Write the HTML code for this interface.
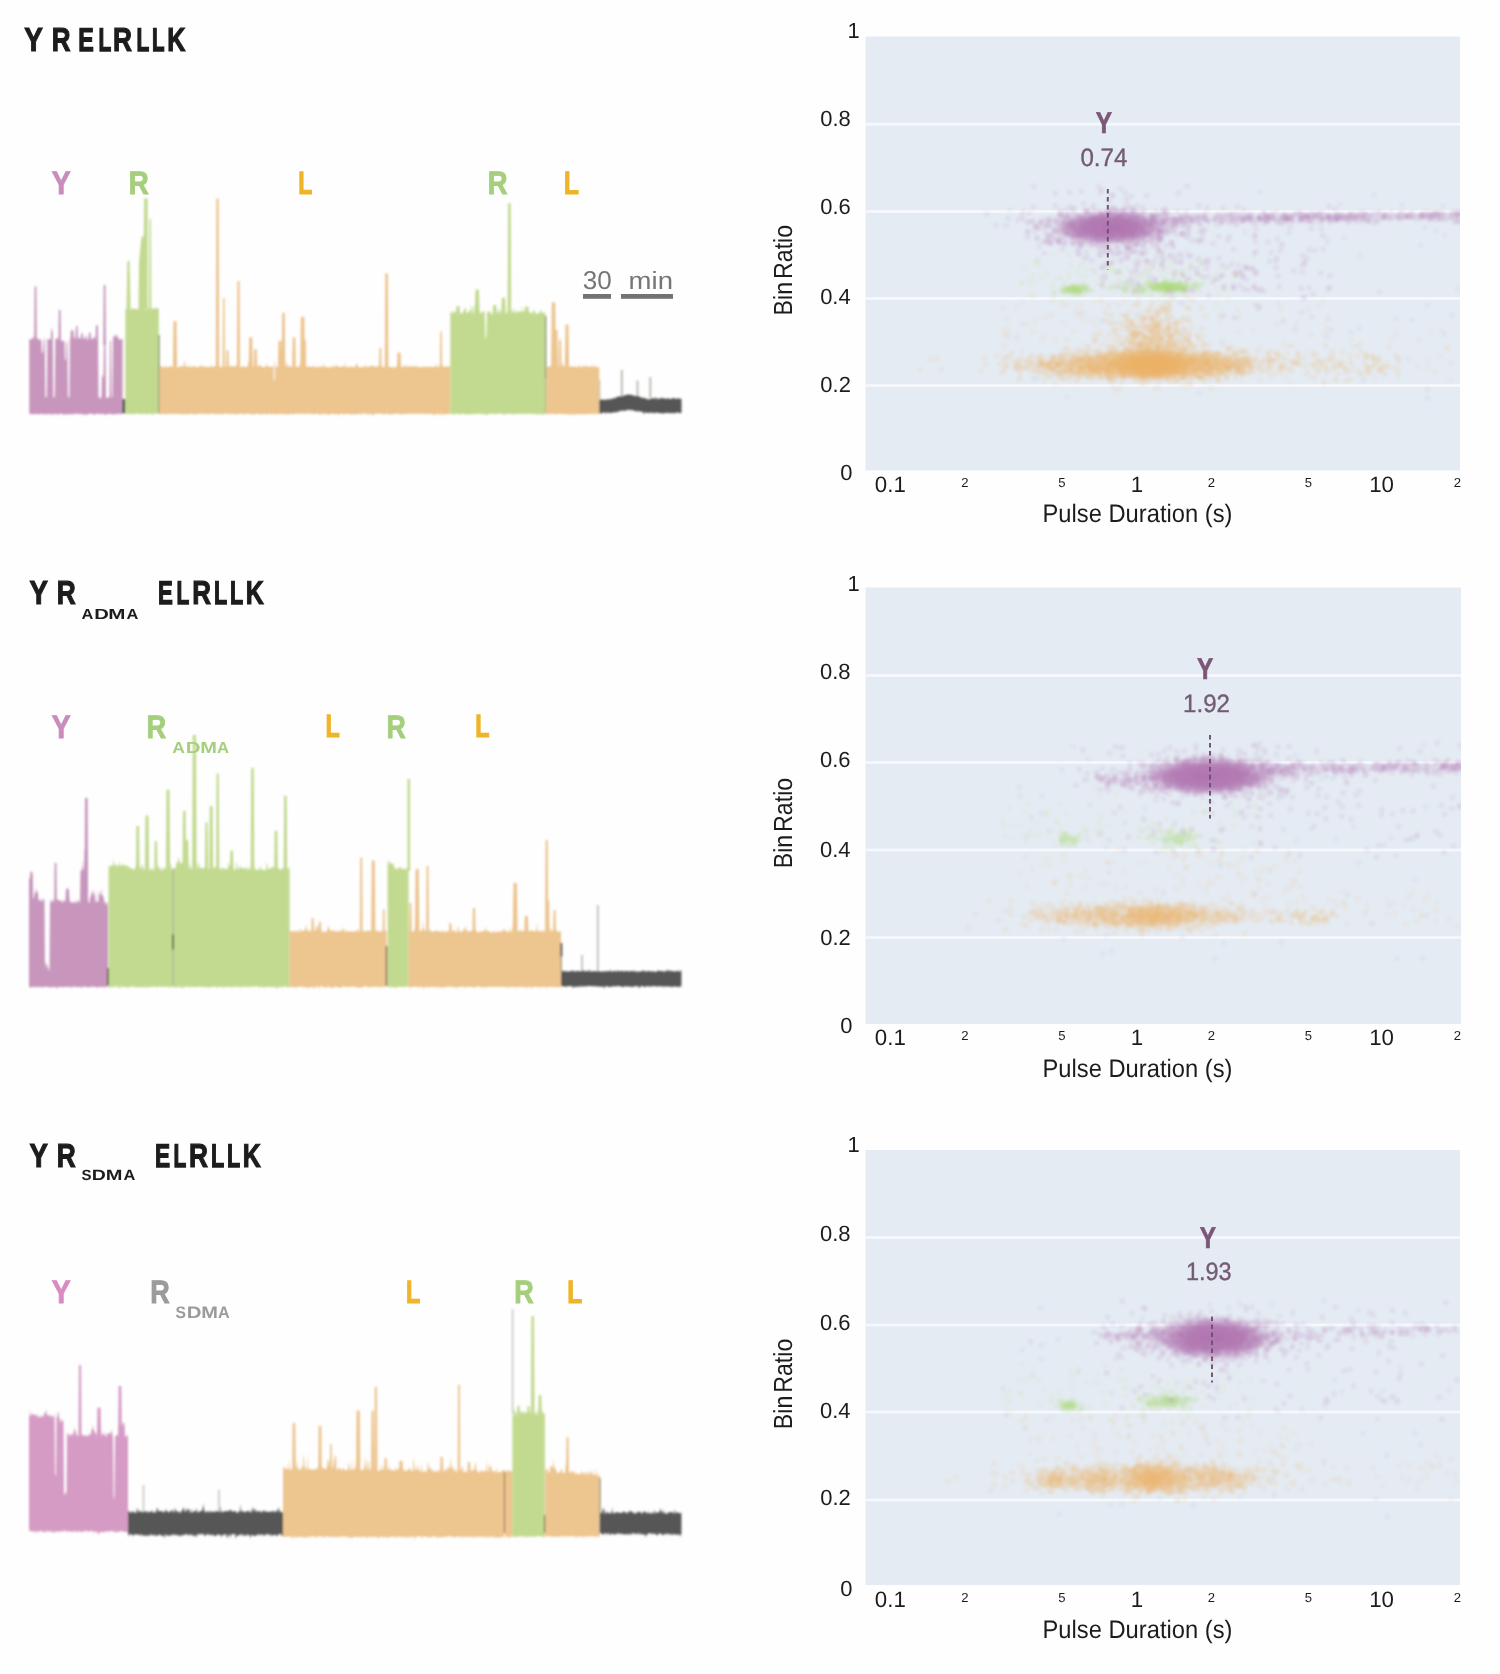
<!DOCTYPE html>
<html lang="en"><head><meta charset="utf-8"><title>Figure</title>
<style>html,body{margin:0;padding:0;background:#fefefe;}body{width:1500px;height:1674px;overflow:hidden;font-family:"Liberation Sans",sans-serif;}svg{display:block}svg text{opacity:.999}</style>
</head><body>
<svg width="1500" height="1674" viewBox="0 0 1500 1674" text-rendering="geometricPrecision" font-family="'Liberation Sans', sans-serif">
<rect width="1500" height="1674" fill="#fefefe"/>
<defs><filter id="blur" x="-2%" y="-2%" width="104%" height="104%"><feGaussianBlur stdDeviation="0.8"/></filter><filter id="soft" filterUnits="userSpaceOnUse" x="0" y="0" width="760" height="1674"><feGaussianBlur stdDeviation="0.8"/></filter></defs>
<g id="titles">
<text transform="matrix(0.2793 0 0 0.3332 24.37 51.46)" font-size="100" fill="#1c1c1c" font-weight="700" stroke="#1c1c1c" stroke-width="3.22" stroke-linejoin="miter">Y</text>
<text transform="matrix(0.2599 0 0 0.3321 51.71 51.43)" font-size="100" fill="#1c1c1c" font-weight="700" stroke="#1c1c1c" stroke-width="3.46" stroke-linejoin="miter">R</text>
<text transform="matrix(0.2335 0 0 0.3303 78.29 51.36)" font-size="100" fill="#1c1c1c" font-weight="700" stroke="#1c1c1c" stroke-width="3.85" stroke-linejoin="miter">E</text>
<text transform="matrix(0.2085 0 0 0.3282 98.46 51.29)" font-size="100" fill="#1c1c1c" font-weight="700" stroke="#1c1c1c" stroke-width="4.32" stroke-linejoin="miter">L</text>
<text transform="matrix(0.2631 0 0 0.3323 113.09 51.43)" font-size="100" fill="#1c1c1c" font-weight="700" stroke="#1c1c1c" stroke-width="3.42" stroke-linejoin="miter">R</text>
<text transform="matrix(0.2085 0 0 0.3282 136.46 51.29)" font-size="100" fill="#1c1c1c" font-weight="700" stroke="#1c1c1c" stroke-width="4.32" stroke-linejoin="miter">L</text>
<text transform="matrix(0.2046 0 0 0.3279 152.08 51.28)" font-size="100" fill="#1c1c1c" font-weight="700" stroke="#1c1c1c" stroke-width="4.40" stroke-linejoin="miter">L</text>
<text transform="matrix(0.2523 0 0 0.3316 167.16 51.41)" font-size="100" fill="#1c1c1c" font-weight="700" stroke="#1c1c1c" stroke-width="3.57" stroke-linejoin="miter">K</text>
<text transform="matrix(0.2761 0 0 0.3331 29.58 604.46)" font-size="100" fill="#1c1c1c" font-weight="700" stroke="#1c1c1c" stroke-width="3.26" stroke-linejoin="miter">Y</text>
<text transform="matrix(0.2631 0 0 0.3323 56.69 604.43)" font-size="100" fill="#1c1c1c" font-weight="700" stroke="#1c1c1c" stroke-width="3.42" stroke-linejoin="miter">R</text>
<text transform="matrix(0.2228 0 0 0.3295 157.96 604.33)" font-size="100" fill="#1c1c1c" font-weight="700" stroke="#1c1c1c" stroke-width="4.04" stroke-linejoin="miter">E</text>
<text transform="matrix(0.2085 0 0 0.3282 176.46 604.29)" font-size="100" fill="#1c1c1c" font-weight="700" stroke="#1c1c1c" stroke-width="4.32" stroke-linejoin="miter">L</text>
<text transform="matrix(0.2599 0 0 0.3321 192.31 604.43)" font-size="100" fill="#1c1c1c" font-weight="700" stroke="#1c1c1c" stroke-width="3.46" stroke-linejoin="miter">R</text>
<text transform="matrix(0.2163 0 0 0.3289 214.00 604.32)" font-size="100" fill="#1c1c1c" font-weight="700" stroke="#1c1c1c" stroke-width="4.16" stroke-linejoin="miter">L</text>
<text transform="matrix(0.2163 0 0 0.3289 230.00 604.32)" font-size="100" fill="#1c1c1c" font-weight="700" stroke="#1c1c1c" stroke-width="4.16" stroke-linejoin="miter">L</text>
<text transform="matrix(0.2492 0 0 0.3314 245.78 604.40)" font-size="100" fill="#1c1c1c" font-weight="700" stroke="#1c1c1c" stroke-width="3.61" stroke-linejoin="miter">K</text>
<text transform="matrix(0.1640 0 0 0.1453 81.59 619.00)" font-size="100" fill="#1c1c1c" font-weight="700">A</text>
<text transform="matrix(0.2022 0 0 0.1453 94.25 619.00)" font-size="100" fill="#1c1c1c" font-weight="700">D</text>
<text transform="matrix(0.2059 0 0 0.1453 108.22 619.00)" font-size="100" fill="#1c1c1c" font-weight="700">M</text>
<text transform="matrix(0.1640 0 0 0.1453 126.59 619.00)" font-size="100" fill="#1c1c1c" font-weight="700">A</text>
<text transform="matrix(0.2761 0 0 0.3331 29.58 1167.46)" font-size="100" fill="#1c1c1c" font-weight="700" stroke="#1c1c1c" stroke-width="3.26" stroke-linejoin="miter">Y</text>
<text transform="matrix(0.2631 0 0 0.3323 56.69 1167.43)" font-size="100" fill="#1c1c1c" font-weight="700" stroke="#1c1c1c" stroke-width="3.42" stroke-linejoin="miter">R</text>
<text transform="matrix(0.2264 0 0 0.3298 154.94 1167.34)" font-size="100" fill="#1c1c1c" font-weight="700" stroke="#1c1c1c" stroke-width="3.98" stroke-linejoin="miter">E</text>
<text transform="matrix(0.2085 0 0 0.3282 173.46 1167.29)" font-size="100" fill="#1c1c1c" font-weight="700" stroke="#1c1c1c" stroke-width="4.32" stroke-linejoin="miter">L</text>
<text transform="matrix(0.2631 0 0 0.3323 189.09 1167.43)" font-size="100" fill="#1c1c1c" font-weight="700" stroke="#1c1c1c" stroke-width="3.42" stroke-linejoin="miter">R</text>
<text transform="matrix(0.2163 0 0 0.3289 211.00 1167.32)" font-size="100" fill="#1c1c1c" font-weight="700" stroke="#1c1c1c" stroke-width="4.16" stroke-linejoin="miter">L</text>
<text transform="matrix(0.2163 0 0 0.3289 227.00 1167.32)" font-size="100" fill="#1c1c1c" font-weight="700" stroke="#1c1c1c" stroke-width="4.16" stroke-linejoin="miter">L</text>
<text transform="matrix(0.2492 0 0 0.3314 242.78 1167.40)" font-size="100" fill="#1c1c1c" font-weight="700" stroke="#1c1c1c" stroke-width="3.61" stroke-linejoin="miter">K</text>
<text transform="matrix(0.1502 0 0 0.1483 81.57 1180.00)" font-size="100" fill="#1c1c1c" font-weight="700">S</text>
<text transform="matrix(0.1957 0 0 0.1483 91.69 1180.00)" font-size="100" fill="#1c1c1c" font-weight="700">D</text>
<text transform="matrix(0.2002 0 0 0.1483 105.66 1180.00)" font-size="100" fill="#1c1c1c" font-weight="700">M</text>
<text transform="matrix(0.1640 0 0 0.1483 123.59 1180.00)" font-size="100" fill="#1c1c1c" font-weight="700">A</text>
</g>
<g id="trace1" filter="url(#soft)">
<path d="M29.2 414.2L29.2 337.9 29.7 339.7 30.2 338.9 30.7 339.3 31.2 339.6 31.7 339.9 32.2 336.7 32.7 338.8 33.2 338.2 33.7 336 34.2 337.6 34.7 340.1 35.2 338.1 35.7 337.6 36.2 338.7 36.7 338.2 37.2 338.1 37.7 338.8 38.2 339.9 38.7 339.3 39.2 340.3 39.7 337.9 40.2 339.5 40.7 340.1 41.3 339.8 41.8 351.9 42.3 353.5 42.8 352.4 43.3 351.1 43.8 339.8 44.3 338 44.8 339.5 45.3 397.1 45.8 397.4 46.3 397.5 46.8 396.4 47.3 337.6 47.8 340.3 48.3 338.6 48.8 338.9 49.3 339.7 49.8 339.9 50.3 339 50.8 339.1 51.3 329.8 51.8 327.3 52.3 331.2 52.8 331.5 53.3 398.3 53.8 397.6 54.3 396.2 54.8 397.6 55.3 338.9 55.8 338.5 56.3 339 56.8 339.2 57.3 337.6 57.8 338 58.3 339.9 58.8 339.8 59.3 338.2 59.8 337.1 60.3 342.5 60.8 342.1 61.3 340.3 61.8 341 62.3 340.5 62.8 340.5 63.3 342 63.8 340.9 64.4 340.1 64.9 360.2 65.4 359.3 65.9 360.4 66.4 341.7 66.9 342.5 67.4 340.4 67.9 396.5 68.4 397.9 68.9 396.6 69.4 398.3 69.9 340.6 70.4 338.6 70.9 329.9 71.4 329.2 71.9 331.7 72.4 329.9 72.9 329.9 73.4 331.1 73.9 338.9 74.4 336.1 74.9 339.8 75.4 339.1 75.9 326.9 76.4 326.5 76.9 325.6 77.4 325.1 77.9 338.7 78.4 337.8 78.9 338.3 79.4 338.4 79.9 336 80.4 338.1 80.9 340.3 81.4 332 81.9 332.9 82.4 333.6 82.9 333.5 83.4 338.9 83.9 338.2 84.4 337.8 84.9 340.1 85.4 336.1 85.9 336.4 86.4 335 86.9 339.9 87.4 340.2 88 337.9 88.5 339.6 89 331.2 89.5 333.2 90 332 90.5 333.2 91 339.1 91.5 337.7 92 340 92.5 340.1 93 338.3 93.5 336.4 94 337.1 94.5 337.8 95 337.6 95.5 340.3 96 324.8 96.5 325.2 97 324.8 97.5 325.6 98 327.1 98.5 396.7 99 396.3 99.5 398.4 100 398.8 100.5 397.7 101 397.2 101.5 398.6 102 373.2 102.5 375.6 103 377.8 103.5 376.9 104 338.2 104.5 338.4 105 337.7 105.5 340.3 106 397.8 106.5 398.7 107 396.9 107.5 396.9 108 398.5 108.5 397 109 397.6 109.5 397.5 110 339 110.5 341.1 111.1 341.2 111.6 396.8 112.1 397.4 112.6 396.5 113.1 333.5 113.6 337.2 114.1 336.7 114.6 336.8 115.1 334.8 115.6 337.1 116.1 337 116.6 333 117.1 335.4 117.6 336.8 118.1 336.9 118.6 339.5 119.1 338.7 119.6 339.5 120.1 338.9 120.6 340.2 121.1 339.1 121.6 339.9 122.1 338.6 122.6 338.9L122.6 414.4 122.1 413.8 121.6 413.6 121.1 413.7 120.6 414.4 120.1 413.5 119.6 414.3 119.1 414.8 118.6 413.4 118.1 413.3 117.6 414.3 117.1 413.5 116.6 414 116.1 414.7 115.6 414 115.1 413.4 114.6 414.5 114.1 414.6 113.6 414.7 113.1 414.4 112.6 414.3 112.1 414.2 111.6 414.5 111.1 413.9 110.5 413.4 110 414.1 109.5 413.8 109 414.6 108.5 413.6 108 414.7 107.5 413.8 107 414.5 106.5 414.3 106 415.1 105.5 413.7 105 414.5 104.5 415.5 104 413.9 103.5 413.8 103 414.2 102.5 413.3 102 413.5 101.5 414.5 101 414.6 100.5 413.8 100 414.5 99.5 413.4 99 414.6 98.5 413.8 98 413.6 97.5 413.9 97 413.6 96.5 413.8 96 413.9 95.5 414.3 95 414.5 94.5 414.2 94 414.4 93.5 415.4 93 414.1 92.5 413.6 92 414 91.5 413.4 91 414.3 90.5 413.6 90 413.8 89.5 413.5 89 414 88.5 414.1 88 414.6 87.4 414.7 86.9 414.2 86.4 414.4 85.9 413.9 85.4 414.2 84.9 416.5 84.4 414.6 83.9 413.8 83.4 414.4 82.9 414.1 82.4 414.2 81.9 414.4 81.4 414.2 80.9 414.3 80.4 413.8 79.9 414.5 79.4 413.7 78.9 413.6 78.4 414.1 77.9 413.9 77.4 414.6 76.9 413.3 76.4 413.8 75.9 414.3 75.4 413.4 74.9 414 74.4 413.5 73.9 414.5 73.4 413.7 72.9 414.1 72.4 414.4 71.9 414.4 71.4 414.2 70.9 413.9 70.4 414.2 69.9 414.3 69.4 414.3 68.9 414.3 68.4 414.5 67.9 413.9 67.4 415.1 66.9 414.2 66.4 413.7 65.9 414.3 65.4 414.5 64.9 414.7 64.4 414.5 63.8 414.1 63.3 414.8 62.8 414.2 62.3 414.3 61.8 413.9 61.3 413.9 60.8 413.3 60.3 413.8 59.8 413.7 59.3 414 58.8 414.7 58.3 414.7 57.8 414.3 57.3 414.4 56.8 413.7 56.3 414.1 55.8 414.5 55.3 414.1 54.8 414.4 54.3 414.3 53.8 414.1 53.3 414.1 52.8 413.6 52.3 414.1 51.8 415.6 51.3 415.4 50.8 413.7 50.3 413.9 49.8 413.5 49.3 414.6 48.8 413.8 48.3 413.9 47.8 413.8 47.3 414.6 46.8 414.3 46.3 414.5 45.8 413.5 45.3 414.6 44.8 414.2 44.3 414.7 43.8 414.3 43.3 414 42.8 414.3 42.3 413.4 41.8 414.1 41.3 413.7 40.7 414.1 40.2 414.6 39.7 414.1 39.2 414.3 38.7 414.5 38.2 413.7 37.7 414.4 37.2 414.5 36.7 413.4 36.2 414.2 35.7 414.6 35.2 414.1 34.7 413.6 34.2 414 33.7 414.3 33.2 413.9 32.7 414 32.2 415.2 31.7 413.9 31.2 414.5 30.7 413.5 30.2 413.8 29.7 414.1 29.2 414.2Z" fill="#c896bd"/>
<path d="M34.2 345L34.6 286.5L36.4 286.5L36.8 345ZM58.4 345L58.8 310L60.6 310L61 345ZM103.3 345L103.7 285L105.5 285L105.9 345Z" fill="#c896bd"/>
<rect x="122.4" y="399" width="3" height="14.3" fill="#4c4a48"/>
<path d="M125.3 413.6L125.3 309.5 125.9 309.3 126.5 309.3 127.1 309 127.7 308.9 128.3 308.9 129 308.6 129.6 309.1 130.2 309.5 130.8 308.7 131.4 309.3 132 308.7 132.6 308.5 133.2 308.8 133.8 308.8 134.4 308.5 135 308.8 135.7 309 136.3 309.4 136.9 309.1 137.5 309.2 138.1 308.5 138.7 309.5 139.3 309.1 139.9 308.7 140.5 308.7 141.1 308.7 141.7 308.5 142.4 309.4 143 308.8 143.6 309.1 144.2 308.3 144.8 309.1 145.4 309.4 146 309.4 146.6 309.5 147.2 308.7 147.8 309 148.4 308.4 149.1 308.8 149.7 307.8 150.3 309.3 150.9 309.4 151.5 307.5 152.1 309 152.7 308.3 153.3 308.1 153.9 309.3 154.5 308.3 155.1 308.6 155.8 308 156.4 308.2 157 308.1 157.6 308 158.2 308 158.8 309.2L158.8 413.9 158.2 413.6 157.6 413.5 157 413.8 156.4 413.5 155.8 413.6 155.1 413.9 154.5 413.4 153.9 414.4 153.3 413.5 152.7 415.5 152.1 413.7 151.5 414.5 150.9 413.8 150.3 413.5 149.7 414 149.1 413.5 148.4 414 147.8 414.3 147.2 414.5 146.6 414.2 146 414 145.4 413.7 144.8 413.6 144.2 413.7 143.6 413.5 143 414.7 142.4 413.9 141.7 414.3 141.1 414.1 140.5 413.7 139.9 413.7 139.3 414.5 138.7 414 138.1 413.5 137.5 413.4 136.9 413.6 136.3 413.4 135.7 414.1 135 414.6 134.4 414 133.8 414.1 133.2 414.4 132.6 413.5 132 414.2 131.4 414 130.8 414.4 130.2 414.5 129.6 414.3 129 413.4 128.3 413.5 127.7 414.1 127.1 413.4 126.5 414.6 125.9 413.9 125.3 413.6Z" fill="#c2da8f"/>
<path d="M126.5 309L127.4 261L129.6 261L130.6 309ZM138.5 309L139 262L141.5 237L143.8 236L144.2 198.5L147.6 198.5L147.8 309ZM149 309L149.4 219L151 219L151.3 309Z" fill="#c2da8f"/>
<rect x="158.3" y="335" width="1.3" height="78.3" fill="#7d8763"/>
<path d="M159.5 414.4L159.5 366.3 160.1 366.5 160.7 365.7 161.3 365.9 161.9 366.3 162.5 367.7 163.1 367.4 163.7 367 164.3 367 164.9 366.8 165.5 365.6 166.1 367.2 166.7 366.6 167.3 367.4 167.9 367.2 168.5 367.2 169.1 366.6 169.7 366.7 170.3 365 170.9 366.1 171.5 367.6 172.1 367 172.7 366.8 173.3 366.5 173.9 366.9 174.5 367.1 175.1 367.4 175.7 367.1 176.3 367.4 176.9 367.5 177.5 367.2 178.1 367.4 178.7 366.7 179.3 367.4 179.9 366 180.5 366.6 181.1 366.4 181.7 365 182.3 365.7 182.9 367.2 183.5 367.5 184.1 360.4 184.7 361.5 185.3 365.8 185.9 366.2 186.5 367 187.1 365.9 187.7 366.4 188.3 367.5 189 363.4 189.6 367 190.2 366.9 190.8 367.6 191.4 366.6 192 366.3 192.6 367.6 193.2 365.9 193.8 366.6 194.4 365.9 195 365.7 195.6 367 196.2 367.1 196.8 367.1 197.4 367.4 198 367.1 198.6 366.3 199.2 366.9 199.8 366.5 200.4 364.5 201 366.4 201.6 365.3 202.2 366.9 202.8 366.4 203.4 367.3 204 366.2 204.6 365.5 205.2 366.4 205.8 367.4 206.4 367.4 207 366.5 207.6 367.5 208.2 366.3 208.8 366.8 209.4 367.3 210 366.2 210.6 367.3 211.2 367.3 211.8 363.5 212.4 367.3 213 366.5 213.6 366.6 214.2 367.5 214.8 365.9 215.4 364.9 216 366.7 216.6 365.4 217.2 367.2 217.8 367.1 218.4 366.4 219 366.9 219.6 366.9 220.2 365.2 220.8 367.5 221.4 367.5 222 367.5 222.6 365.9 223.2 366.2 223.8 367.1 224.4 366.6 225 367 225.6 366.3 226.2 366.7 226.8 366.5 227.4 366.8 228 366.2 228.6 367.5 229.2 365.1 229.8 367 230.4 366 231 366.4 231.6 366.6 232.2 365.3 232.8 366 233.4 367.1 234 367.6 234.6 366 235.2 366.4 235.8 364.5 236.4 366.9 237 363.7 237.6 366.1 238.2 367.2 238.8 366 239.4 366.5 240 367.3 240.6 367.3 241.2 366.6 241.8 366.8 242.4 366.6 243 366.7 243.6 366.8 244.2 366 244.8 366.6 245.4 367.6 246 367.5 246.6 366.3 247.3 366.1 247.9 367.1 248.5 360.5 249.1 361.8 249.7 366.1 250.3 365.9 250.9 365.3 251.5 360.8 252.1 367.5 252.7 365.9 253.3 366.1 253.9 367.1 254.5 364.4 255.1 365.2 255.7 367.3 256.3 365.4 256.9 363.9 257.5 366 258.1 366.9 258.7 366.3 259.3 366.3 259.9 364 260.5 364.4 261.1 366.5 261.7 366 262.3 367.6 262.9 367.2 263.5 367.1 264.1 367.1 264.7 366.7 265.3 367.5 265.9 366 266.5 361.7 267.1 366.7 267.7 366.2 268.3 366.2 268.9 366.4 269.5 367.1 270.1 366.4 270.7 366.6 271.3 366.9 271.9 366.9 272.5 366.7 273.1 366.2 273.7 366.4 274.3 359.2 274.9 366.7 275.5 363.1 276.1 367.3 276.7 366.7 277.3 367.4 277.9 367.2 278.5 366.7 279.1 366.3 279.7 367.1 280.3 367.4 280.9 366.2 281.5 366.2 282.1 367.4 282.7 366.3 283.3 366.4 283.9 365.4 284.5 366 285.1 366.4 285.7 366.9 286.3 361.8 286.9 363.4 287.5 366.2 288.1 367.6 288.7 365.9 289.3 366.4 289.9 366.1 290.5 364.9 291.1 367.6 291.7 367.3 292.3 366.4 292.9 367 293.5 366.3 294.1 367.6 294.7 366 295.3 366.8 295.9 367.2 296.5 366.9 297.1 367 297.7 366.2 298.3 367 298.9 367.5 299.5 364.3 300.1 365.2 300.7 367 301.3 366.4 301.9 366 302.5 367.2 303.1 367.2 303.7 366.3 304.3 365 304.9 366.8 305.6 367.3 306.2 366.5 306.8 366.8 307.4 366.5 308 366.1 308.6 367.2 309.2 367.3 309.8 366.2 310.4 366.6 311 367.3 311.6 366.9 312.2 366.6 312.8 366.8 313.4 366.2 314 365.3 314.6 367.3 315.2 367.6 315.8 366.9 316.4 367 317 367.1 317.6 367.4 318.2 367 318.8 365.9 319.4 367.1 320 366.8 320.6 366.2 321.2 365.9 321.8 367 322.4 366.9 323 367.5 323.6 362.3 324.2 366 324.8 366.8 325.4 366.8 326 366.5 326.6 367.1 327.2 367.4 327.8 367.5 328.4 367.2 329 367.3 329.6 367.4 330.2 367.2 330.8 367.2 331.4 366 332 366.2 332.6 367.1 333.2 366.6 333.8 366.4 334.4 367.2 335 366.2 335.6 364.2 336.2 366.5 336.8 364.9 337.4 365.9 338 367.3 338.6 366.7 339.2 366.2 339.8 366.6 340.4 367.4 341 366.2 341.6 367.3 342.2 366.7 342.8 365.5 343.4 366.6 344 365.9 344.6 366.9 345.2 361.6 345.8 367 346.4 367.2 347 367.2 347.6 367.3 348.2 367.5 348.8 366.3 349.4 367.3 350 366.5 350.6 367.1 351.2 365.8 351.8 367.4 352.4 367 353 366 353.6 367.5 354.2 367.6 354.8 367.3 355.4 364.8 356 366.4 356.6 362.1 357.2 364.3 357.8 366.1 358.4 366.5 359 367.5 359.6 367.2 360.2 367.4 360.8 367.5 361.4 366.6 362 367.3 362.6 366.4 363.3 367.2 363.9 367.1 364.5 366.7 365.1 365.5 365.7 366.7 366.3 365.6 366.9 366.3 367.5 367 368.1 367.4 368.7 367.5 369.3 366.5 369.9 366 370.5 364.8 371.1 365.9 371.7 366 372.3 366.8 372.9 366.1 373.5 365.8 374.1 366.3 374.7 366.3 375.3 366.6 375.9 367 376.5 366.8 377.1 367 377.7 365.1 378.3 365.9 378.9 366.2 379.5 366 380.1 366.3 380.7 367 381.3 367.2 381.9 366.5 382.5 366.2 383.1 367.4 383.7 367.3 384.3 366.8 384.9 365.4 385.5 359.5 386.1 366 386.7 367.2 387.3 367 387.9 366.3 388.5 367.7 389.1 366.3 389.7 366.3 390.3 367.5 390.9 367.4 391.5 367 392.1 366.8 392.7 367.6 393.3 367.6 393.9 367.3 394.5 367.7 395.1 366.4 395.7 367 396.3 367.2 396.9 366.8 397.5 365.9 398.1 366.4 398.7 366.5 399.3 367.2 399.9 366.1 400.5 366.3 401.1 366.1 401.7 367.1 402.3 367.6 402.9 366.5 403.5 366.4 404.1 366.8 404.7 363.5 405.3 366.4 405.9 367.5 406.5 366.4 407.1 365.2 407.7 366.1 408.3 366.8 408.9 366 409.5 367.3 410.1 367.6 410.7 364.7 411.3 367 411.9 366.6 412.5 366 413.1 366 413.7 366.3 414.3 366.6 414.9 365.9 415.5 367 416.1 367.5 416.7 363.4 417.3 367.2 417.9 366.8 418.5 366.9 419.1 367 419.7 367 420.3 367.5 420.9 367.1 421.6 367.3 422.2 366.6 422.8 366.2 423.4 367.1 424 366.9 424.6 366.5 425.2 367.3 425.8 367.6 426.4 366.4 427 366.6 427.6 367.4 428.2 365.7 428.8 366.9 429.4 366.7 430 367.1 430.6 366.1 431.2 366.5 431.8 367.5 432.4 367 433 367.5 433.6 366.6 434.2 366.4 434.8 367.6 435.4 366.4 436 363 436.6 366.3 437.2 366 437.8 366.9 438.4 366.8 439 367.4 439.6 365.2 440.2 366.4 440.8 366 441.4 366.7 442 365.9 442.6 366.3 443.2 366.1 443.8 366.2 444.4 367.1 445 367.1 445.6 367.2 446.2 366.2 446.8 365 447.4 367.6 448 366.4 448.6 366.6 449.2 366.4 449.8 366.1 450.4 366.5L450.4 413.6 449.8 414.1 449.2 414.5 448.6 413.7 448 414 447.4 414.1 446.8 413.8 446.2 414.3 445.6 414.4 445 414.2 444.4 414.5 443.8 413.4 443.2 413.9 442.6 416.1 442 414.3 441.4 413.5 440.8 413.3 440.2 415.4 439.6 414.4 439 413.4 438.4 414.6 437.8 414.6 437.2 413.8 436.6 414.4 436 413.4 435.4 414.5 434.8 414.5 434.2 416 433.6 414.5 433 413.4 432.4 414.5 431.8 413.5 431.2 414.2 430.6 413.9 430 414 429.4 413.7 428.8 414.4 428.2 413.7 427.6 413.5 427 413.5 426.4 414.4 425.8 414.2 425.2 414.2 424.6 414.2 424 413.6 423.4 414.2 422.8 414 422.2 413.5 421.6 414 420.9 414.3 420.3 413.6 419.7 414.2 419.1 413.4 418.5 413.5 417.9 414.6 417.3 413.8 416.7 413.3 416.1 413.9 415.5 414 414.9 413.4 414.3 414.2 413.7 414.1 413.1 413.4 412.5 414.6 411.9 413.6 411.3 413.7 410.7 413.6 410.1 413.7 409.5 413.9 408.9 413.6 408.3 414.5 407.7 414.2 407.1 413.9 406.5 413.5 405.9 414.1 405.3 414.2 404.7 413.8 404.1 414 403.5 414.1 402.9 413.6 402.3 414.2 401.7 414.7 401.1 414.6 400.5 414.3 399.9 413.7 399.3 414.1 398.7 414.6 398.1 413.9 397.5 413.3 396.9 414 396.3 413.5 395.7 413.6 395.1 414.5 394.5 413.6 393.9 414.4 393.3 414.3 392.7 414.3 392.1 414.1 391.5 414.7 390.9 413.8 390.3 414.4 389.7 414.2 389.1 414.5 388.5 414.4 387.9 414.2 387.3 413.4 386.7 413.4 386.1 413.8 385.5 413.9 384.9 414.5 384.3 414.5 383.7 414.4 383.1 414.5 382.5 413.7 381.9 413.6 381.3 413.8 380.7 413.7 380.1 413.8 379.5 413.6 378.9 414.1 378.3 413.3 377.7 413.8 377.1 413.6 376.5 414.6 375.9 413.4 375.3 413.9 374.7 413.4 374.1 414.4 373.5 416 372.9 414.6 372.3 414.4 371.7 415.6 371.1 413.9 370.5 413.9 369.9 413.8 369.3 413.8 368.7 414.1 368.1 414.3 367.5 415.6 366.9 414 366.3 413.8 365.7 413.8 365.1 413.6 364.5 413.4 363.9 413.3 363.3 413.6 362.6 414.7 362 414.1 361.4 413.6 360.8 414.2 360.2 414.1 359.6 413.8 359 414 358.4 413.8 357.8 414.2 357.2 414.2 356.6 414.7 356 414.6 355.4 414.3 354.8 413.5 354.2 414.4 353.6 414.3 353 414.7 352.4 414.3 351.8 414.3 351.2 414.5 350.6 414.5 350 414.2 349.4 413.9 348.8 413.3 348.2 414.6 347.6 414 347 413.9 346.4 413.8 345.8 413.8 345.2 414.4 344.6 413.7 344 414.6 343.4 414.4 342.8 414.1 342.2 413.4 341.6 413.7 341 414.2 340.4 413.9 339.8 413.8 339.2 413.9 338.6 416.1 338 414.5 337.4 413.8 336.8 414.7 336.2 413.8 335.6 414.5 335 413.9 334.4 414.4 333.8 413.4 333.2 413.6 332.6 414.4 332 414.3 331.4 413.9 330.8 413.3 330.2 413.8 329.6 414.2 329 414.7 328.4 415.4 327.8 414.9 327.2 414.6 326.6 413.5 326 414 325.4 413.7 324.8 415 324.2 413.8 323.6 414.3 323 414 322.4 413.6 321.8 413.7 321.2 413.8 320.6 415.4 320 414.3 319.4 415.5 318.8 413.4 318.2 414.4 317.6 413.6 317 413.7 316.4 413.5 315.8 414.3 315.2 414.4 314.6 414.3 314 413.9 313.4 413.8 312.8 413.9 312.2 414.5 311.6 413.9 311 413.7 310.4 414.4 309.8 413.6 309.2 413.8 308.6 413.8 308 414.1 307.4 413.5 306.8 414.4 306.2 413.3 305.6 413.6 304.9 414.4 304.3 413.4 303.7 413.8 303.1 414.5 302.5 413.6 301.9 413.5 301.3 414.1 300.7 414.1 300.1 413.3 299.5 414.2 298.9 414.2 298.3 413.5 297.7 413.9 297.1 414.1 296.5 413.6 295.9 413.5 295.3 413.9 294.7 413.4 294.1 414.3 293.5 415.1 292.9 413.4 292.3 414.2 291.7 414 291.1 413.9 290.5 414.5 289.9 413.3 289.3 414.5 288.7 414 288.1 414.6 287.5 414.4 286.9 414.4 286.3 414.1 285.7 413.9 285.1 414.6 284.5 413.7 283.9 413.9 283.3 414.7 282.7 414.1 282.1 414.4 281.5 414 280.9 413.4 280.3 414.3 279.7 414.2 279.1 413.8 278.5 413.8 277.9 414.4 277.3 414.2 276.7 414 276.1 414 275.5 414.5 274.9 414.6 274.3 413.5 273.7 414.3 273.1 413.5 272.5 414.3 271.9 414.2 271.3 414.1 270.7 414.4 270.1 414 269.5 413.7 268.9 413.3 268.3 414 267.7 414.2 267.1 415.2 266.5 414.4 265.9 413.4 265.3 414 264.7 414 264.1 414 263.5 414.6 262.9 413.7 262.3 413.9 261.7 414.4 261.1 414.1 260.5 414.6 259.9 414.7 259.3 414 258.7 413.6 258.1 413.9 257.5 413.6 256.9 413.5 256.3 413.9 255.7 413.5 255.1 414.7 254.5 414.2 253.9 414.6 253.3 415.1 252.7 413.8 252.1 414.3 251.5 415.2 250.9 413.4 250.3 413.5 249.7 414.2 249.1 414.3 248.5 414.2 247.9 413.4 247.3 413.4 246.6 413.7 246 414.4 245.4 413.5 244.8 413.9 244.2 414.6 243.6 413.5 243 414.7 242.4 414.2 241.8 414.2 241.2 413.6 240.6 413.5 240 413.3 239.4 414.9 238.8 413.7 238.2 413.9 237.6 414.1 237 413.9 236.4 414.6 235.8 414.7 235.2 413.4 234.6 414.5 234 413.8 233.4 413.4 232.8 414.5 232.2 413.8 231.6 413.7 231 414.2 230.4 414.4 229.8 414.3 229.2 413.5 228.6 413.5 228 413.7 227.4 414.3 226.8 413.7 226.2 414.1 225.6 413.5 225 413.5 224.4 413.5 223.8 414.1 223.2 413.8 222.6 414.6 222 414.1 221.4 414.6 220.8 413.8 220.2 414.5 219.6 413.7 219 413.8 218.4 414.4 217.8 413.9 217.2 414.2 216.6 413.9 216 413.7 215.4 414.1 214.8 414.7 214.2 414.2 213.6 413.8 213 413.8 212.4 413.5 211.8 413.7 211.2 413.8 210.6 413.5 210 413.9 209.4 414.4 208.8 413.9 208.2 414 207.6 414 207 414 206.4 415 205.8 413.4 205.2 413.7 204.6 413.9 204 414 203.4 413.6 202.8 414.4 202.2 414 201.6 413.5 201 413.6 200.4 414.7 199.8 413.8 199.2 413.6 198.6 413.6 198 414.3 197.4 413.6 196.8 414.4 196.2 414.5 195.6 414.6 195 413.4 194.4 414.5 193.8 414.2 193.2 414.3 192.6 414 192 414.1 191.4 413.7 190.8 413.8 190.2 414.1 189.6 414.1 189 414.6 188.3 413.8 187.7 414.6 187.1 414.4 186.5 414.5 185.9 414 185.3 414 184.7 414.6 184.1 413.8 183.5 414.5 182.9 414.2 182.3 414.2 181.7 413.8 181.1 413.7 180.5 414.5 179.9 414.5 179.3 414.2 178.7 413.7 178.1 414.1 177.5 413.6 176.9 414 176.3 414 175.7 414.4 175.1 414.5 174.5 413.5 173.9 413.7 173.3 413.6 172.7 414 172.1 413.8 171.5 414.4 170.9 413.8 170.3 413.7 169.7 415.4 169.1 413.6 168.5 413.3 167.9 414.6 167.3 413.4 166.7 414.6 166.1 413.8 165.5 415.4 164.9 414.3 164.3 414 163.7 414 163.1 413.6 162.5 413.6 161.9 414.2 161.3 413.9 160.7 414.7 160.1 414.2 159.5 414.4Z" fill="#edc58f"/>
<rect x="273.6" y="364" width="1.4" height="16.5" fill="#fbf3e6"/>
<path d="M172.9 368L173.5 321L176.5 321L177.1 368ZM215.8 368L216.3 198.5L218.7 198.5L219.2 368ZM222.6 368L223 298L224.6 298L225 368ZM226.1 368L226.5 350L228.5 350L228.9 368ZM236.9 368L237.4 281L239.6 281L240.1 368ZM248.7 368L249.3 337.3L252.3 337.3L252.9 368ZM253.8 368L254.3 349L256.7 349L257.2 368ZM277.9 368L278.5 340.8L281.5 340.8L282.1 368ZM281.7 368L282.2 312.8L284.8 312.8L285.3 368ZM292.2 368L292.7 337.3L295.3 337.3L295.8 368ZM300.2 368L300.9 316.8L304.3 316.8L305 368ZM303.4 368L303.8 339.7L305.8 339.7L306.2 368ZM379 368L379.4 347.8L381.2 347.8L381.6 368ZM384.8 368L385.3 273.2L387.9 273.2L388.4 368ZM396.9 368L397.5 352.5L400.5 352.5L401.1 368ZM439.8 368L440.2 331.5L441.8 331.5L442.2 368Z" fill="#edc58f"/>
<path d="M450.3 413.6L450.3 312.5 450.9 312 451.5 310.7 452.1 314.1 452.7 313.5 453.3 310.1 453.9 312.9 454.5 311.3 455.1 313.7 455.7 311.4 456.3 309.9 456.9 313.3 457.5 308.4 458.1 312.8 458.7 312.4 459.3 311 459.9 314.1 460.5 312.6 461.1 314 461.7 313.9 462.3 312.4 462.9 312.8 463.5 311 464.1 308.8 464.7 310.6 465.3 306.5 465.9 308.3 466.6 314.4 467.2 312.1 467.8 312.9 468.4 311.8 469 311.7 469.6 308.3 470.2 310.6 470.8 313.5 471.4 304.8 472 305.9 472.6 310.6 473.2 314 473.8 313.3 474.4 304.1 475 309.2 475.6 312 476.2 312.9 476.8 311.6 477.4 312.2 478 311.9 478.6 311.9 479.2 310.6 479.8 313.5 480.4 312.2 481 314.3 481.6 312.7 482.2 310.6 482.8 313.1 483.4 310.6 484 311.4 484.6 310.9 485.2 337.7 485.8 338.6 486.4 335.6 487 310.5 487.6 311.4 488.2 313.7 488.8 310.5 489.4 311.4 490 311.3 490.6 313.1 491.2 314.1 491.8 314.4 492.4 314 493 313.6 493.6 310.9 494.2 311.2 494.8 314 495.4 311.7 496 313.6 496.6 313.7 497.2 313 497.9 311.5 498.5 307.9 499.1 314.3 499.7 307.2 500.3 312 500.9 314.3 501.5 310.6 502.1 312.9 502.7 313.4 503.3 312.6 503.9 308.1 504.5 304.4 505.1 310.4 505.7 313.9 506.3 313.9 506.9 313.1 507.5 311 508.1 309.9 508.7 313.9 509.3 312.8 509.9 313.9 510.5 311 511.1 313.5 511.7 310.4 512.3 308.7 512.9 312.6 513.5 313.5 514.1 311.3 514.7 307.9 515.3 310.9 515.9 313.9 516.5 312.1 517.1 309.1 517.7 313.9 518.3 311.6 518.9 312.1 519.5 311.1 520.1 311.1 520.7 312.4 521.3 312.6 521.9 304.9 522.5 311.6 523.1 312.3 523.7 310.9 524.3 311.4 524.9 305.8 525.5 314.3 526.1 313.1 526.7 311.7 527.3 312.3 527.9 311.6 528.5 313.5 529.1 312.2 529.8 313.5 530.4 313 531 310.7 531.6 313.6 532.2 314 532.8 312.7 533.4 310.1 534 309.6 534.6 311.1 535.2 311.7 535.8 313.9 536.4 314.2 537 313.6 537.6 314.2 538.2 312.7 538.8 312.7 539.4 313.4 540 310.9 540.6 308.6 541.2 312.9 541.8 311.6 542.4 312 543 314 543.6 311.6 544.2 311.7 544.8 314.4 545.4 312L545.4 414.2 544.8 414.2 544.2 413.9 543.6 413.7 543 415.4 542.4 414.5 541.8 414.4 541.2 414.4 540.6 414.5 540 413.5 539.4 413.5 538.8 414.4 538.2 415.3 537.6 414.5 537 414.2 536.4 414 535.8 414.4 535.2 413.5 534.6 414.1 534 414.3 533.4 413.5 532.8 414.4 532.2 414.1 531.6 413.6 531 414.1 530.4 413.5 529.8 413.6 529.1 413.8 528.5 414 527.9 413.7 527.3 414.6 526.7 414.2 526.1 413.6 525.5 413.8 524.9 413.7 524.3 413.5 523.7 414.4 523.1 413.4 522.5 414.1 521.9 414.1 521.3 414 520.7 414 520.1 414.1 519.5 413.5 518.9 414.3 518.3 413.4 517.7 413.9 517.1 414 516.5 413.6 515.9 414.3 515.3 413.4 514.7 414.5 514.1 414.4 513.5 414.7 512.9 413.8 512.3 414.5 511.7 413.8 511.1 414.1 510.5 414.1 509.9 413.7 509.3 413.4 508.7 414.4 508.1 413.8 507.5 414.1 506.9 413.6 506.3 413.5 505.7 414.2 505.1 414.5 504.5 414.6 503.9 414.5 503.3 413.7 502.7 414.6 502.1 414.1 501.5 413.8 500.9 413.4 500.3 413.6 499.7 413.4 499.1 413.6 498.5 413.5 497.9 414.2 497.2 413.8 496.6 413.5 496 413.7 495.4 414.6 494.8 413.8 494.2 414 493.6 414.2 493 413.7 492.4 413.6 491.8 413.5 491.2 413.6 490.6 413.7 490 413.4 489.4 413.7 488.8 413.8 488.2 414.2 487.6 414.3 487 414.5 486.4 415.5 485.8 414.2 485.2 414.2 484.6 414.4 484 414.6 483.4 413.4 482.8 413.9 482.2 414.4 481.6 414.5 481 413.6 480.4 413.4 479.8 413.4 479.2 414.1 478.6 413.4 478 414.4 477.4 413.5 476.8 414.5 476.2 413.5 475.6 413.7 475 414.1 474.4 414.3 473.8 413.8 473.2 414 472.6 414.2 472 414.5 471.4 414.5 470.8 413.8 470.2 414.5 469.6 414.2 469 413.7 468.4 415.7 467.8 414.2 467.2 414.5 466.6 413.5 465.9 414.4 465.3 413.9 464.7 414.5 464.1 414.6 463.5 413.6 462.9 414 462.3 413.7 461.7 414.4 461.1 413.6 460.5 413.4 459.9 415.8 459.3 413.8 458.7 414.2 458.1 413.7 457.5 413.6 456.9 414 456.3 413.6 455.7 414.1 455.1 414.2 454.5 414.3 453.9 414.5 453.3 414.3 452.7 414.5 452.1 414.6 451.5 413.5 450.9 413.4 450.3 413.6Z" fill="#c2da8f"/>
<path d="M507.6 314L508.1 203.2L510.7 203.2L511.2 314ZM474.7 314L475.5 289.5L478.9 289.5L479.7 314ZM501.3 314L501.9 297.7L505.1 297.7L505.7 314ZM492.6 314L493.2 305L496.2 305L496.8 314ZM455.9 314L456.5 306L459.5 306L460.1 314ZM524.9 314L525.5 306.5L528.5 306.5L529.1 314Z" fill="#c2da8f"/>
<rect x="545" y="316" width="1.3" height="62" fill="#7f8a6c"/>
<rect x="545" y="378" width="1.2" height="35.3" fill="#a3b57c"/>
<path d="M546.3 413.7L546.3 367 546.9 367.3 547.5 367.2 548.1 365.9 548.7 367.6 549.3 364.9 549.9 366.7 550.5 366.8 551.1 365.9 551.7 366.4 552.3 367.2 552.9 367.3 553.5 367 554.1 365.9 554.7 366.2 555.3 367.6 555.9 366.4 556.5 366.8 557.1 366.2 557.7 367.1 558.3 367.5 558.9 366.5 559.5 367.1 560.2 366.4 560.8 365.9 561.4 366.5 562 367.3 562.6 361.5 563.2 365.5 563.8 364.7 564.4 367.2 565 365.9 565.6 366.5 566.2 367.5 566.8 366.2 567.4 366.2 568 367.5 568.6 366.5 569.2 366.8 569.8 366.1 570.4 367.3 571 365.9 571.6 366 572.2 367 572.8 366.5 573.4 366.9 574 366.4 574.6 366 575.2 367.1 575.8 367 576.4 367.6 577 366.6 577.6 366.9 578.2 366.7 578.8 366 579.4 363.8 580 367.4 580.6 367.2 581.2 367 581.8 366.1 582.4 366.1 583 366.4 583.6 367.7 584.2 365.2 584.8 364.8 585.4 366.7 586 366.6 586.7 366.5 587.3 365.5 587.9 366.8 588.5 366 589.1 367.3 589.7 366.5 590.3 367.3 590.9 367.1 591.5 366.5 592.1 363.2 592.7 367.3 593.3 366.4 593.9 367 594.5 365.9 595.1 366.3 595.7 366.7 596.3 367 596.9 366.5 597.5 367.2 598.1 366.5 598.7 367.4 599.3 367.6L599.3 413.8 598.7 414.3 598.1 413.3 597.5 413.9 596.9 414.1 596.3 414.3 595.7 414.1 595.1 413.4 594.5 413.6 593.9 413.9 593.3 414.7 592.7 413.5 592.1 414.2 591.5 413.5 590.9 413.9 590.3 413.9 589.7 414.6 589.1 413.4 588.5 414.3 587.9 414.1 587.3 414.1 586.7 414.5 586 413.5 585.4 414 584.8 414.1 584.2 415.6 583.6 414 583 414.3 582.4 414 581.8 414.5 581.2 414.6 580.6 414.1 580 413.9 579.4 414.3 578.8 414.3 578.2 415.1 577.6 414.3 577 413.3 576.4 414.2 575.8 413.7 575.2 415.5 574.6 414.5 574 414.7 573.4 413.7 572.8 414.5 572.2 415.5 571.6 414.1 571 413.8 570.4 413.4 569.8 414.6 569.2 415.2 568.6 413.7 568 415.8 567.4 414.3 566.8 413.5 566.2 413.8 565.6 414 565 414.7 564.4 414.1 563.8 413.8 563.2 414.6 562.6 413.8 562 414.4 561.4 413.5 560.8 414 560.2 413.5 559.5 414.1 558.9 413.9 558.3 413.8 557.7 414.6 557.1 413.7 556.5 414.1 555.9 414.1 555.3 414.5 554.7 414.6 554.1 413.8 553.5 413.6 552.9 414.2 552.3 413.9 551.7 414 551.1 413.5 550.5 413.5 549.9 414.7 549.3 413.6 548.7 413.6 548.1 414.1 547.5 414.7 546.9 414.5 546.3 413.7Z" fill="#edc58f"/>
<path d="M551 368L551.8 302.3L555.2 302.3L556 368ZM558.5 368L559 339.7L561 339.7L561.5 368ZM564.9 368L565.5 324.5L568.5 324.5L569.1 368ZM555 368L555.5 330L557.5 330L558 368Z" fill="#edc58f"/>
<path d="M620.9 398L620.9 370L622.7 370L622.7 398ZM636.6 398L636.6 380.5L638.4 380.5L638.4 398ZM649.4 398L649.4 377L651.2 377L651.2 398Z" fill="#b9b5ad"/>
<path d="M599.2 413.5L599.2 400.1 599.8 399.7 600.4 399 601 399.6 601.6 399.5 602.2 399.3 602.8 399.9 603.4 399.7 604 399.2 604.6 400 605.2 400 605.8 400 606.4 398.9 607 399.9 607.6 398.8 608.2 399.5 608.8 399.9 609.4 398.8 610 398.9 610.6 399.6 611.2 399.1 611.8 399.3 612.4 398.1 613 398.7 613.6 397.7 614.2 398.9 614.8 397.7 615.4 397.8 616 397.8 616.6 397.3 617.2 396.5 617.8 396.2 618.4 396.9 619 397.1 619.6 396.6 620.2 396 620.8 395.7 621.4 396.5 622 396.6 622.6 396.4 623.2 395.8 623.8 395.4 624.4 395.7 625 395.1 625.6 394.7 626.2 395.3 626.8 394.8 627.4 395 628 394.2 628.6 394.5 629.2 394.6 629.8 394.4 630.4 395.3 631 394.5 631.6 394.9 632.2 394.8 632.8 395.6 633.4 395.5 634 396 634.6 395.7 635.2 395.6 635.8 396.3 636.4 396 637 395.9 637.6 395.8 638.2 396.2 638.8 396.7 639.4 395.8 640 396.9 640.7 397.6 641.3 398 641.9 397.8 642.5 397.4 643.1 397.7 643.7 398.5 644.3 397.6 644.9 398 645.5 398.7 646.1 399 646.7 398.4 647.3 398.4 647.9 399.7 648.5 399.7 649.1 399.5 649.7 398.8 650.3 398.9 650.9 398.8 651.5 398.1 652.1 397.9 652.7 399.2 653.3 397 653.9 399.1 654.5 399.3 655.1 397.1 655.7 398.1 656.3 398.8 656.9 398 657.5 398.4 658.1 399.4 658.7 399.3 659.3 398.5 659.9 397.6 660.5 398.8 661.1 398.2 661.7 398.1 662.3 398 662.9 398.2 663.5 398.2 664.1 398.6 664.7 398.3 665.3 399.3 665.9 398.2 666.5 398.3 667.1 399.1 667.7 398.3 668.3 398.5 668.9 398.6 669.5 398.8 670.1 399 670.7 399.1 671.3 398.9 671.9 398.2 672.5 398.4 673.1 398.1 673.7 398.2 674.3 398.2 674.9 398.1 675.5 399.1 676.1 398.8 676.7 398.4 677.3 399 677.9 398.2 678.5 399 679.1 397.1 679.7 399.3 680.3 399 680.9 398.9 681.5 398.6L681.5 413.2 680.9 412.5 680.3 413.2 679.7 413 679.1 413.3 678.5 412.8 677.9 412.3 677.3 412.5 676.7 412.7 676.1 413 675.5 412.5 674.9 413.4 674.3 413.6 673.7 413.2 673.1 412.5 672.5 413 671.9 413.5 671.3 413.3 670.7 412.7 670.1 413.3 669.5 413.1 668.9 412.7 668.3 413.8 667.7 413 667.1 412.5 666.5 413 665.9 412.7 665.3 412.7 664.7 413.6 664.1 413.7 663.5 412.9 662.9 413.7 662.3 412.7 661.7 413.2 661.1 413.7 660.5 412.7 659.9 413.2 659.3 412.9 658.7 413.2 658.1 413.1 657.5 412.6 656.9 412.5 656.3 412.8 655.7 412.4 655.1 413.3 654.5 413.5 653.9 413.3 653.3 412.5 652.7 412.5 652.1 413.3 651.5 412.9 650.9 412.2 650.3 413.1 649.7 412.2 649.1 413.5 648.5 413.3 647.9 412.5 647.3 412.4 646.7 413.2 646.1 413 645.5 412 644.9 412.4 644.3 413.1 643.7 414.4 643.1 412.7 642.5 411.5 641.9 412 641.3 411.4 640.7 411.7 640 411.2 639.4 411.4 638.8 411.2 638.2 411.3 637.6 410.6 637 412.8 636.4 411.1 635.8 411.2 635.2 411.1 634.6 410.8 634 410.4 633.4 410.9 632.8 409.8 632.2 410.8 631.6 409.7 631 409.6 630.4 410.7 629.8 410.4 629.2 409.5 628.6 409.5 628 410.2 627.4 409.5 626.8 410.5 626.2 410.7 625.6 410.7 625 410.1 624.4 410.8 623.8 411.1 623.2 411.1 622.6 410.2 622 410.3 621.4 411.4 620.8 410.5 620.2 410.5 619.6 411.9 619 411 618.4 411.4 617.8 412.3 617.2 411.4 616.6 412.4 616 412.5 615.4 412.2 614.8 412.2 614.2 411.8 613.6 412.9 613 412.6 612.4 412.5 611.8 413.2 611.2 412.3 610.6 412.9 610 412.9 609.4 413.5 608.8 412.7 608.2 412.5 607.6 412.3 607 412.2 606.4 413.3 605.8 413.4 605.2 413.6 604.6 412.3 604 412.4 603.4 412.3 602.8 412.4 602.2 413.2 601.6 413.7 601 413.4 600.4 413.1 599.8 413.4 599.2 413.5Z" fill="#575757"/>
<rect x="599.2" y="380" width="1.2" height="20" fill="#cdc2ae"/>
</g>
<g id="labels1">
<text transform="matrix(0.2824 0 0 0.3239 51.72 194.04)" font-size="100" fill="#c98cbc" font-weight="700" stroke="#c98cbc" stroke-width="2.83" stroke-linejoin="miter">Y</text>
<text transform="matrix(0.2773 0 0 0.3236 128.75 194.03)" font-size="100" fill="#a5cf7c" font-weight="700" stroke="#a5cf7c" stroke-width="2.89" stroke-linejoin="miter">R</text>
<text transform="matrix(0.2299 0 0 0.3210 298.26 193.94)" font-size="100" fill="#f0b428" font-weight="700" stroke="#f0b428" stroke-width="3.48" stroke-linejoin="miter">L</text>
<text transform="matrix(0.2741 0 0 0.3235 487.87 194.03)" font-size="100" fill="#a5cf7c" font-weight="700" stroke="#a5cf7c" stroke-width="2.92" stroke-linejoin="miter">R</text>
<text transform="matrix(0.2494 0 0 0.3222 563.83 193.98)" font-size="100" fill="#f0b428" font-weight="700" stroke="#f0b428" stroke-width="3.21" stroke-linejoin="miter">L</text>
<text transform="matrix(0.2608 0 0 0.2579 582.81 289.20)" font-size="100" fill="#767676">30</text>
<text transform="matrix(0.2757 0 0 0.2484 628.57 289.00)" font-size="100" fill="#767676">min</text>
<rect x="583" y="294" width="28" height="4.8" fill="#737373"/>
<rect x="621" y="294" width="52" height="4.8" fill="#737373"/>
</g>
<g id="trace2" filter="url(#soft)">
<path d="M29 987L29 877.5 29.5 879.5 30 877.7 30.5 869.8 31 873.1 31.5 875.9 32 875.9 32.5 870.7 33 897.7 33.5 899.3 34 896.9 34.5 892.2 35 895.2 35.5 891.2 36 887.1 36.5 891.7 37 891.7 37.5 891.5 38 893.8 38.5 901.2 39 898.8 39.5 899.4 40 900.8 40.5 901.2 41 901.7 41.5 897.5 42 901.5 42.5 901.8 43 897.8 43.5 900.9 44 897.8 44.5 901.7 45 968 45.5 960.5 46 967.4 46.5 962.1 47 968.3 47.5 963.2 48 968 48.5 968.4 49 971.7 49.5 968.8 50 900.4 50.5 903.2 51 897.8 51.5 900.4 52 902.9 52.5 901.4 53 899.9 53.5 900.5 54 901.1 54.5 903.7 55 894.2 55.5 896 56 900.1 56.5 897.3 57 900.1 57.5 900.3 58 898.8 58.5 900.5 59 899.6 59.5 900.5 60 900.6 60.5 902.1 61 900.2 61.5 899.8 62 901.9 62.5 902.2 63 903.5 63.5 899.5 64 900.3 64.5 900.2 65 902 65.5 901.1 66 888.3 66.5 887.8 67 890.5 67.5 887.5 68 890.5 68.5 887.6 69 889.6 69.5 900.9 70 899.8 70.5 902.7 71 902.7 71.5 903 72 901 72.5 903.4 73 901.3 73.5 903.3 74 902.2 74.5 902 75 899.8 75.5 903.8 76 902.7 76.5 902.7 77 901.4 77.5 899.8 78 899.6 78.5 901.6 79 902.5 79.5 902.2 80 901.7 80.5 870.8 81 870.4 81.5 870.4 82 869 82.5 859.4 83 870.3 83.5 866.4 84 873.3 84.5 851 85 849.1 85.5 852.1 86 851.6 86.5 849.7 87 850.4 87.5 849.4 88 902.2 88.5 900.8 89 903.8 89.5 902.9 90 897.3 90.5 897.1 91 896.5 91.5 891.5 92 892.3 92.5 895.1 93 888.4 93.5 892 94 894.2 94.5 895 95 902.5 95.5 901.6 96 889.5 96.5 902.6 97 900.7 97.5 902.5 98 902.2 98.5 901.2 99 891.1 99.5 892.1 100 894 100.5 896.2 101 895.1 101.5 887.5 102 895.4 102.5 894.5 103 896.6 103.5 896.3 104 900.4 104.5 903.8 105 901.8 105.5 900.9 106 906.2 106.5 902.8 107 904.9 107.5 903 108 900.8L108 987.2 107.5 986.4 107 986.3 106.5 987.4 106 986.3 105.5 987.1 105 987.5 104.5 987.7 104 987.1 103.5 986.2 103 987.6 102.5 986.5 102 987.5 101.5 987.5 101 986.5 100.5 986.8 100 986.8 99.5 986.6 99 987.7 98.5 986.7 98 987.5 97.5 987.7 97 987.7 96.5 987.3 96 986.8 95.5 986.8 95 986.7 94.5 987.4 94 986.3 93.5 986.5 93 987.4 92.5 987.3 92 987.1 91.5 986.3 91 986.4 90.5 986.9 90 987.4 89.5 986.7 89 987.2 88.5 987.5 88 986.9 87.5 987.4 87 987.5 86.5 986.3 86 987.4 85.5 986.5 85 986.8 84.5 987.1 84 986.3 83.5 987.1 83 987.2 82.5 986.6 82 988.5 81.5 987.8 81 986.5 80.5 987.2 80 987.1 79.5 986.6 79 987.2 78.5 987.6 78 986.6 77.5 987.7 77 987 76.5 986.9 76 986.6 75.5 987.3 75 986.4 74.5 986.3 74 986.9 73.5 986.4 73 987.5 72.5 986.9 72 987.7 71.5 986.6 71 987 70.5 987.6 70 987.7 69.5 986.3 69 987.6 68.5 987.4 68 986.3 67.5 986.2 67 987.3 66.5 987.1 66 986.7 65.5 987.2 65 986.9 64.5 986.3 64 987 63.5 987 63 987.7 62.5 987.4 62 986.3 61.5 987.2 61 987.1 60.5 987 60 987.6 59.5 986.4 59 986.5 58.5 986.8 58 987.4 57.5 989.6 57 987.3 56.5 987.8 56 987.1 55.5 987.3 55 987.3 54.5 986.6 54 987.2 53.5 988.3 53 986.3 52.5 986.8 52 987.4 51.5 987.6 51 986.8 50.5 987.4 50 987.7 49.5 987.5 49 987 48.5 986.8 48 987.6 47.5 987.5 47 986.2 46.5 986.5 46 986.8 45.5 986.9 45 987.6 44.5 986.2 44 986.9 43.5 986.9 43 987.4 42.5 987.7 42 986.4 41.5 987.8 41 986.5 40.5 986.4 40 987 39.5 988.1 39 986.5 38.5 987 38 987 37.5 987.7 37 987.3 36.5 986.2 36 986.8 35.5 987.5 35 987.5 34.5 986.6 34 986.6 33.5 987.6 33 986.5 32.5 986.7 32 987.6 31.5 987.4 31 987.6 30.5 987.6 30 987.2 29.5 986.5 29 987Z" fill="#c896bd"/>
<path d="M54.2 905L54.6 863L56.4 863L56.8 905ZM84.5 905L85 798L87.6 798L88.1 905ZM30.3 905L30.7 872L32.3 872L32.7 905Z" fill="#c896bd"/>
<rect x="107" y="968" width="2.2" height="17.5" fill="#55504c"/>
<path d="M108.6 987.4L108.6 866.1 109.2 866.7 109.8 864.6 110.4 865.5 111 866.8 111.6 866.4 112.2 865 112.8 865.1 113.4 858.1 114 864.8 114.6 865.7 115.2 863.2 115.8 864.8 116.4 864.9 117 867.7 117.6 864.9 118.2 865 118.8 866.6 119.4 861.4 120 863.1 120.6 865.9 121.2 866.5 121.8 865.5 122.4 864.7 123 866 123.6 863.5 124.2 865 124.8 864.9 125.4 865.7 126 867.2 126.6 864.7 127.2 866 127.8 865.3 128.4 869.1 129 866.1 129.6 866.8 130.2 868 130.8 869 131.4 868 132 868.5 132.6 869.4 133.2 869.4 133.8 868.4 134.4 869 135 870.3 135.6 864.7 136.2 867.8 136.8 869.6 137.4 868 138 871 138.6 868.2 139.2 861.5 139.8 870.5 140.4 868.6 141 866.1 141.6 868.7 142.2 864.7 142.8 864 143.4 868.8 144 869.5 144.6 870.1 145.2 868.8 145.8 870.1 146.4 868.3 147 869.2 147.6 862.4 148.2 869.7 148.8 870.8 149.4 870.3 150 869.8 150.6 870.4 151.2 866.8 151.8 868.5 152.4 867.9 153 870.8 153.6 870.8 154.2 869.6 154.8 868.8 155.4 869 156 870.9 156.6 869.6 157.2 868.3 157.8 865.7 158.4 865.2 159 868.9 159.6 870.1 160.2 864.4 160.8 870.3 161.4 870.9 162 868 162.6 869.3 163.2 870 163.8 868.6 164.4 866 165 869 165.6 868.5 166.2 868.6 166.8 869.5 167.4 868.4 168 869.8 168.6 868.7 169.2 870.6 169.8 868.6 170.4 863.4 171 864.5 171.6 871 172.2 870.1 172.8 870.2L172.8 987.6 172.2 987.9 171.6 986.2 171 987.1 170.4 987 169.8 986.9 169.2 988.3 168.6 987.6 168 986.3 167.4 987.6 166.8 986.6 166.2 986.8 165.6 986.4 165 986.7 164.4 987.1 163.8 986.5 163.2 987.1 162.6 986.4 162 986.9 161.4 987.1 160.8 987.3 160.2 986.6 159.6 986.6 159 986.2 158.4 986.8 157.8 987.6 157.2 987.3 156.6 987.5 156 986.5 155.4 986.6 154.8 986.9 154.2 986.3 153.6 987.4 153 986.5 152.4 986.6 151.8 987.3 151.2 986.5 150.6 986.7 150 987 149.4 987.7 148.8 987.6 148.2 986.7 147.6 987.3 147 986.7 146.4 987.6 145.8 987.2 145.2 987.7 144.6 986.2 144 987.8 143.4 987.7 142.8 986.7 142.2 987.2 141.6 986.8 141 987.2 140.4 987.9 139.8 986.6 139.2 987.3 138.6 987.1 138 986.7 137.4 987.2 136.8 987.7 136.2 987.6 135.6 987.5 135 986.7 134.4 986.7 133.8 986.3 133.2 986.6 132.6 987 132 986.4 131.4 987.3 130.8 986.2 130.2 987.3 129.6 987.5 129 987.3 128.4 986.9 127.8 987.5 127.2 987.2 126.6 987.6 126 987.4 125.4 987.1 124.8 986.2 124.2 987.6 123.6 986.9 123 986.7 122.4 986.2 121.8 987.8 121.2 987.5 120.6 986.3 120 987.5 119.4 986.1 118.8 990 118.2 987.6 117.6 986.6 117 986.8 116.4 986.1 115.8 986.5 115.2 986.8 114.6 986.1 114 987.5 113.4 987.8 112.8 986.5 112.2 987.6 111.6 987.1 111 987.4 110.4 986.7 109.8 987.5 109.2 987.9 108.6 987.4Z" fill="#c2da8f"/>
<rect x="172.6" y="868" width="1.1" height="118" fill="#8b966f"/>
<rect x="172.1" y="934.5" width="2.8" height="15.1" fill="#555555" rx="1"/>
<path d="M173.9 988.9L173.9 868.2 174.5 869.6 175.1 868 175.7 867.9 176.3 863.2 176.9 862.6 177.5 861.8 178.1 860.4 178.7 855.9 179.3 859.4 179.9 863.5 180.5 863.5 181.1 863.9 181.7 861.7 182.3 862.4 182.9 862.7 183.5 852.9 184.1 859.7 184.7 863.5 185.3 864 186 862.7 186.6 861.3 187.2 862.3 187.8 861.5 188.4 868.2 189 869.3 189.6 867.8 190.2 862.4 190.8 868 191.4 867.6 192 870.4 192.6 869.7 193.2 867.5 193.8 866.3 194.4 869.4 195 868.7 195.6 870.2 196.2 860.3 196.8 866.6 197.4 867.8 198 869.3 198.6 863.5 199.2 861.5 199.8 868.5 200.4 868.5 201 867.9 201.6 867.7 202.2 867.6 202.8 869.2 203.4 867.5 204 868.5 204.6 867.4 205.2 867.8 205.8 868.2 206.4 864.3 207 868.6 207.6 867.4 208.2 869 208.9 869 209.5 869.5 210.1 867.5 210.7 870.3 211.3 868.2 211.9 870.1 212.5 866.1 213.1 868.2 213.7 868 214.3 867.5 214.9 867.7 215.5 867.2 216.1 866.4 216.7 866.2 217.3 868.4 217.9 868.8 218.5 865.9 219.1 870 219.7 868.4 220.3 867.5 220.9 868.5 221.5 870.2 222.1 867.5 222.7 867.8 223.3 868.4 223.9 869.1 224.5 867.4 225.1 870.2 225.7 868.9 226.3 868.5 226.9 868.1 227.5 869.5 228.1 869 228.7 860.9 229.3 864.9 229.9 865.7 230.5 867.8 231.1 870 231.8 868.3 232.4 868.8 233 870 233.6 866.6 234.2 869.7 234.8 870.6 235.4 868.7 236 870 236.6 861.8 237.2 862.6 237.8 870.6 238.4 868.2 239 868 239.6 867.5 240.2 868.4 240.8 865 241.4 867.6 242 868.6 242.6 867.3 243.2 868.9 243.8 869.1 244.4 868.6 245 868 245.6 867.5 246.2 866 246.8 869.3 247.4 870.2 248 869 248.6 868.1 249.2 869.5 249.8 865.4 250.4 870.1 251 870.1 251.6 865 252.2 868.3 252.8 868.9 253.4 868.2 254 862.1 254.6 869.8 255.3 869.2 255.9 869.6 256.5 870.3 257.1 867.7 257.7 870.4 258.3 870 258.9 869.7 259.5 869.3 260.1 867.8 260.7 865.2 261.3 869.4 261.9 869 262.5 870.2 263.1 870 263.7 869.2 264.3 870.4 264.9 870.4 265.5 869.5 266.1 869.6 266.7 862 267.3 864.2 267.9 869.9 268.5 868.8 269.1 869.2 269.7 867.6 270.3 867.8 270.9 868.3 271.5 868 272.1 868.3 272.7 865.3 273.3 867.7 273.9 867.6 274.5 868.1 275.1 867.4 275.7 867.5 276.3 869.2 276.9 864 277.5 869.6 278.2 870.1 278.8 867.6 279.4 869 280 869.9 280.6 869.6 281.2 868.7 281.8 868.3 282.4 869.2 283 868.3 283.6 867.7 284.2 867.9 284.8 870.5 285.4 870 286 868.7 286.6 868 287.2 869.6 287.8 868.7 288.4 868.1 289 868.4 289.6 865.8L289.6 986.9 289 987.2 288.4 986.5 287.8 988.8 287.2 986.7 286.6 986.5 286 987.2 285.4 986.6 284.8 986.2 284.2 986.7 283.6 986.3 283 987 282.4 987.5 281.8 987.7 281.2 986.8 280.6 987.3 280 987.1 279.4 986.6 278.8 987 278.2 987.7 277.5 988.8 276.9 988.7 276.3 987.5 275.7 986.6 275.1 986.9 274.5 987.7 273.9 986.7 273.3 987.8 272.7 987 272.1 986.2 271.5 986.8 270.9 986.9 270.3 987.5 269.7 987.6 269.1 986.5 268.5 987.1 267.9 986.4 267.3 986.7 266.7 987 266.1 987.2 265.5 987.5 264.9 986.9 264.3 987.6 263.7 987.2 263.1 987.7 262.5 987.1 261.9 986.6 261.3 987.5 260.7 987.2 260.1 986.2 259.5 987.1 258.9 987.8 258.3 987.5 257.7 986.4 257.1 986.1 256.5 986.2 255.9 986.4 255.3 986.1 254.6 986.7 254 987.1 253.4 986.2 252.8 986.6 252.2 987.8 251.6 986.5 251 986.3 250.4 986.4 249.8 987.7 249.2 986.6 248.6 987.8 248 986.6 247.4 986.8 246.8 986.9 246.2 987.1 245.6 987 245 986.8 244.4 986.3 243.8 986.3 243.2 987.6 242.6 987.7 242 986.3 241.4 987 240.8 987.1 240.2 987.2 239.6 987.6 239 987.6 238.4 986.2 237.8 987.3 237.2 986.4 236.6 986.8 236 986.9 235.4 987.8 234.8 986.3 234.2 986.4 233.6 987.3 233 986.4 232.4 986.5 231.8 987.7 231.1 987.7 230.5 986.9 229.9 987.1 229.3 986.9 228.7 986.3 228.1 987.4 227.5 987.8 226.9 986.4 226.3 986.1 225.7 987.6 225.1 987.7 224.5 986.5 223.9 987.9 223.3 986.5 222.7 987.7 222.1 987.3 221.5 987.5 220.9 986.2 220.3 986.3 219.7 986.9 219.1 987.4 218.5 986.7 217.9 986.1 217.3 989.8 216.7 986.3 216.1 987.2 215.5 986.9 214.9 987 214.3 986.7 213.7 986.8 213.1 986.4 212.5 986.9 211.9 986.6 211.3 987.1 210.7 987.1 210.1 987.8 209.5 987.7 208.9 987.5 208.2 986.7 207.6 986.7 207 987.4 206.4 987.4 205.8 987.7 205.2 986.4 204.6 987.3 204 986.8 203.4 987.7 202.8 986.9 202.2 986.3 201.6 987.3 201 986.5 200.4 987.1 199.8 986.1 199.2 987.6 198.6 986.6 198 986.9 197.4 986.6 196.8 987.3 196.2 986.9 195.6 987.5 195 986.7 194.4 987.2 193.8 987 193.2 986.2 192.6 987.4 192 987 191.4 986.4 190.8 987.2 190.2 986.4 189.6 987.3 189 987.4 188.4 988.1 187.8 986.4 187.2 986.2 186.6 986.3 186 986.5 185.3 987 184.7 987.8 184.1 986.6 183.5 989.2 182.9 986.4 182.3 987 181.7 986.5 181.1 989.2 180.5 987.8 179.9 986.3 179.3 987.3 178.7 986.2 178.1 987 177.5 986.9 176.9 987.8 176.3 987.8 175.7 987.7 175.1 987.2 174.5 986.9 173.9 988.9Z" fill="#c2da8f"/>
<path d="M135.9 871L136.4 826L139 826L139.5 871ZM144.9 871L145.5 815.5L148.5 815.5L149.1 871ZM154.3 871L154.8 841L157 841L157.5 871ZM165.9 871L166.5 789.8L169.5 789.8L170.1 871ZM182.5 871L183 810.8L185.6 810.8L186.1 871ZM184.1 871L184.8 840L188.2 840L188.9 871ZM192.2 871L192.8 735L196 735L196.6 871ZM204.9 871L205.4 822.5L207.6 822.5L208.1 871ZM209.2 871L209.8 806L212.6 806L213.2 871ZM216.1 871L216.6 773.5L218.8 773.5L219.3 871ZM229.9 871L230.4 850.5L233 850.5L233.5 871ZM250.7 871L251.2 767.7L253.8 767.7L254.3 871ZM274.2 871L274.7 830.7L277.3 830.7L277.8 871ZM283.6 871L284.1 795.7L286.7 795.7L287.2 871Z" fill="#c2da8f"/>
<path d="M289.5 986.7L289.5 930.4 290.1 931.7 290.7 930.8 291.3 931.9 291.9 930.9 292.5 931.1 293.1 930.4 293.7 932.3 294.3 930.8 294.9 931.7 295.5 931.5 296.1 930.6 296.7 930.5 297.3 930.4 297.9 932.5 298.5 932.5 299.1 931.6 299.8 927.4 300.4 929.7 301 931.6 301.6 932.3 302.2 930.6 302.8 930.7 303.4 930.4 304 929.2 304.6 931.3 305.2 929.5 305.8 925.7 306.4 924.7 307 931.4 307.6 931.3 308.2 930.1 308.8 928.8 309.4 932.2 310 930.3 310.6 931.8 311.2 930.2 311.8 932.4 312.4 931 313 932.4 313.6 930.9 314.2 931.7 314.8 930.8 315.4 930.2 316 925.4 316.6 925.1 317.2 931 317.8 924.6 318.4 926.2 319.1 932.3 319.7 930.8 320.3 932.4 320.9 926.5 321.5 931.5 322.1 932.4 322.7 931.4 323.3 931 323.9 932.5 324.5 932 325.1 932.4 325.7 930.8 326.3 931.3 326.9 931.3 327.5 930.6 328.1 924.4 328.7 926.4 329.3 929 329.9 929.1 330.5 931.2 331.1 930.7 331.7 931.9 332.3 929.5 332.9 929.9 333.5 931 334.1 931.7 334.7 930.3 335.3 930.8 335.9 932.4 336.5 930.3 337.1 932.4 337.7 930.4 338.4 931.2 339 932.3 339.6 928.8 340.2 932.1 340.8 930.5 341.4 930.1 342 931.2 342.6 931.3 343.2 927.3 343.8 927.9 344.4 929.9 345 932.6 345.6 932.5 346.2 930.2 346.8 931.1 347.4 931 348 930.2 348.6 932.5 349.2 931.9 349.8 931.4 350.4 931.2 351 930.3 351.6 931.5 352.2 931.2 352.8 932.5 353.4 931.6 354 932.2 354.6 931.1 355.2 930.4 355.8 930.7 356.4 932.2 357 930.4 357.7 928 358.3 931.8 358.9 931.7 359.5 931.2 360.1 929.2 360.7 931.8 361.3 931.1 361.9 931.1 362.5 931.3 363.1 931 363.7 932.1 364.3 930.6 364.9 930.5 365.5 930.8 366.1 931.4 366.7 931.4 367.3 931.3 367.9 931 368.5 930.6 369.1 930.2 369.7 930.3 370.3 931.6 370.9 930.9 371.5 931.3 372.1 931 372.7 929.2 373.3 928.6 373.9 926.9 374.5 925.7 375.1 932.3 375.7 930.6 376.3 930.4 377 930.7 377.6 930.1 378.2 932 378.8 932 379.4 930.3 380 932.1 380.6 931.6 381.2 931.5 381.8 931.1 382.4 930.5 383 931.7 383.6 930.4 384.2 930.4 384.8 930.7 385.4 930.4 386 931.3 386.6 930.3L386.6 986.3 386 986.3 385.4 986.3 384.8 987.5 384.2 986.7 383.6 986.4 383 987 382.4 986.3 381.8 987.7 381.2 987.8 380.6 987.3 380 986.2 379.4 988 378.8 986.8 378.2 986.3 377.6 987 377 986.6 376.3 986.9 375.7 987.7 375.1 986.8 374.5 986.7 373.9 986.5 373.3 986.6 372.7 986.4 372.1 987.3 371.5 987.7 370.9 987 370.3 987.3 369.7 987.3 369.1 986.4 368.5 987.7 367.9 987.6 367.3 987.1 366.7 986.2 366.1 986.6 365.5 986.4 364.9 986.3 364.3 986.6 363.7 987.3 363.1 986.9 362.5 987.4 361.9 987.5 361.3 987.7 360.7 987.4 360.1 987.3 359.5 987.5 358.9 987.7 358.3 987.5 357.7 988.6 357 986.9 356.4 987 355.8 986.4 355.2 986.9 354.6 987.1 354 986.5 353.4 987 352.8 986.5 352.2 987.2 351.6 986.4 351 986.7 350.4 987.7 349.8 986.2 349.2 987 348.6 987 348 987.3 347.4 987.1 346.8 987.1 346.2 986.7 345.6 987.4 345 987 344.4 986.5 343.8 986.6 343.2 986.3 342.6 986.7 342 987.6 341.4 987.2 340.8 987.7 340.2 987.7 339.6 987.8 339 987.2 338.4 987.2 337.7 987.6 337.1 987.6 336.5 987.1 335.9 986.4 335.3 986.4 334.7 986.8 334.1 987.4 333.5 987.4 332.9 986.3 332.3 988.6 331.7 987.8 331.1 988.4 330.5 987.7 329.9 986.7 329.3 987.5 328.7 986.7 328.1 986.3 327.5 986.6 326.9 987.5 326.3 987.5 325.7 987.6 325.1 987.7 324.5 987.7 323.9 986.7 323.3 987.5 322.7 986.3 322.1 986.4 321.5 986.2 320.9 986.9 320.3 986.2 319.7 986.2 319.1 989.2 318.4 987.5 317.8 986.7 317.2 986.9 316.6 986.2 316 986.3 315.4 987.6 314.8 987 314.2 989 313.6 987.8 313 987.2 312.4 987.7 311.8 986.3 311.2 986.6 310.6 987.7 310 987.4 309.4 986.7 308.8 988.8 308.2 987.4 307.6 987.6 307 986.9 306.4 987.7 305.8 987.7 305.2 987.4 304.6 987.1 304 986.7 303.4 986.6 302.8 986.8 302.2 987.7 301.6 986.9 301 986.6 300.4 986.2 299.8 987.1 299.1 986.7 298.5 986.7 297.9 986.2 297.3 986.4 296.7 987.7 296.1 987.7 295.5 987.8 294.9 987.3 294.3 987.6 293.7 986.6 293.1 987.7 292.5 986.9 291.9 986.2 291.3 987.5 290.7 987.7 290.1 987.1 289.5 986.7Z" fill="#edc58f"/>
<path d="M311.2 933L311.6 918L313.6 918L314.1 933ZM318.6 933L319 921.7L321 921.7L321.4 933ZM359.8 933L360.2 857.5L362.2 857.5L362.6 933ZM371.2 933L371.8 860.5L374.8 860.5L375.4 933ZM382.6 933L383 909L384.6 909L385 933Z" fill="#edc58f"/>
<rect x="385.8" y="946" width="1.6" height="40" fill="#6e5c46"/>
<path d="M387.6 987.4L387.6 859.3 388.2 863.7 388.8 859.2 389.4 864.2 390 864.1 390.6 862.1 391.2 863.6 391.8 862.2 392.4 864.1 393 863.9 393.6 864.3 394.2 867.6 394.8 867.6 395.4 868.7 396 868.7 396.6 868.9 397.2 869.6 397.8 868.4 398.4 866.9 399 867.4 399.6 869.1 400.2 867.8 400.8 865.3 401.4 869.2 402 868.4 402.6 868.7 403.2 868.5 403.8 869.9 404.4 867.6 405 869.5 405.6 869.8 406.2 867.5 406.8 869.8 407.4 867.4 408 868.5 408.6 869.6L408.6 987.1 408 987.6 407.4 986.4 406.8 986.1 406.2 986.8 405.6 987 405 987.4 404.4 986.3 403.8 987.7 403.2 987.1 402.6 986.3 402 987.6 401.4 986.2 400.8 987.4 400.2 986.7 399.6 987.3 399 986.7 398.4 986.5 397.8 987 397.2 986.7 396.6 989.7 396 987.5 395.4 986.7 394.8 987.4 394.2 986.7 393.6 987.3 393 987.7 392.4 987.3 391.8 987.5 391.2 987.1 390.6 986.2 390 987.9 389.4 987 388.8 987.8 388.2 986.2 387.6 987.4Z" fill="#c2da8f"/>
<path d="M407.5 871L407.5 779L410.1 779L410.1 871Z" fill="#c2da8f"/>
<path d="M408.5 986.5L408.5 931 409.1 931.2 409.7 928.6 410.3 930.8 410.9 930.2 411.5 931 412.1 931.9 412.7 932.1 413.3 930.8 413.9 932.1 414.5 930.2 415.1 925.7 415.7 925.9 416.3 930.8 416.9 931 417.5 931.7 418.1 931.2 418.7 932.5 419.3 932.1 419.9 930.7 420.5 930.9 421.1 930.3 421.7 929.5 422.3 932.2 422.9 919.2 423.5 927.5 424.1 928.6 424.7 930.2 425.3 930.7 425.9 931 426.5 931.7 427.1 930.9 427.7 932.4 428.3 931.7 428.9 931.5 429.5 930.4 430.1 930.2 430.7 928.8 431.3 931.8 431.9 932 432.5 931.7 433.1 931.7 433.7 931.4 434.3 930.4 434.9 930.9 435.5 931.3 436.1 930.6 436.7 930.2 437.3 931.8 437.9 930.4 438.5 930.7 439.1 931.9 439.7 931.2 440.3 930.7 440.9 932.3 441.5 930.7 442.1 931.8 442.7 932.2 443.3 930.7 443.9 930.9 444.5 931.9 445.1 932.5 445.7 931.4 446.3 931.3 446.9 931.4 447.5 930.4 448.1 931.8 448.7 930.9 449.3 932.1 449.9 930.3 450.5 930.6 451.1 931.1 451.7 930.7 452.3 931.9 452.9 930.7 453.5 930 454.1 928.9 454.7 931.7 455.3 932.5 455.9 930.7 456.5 932.2 457.1 931.8 457.7 925.8 458.3 926.5 458.9 932.1 459.5 930.7 460.1 931 460.7 932 461.3 931.9 461.9 932.4 462.5 928.4 463.1 932.4 463.7 928.4 464.3 929.4 464.9 928.6 465.5 927.6 466.1 925.9 466.7 932 467.3 930.5 467.9 932 468.5 931.2 469.1 930.4 469.7 931.1 470.3 931.1 470.9 931.9 471.5 930.2 472.1 930.4 472.7 931.1 473.3 931.6 473.9 931.9 474.5 930.3 475.1 927.7 475.7 931.2 476.3 931.7 476.9 930.3 477.5 932.2 478.1 932.4 478.7 932.5 479.3 932.3 479.9 931.6 480.5 932.5 481.1 929.1 481.7 932.3 482.3 931.4 482.9 930.9 483.5 931.6 484.1 930.5 484.8 930.8 485.4 926.8 486 928.7 486.6 931.6 487.2 930.9 487.8 931.2 488.4 930.3 489 932.3 489.6 930.9 490.2 932.4 490.8 932.3 491.4 932.3 492 932.4 492.6 932.2 493.2 932.5 493.8 930.2 494.4 930.4 495 932.5 495.6 932.4 496.2 932 496.8 932.2 497.4 932.2 498 930.9 498.6 931.2 499.2 932 499.8 930.6 500.4 932.2 501 932.3 501.6 930.4 502.2 931.3 502.8 931.4 503.4 928.7 504 927.8 504.6 930.4 505.2 931.3 505.8 931.6 506.4 930.7 507 931.1 507.6 932.5 508.2 931.7 508.8 932.4 509.4 927.2 510 930.8 510.6 932.3 511.2 931 511.8 932.1 512.4 926.5 513 926.9 513.6 930.2 514.2 931.1 514.8 931.6 515.4 931.8 516 932.3 516.6 930.8 517.2 932.5 517.8 930.5 518.4 930.9 519 931.7 519.6 930.7 520.2 928.2 520.8 930.7 521.4 930.7 522 931.2 522.6 930.7 523.2 931.6 523.8 930.5 524.4 932.3 525 930.7 525.6 930.8 526.2 932.4 526.8 923.1 527.4 925.2 528 931.4 528.6 930.8 529.2 931.9 529.8 930.3 530.4 930.7 531 931.4 531.6 928.6 532.2 931 532.8 931 533.4 931 534 930.9 534.6 932.1 535.2 931.6 535.8 929.9 536.4 930.5 537 921.8 537.6 931.5 538.2 930.6 538.8 930.7 539.4 931.6 540 930.6 540.6 931.2 541.2 932.5 541.8 929.4 542.4 932.2 543 930.7 543.6 929.2 544.2 931.9 544.8 931.8 545.4 931.8 546 931.2 546.6 931.5 547.2 931.8 547.8 925.1 548.4 926.8 549 930.7 549.6 931.9 550.2 926.6 550.8 931.3 551.4 930.7 552 929.4 552.6 932 553.2 930.6 553.8 930.3 554.4 930.3 555 931.4 555.6 931.7 556.2 929.2 556.8 931.6 557.4 932.4 558 930.4 558.6 931 559.2 932.3 559.8 932 560.4 930.8 561 931.8L561 987.2 560.4 987.4 559.8 986.9 559.2 987.3 558.6 986.4 558 987.4 557.4 987.6 556.8 987.6 556.2 987.2 555.6 986.4 555 987.8 554.4 986.6 553.8 987.5 553.2 987.1 552.6 987.2 552 986.6 551.4 987.2 550.8 986.7 550.2 987.3 549.6 986.5 549 986.6 548.4 986.7 547.8 987.8 547.2 986.7 546.6 988.7 546 987 545.4 987 544.8 986.9 544.2 987 543.6 986.5 543 987.6 542.4 987.2 541.8 987 541.2 986.4 540.6 987.3 540 987.5 539.4 987.5 538.8 986.9 538.2 986.6 537.6 987.7 537 987.1 536.4 986.6 535.8 986.8 535.2 987 534.6 987.1 534 986.8 533.4 987.7 532.8 986.3 532.2 987 531.6 988.5 531 987.8 530.4 987.5 529.8 986.4 529.2 986.8 528.6 986.7 528 987.5 527.4 987.4 526.8 987.2 526.2 987.5 525.6 988.5 525 987.2 524.4 986.3 523.8 987.6 523.2 987 522.6 987.1 522 987 521.4 986.8 520.8 986.9 520.2 986.6 519.6 987.1 519 987.5 518.4 987.2 517.8 987.3 517.2 986.8 516.6 987.6 516 987 515.4 986.4 514.8 987.8 514.2 987.5 513.6 986.8 513 986.6 512.4 987 511.8 986.3 511.2 988.1 510.6 987.2 510 987 509.4 987.2 508.8 986.2 508.2 987.4 507.6 987.7 507 986.6 506.4 988.4 505.8 986.9 505.2 986.4 504.6 986.5 504 986.8 503.4 986.3 502.8 986.6 502.2 987.8 501.6 986.5 501 987.7 500.4 986.3 499.8 986.9 499.2 986.5 498.6 986.4 498 987 497.4 987.1 496.8 986.7 496.2 987 495.6 986.6 495 987 494.4 987.3 493.8 986.7 493.2 986.3 492.6 987 492 986.8 491.4 986.7 490.8 987.2 490.2 987.3 489.6 986.5 489 986.7 488.4 986.8 487.8 986.9 487.2 987.5 486.6 986.3 486 987.6 485.4 987.5 484.8 987.5 484.1 987.5 483.5 987.6 482.9 986.2 482.3 986.8 481.7 987.2 481.1 988.9 480.5 986.7 479.9 987.4 479.3 986.3 478.7 986.5 478.1 986.4 477.5 986.5 476.9 986.3 476.3 986.9 475.7 987.8 475.1 987.6 474.5 987.2 473.9 986.9 473.3 987.6 472.7 987.5 472.1 987.3 471.5 987.1 470.9 986.5 470.3 986.5 469.7 987.4 469.1 986.7 468.5 986.5 467.9 987.6 467.3 986.4 466.7 986.7 466.1 987.2 465.5 987.2 464.9 986.9 464.3 988.8 463.7 986.6 463.1 986.7 462.5 986.7 461.9 986.7 461.3 987.3 460.7 986.3 460.1 986.2 459.5 987.8 458.9 987 458.3 987.2 457.7 987.4 457.1 987.6 456.5 986.4 455.9 989.1 455.3 987.3 454.7 987.5 454.1 986.6 453.5 987.3 452.9 986.2 452.3 987.3 451.7 987.4 451.1 986.8 450.5 986.5 449.9 986.7 449.3 986.3 448.7 987.4 448.1 987.4 447.5 986.8 446.9 986.5 446.3 987 445.7 986.8 445.1 987.2 444.5 986.6 443.9 987.5 443.3 988.9 442.7 986.9 442.1 986.9 441.5 987.7 440.9 986.9 440.3 987.2 439.7 987.5 439.1 987.7 438.5 987.6 437.9 987.6 437.3 986.3 436.7 987.2 436.1 987.1 435.5 986.6 434.9 989.1 434.3 986.4 433.7 986.9 433.1 986.9 432.5 986.8 431.9 986.3 431.3 987.8 430.7 986.3 430.1 987.6 429.5 986.8 428.9 987.1 428.3 988 427.7 986.3 427.1 987.7 426.5 986.6 425.9 987 425.3 987.6 424.7 987.2 424.1 987.5 423.5 989 422.9 986.9 422.3 987.4 421.7 986.3 421.1 987.1 420.5 986.8 419.9 986.9 419.3 987.7 418.7 986.9 418.1 987 417.5 986.7 416.9 986.9 416.3 986.8 415.7 987.4 415.1 986.2 414.5 986.5 413.9 986.5 413.3 986.6 412.7 987.7 412.1 986.8 411.5 987.6 410.9 986.8 410.3 987.6 409.7 987.3 409.1 987 408.5 986.5Z" fill="#edc58f"/>
<path d="M408.9 933L409.4 903L411.4 903L411.8 933ZM415 933L415.6 869L418.8 869L419.4 933ZM426.1 933L426.5 866L428.5 866L428.9 933ZM448.9 933L449.3 923L451.3 923L451.8 933ZM472.4 933L472.9 908L475.1 908L475.6 933ZM512.7 933L513.5 883L516.9 883L517.7 933ZM524.3 933L524.9 916L527.9 916L528.5 933ZM545.1 933L545.6 840L547.8 840L548.3 933ZM546.8 933L547.2 900.6L549.2 900.6L549.7 933ZM553.1 933L553.6 910L555.6 910L556.1 933Z" fill="#edc58f"/>
<path d="M596.9 972L596.9 905L598.7 905L598.7 972ZM581.1 972L581.1 955L582.9 955L582.9 972Z" fill="#c4c0b8"/>
<path d="M561 986.6L561 971.3 561.6 972 562.2 971.7 562.8 970.2 563.4 970.5 564 971.6 564.6 971.2 565.2 971.8 565.8 971.1 566.4 970.5 567 971.8 567.6 971.6 568.2 972 568.8 971.3 569.4 971.5 570 970.6 570.6 971.2 571.2 970.7 571.8 971.7 572.4 970.5 573 970.5 573.6 971 574.2 971 574.8 971.8 575.4 971.3 576 971.3 576.7 970.9 577.3 970.7 577.9 971.3 578.5 970.6 579.1 971.9 579.7 971 580.3 971.4 580.9 970.5 581.5 971 582.1 970.9 582.7 971.6 583.3 970.6 583.9 969.6 584.5 971.3 585.1 971.1 585.7 972 586.3 971.1 586.9 970.8 587.5 970.6 588.1 971.8 588.7 971.7 589.3 969.8 589.9 969.5 590.5 971.7 591.1 971.5 591.7 971.7 592.3 971.5 592.9 971.3 593.5 970.7 594.1 971.6 594.7 971.1 595.3 971.3 595.9 971.2 596.5 971.6 597.1 970.9 597.7 971 598.3 971.6 598.9 971.1 599.5 971 600.1 971.9 600.7 971.4 601.3 972 601.9 970.9 602.5 971.4 603.1 971.3 603.7 971.4 604.3 971.7 604.9 971.2 605.5 971.3 606.1 970.5 606.8 972 607.4 971.2 608 970.8 608.6 971.3 609.2 970.5 609.8 971.9 610.4 969.4 611 971.9 611.6 970.5 612.2 971.7 612.8 971.5 613.4 971.7 614 970.5 614.6 970.7 615.2 970.9 615.8 971.3 616.4 972 617 970.5 617.6 971 618.2 969.8 618.8 971.6 619.4 971 620 971.3 620.6 971.2 621.2 970.6 621.8 971.5 622.4 970.8 623 970.8 623.6 971.7 624.2 970.9 624.8 971.3 625.4 971.3 626 970.7 626.6 970.7 627.2 970.9 627.8 971.8 628.4 971.1 629 970.7 629.6 971.7 630.2 971 630.8 971.6 631.4 970.9 632 970.8 632.6 970.5 633.2 971.2 633.8 971.9 634.4 970.7 635 970.6 635.6 971.7 636.2 972 636.9 970.9 637.5 971.9 638.1 971.5 638.7 971.7 639.3 971.5 639.9 971.7 640.5 970.8 641.1 971.8 641.7 971.2 642.3 971.1 642.9 970.8 643.5 970.5 644.1 970.5 644.7 971.2 645.3 970.9 645.9 971.9 646.5 971.6 647.1 970.8 647.7 971.8 648.3 970.8 648.9 971 649.5 970.8 650.1 971.7 650.7 971.2 651.3 971.5 651.9 971.8 652.5 970.8 653.1 971.2 653.7 971.5 654.3 972 654.9 971.8 655.5 971.2 656.1 972 656.7 972 657.3 970.5 657.9 970.8 658.5 970.5 659.1 970.8 659.7 970.9 660.3 970.9 660.9 971 661.5 971.3 662.1 970.5 662.7 971.3 663.3 971.6 663.9 971.4 664.5 972 665.1 970.6 665.7 971.2 666.4 971.7 667 969.4 667.6 969.8 668.2 971.3 668.8 971.1 669.4 969.4 670 970.9 670.6 971.6 671.2 970.8 671.8 970.5 672.4 970.9 673 971.6 673.6 971.2 674.2 971.5 674.8 971 675.4 971.7 676 971.2 676.6 971.3 677.2 971.2 677.8 969.7 678.4 971.5 679 971.9 679.6 971.4 680.2 969.9 680.8 971.1 681.4 970.7L681.4 986.5 680.8 986.9 680.2 986 679.6 986.5 679 987.5 678.4 986.7 677.8 985.9 677.2 988 676.6 986.2 676 987 675.4 986.9 674.8 985.8 674.2 986.2 673.6 987.2 673 986.5 672.4 987.6 671.8 986.7 671.2 986.8 670.6 986.2 670 987.2 669.4 987 668.8 986.4 668.2 986.2 667.6 986.3 667 986.2 666.4 987.2 665.7 986.6 665.1 986.3 664.5 986.1 663.9 987.2 663.3 987.2 662.7 986.2 662.1 985.9 661.5 986.8 660.9 986.1 660.3 987.2 659.7 986 659.1 986.6 658.5 985.8 657.9 986.7 657.3 986.3 656.7 987.3 656.1 986.3 655.5 986 654.9 986.1 654.3 986.3 653.7 986.2 653.1 986.3 652.5 986.1 651.9 986.5 651.3 986.2 650.7 987.2 650.1 986.2 649.5 985.8 648.9 986.5 648.3 987.2 647.7 985.9 647.1 986 646.5 986.1 645.9 986.9 645.3 986.7 644.7 986.8 644.1 987 643.5 987.1 642.9 986 642.3 985.7 641.7 986.5 641.1 985.9 640.5 986.8 639.9 987.3 639.3 988.8 638.7 986.3 638.1 986 637.5 987.1 636.9 986.7 636.2 986 635.6 985.8 635 986 634.4 986.6 633.8 986.7 633.2 987.2 632.6 987.1 632 986.1 631.4 987.5 630.8 987.2 630.2 986 629.6 986.9 629 986.2 628.4 986.4 627.8 986.6 627.2 986.8 626.6 986.7 626 985.8 625.4 986.6 624.8 986.1 624.2 986.7 623.6 986.9 623 987 622.4 987.2 621.8 987 621.2 986.5 620.6 986.1 620 986.3 619.4 986.3 618.8 986.7 618.2 985.8 617.6 985.7 617 986.4 616.4 985.7 615.8 986.4 615.2 987 614.6 986.1 614 986.2 613.4 986.2 612.8 986.6 612.2 986.6 611.6 986.5 611 987.1 610.4 987 609.8 987 609.2 987.2 608.6 986.4 608 986.2 607.4 986.5 606.8 987 606.1 986 605.5 986.3 604.9 986.2 604.3 989.2 603.7 986.9 603.1 986.8 602.5 986.6 601.9 987.1 601.3 986.6 600.7 986.8 600.1 986.7 599.5 986.4 598.9 986.2 598.3 987.1 597.7 986.9 597.1 986 596.5 985.8 595.9 986.6 595.3 986.7 594.7 985.8 594.1 986.6 593.5 986.2 592.9 986.7 592.3 985.8 591.7 985.7 591.1 986.6 590.5 986 589.9 986.2 589.3 985.8 588.7 985.8 588.1 986.5 587.5 986.1 586.9 985.7 586.3 986.4 585.7 986.9 585.1 986.2 584.5 985.9 583.9 986.4 583.3 986.1 582.7 987.2 582.1 986.2 581.5 986.7 580.9 986 580.3 986.3 579.7 986.3 579.1 988 578.5 986.5 577.9 985.7 577.3 987.2 576.7 987 576 986.8 575.4 987 574.8 986.8 574.2 986.6 573.6 987.3 573 989 572.4 985.8 571.8 987 571.2 986.1 570.6 985.7 570 986 569.4 987 568.8 986 568.2 986 567.6 986 567 986.5 566.4 987 565.8 986.9 565.2 986.3 564.6 986.1 564 986.9 563.4 986.5 562.8 986.3 562.2 985.8 561.6 986.2 561 986.6Z" fill="#575757"/>
<rect x="560.3" y="942.7" width="2" height="14" fill="#555555" rx="1"/>
<rect x="560.6" y="956" width="1.2" height="16" fill="#9a8a70"/>
</g>
<g id="labels2">
<text transform="matrix(0.2824 0 0 0.3239 51.72 737.54)" font-size="100" fill="#c98cbc" font-weight="700" stroke="#c98cbc" stroke-width="2.83" stroke-linejoin="miter">Y</text>
<text transform="matrix(0.2710 0 0 0.3233 146.59 737.52)" font-size="100" fill="#a5cf7c" font-weight="700" stroke="#a5cf7c" stroke-width="2.95" stroke-linejoin="miter">R</text>
<text transform="matrix(0.1744 0 0 0.1599 172.27 752.50)" font-size="100" fill="#a5cf7c" font-weight="700">A</text>
<text transform="matrix(0.2038 0 0 0.1599 185.64 752.50)" font-size="100" fill="#a5cf7c" font-weight="700">D</text>
<text transform="matrix(0.2002 0 0 0.1599 200.16 752.50)" font-size="100" fill="#a5cf7c" font-weight="700">M</text>
<text transform="matrix(0.1669 0 0 0.1599 217.08 752.50)" font-size="100" fill="#a5cf7c" font-weight="700">A</text>
<text transform="matrix(0.2338 0 0 0.3212 325.54 737.45)" font-size="100" fill="#f0b428" font-weight="700" stroke="#f0b428" stroke-width="3.42" stroke-linejoin="miter">L</text>
<text transform="matrix(0.2662 0 0 0.3231 386.42 737.51)" font-size="100" fill="#a5cf7c" font-weight="700" stroke="#a5cf7c" stroke-width="3.00" stroke-linejoin="miter">R</text>
<text transform="matrix(0.2338 0 0 0.3212 475.34 737.45)" font-size="100" fill="#f0b428" font-weight="700" stroke="#f0b428" stroke-width="3.42" stroke-linejoin="miter">L</text>
</g>
<g id="trace3" filter="url(#soft)">
<path d="M29 1530.5L29 1414.8 29.5 1416.5 30 1408.6 30.5 1417.1 31 1416.1 31.5 1414.3 32 1414.1 32.5 1414.1 33 1413.2 33.5 1414.8 34 1414.4 34.5 1414.4 35 1414.7 35.5 1417.7 36 1414.8 36.5 1414.7 37 1413.9 37.5 1415.5 38 1416.4 38.5 1417.4 39 1417 39.5 1417.7 40 1417 40.5 1416.3 41 1414.7 41.5 1417.2 42 1417.6 42.5 1415.7 43 1415.9 43.5 1417.8 44 1413.4 44.5 1412.8 45 1412 45.5 1412.2 46 1415 46.5 1407.3 47 1414.9 47.5 1415.5 48 1415.5 48.5 1415.7 49 1414.5 49.5 1417 50 1413.5 50.5 1414.9 51 1415.7 51.5 1417.7 52 1417.4 52.5 1415.6 53 1417.4 53.5 1414.5 54 1417 54.5 1412.7 55 1471.8 55.5 1476.3 56 1475 56.5 1417.5 57 1416.9 57.5 1415.1 58 1412.2 58.5 1411.2 59 1417.3 59.5 1417.4 60 1421.3 60.5 1422.8 61 1421.7 61.5 1418.6 62 1419.9 62.5 1419.8 63 1422.1 63.5 1421.8 64 1493.2 64.5 1495 65 1494.5 65.5 1491.8 66 1492.2 66.5 1494.1 67 1435.7 67.5 1430.9 68 1434.3 68.5 1435.1 69 1433.8 69.5 1436.3 70 1436.5 70.5 1433.8 71 1434 71.5 1434.4 72 1434.7 72.5 1435.2 73 1430.5 73.5 1437 74 1430.6 74.5 1426.6 75 1430.9 75.5 1431.4 76 1429.9 76.5 1435.6 77 1434 77.5 1437.3 78 1434.9 78.5 1436.4 79 1434 79.5 1436.5 80 1433.4 80.5 1436.1 81 1435.6 81.5 1435.2 82 1433.9 82.5 1434.6 83 1436.7 83.5 1435.4 84 1435.1 84.5 1436 85 1434 85.5 1435.5 86 1436.9 86.5 1436 87 1436.1 87.5 1436.3 88 1434.6 88.5 1435.1 89 1436.7 89.5 1431.3 90 1434.9 90.5 1435.1 91 1433.8 91.5 1428.8 92 1430.4 92.5 1428.1 93 1424.1 93.5 1428.9 94 1430.2 94.5 1431.2 95 1434.7 95.5 1431.5 96 1432.2 96.5 1434.7 97 1437.1 97.5 1435.3 98 1430.6 98.5 1427.8 99 1428.6 99.5 1433.9 100 1437.1 100.5 1427 101 1428.4 101.5 1436.3 102 1433.8 102.5 1434.1 103 1435.4 103.5 1435.1 104 1430.4 104.5 1434 105 1434.4 105.5 1435.7 106 1436.6 106.5 1437.1 107 1433.8 107.5 1431.5 108 1433.9 108.5 1433.4 109 1434.2 109.5 1433.5 110 1434.1 110.5 1432.2 111 1432.3 111.5 1429.4 112 1431.5 112.5 1436.2 113 1435.5 113.5 1496.9 114 1499.2 114.5 1495.6 115 1437.1 115.5 1435.2 116 1436.4 116.5 1434 117 1435.8 117.5 1435 118 1436 118.5 1425.3 119 1423.3 119.5 1425.6 120 1425.2 120.5 1425.5 121 1424.7 121.5 1426.2 122 1426.1 122.5 1421.4 123 1424 123.5 1424.9 124 1422.9 124.5 1421.9 125 1435 125.5 1437.3 126 1436.5 126.5 1436.9 127 1434 127.5 1434.4 128 1436.7L128 1532.8 127.5 1531 127 1532.7 126.5 1531.7 126 1532 125.5 1532.7 125 1531.6 124.5 1531.7 124 1532.6 123.5 1530.5 123 1532.5 122.5 1530.9 122 1531.6 121.5 1530.9 121 1530.8 120.5 1530.9 120 1531.9 119.5 1530.9 119 1532.5 118.5 1532.7 118 1530.7 117.5 1531.8 117 1532.4 116.5 1532 116 1531.9 115.5 1531.5 115 1533.4 114.5 1530.4 114 1532.4 113.5 1532.3 113 1530.4 112.5 1530.9 112 1531.5 111.5 1530.7 111 1530.6 110.5 1531.6 110 1530.7 109.5 1532.5 109 1531.3 108.5 1531.7 108 1531.7 107.5 1530.9 107 1530.8 106.5 1531.4 106 1532.5 105.5 1532.6 105 1531.2 104.5 1531.2 104 1531.7 103.5 1532.6 103 1532.6 102.5 1532.7 102 1531.7 101.5 1531.5 101 1532.4 100.5 1531.3 100 1532.7 99.5 1532.5 99 1535.2 98.5 1532.8 98 1534.6 97.5 1532.3 97 1532.6 96.5 1532.5 96 1531.2 95.5 1531.3 95 1530.7 94.5 1532.1 94 1532.5 93.5 1532.7 93 1532.2 92.5 1530.8 92 1530.3 91.5 1531 91 1531.2 90.5 1531 90 1532.1 89.5 1530.7 89 1532.1 88.5 1530.5 88 1532 87.5 1532 87 1532 86.5 1530.3 86 1530.6 85.5 1530.4 85 1530.7 84.5 1531.9 84 1531.1 83.5 1532.5 83 1531.4 82.5 1532.3 82 1530.2 81.5 1531.6 81 1532.2 80.5 1532.5 80 1531.7 79.5 1531.1 79 1531.4 78.5 1530.6 78 1532.1 77.5 1531.6 77 1532.6 76.5 1532.5 76 1530.8 75.5 1531.9 75 1531.2 74.5 1530.3 74 1530.8 73.5 1532.8 73 1532.6 72.5 1530.3 72 1532.2 71.5 1531.7 71 1532.1 70.5 1530.4 70 1532 69.5 1530.9 69 1532.5 68.5 1530.6 68 1530.7 67.5 1532 67 1532.4 66.5 1530.8 66 1532.4 65.5 1530.2 65 1530.6 64.5 1530.6 64 1530.2 63.5 1531.3 63 1531.8 62.5 1532.1 62 1530.8 61.5 1530.5 61 1532.4 60.5 1530.3 60 1532 59.5 1531.2 59 1532.1 58.5 1532.3 58 1531.7 57.5 1531 57 1530.9 56.5 1531.2 56 1532.3 55.5 1531.4 55 1532.2 54.5 1533.9 54 1531.3 53.5 1531.7 53 1532.5 52.5 1532.3 52 1531.2 51.5 1532 51 1532.3 50.5 1530.8 50 1530.8 49.5 1533.6 49 1530.5 48.5 1531.8 48 1530.6 47.5 1530.6 47 1531.9 46.5 1532.7 46 1532 45.5 1530.2 45 1531.1 44.5 1532.5 44 1532.4 43.5 1532.4 43 1531.3 42.5 1532.1 42 1531.4 41.5 1530.6 41 1530.3 40.5 1531.6 40 1531.5 39.5 1530.8 39 1531.5 38.5 1532.2 38 1532.3 37.5 1530.9 37 1530.2 36.5 1532.6 36 1534.6 35.5 1530.5 35 1531.9 34.5 1530.5 34 1532.2 33.5 1530.8 33 1532.4 32.5 1531.7 32 1530.5 31.5 1532.1 31 1530.5 30.5 1530.4 30 1531.4 29.5 1531.1 29 1530.5Z" fill="#d59bc5"/>
<path d="M78.5 1437L79 1365L81 1365L81.5 1437ZM96.9 1437L97.5 1407.7L100.5 1407.7L101.1 1437ZM118.2 1437L118.7 1386L121.3 1386L121.8 1437Z" fill="#d59bc5"/>
<path d="M142.6 1512L142.6 1485L144.4 1485L144.4 1512ZM218 1512L218 1489.8L219.8 1489.8L219.8 1512Z" fill="#cfcac4"/>
<path d="M128 1533.7L128 1513 128.6 1510.4 129.2 1510.8 129.8 1512.1 130.4 1512.8 131 1513 131.6 1512 132.2 1512.2 132.8 1509.7 133.4 1512.8 134 1511.2 134.6 1512.7 135.2 1512.9 135.8 1513 136.4 1512.3 137 1508.1 137.6 1508.8 138.2 1513 138.8 1510.7 139.4 1512.2 140 1510.5 140.6 1510.4 141.2 1511.7 141.8 1511.5 142.4 1512.9 143 1511.4 143.6 1511.2 144.2 1511.8 144.8 1512.2 145.4 1510.6 146 1511.3 146.6 1511.4 147.2 1513 147.9 1511.1 148.5 1512.8 149.1 1511.9 149.7 1511.2 150.3 1512 150.9 1511.8 151.5 1512.1 152.1 1509.8 152.7 1511.5 153.3 1512.9 153.9 1512.7 154.5 1511.8 155.1 1513.1 155.7 1511.6 156.3 1512.1 156.9 1507.6 157.5 1508.1 158.1 1510.4 158.7 1512.1 159.3 1510.8 159.9 1511.5 160.5 1510.4 161.1 1511.3 161.7 1510.9 162.3 1512.7 162.9 1511.6 163.5 1511.6 164.1 1511.3 164.7 1512.9 165.3 1510.4 165.9 1509.1 166.5 1510.9 167.1 1511.4 167.7 1512.3 168.3 1511 168.9 1511.7 169.5 1512.2 170.1 1512.8 170.7 1510.5 171.3 1510.2 171.9 1510.7 172.5 1509.4 173.1 1512.1 173.7 1512.7 174.3 1511.8 174.9 1507.8 175.5 1509.2 176.1 1511.4 176.7 1510.8 177.3 1512.8 177.9 1511.3 178.5 1511.8 179.1 1511.1 179.7 1512.7 180.3 1512.3 180.9 1513 181.5 1511.5 182.1 1509.7 182.7 1509.9 183.3 1507.4 183.9 1507.6 184.5 1511.8 185.1 1510.7 185.7 1512.7 186.4 1508.9 187 1508.1 187.6 1512.2 188.2 1509.2 188.8 1508.5 189.4 1510.1 190 1512.9 190.6 1512.1 191.2 1508.6 191.8 1513 192.4 1512.8 193 1512.1 193.6 1511.1 194.2 1510.5 194.8 1511.5 195.4 1511.5 196 1511.6 196.6 1507.8 197.2 1511.5 197.8 1512.6 198.4 1511.8 199 1513 199.6 1510.4 200.2 1511.8 200.8 1510.7 201.4 1511.2 202 1510.5 202.6 1509.2 203.2 1503.4 203.8 1507.8 204.4 1511.3 205 1512.9 205.6 1511.6 206.2 1510.5 206.8 1512.6 207.4 1511.3 208 1512.8 208.6 1510.8 209.2 1512.5 209.8 1511.6 210.4 1510 211 1512.9 211.6 1511.2 212.2 1512.2 212.8 1511.3 213.4 1511.9 214 1511.5 214.6 1511.9 215.2 1511.1 215.8 1512.5 216.4 1509.7 217 1511.9 217.6 1511 218.2 1511.3 218.8 1511.4 219.4 1511.9 220 1511.5 220.6 1505.3 221.2 1512 221.8 1512.5 222.4 1512.2 223 1511 223.6 1511.4 224.2 1511.7 224.8 1511.6 225.5 1510.8 226.1 1511.7 226.7 1510.6 227.3 1511.7 227.9 1510.6 228.5 1511 229.1 1511.6 229.7 1509.9 230.3 1509.2 230.9 1510.5 231.5 1510.5 232.1 1511.8 232.7 1512.1 233.3 1511.5 233.9 1511 234.5 1511 235.1 1511.3 235.7 1510.7 236.3 1512.9 236.9 1512.9 237.5 1511.8 238.1 1513 238.7 1511.6 239.3 1510.5 239.9 1512.7 240.5 1503.4 241.1 1512.5 241.7 1511.1 242.3 1510.4 242.9 1511.2 243.5 1511.6 244.1 1512.8 244.7 1511 245.3 1512.5 245.9 1511.2 246.5 1512.4 247.1 1510.5 247.7 1510.9 248.3 1511.1 248.9 1510.7 249.5 1512.8 250.1 1510.4 250.7 1512.6 251.3 1512.8 251.9 1510.4 252.5 1506.7 253.1 1509.2 253.7 1511.3 254.3 1511 254.9 1508.1 255.5 1509.5 256.1 1512.8 256.7 1511.5 257.3 1511.3 257.9 1510.7 258.5 1511 259.1 1511.3 259.7 1511.6 260.3 1511.2 260.9 1512.9 261.5 1510.9 262.1 1511 262.7 1512.9 263.3 1510.5 264 1510.2 264.6 1511.5 265.2 1510.3 265.8 1512.2 266.4 1511.7 267 1511.8 267.6 1511.8 268.2 1511.4 268.8 1512.2 269.4 1511.8 270 1511.9 270.6 1511 271.2 1512 271.8 1512.3 272.4 1510.3 273 1511.2 273.6 1511.2 274.2 1511.5 274.8 1512.4 275.4 1511.7 276 1511.4 276.6 1509.4 277.2 1511.1 277.8 1512.7 278.4 1507.3 279 1508.2 279.6 1511.1 280.2 1513.1 280.8 1510.5 281.4 1513 282 1511.5 282.6 1512.4 283.2 1511.7L283.2 1536.2 282.6 1536.1 282 1535.7 281.4 1535.5 280.8 1533.5 280.2 1533.5 279.6 1533.6 279 1535.4 278.4 1535.1 277.8 1535.7 277.2 1533.9 276.6 1536.2 276 1536.6 275.4 1534.2 274.8 1535.2 274.2 1534.4 273.6 1535.3 273 1534.7 272.4 1535.4 271.8 1536.2 271.2 1536.3 270.6 1534 270 1534.3 269.4 1534.7 268.8 1536.4 268.2 1533.5 267.6 1534.6 267 1533.8 266.4 1533.8 265.8 1536.5 265.2 1533.8 264.6 1535.5 264 1535.1 263.3 1536.3 262.7 1534.5 262.1 1533.9 261.5 1534.2 260.9 1535.8 260.3 1535.3 259.7 1533.4 259.1 1536.3 258.5 1534.6 257.9 1534.3 257.3 1534.5 256.7 1535.5 256.1 1536 255.5 1535.8 254.9 1535.7 254.3 1536 253.7 1535.6 253.1 1534.6 252.5 1536.3 251.9 1536 251.3 1533.9 250.7 1536.2 250.1 1538.8 249.5 1535.1 248.9 1535.3 248.3 1534.4 247.7 1535.5 247.1 1533.4 246.5 1536.4 245.9 1535.5 245.3 1534.6 244.7 1535.9 244.1 1536 243.5 1535.5 242.9 1533.7 242.3 1536 241.7 1533.5 241.1 1536.4 240.5 1533.5 239.9 1534.8 239.3 1535.4 238.7 1534.6 238.1 1535.7 237.5 1536.4 236.9 1535.3 236.3 1536.2 235.7 1539.2 235.1 1533.9 234.5 1533.5 233.9 1534.8 233.3 1534.1 232.7 1534.4 232.1 1533.8 231.5 1534.6 230.9 1535.1 230.3 1538.8 229.7 1533.6 229.1 1536.5 228.5 1534.4 227.9 1535.2 227.3 1538.5 226.7 1537.7 226.1 1534.6 225.5 1533.9 224.8 1534 224.2 1534.9 223.6 1535.8 223 1535 222.4 1534 221.8 1538.2 221.2 1535.1 220.6 1535.2 220 1535.7 219.4 1535.1 218.8 1533.9 218.2 1534.5 217.6 1535.2 217 1533.9 216.4 1535.7 215.8 1536.4 215.2 1535.5 214.6 1535.8 214 1535.9 213.4 1534.8 212.8 1534.8 212.2 1534.2 211.6 1535.6 211 1535.9 210.4 1534 209.8 1535.3 209.2 1534 208.6 1536 208 1533.5 207.4 1534.1 206.8 1534.2 206.2 1535.6 205.6 1534.8 205 1536.1 204.4 1536.3 203.8 1534.4 203.2 1533.8 202.6 1533.6 202 1534.2 201.4 1535 200.8 1534 200.2 1533.5 199.6 1534.9 199 1534.3 198.4 1533.5 197.8 1536.3 197.2 1533.8 196.6 1535 196 1538.1 195.4 1535.8 194.8 1536.4 194.2 1533.9 193.6 1536.3 193 1536.1 192.4 1535.5 191.8 1534.7 191.2 1533.6 190.6 1535.9 190 1533.4 189.4 1535.9 188.8 1533.9 188.2 1535.8 187.6 1534.9 187 1534.2 186.4 1533.8 185.7 1534.6 185.1 1534.2 184.5 1535.2 183.9 1535.8 183.3 1534.1 182.7 1535.1 182.1 1536.3 181.5 1534.3 180.9 1535.7 180.3 1536.6 179.7 1536.3 179.1 1535.5 178.5 1535.1 177.9 1535.8 177.3 1534 176.7 1536.2 176.1 1534.7 175.5 1535.3 174.9 1534.5 174.3 1534.2 173.7 1535.1 173.1 1535.5 172.5 1533.5 171.9 1535.4 171.3 1535.8 170.7 1534.9 170.1 1536.3 169.5 1534.3 168.9 1536.1 168.3 1536.1 167.7 1536.6 167.1 1534.8 166.5 1535.6 165.9 1533.7 165.3 1534.7 164.7 1538.7 164.1 1536.1 163.5 1535.6 162.9 1534.9 162.3 1536.5 161.7 1536 161.1 1535.4 160.5 1534.4 159.9 1535 159.3 1535 158.7 1534.8 158.1 1534.8 157.5 1536.6 156.9 1534.9 156.3 1536.5 155.7 1535.6 155.1 1535.5 154.5 1534 153.9 1536.5 153.3 1534.5 152.7 1535.6 152.1 1535.9 151.5 1533.7 150.9 1534.6 150.3 1536.3 149.7 1534.5 149.1 1535.2 148.5 1535.3 147.9 1536.6 147.2 1536.3 146.6 1535.5 146 1535.2 145.4 1535.1 144.8 1535.8 144.2 1536.5 143.6 1535.9 143 1534.9 142.4 1535.1 141.8 1535.1 141.2 1533.8 140.6 1536.4 140 1535.4 139.4 1534.3 138.8 1534.4 138.2 1534.7 137.6 1534.1 137 1535.2 136.4 1534.8 135.8 1534.3 135.2 1534.1 134.6 1535.1 134 1534 133.4 1536.6 132.8 1535.8 132.2 1534.5 131.6 1534.4 131 1535 130.4 1533.8 129.8 1533.8 129.2 1535.8 128.6 1535.7 128 1533.7Z" fill="#575757"/>
<path d="M283 1536.6L283 1470.3 283.6 1464.5 284.2 1469 284.8 1468.7 285.4 1467.4 286 1467.5 286.6 1470.1 287.2 1469.5 287.8 1468.7 288.4 1468 289 1459 289.6 1469.3 290.2 1470.6 290.8 1469.7 291.4 1469 292 1468.4 292.6 1468.6 293.2 1469.1 293.8 1469.3 294.4 1467.5 295 1470 295.6 1461.7 296.2 1466.9 296.8 1469.1 297.4 1458.8 298 1468 298.6 1469.9 299.2 1468.8 299.8 1470 300.4 1470.2 301 1466.2 301.6 1469.2 302.2 1467.5 302.8 1464.9 303.4 1453.6 304 1458.9 304.6 1470.1 305.2 1465.3 305.8 1467.9 306.4 1470.8 307 1469.3 307.6 1453.4 308.2 1469 308.8 1469.2 309.4 1469.1 310 1469.1 310.6 1468 311.3 1470.6 311.9 1468.4 312.5 1470.3 313.1 1469.8 313.7 1469.8 314.3 1469.6 314.9 1468.2 315.5 1470.1 316.1 1469.3 316.7 1467.5 317.3 1468.4 317.9 1470.4 318.5 1464.6 319.1 1469.3 319.7 1468 320.3 1469 320.9 1460.5 321.5 1468.6 322.1 1467.7 322.7 1468 323.3 1467.8 323.9 1468.1 324.5 1467.7 325.1 1469.9 325.7 1469.4 326.3 1468.4 326.9 1467.5 327.5 1459.6 328.1 1460 328.7 1463.2 329.3 1468.5 329.9 1457.5 330.5 1468.6 331.1 1468.9 331.7 1469.2 332.3 1468.3 332.9 1467.6 333.5 1460 334.1 1461 334.7 1469.2 335.3 1469.6 335.9 1470.8 336.5 1470.7 337.1 1471.3 337.7 1467.5 338.3 1468.5 338.9 1467.9 339.5 1467.7 340.1 1469 340.7 1469.2 341.3 1471.1 341.9 1468.1 342.5 1471.1 343.1 1467.5 343.7 1468 344.3 1469.3 344.9 1469.7 345.5 1470.7 346.1 1469.8 346.7 1470.3 347.3 1470.9 347.9 1469.2 348.5 1461.8 349.1 1464.4 349.7 1469 350.3 1470.5 350.9 1468.8 351.5 1471.5 352.1 1457.6 352.7 1470.6 353.3 1467.7 353.9 1470.5 354.5 1469.7 355.1 1468.6 355.7 1465.4 356.3 1457.9 356.9 1461.1 357.5 1468.9 358.1 1469.4 358.7 1470.9 359.3 1471.5 359.9 1470.1 360.5 1470.1 361.1 1471.6 361.7 1468.6 362.3 1471 362.9 1468.9 363.5 1467.8 364.1 1471.6 364.7 1458.7 365.3 1468.8 365.9 1454.6 366.6 1470.1 367.2 1469.9 367.8 1465.9 368.4 1460.1 369 1462.4 369.6 1470.8 370.2 1469.9 370.8 1469.2 371.4 1468.9 372 1469.8 372.6 1471 373.2 1459.8 373.8 1466.6 374.4 1471.5 375 1470.6 375.6 1467.2 376.2 1466.5 376.8 1464.3 377.4 1471 378 1471.1 378.6 1471.7 379.2 1470 379.8 1470.2 380.4 1470.5 381 1468.7 381.6 1463.6 382.2 1468.6 382.8 1470.2 383.4 1470.6 384 1465.4 384.6 1471.2 385.2 1470.3 385.8 1471.2 386.4 1468.6 387 1469.4 387.6 1470.1 388.2 1469.7 388.8 1468.4 389.4 1464.3 390 1469.6 390.6 1471.3 391.2 1468.6 391.8 1470.4 392.4 1470.5 393 1470.1 393.6 1470.2 394.2 1470.5 394.8 1471.3 395.4 1467 396 1467.4 396.6 1472 397.2 1468.7 397.8 1469.6 398.4 1470.2 399 1466.9 399.6 1469.2 400.2 1466.2 400.8 1464.4 401.4 1467.2 402 1459.8 402.6 1471.3 403.2 1468.8 403.8 1470.8 404.4 1469 405 1472 405.6 1471.2 406.2 1471.4 406.8 1468.7 407.4 1470.2 408 1469.9 408.6 1469.8 409.2 1469 409.8 1465.9 410.4 1471.8 411 1467.6 411.6 1471.3 412.2 1470.9 412.8 1472.2 413.4 1459.1 414 1459.2 414.6 1470.5 415.2 1467.6 415.8 1470.9 416.4 1470 417 1468.5 417.6 1463.5 418.2 1468.5 418.8 1470.2 419.4 1470.4 420 1472.2 420.6 1471.1 421.2 1462.4 421.9 1470.9 422.5 1472.4 423.1 1472.1 423.7 1468.9 424.3 1471.3 424.9 1472.2 425.5 1471.3 426.1 1472.5 426.7 1469.5 427.3 1471.5 427.9 1461.8 428.5 1462.9 429.1 1470.1 429.7 1467.2 430.3 1468.6 430.9 1466.5 431.5 1472.1 432.1 1469 432.7 1470 433.3 1471.6 433.9 1471.6 434.5 1472.1 435.1 1472.3 435.7 1469.8 436.3 1471.8 436.9 1471.6 437.5 1472 438.1 1468.3 438.7 1470.6 439.3 1472.4 439.9 1470.5 440.5 1469.5 441.1 1468.9 441.7 1472.3 442.3 1469.2 442.9 1471.1 443.5 1472 444.1 1470.9 444.7 1471.3 445.3 1467.4 445.9 1469.6 446.5 1468.8 447.1 1472.7 447.7 1466 448.3 1469.8 448.9 1466 449.5 1466.9 450.1 1469.6 450.7 1457 451.3 1463.3 451.9 1467.9 452.5 1470.4 453.1 1464.8 453.7 1470.2 454.3 1468.6 454.9 1472.4 455.5 1472 456.1 1469.3 456.7 1469.3 457.3 1471.7 457.9 1472.4 458.5 1461.2 459.1 1450.5 459.7 1469.2 460.3 1469 460.9 1471.5 461.5 1469 462.1 1466.4 462.7 1466.1 463.3 1472.9 463.9 1471.7 464.5 1472.5 465.1 1469.6 465.7 1472.3 466.3 1471.9 466.9 1473 467.5 1470.4 468.1 1470 468.7 1467 469.3 1472.6 469.9 1471.4 470.5 1472.8 471.1 1469.5 471.7 1470.1 472.3 1472.1 472.9 1469.2 473.5 1470.3 474.1 1469.6 474.7 1467.1 475.3 1463.8 475.9 1461.3 476.5 1472.2 477.2 1470.3 477.8 1470.6 478.4 1472.4 479 1472.9 479.6 1473.1 480.2 1469.9 480.8 1469.4 481.4 1471.5 482 1470.2 482.6 1471.2 483.2 1471.7 483.8 1472.2 484.4 1470.5 485 1471 485.6 1469.5 486.2 1471.2 486.8 1459.3 487.4 1468.4 488 1472.8 488.6 1472.1 489.2 1462.5 489.8 1467.7 490.4 1467 491 1465.5 491.6 1469.6 492.2 1472.6 492.8 1470.4 493.4 1470.3 494 1470.9 494.6 1472.2 495.2 1470.8 495.8 1473.3 496.4 1470.7 497 1466.7 497.6 1472.8 498.2 1472.4 498.8 1471.8 499.4 1472 500 1472 500.6 1472.7 501.2 1471.2 501.8 1472.1 502.4 1470.1 503 1470 503.6 1470 504.2 1469.3L504.2 1535.9 503.6 1538.1 503 1537.3 502.4 1537.7 501.8 1536 501.2 1536.3 500.6 1538.2 500 1536.6 499.4 1537.9 498.8 1537.4 498.2 1537.8 497.6 1537.5 497 1538.1 496.4 1537.1 495.8 1536.9 495.2 1537.2 494.6 1537.5 494 1539.2 493.4 1536.3 492.8 1537 492.2 1536.6 491.6 1536.2 491 1536.2 490.4 1536.8 489.8 1539.4 489.2 1536.8 488.6 1536.6 488 1535.9 487.4 1536.7 486.8 1538 486.2 1537.9 485.6 1536.4 485 1536.4 484.4 1537 483.8 1537.4 483.2 1536.9 482.6 1536.7 482 1535.8 481.4 1537.1 480.8 1537.9 480.2 1536.2 479.6 1536.9 479 1537.9 478.4 1536.1 477.8 1537.2 477.2 1536.1 476.5 1536.4 475.9 1538.2 475.3 1537.8 474.7 1536.4 474.1 1536.9 473.5 1538 472.9 1536.2 472.3 1536.7 471.7 1538.2 471.1 1536.3 470.5 1536.4 469.9 1537.1 469.3 1536.7 468.7 1537.2 468.1 1536.1 467.5 1537.3 466.9 1537.1 466.3 1536.4 465.7 1537.1 465.1 1537.4 464.5 1536.5 463.9 1538.1 463.3 1535.8 462.7 1537 462.1 1536.6 461.5 1538.9 460.9 1536.2 460.3 1536.2 459.7 1537 459.1 1536.1 458.5 1537.8 457.9 1535.9 457.3 1536.2 456.7 1538.1 456.1 1536.2 455.5 1537.4 454.9 1536 454.3 1537.9 453.7 1538.1 453.1 1536.5 452.5 1535.8 451.9 1536.2 451.3 1537.1 450.7 1536 450.1 1536.9 449.5 1536.1 448.9 1536.7 448.3 1536.1 447.7 1536.6 447.1 1536 446.5 1538 445.9 1536.7 445.3 1536.4 444.7 1537.2 444.1 1536.9 443.5 1537.1 442.9 1537.7 442.3 1536.6 441.7 1537.6 441.1 1537.9 440.5 1536.2 439.9 1537.8 439.3 1537.4 438.7 1537.8 438.1 1535.9 437.5 1536.9 436.9 1537.8 436.3 1538.2 435.7 1536.6 435.1 1536 434.5 1536.1 433.9 1536.3 433.3 1536.8 432.7 1537.8 432.1 1536 431.5 1537 430.9 1537.6 430.3 1537.2 429.7 1537.9 429.1 1537.4 428.5 1536.8 427.9 1537 427.3 1537.5 426.7 1536.5 426.1 1536.4 425.5 1536.6 424.9 1537.2 424.3 1536.5 423.7 1536.3 423.1 1536.1 422.5 1538.1 421.9 1538 421.2 1536.4 420.6 1536.2 420 1536.6 419.4 1536.5 418.8 1536.3 418.2 1535.9 417.6 1535.9 417 1537.3 416.4 1537.3 415.8 1537.1 415.2 1536.8 414.6 1537.4 414 1541.3 413.4 1536.5 412.8 1535.8 412.2 1536.6 411.6 1537.6 411 1536.3 410.4 1536.8 409.8 1538 409.2 1537.5 408.6 1535.8 408 1538.1 407.4 1537 406.8 1537.8 406.2 1538.2 405.6 1536.9 405 1535.9 404.4 1536 403.8 1539.1 403.2 1536.3 402.6 1536.9 402 1536.9 401.4 1537.9 400.8 1537.8 400.2 1535.8 399.6 1536 399 1537.2 398.4 1537.1 397.8 1538.1 397.2 1536.6 396.6 1535.8 396 1537.7 395.4 1537.4 394.8 1537.5 394.2 1536.8 393.6 1536.7 393 1536.2 392.4 1536 391.8 1536.7 391.2 1537 390.6 1537.2 390 1537.3 389.4 1536.7 388.8 1537.5 388.2 1537.6 387.6 1538 387 1537.5 386.4 1538.1 385.8 1536.8 385.2 1536.1 384.6 1538.1 384 1536.5 383.4 1537 382.8 1538.1 382.2 1537.4 381.6 1536.9 381 1537 380.4 1536.1 379.8 1536.3 379.2 1538 378.6 1540.1 378 1537.7 377.4 1536.3 376.8 1538 376.2 1537.3 375.6 1537.3 375 1537 374.4 1536.7 373.8 1536.8 373.2 1537 372.6 1538.7 372 1536 371.4 1536.2 370.8 1536.6 370.2 1538.1 369.6 1536.5 369 1538.1 368.4 1536 367.8 1537.1 367.2 1537.1 366.6 1539.6 365.9 1537.1 365.3 1537.9 364.7 1536.9 364.1 1535.8 363.5 1535.9 362.9 1537.4 362.3 1536.4 361.7 1538 361.1 1537.6 360.5 1537.6 359.9 1535.8 359.3 1537 358.7 1536.6 358.1 1537.8 357.5 1537.7 356.9 1536.9 356.3 1537 355.7 1537.2 355.1 1535.9 354.5 1537 353.9 1537.6 353.3 1537.6 352.7 1537.7 352.1 1537.8 351.5 1537.7 350.9 1537.8 350.3 1537.7 349.7 1535.8 349.1 1540.3 348.5 1535.9 347.9 1537.7 347.3 1536.1 346.7 1537.4 346.1 1537.6 345.5 1537.1 344.9 1536.1 344.3 1536 343.7 1537.5 343.1 1536.4 342.5 1536.6 341.9 1536.6 341.3 1536.9 340.7 1536.2 340.1 1536.2 339.5 1537.8 338.9 1537.3 338.3 1536.6 337.7 1537 337.1 1536.9 336.5 1537.3 335.9 1536.9 335.3 1537.3 334.7 1536.2 334.1 1538 333.5 1536.2 332.9 1537.1 332.3 1536.7 331.7 1537.5 331.1 1536.5 330.5 1537.6 329.9 1536 329.3 1537.3 328.7 1537.7 328.1 1536.2 327.5 1535.9 326.9 1536.3 326.3 1537 325.7 1536.4 325.1 1536.6 324.5 1537.3 323.9 1537.7 323.3 1536.6 322.7 1537.7 322.1 1535.8 321.5 1536.1 320.9 1536.2 320.3 1536.5 319.7 1536.6 319.1 1537 318.5 1536.3 317.9 1536.1 317.3 1537.9 316.7 1537.4 316.1 1536.5 315.5 1537.2 314.9 1537.8 314.3 1536.2 313.7 1535.8 313.1 1536.9 312.5 1536.1 311.9 1535.9 311.3 1537.4 310.6 1536.9 310 1536.3 309.4 1536.5 308.8 1537.8 308.2 1537 307.6 1536.7 307 1537.6 306.4 1537.3 305.8 1538 305.2 1538.2 304.6 1536.2 304 1537.7 303.4 1537.6 302.8 1537.1 302.2 1538.1 301.6 1536.5 301 1537 300.4 1536.2 299.8 1538.2 299.2 1536.7 298.6 1535.9 298 1537.1 297.4 1537.9 296.8 1537.2 296.2 1537.3 295.6 1537.9 295 1537.8 294.4 1535.8 293.8 1536.1 293.2 1537.5 292.6 1539.7 292 1537 291.4 1538 290.8 1535.8 290.2 1536.8 289.6 1536.6 289 1537.4 288.4 1536.8 287.8 1536 287.2 1536 286.6 1536.8 286 1537.9 285.4 1536.6 284.8 1536.1 284.2 1536.9 283.6 1536.6 283 1536.6Z" fill="#edc58f"/>
<path d="M292.2 1472L292.7 1423L295.3 1423L295.8 1472ZM318.2 1472L318.7 1425.7L321.3 1425.7L321.8 1472ZM329.7 1472L330.1 1444L331.7 1444L332.1 1472ZM334.1 1472L334.5 1456L336.1 1456L336.5 1472ZM356 1472L356.6 1410.5L359.8 1410.5L360.4 1472ZM371 1472L371.5 1410.5L373.7 1410.5L374.2 1472ZM374.3 1472L374.8 1386.7L377 1386.7L377.5 1472ZM384.1 1472L384.6 1457.9L386.8 1457.9L387.3 1472ZM398.9 1472L399.5 1460.7L402.5 1460.7L403.1 1472ZM440.1 1472L440.6 1456.7L442.8 1456.7L443.3 1472ZM457.7 1472L458.1 1384.8L459.9 1384.8L460.3 1472ZM467.4 1472L467.9 1462L470.1 1462L470.6 1472Z" fill="#edc58f"/>
<rect x="504" y="1472" width="1.3" height="61" fill="#7b6038"/>
<path d="M505.2 1536.7L505.2 1471.9 505.8 1470.6 506.4 1470.6 507 1470.4 507.6 1470.5 508.2 1471.9 508.9 1471.2 509.5 1468.6 510.1 1471.4 510.7 1471.9 511.3 1470.9 511.9 1470.4 512.5 1472.2L512.5 1537.9 511.9 1537 511.3 1536.3 510.7 1536.2 510.1 1537.5 509.5 1537.7 508.9 1537.6 508.2 1537.3 507.6 1536.1 507 1536.6 506.4 1537.8 505.8 1537.1 505.2 1536.7Z" fill="#edc58f"/>
<rect x="512.1" y="1309" width="1.1" height="105" fill="#b5b2b0"/>
<path d="M512.4 1535.7L512.4 1413.2 513 1416 513.6 1416.1 514.2 1408.1 514.8 1410 515.4 1413.4 516 1411.6 516.6 1415.9 517.2 1415.7 517.8 1415.8 518.4 1413.1 519 1411.5 519.6 1408.2 520.2 1414.4 520.8 1412 521.4 1411.9 522 1411.5 522.6 1411.7 523.2 1411.1 523.8 1415.8 524.4 1410.8 525 1411.4 525.6 1413.9 526.2 1411.2 526.8 1413.6 527.4 1413.3 528 1414.7 528.6 1413.8 529.3 1414.6 529.9 1411.3 530.5 1411.5 531.1 1416.2 531.7 1412.2 532.3 1416.6 532.9 1411.9 533.5 1414.6 534.1 1413.6 534.7 1413.9 535.3 1415 535.9 1413 536.5 1408.7 537.1 1413.4 537.7 1415.1 538.3 1414.6 538.9 1411 539.5 1413.9 540.1 1408.7 540.7 1401.2 541.3 1411.9 541.9 1412.5 542.5 1410.5 543.1 1413.4 543.7 1415.1 544.3 1413.1 544.9 1411.5L544.9 1536.3 544.3 1537.2 543.7 1536.8 543.1 1536.2 542.5 1536.9 541.9 1537.1 541.3 1535.8 540.7 1536.2 540.1 1537.3 539.5 1536 538.9 1535.9 538.3 1536.1 537.7 1535.7 537.1 1536.1 536.5 1536.2 535.9 1537.7 535.3 1537 534.7 1536 534.1 1537.6 533.5 1536.2 532.9 1536.9 532.3 1537 531.7 1535.5 531.1 1537.3 530.5 1537 529.9 1535.4 529.3 1537 528.6 1537.1 528 1537.4 527.4 1537.1 526.8 1535.5 526.2 1537.2 525.6 1537.2 525 1537.6 524.4 1535.6 523.8 1536.6 523.2 1537.7 522.6 1535.5 522 1537.4 521.4 1536 520.8 1537.3 520.2 1535.6 519.6 1535.3 519 1537.3 518.4 1536.9 517.8 1536.3 517.2 1537.6 516.6 1536.4 516 1537.3 515.4 1535.9 514.8 1537.7 514.2 1536.7 513.6 1537.5 513 1535.4 512.4 1535.7Z" fill="#c2da8f"/>
<path d="M530.9 1416L531.4 1316L534 1316L534.5 1416ZM538.2 1416L538.7 1395L541.3 1395L541.8 1416ZM516.9 1416L517.4 1405.8L519.6 1405.8L520.1 1416ZM527 1416L527.5 1406L529.5 1406L530 1416Z" fill="#c2da8f"/>
<rect x="544" y="1515" width="1.4" height="18" fill="#5e5a44"/>
<path d="M545.3 1536.5L545.3 1471.6 545.9 1469.5 546.5 1469 547.1 1467.5 547.7 1471.6 548.3 1471.4 548.9 1472.9 549.5 1472.4 550.1 1466.5 550.8 1466.2 551.4 1466.4 552 1467.7 552.6 1463.8 553.2 1469.5 553.8 1457.3 554.4 1467.9 555 1469.5 555.6 1467.6 556.2 1469.7 556.8 1473.1 557.4 1473.3 558 1473.5 558.6 1471.6 559.2 1473.2 559.8 1472.1 560.4 1470.2 561 1471.5 561.6 1467.4 562.3 1470.3 562.9 1473.4 563.5 1473.1 564.1 1473.7 564.7 1472.5 565.3 1471 565.9 1462.5 566.5 1466.1 567.1 1472 567.7 1470.3 568.3 1471.9 568.9 1471 569.5 1472.9 570.1 1473.4 570.7 1472.8 571.3 1469.4 571.9 1471.1 572.5 1472.3 573.2 1471.4 573.8 1471.6 574.4 1474.7 575 1474 575.6 1471.5 576.2 1473.4 576.8 1474.1 577.4 1472.7 578 1475.5 578.6 1472.9 579.2 1474.1 579.8 1473.4 580.4 1474.6 581 1474.5 581.6 1469.6 582.2 1472.6 582.8 1472.3 583.4 1473.8 584.1 1472.6 584.7 1475.9 585.3 1472.7 585.9 1473.2 586.5 1469.6 587.1 1474.9 587.7 1474.6 588.3 1476.3 588.9 1470.3 589.5 1473.1 590.1 1470.3 590.7 1473.4 591.3 1473.9 591.9 1475 592.5 1468.9 593.1 1474 593.7 1474.1 594.3 1477 595 1473.8 595.6 1474.2 596.2 1468.3 596.8 1475.7 597.4 1475.8 598 1474.3 598.6 1476.3 599.2 1473.6 599.8 1476.6L599.8 1536.3 599.2 1536.5 598.6 1537.3 598 1537 597.4 1536.2 596.8 1535.6 596.2 1536.7 595.6 1537.3 595 1535.9 594.3 1536.4 593.7 1536.4 593.1 1537.6 592.5 1535.9 591.9 1535.9 591.3 1535.5 590.7 1537.5 590.1 1535.5 589.5 1536.8 588.9 1535.8 588.3 1537 587.7 1535.4 587.1 1538.2 586.5 1535.7 585.9 1536.5 585.3 1535.9 584.7 1537.6 584.1 1536.5 583.4 1537.5 582.8 1536.8 582.2 1536.9 581.6 1535.9 581 1536.9 580.4 1537.7 579.8 1535.4 579.2 1536 578.6 1536.4 578 1537.5 577.4 1537.3 576.8 1536 576.2 1537.1 575.6 1537.3 575 1536.2 574.4 1537.1 573.8 1536.2 573.2 1536.5 572.5 1535.4 571.9 1535.7 571.3 1536.8 570.7 1536.4 570.1 1536.3 569.5 1536.7 568.9 1535.4 568.3 1537.1 567.7 1536.6 567.1 1535.7 566.5 1537.4 565.9 1535.3 565.3 1537.1 564.7 1536.1 564.1 1537.5 563.5 1536.7 562.9 1536.1 562.3 1536.2 561.6 1535.4 561 1537.1 560.4 1535.3 559.8 1537 559.2 1536.7 558.6 1537.4 558 1537.5 557.4 1536.8 556.8 1535.4 556.2 1537.7 555.6 1536.8 555 1536.6 554.4 1536.8 553.8 1536.9 553.2 1536.5 552.6 1536.4 552 1537.2 551.4 1536.4 550.8 1536.9 550.1 1535.4 549.5 1536.9 548.9 1535.9 548.3 1535.5 547.7 1536.4 547.1 1537 546.5 1536.4 545.9 1537.2 545.3 1536.5Z" fill="#edc58f"/>
<path d="M566 1474L566.5 1437L568.5 1437L569 1474Z" fill="#edc58f"/>
<path d="M599.6 1533.5L599.6 1513.3 600.2 1514.2 600.8 1511.7 601.4 1512.5 602 1513.8 602.6 1509.2 603.2 1507.9 603.8 1509.1 604.4 1513.9 605 1513.6 605.6 1509.6 606.2 1514.2 606.8 1512.2 607.4 1512.5 608 1513.5 608.6 1511.8 609.2 1512.4 609.8 1514.1 610.4 1513 611 1513.5 611.6 1511.5 612.2 1507.5 612.8 1513.7 613.4 1513.1 614 1512.4 614.6 1513.8 615.2 1512.5 615.8 1512 616.4 1513 617 1512 617.6 1511.9 618.2 1512.6 618.8 1512.5 619.4 1512.2 620 1513.5 620.7 1512.8 621.3 1513.2 621.9 1512.1 622.5 1513.1 623.1 1511 623.7 1511.7 624.3 1512.3 624.9 1511.8 625.5 1512.7 626.1 1511.5 626.7 1513.9 627.3 1513.3 627.9 1512.1 628.5 1512.4 629.1 1511.7 629.7 1510.4 630.3 1510.8 630.9 1511.9 631.5 1510.4 632.1 1513.2 632.7 1511.6 633.3 1512.4 633.9 1513.8 634.5 1512.4 635.1 1513.8 635.7 1513.5 636.3 1513.5 636.9 1511.9 637.5 1511.3 638.1 1512.7 638.7 1511.9 639.3 1511.8 639.9 1512 640.5 1510.9 641.1 1514.2 641.7 1513.1 642.3 1513.9 642.9 1512.1 643.5 1512.1 644.1 1510.2 644.7 1512.5 645.3 1512.1 645.9 1512 646.5 1513 647.1 1514.1 647.7 1512 648.3 1513.2 648.9 1510.8 649.5 1513.7 650.1 1513.8 650.7 1513 651.3 1513.4 651.9 1511.3 652.5 1514.1 653.1 1513.5 653.7 1512.6 654.3 1509.6 654.9 1512.5 655.5 1514.2 656.1 1512 656.7 1512.1 657.3 1513.2 657.9 1512.1 658.5 1512.4 659.1 1512 659.7 1512.3 660.3 1507.9 661 1510.1 661.6 1511.7 662.2 1513.7 662.8 1511.8 663.4 1509.4 664 1513.1 664.6 1513.3 665.2 1513 665.8 1513.3 666.4 1514.2 667 1513.7 667.6 1513 668.2 1511.2 668.8 1513.6 669.4 1511.6 670 1512.9 670.6 1512.2 671.2 1511.6 671.8 1511.8 672.4 1513.2 673 1512 673.6 1512.9 674.2 1514.2 674.8 1508.8 675.4 1511.9 676 1514.2 676.6 1512.1 677.2 1512.1 677.8 1512.8 678.4 1512.7 679 1512.6 679.6 1514.3 680.2 1512.5 680.8 1513.4 681.4 1511.9L681.4 1534.2 680.8 1534.2 680.2 1537.3 679.6 1534.8 679 1534.8 678.4 1534.1 677.8 1534.4 677.2 1535.1 676.6 1535.2 676 1534.3 675.4 1534.2 674.8 1535.1 674.2 1532.9 673.6 1535.1 673 1535.3 672.4 1533.7 671.8 1533.5 671.2 1535.9 670.6 1534 670 1535.2 669.4 1533.8 668.8 1533 668.2 1534.9 667.6 1533 667 1535.3 666.4 1534.3 665.8 1533.3 665.2 1533.5 664.6 1535.1 664 1534 663.4 1535.3 662.8 1534.9 662.2 1534.8 661.6 1534.5 661 1532.8 660.3 1534.6 659.7 1534 659.1 1533 658.5 1533.3 657.9 1534.9 657.3 1535.4 656.7 1535.3 656.1 1535.2 655.5 1533.6 654.9 1533.7 654.3 1533.4 653.7 1534.8 653.1 1533.4 652.5 1533.1 651.9 1535.1 651.3 1533.1 650.7 1534.2 650.1 1533.1 649.5 1533.1 648.9 1533.3 648.3 1533.6 647.7 1534.8 647.1 1534.4 646.5 1534.7 645.9 1537.8 645.3 1534.2 644.7 1534.5 644.1 1534.9 643.5 1535.3 642.9 1533.5 642.3 1534.2 641.7 1534.5 641.1 1534.7 640.5 1532.6 639.9 1534.7 639.3 1534.5 638.7 1533.7 638.1 1532.6 637.5 1534.4 636.9 1534 636.3 1533.3 635.7 1533.8 635.1 1535.3 634.5 1532.8 633.9 1534.7 633.3 1532.7 632.7 1533 632.1 1533.2 631.5 1535.1 630.9 1533.3 630.3 1535.2 629.7 1534.8 629.1 1533.3 628.5 1534.6 627.9 1534.6 627.3 1534.3 626.7 1535.3 626.1 1533.3 625.5 1534.5 624.9 1534.3 624.3 1534.8 623.7 1534.5 623.1 1534.1 622.5 1534.1 621.9 1534.3 621.3 1533.3 620.7 1534 620 1534.5 619.4 1534 618.8 1532.7 618.2 1532.7 617.6 1534.5 617 1533.8 616.4 1534.6 615.8 1533 615.2 1535.2 614.6 1533.7 614 1534.9 613.4 1534.5 612.8 1534.1 612.2 1532.9 611.6 1534.4 611 1534 610.4 1534.3 609.8 1535.3 609.2 1534.6 608.6 1533 608 1532.8 607.4 1533.8 606.8 1534.7 606.2 1535.1 605.6 1533 605 1533.1 604.4 1532.7 603.8 1535.3 603.2 1534.6 602.6 1534 602 1533.8 601.4 1534.5 600.8 1532.6 600.2 1533.3 599.6 1533.5Z" fill="#575757"/>
<rect x="599.4" y="1478" width="1.2" height="36" fill="#8a8070"/>
</g>
<g id="labels3">
<text transform="matrix(0.2824 0 0 0.3239 51.72 1302.74)" font-size="100" fill="#d98cc2" font-weight="700" stroke="#d98cc2" stroke-width="2.83" stroke-linejoin="miter">Y</text>
<text transform="matrix(0.2694 0 0 0.3233 150.30 1302.72)" font-size="100" fill="#9b9b9b" font-weight="700" stroke="#9b9b9b" stroke-width="2.97" stroke-linejoin="miter">R</text>
<text transform="matrix(0.1569 0 0 0.1657 175.55 1317.60)" font-size="100" fill="#9b9b9b" font-weight="700">S</text>
<text transform="matrix(0.2038 0 0 0.1657 186.64 1317.60)" font-size="100" fill="#9b9b9b" font-weight="700">D</text>
<text transform="matrix(0.2002 0 0 0.1657 201.16 1317.60)" font-size="100" fill="#9b9b9b" font-weight="700">M</text>
<text transform="matrix(0.1625 0 0 0.1657 218.10 1317.60)" font-size="100" fill="#9b9b9b" font-weight="700">A</text>
<text transform="matrix(0.2338 0 0 0.3212 406.04 1302.65)" font-size="100" fill="#f0b428" font-weight="700" stroke="#f0b428" stroke-width="3.42" stroke-linejoin="miter">L</text>
<text transform="matrix(0.2694 0 0 0.3233 514.30 1302.72)" font-size="100" fill="#a5cf7c" font-weight="700" stroke="#a5cf7c" stroke-width="2.97" stroke-linejoin="miter">R</text>
<text transform="matrix(0.2455 0 0 0.3220 567.36 1302.68)" font-size="100" fill="#f0b428" font-weight="700" stroke="#f0b428" stroke-width="3.26" stroke-linejoin="miter">L</text>
</g>
<g id="plot1">
<rect x="865.5" y="36.5" width="594.5" height="434" fill="#e4ebf3"/>
<clipPath id="cp1"><rect x="865.5" y="36.5" width="594.5" height="434"/></clipPath>
<rect x="865.5" y="122.8" width="594.5" height="2.8" fill="#f5f8fc"/>
<rect x="865.5" y="210.1" width="594.5" height="2.8" fill="#f5f8fc"/>
<rect x="865.5" y="297.1" width="594.5" height="2.8" fill="#f5f8fc"/>
<rect x="865.5" y="384.1" width="594.5" height="2.8" fill="#f5f8fc"/>
<g clip-path="url(#cp1)"><g filter="url(#blur)">
<radialGradient id="rg1"><stop offset="0" stop-color="#eeae64" stop-opacity="0.45"/><stop offset="0.5" stop-color="#eeae64" stop-opacity="0.34"/><stop offset="0.8" stop-color="#eeae64" stop-opacity="0.13"/><stop offset="1" stop-color="#eeae64" stop-opacity="0"/></radialGradient>
<ellipse cx="1142" cy="365" rx="135" ry="16" fill="url(#rg1)"/>
<radialGradient id="rg2"><stop offset="0" stop-color="#eeae64" stop-opacity="0.8"/><stop offset="0.45" stop-color="#eeae64" stop-opacity="0.7"/><stop offset="0.7" stop-color="#eeae64" stop-opacity="0.42"/><stop offset="0.88" stop-color="#eeae64" stop-opacity="0.15"/><stop offset="1" stop-color="#eeae64" stop-opacity="0"/></radialGradient>
<ellipse cx="1152" cy="364" rx="46" ry="16" fill="url(#rg2)"/>
<radialGradient id="rg3"><stop offset="0" stop-color="#eeae64" stop-opacity="0.14"/><stop offset="0.6" stop-color="#eeae64" stop-opacity="0.08"/><stop offset="1" stop-color="#eeae64" stop-opacity="0"/></radialGradient>
<ellipse cx="1152" cy="332" rx="30" ry="28" fill="url(#rg3)"/>
<radialGradient id="rg4"><stop offset="0" stop-color="#a2d56c" stop-opacity="0.7"/><stop offset="0.6" stop-color="#a2d56c" stop-opacity="0.4"/><stop offset="1" stop-color="#a2d56c" stop-opacity="0"/></radialGradient>
<ellipse cx="1168" cy="287" rx="24" ry="5.5" fill="url(#rg4)"/>
<radialGradient id="rg5"><stop offset="0" stop-color="#a2d56c" stop-opacity="0.55"/><stop offset="0.6" stop-color="#a2d56c" stop-opacity="0.3"/><stop offset="1" stop-color="#a2d56c" stop-opacity="0"/></radialGradient>
<ellipse cx="1075" cy="289.5" rx="13" ry="4.5" fill="url(#rg5)"/>
<radialGradient id="rg6"><stop offset="0" stop-color="#b176b0" stop-opacity="0.9"/><stop offset="0.45" stop-color="#b176b0" stop-opacity="0.82"/><stop offset="0.7" stop-color="#b176b0" stop-opacity="0.5"/><stop offset="0.88" stop-color="#b176b0" stop-opacity="0.18"/><stop offset="1" stop-color="#b176b0" stop-opacity="0"/></radialGradient>
<ellipse cx="1110" cy="227.5" rx="53" ry="16.5" fill="url(#rg6)"/>
<g stroke="#b5aec8" stroke-width="6" stroke-linecap="round" fill="none" stroke-opacity="0.1">
<path d="M1163.1 253.8h0M1034 221.3h0M1411.7 319.9h0M1036.5 379.3h0M1162.6 259.5h0M1202.6 240.2h0M1359.1 328h0M1102.5 286.2h0M1280.5 245h0M1183 333.5h0M1221.6 342h0M1064.7 233.8h0M1295.5 328.8h0M1187.2 252.6h0M1132.6 217.7h0M1327.5 242.9h0M1401.9 204.8h0M1142.6 272.7h0M1427.5 398.2h0M1118.7 271.4h0M1159.2 240.6h0M1283 321h0M1198.6 393.1h0M1436.4 230.8h0M1301.6 312.6h0M1038.1 259.7h0M1101.9 320.9h0M1379.5 291.9h0M1066.8 397h0M1022.4 324.3h0M1331 330.2h0M1385.2 373.8h0M1344.5 238h0M1326.8 238.5h0M1443 205.9h0"/>
<path d="M1009.7 210.1h0M1427.1 389.6h0M1444.7 235.4h0M1081.9 312.8h0M1093.3 270.5h0M1033.6 378.6h0M1396.4 318.5h0M1326.5 336.7h0M1424.7 227.6h0M1397.7 358.6h0M1238.4 371.9h0M1229.8 368.2h0M1016 336.7h0M1373.9 194.4h0M1124.6 283.7h0M1451.9 315.3h0M1457.9 289.6h0M1059.8 373h0M1080.7 234h0M1427.3 305.7h0M1312 317.1h0M1351.1 332.4h0M1363.6 380.2h0M1160.4 379.7h0M1258 309.6h0M1359.8 255.5h0M1259.7 191.9h0M1245.2 232.3h0M1444.3 334.3h0M1420.9 245.6h0M1137.7 314.5h0M1184.8 224.9h0M1408.2 358.9h0M1055 373.7h0M1340.2 204.2h0"/>
</g>
<g stroke="#eeae64" stroke-width="6" stroke-linecap="round" fill="none" stroke-opacity="0.08">
<path d="M1044.1 336.1h0M1279.3 304.6h0M1132.7 356.4h0M1328.2 319h0M1223.1 373.5h0M1158.6 381h0M1095.3 318.6h0M1220.4 316.2h0M1246.1 371.7h0M1096.4 326.3h0M1208.3 371.1h0M1158 347.6h0M1306.1 354h0M1088.1 320.3h0M1009.8 355.6h0M1003.6 329.9h0M1169.4 304.3h0M1004.5 368.4h0M1016.1 368h0M1205.7 316h0M1276.7 324.6h0M1219.2 368.2h0M1142.3 321.1h0M1186.5 319.7h0M1143.6 358.1h0M1056.3 339.8h0M1073.8 331.2h0M1094.8 370.5h0M1075.9 314.4h0M1311.4 335.2h0M1181.9 328.9h0M1138.6 305.3h0M1259.2 305.3h0M1019.8 365.5h0M1166.6 313.3h0M1186 306.5h0M1019.3 340.1h0M1191.6 380.3h0M1161.7 306h0M1101.4 332.2h0M1251.1 369.7h0M1008 335.6h0M1217.2 361.8h0M1428.2 367.3h0M1450.5 362.8h0M1440.4 355.7h0M1332.6 357h0M1355.8 369h0M1383.1 373.3h0M1369.9 370.2h0"/>
<path d="M1007.5 330.5h0M1153 374.8h0M1171.1 323.9h0M1323 301.1h0M1252.8 330.5h0M1327.8 318.7h0M1033 332h0M1067.2 304.9h0M1060 302.7h0M1169.8 302.2h0M1124.8 300.9h0M1118.4 304.9h0M1324.6 381.2h0M1251.7 369.1h0M1081.5 319.6h0M1307.6 309.3h0M1179.1 341.4h0M1281 309.3h0M1129.7 365.9h0M1118.5 376h0M1325.2 332.6h0M1287.2 376.3h0M1036.8 367.5h0M1188.7 308.7h0M1198.2 377.1h0M1287 346.4h0M1327 327.2h0M1225.3 377.2h0M1185 345.9h0M1004.3 333.7h0M1318.3 305.7h0M1064.8 305.1h0M1032.1 363.3h0M1239 317h0M1220.2 321.3h0M1035.3 321h0M1289.5 382.3h0M1094.4 340.5h0M1325 344h0M1053 355.9h0M1312.6 355.9h0M1258.8 363.3h0M1073.2 364.5h0M1335.6 379.3h0M1385.8 364.9h0M1418.4 340.1h0M1386 362h0M1442.2 330.8h0M1446.7 349.3h0M1332.7 368.5h0"/>
<path d="M1130.2 341.7h0M1336.4 379.9h0M1242 362.9h0M1062.9 322.2h0M1260.5 380.6h0M1076.6 311.4h0M1151.5 342.5h0M1184 319.6h0M1255 372.8h0M1007.1 319.3h0M1081.2 305.5h0M1108.6 315.2h0M1294.2 331.1h0M1027.1 323.6h0M1166.6 309.6h0M1127.4 330.2h0M1076.5 309.3h0M1121.1 353.9h0M1282.9 343h0M1235.8 373h0M1064 362.6h0M1190.5 322h0M1152.3 302.6h0M1052.2 301.6h0M1168.7 342.6h0M1307.4 370.8h0M1094 341.8h0M1004.5 345.9h0M1019.2 377.4h0M1158.1 363.1h0M1330 354.7h0M1315.4 378.1h0M1156.5 318.6h0M1152.5 318.9h0M1232.6 346.8h0M1327.7 371.6h0M1283.7 321.1h0M1119.8 328.3h0M1116 330.4h0M1045.4 317.7h0M1151.7 374.9h0M1060.6 354.2h0M1427.7 360.9h0M1351.1 339.8h0M1430.8 332.7h0M1398.2 363.5h0M1335.2 359.2h0M1418.1 366.5h0M1385.7 366.2h0M1332.7 356.1h0"/>
<path d="M1067.2 339.7h0M1008.1 356.8h0M1153.3 375.2h0M1287.5 353.8h0M1050.7 314.5h0M1166.1 311.3h0M1108.8 379.5h0M1175.6 369.6h0M1058.5 370h0M1224.6 346.1h0M1241.4 380.3h0M1157.6 377.5h0M1007.6 336.5h0M1017.1 306.6h0M1136.8 369.8h0M1056.3 381.5h0M1284.2 356.4h0M1002.6 307.8h0M1106.4 338.9h0M1146.1 318.7h0M1323.7 383.2h0M1041.6 339.9h0M1121.4 314.4h0M1209.4 344.5h0M1334.6 368h0M1065.7 370.9h0M1242.2 352.8h0M1171.6 380.9h0M1021.6 352.3h0M1260.6 347.1h0M1055.8 383.1h0M1126.5 325.3h0M1279.7 355.3h0M1050.3 376.4h0M1237.7 332.6h0M1081.4 314.3h0M1237.6 310.5h0M1104 319.3h0M1296.5 322.2h0M1089.7 365.9h0M1326.1 347.3h0M1188.2 317.1h0M1450.2 379.8h0M1447.1 346.8h0M1374.9 377h0M1342.4 366.8h0M1434.9 372.1h0M1396.7 333.9h0M1391.3 338.7h0M1337.5 366.4h0"/>
</g>
<g stroke="#eeae64" stroke-width="6" stroke-linecap="round" fill="none" stroke-opacity="0.1">
<path d="M1176.3 374.6h0M1158.2 369.3h0M1141.6 359.1h0M1136.5 363.3h0M1136.2 372.4h0M1121.4 372.3h0M1132.4 366.9h0M1145.9 363.5h0M1197.9 362.3h0M1127.7 350.5h0M1086.6 365h0M1139.4 374.1h0M1187.4 374.1h0M1177.1 361.7h0M1157.9 360.2h0M1146.2 376.7h0M1122.4 365.8h0M1124.9 366.3h0M1171.3 370.8h0M1141 352.7h0M1150.5 361h0M1183.7 370.6h0M1173.9 357.3h0M1085.1 352.2h0M1136.8 367.4h0M1171.4 363.8h0M1189.1 371.9h0M1137 373.4h0M1151.4 350.1h0M1177 357.4h0M1155.6 368.1h0M1115.3 351.3h0M1152.1 364.1h0M1152.9 363.4h0M1117 369h0M1116.5 366.9h0M1169.4 366.2h0M1154.9 362.9h0M1182.4 371.1h0M1153.9 361.9h0M1190.9 376h0M1180.4 375.8h0M1158.1 373.3h0M1132.5 352h0M1128.4 369.9h0M1181.7 349.2h0M1184.5 366.8h0M1171.9 361.8h0M1147 358.5h0M1125.9 366.9h0M1138.8 372.3h0M1156.3 368.7h0M1122.2 357.1h0M1154 364.1h0M1132.4 373.6h0M1107.5 369.9h0M1110.9 354.1h0M1138.7 354.8h0M1068.4 380h0M1122 355.5h0M1089.8 367.5h0M1242.3 351.6h0M1091.8 370.4h0M1142.3 353.2h0M1135.8 368.3h0M1129 356.5h0M1003.9 359.6h0M1109.6 361.3h0M1086.8 363.9h0M1102.4 360.2h0M1196.6 358.4h0M1196 368.8h0M1179.9 357.9h0M1243.3 373.5h0M1098 370.7h0M1175.7 357.7h0M1140.9 356.6h0M1165.1 358.1h0M1159.8 362.3h0M1069 362.6h0M1076.3 360.7h0M1091.6 367.1h0M1179.7 368.6h0M1065.2 370.7h0M1161 363h0M1269.4 361.3h0M1203.3 354h0M1101.1 361.1h0M1184.7 355.5h0M1147.9 357.6h0M1106.6 376h0M1066 366.5h0M1115.4 348.3h0M1081.5 360.5h0M1236.9 362.5h0M1076.7 378.4h0M1260.4 368.8h0M1100.2 358h0M1201.8 366.9h0M1108.5 372.5h0M1139 361.6h0M1211.2 388h0M1073 363.4h0M1096.6 369.9h0M1142.2 374h0M1147.7 365.9h0M1146.2 381h0M1156.2 354.3h0M1018.8 362.5h0M1084.1 375h0M1192.7 364.1h0M1072.4 355.1h0M1099 369.6h0M1152.5 364.4h0M1239.6 360.8h0M1151.6 360.4h0M1150.9 362h0M1151.8 361.5h0M1006.3 361.8h0M1211.9 352.6h0M1039.7 364.4h0M1148.4 373.4h0M1200 377h0M1211.6 355.5h0M1057.3 368.9h0M1249.4 361.4h0M1171.3 367.8h0M1212.7 371h0M1203.8 363h0M1208.2 361.9h0M1179.5 358.5h0M1219.4 362.6h0M1242.7 361.5h0M1235.8 360.2h0M1221.7 364.5h0M1192.3 365.4h0M1193.6 357.4h0M1209.5 355.3h0M1202.3 361.1h0M1227.9 367.9h0M1215.2 360.2h0M1201.6 369.6h0M1153.9 320.4h0M1144.6 336h0M1168.3 329.3h0M1149.7 309.2h0M1143.9 347.4h0M1108.3 345.9h0M1129.5 332h0M1167.6 351.2h0M1130.7 326.9h0M1190 333.3h0M1138.2 299.6h0M1101 300.6h0M1177.8 322.3h0M1180.4 288.2h0M1122.7 344.8h0M1181 342.9h0M1159.5 343.9h0M1146.7 311h0M1157.6 332.8h0M1156.2 333.3h0M1096.4 341.3h0M1134.4 332.5h0M1162.3 340.7h0M1153.3 334.5h0M1111.7 315.8h0M1150.5 331h0M1345.5 368.8h0M1365.1 363.9h0M1337.9 373.8h0M1364 362.8h0M1394.3 368.2h0M1273 360.4h0M1355.3 346.4h0"/>
<path d="M1160.7 367.8h0M1136.8 360.6h0M1163.8 363.6h0M1156.8 362h0M1147.3 356.8h0M1163.8 360.4h0M1128.3 371.4h0M1155.7 359.6h0M1128.7 375.2h0M1123.9 370.2h0M1152.4 366.3h0M1164.5 348.2h0M1128.2 359.5h0M1168.8 373.4h0M1174.4 369.7h0M1147.7 376.3h0M1137.8 354.3h0M1166.6 361.2h0M1154.8 358.1h0M1165.9 376.7h0M1182.5 363.3h0M1063 353h0M1157 369h0M1193.8 367.9h0M1182.9 367.4h0M1127.5 362.6h0M1155.9 367.1h0M1129.5 361.6h0M1147.5 358.5h0M1131.3 373.6h0M1124.3 357.3h0M1178.7 355.7h0M1150.4 359.8h0M1177.4 370.4h0M1157.3 365h0M1174.3 367.6h0M1163.9 355.1h0M1164.5 371.3h0M1154.5 363h0M1129.9 371.1h0M1165 356h0M1126.1 356.3h0M1142.8 360.7h0M1160.5 358.3h0M1137 365.3h0M1116.1 363.5h0M1157.4 366.6h0M1184.6 378.9h0M1197.1 360.3h0M1136.2 368.2h0M1140.6 365.8h0M1125.9 370.3h0M1187.3 366.5h0M1172.9 352h0M1111.9 363.1h0M1130.6 352.4h0M1164.9 364.7h0M1121 372.7h0M1205.7 373.1h0M1049.8 365.6h0M1127.3 354.4h0M1158.7 368.4h0M1098.6 364h0M1142 363h0M1065.4 362.8h0M1116.7 362.6h0M1281 367.6h0M1188.9 356.3h0M1274.5 360.2h0M1142.9 347.8h0M1167 372.9h0M1096.3 366.8h0M1059.7 376.3h0M1122.6 369.5h0M1118.7 361.7h0M1052.9 371h0M1201.7 358.1h0M1170.3 361.6h0M1107.3 375.5h0M1102.9 356.2h0M1132.8 363.8h0M1082.7 369.3h0M1106.4 366.3h0M1074.5 357.9h0M1274.6 373h0M1153.9 378h0M1127 375.9h0M1272.8 365.9h0M1246.6 364.6h0M1061.7 355h0M1242.1 364.5h0M1226.7 363.1h0M1144 363.3h0M1099.1 374.3h0M1000.3 363.5h0M1175.4 360.2h0M1109.3 365.3h0M1156.4 360.9h0M1190.6 365.9h0M1221.3 365.9h0M1169.9 368h0M1153.9 359.1h0M1137.1 361.8h0M1111.2 367.8h0M1073.1 357.5h0M1128.1 368.1h0M1201.6 354.1h0M1142.4 360.3h0M1140.7 370.3h0M1213.6 353.5h0M1106.3 370.4h0M1128.7 361.5h0M1090.2 370.5h0M1167.5 370.4h0M1070.8 368.1h0M1054.6 364.9h0M1069.1 363.6h0M1178.2 380.6h0M1171 368.7h0M1041.5 361.7h0M1065.1 349.2h0M1196.6 359.2h0M1186.8 360h0M1211.7 368.2h0M936.6 358.2h0M1230.7 364.7h0M1220.1 354.5h0M1232.3 368.7h0M1190.6 361.3h0M1223.6 367.7h0M1239.2 367h0M1228.1 365.2h0M1214.9 368h0M1207.5 364.6h0M1204.9 362.3h0M1237.4 351.8h0M1207 355.3h0M1195.8 365.4h0M1181.3 348h0M1236 370.5h0M1242.4 369.4h0M1210.1 357.8h0M1118 348.8h0M1143.8 328.9h0M1130.4 351.2h0M1167.6 328.1h0M1191.8 345.7h0M1147.6 325.4h0M1130.5 342h0M1119 336.1h0M1152 304.9h0M1173.4 298.1h0M1140.1 333.9h0M1169.1 344.1h0M1148.1 352.2h0M1135.1 344.9h0M1150.9 316.6h0M1154.7 284.7h0M1183.9 344.7h0M1156.2 353.4h0M1108.5 306.6h0M1139.4 346.6h0M1177.5 348.2h0M1149.7 330.7h0M1139.2 345.3h0M1155.9 339.4h0M1169.3 335.9h0M1157.8 345.7h0M1283.4 365.7h0M1306.9 374.1h0M1267.8 352.4h0M1269.8 363.3h0M1278.6 362.5h0M1360.3 350.9h0M1316.5 371.7h0"/>
<path d="M1155.3 368.2h0M1135.3 381h0M1153.2 367.5h0M1109.4 376.7h0M1154 373.8h0M1158.9 359h0M1114.2 372.7h0M1115.7 361.6h0M1154.6 363h0M1168.4 369.5h0M1159.9 355.4h0M1175.4 366.9h0M1136.4 363h0M1183.1 385.7h0M1115.2 374.1h0M1163.9 374.3h0M1101.2 377.3h0M1166.3 377.7h0M1107.7 351h0M1150.3 362.1h0M1157.4 362.9h0M1105.7 356.9h0M1157.1 355.4h0M1128.5 368.5h0M1147.7 354.4h0M1141 363.8h0M1106.5 370.5h0M1139.1 373.8h0M1133.1 366.2h0M1196.9 352.5h0M1146.5 364.5h0M1197 373.8h0M1116.4 363.1h0M1126.9 361.8h0M1185.8 370.8h0M1138.5 364.8h0M1118.4 363.3h0M1145.9 365.7h0M1108.9 352.3h0M1137.8 366.8h0M1129.9 360.4h0M1154.8 363.6h0M1199.6 367.4h0M1138.1 356h0M1183.1 366.3h0M1153.3 358.4h0M1176.8 366.3h0M1106 372.6h0M1142.3 366.3h0M1120.6 359.3h0M1125.7 376h0M1160.9 369.1h0M1132.7 358h0M1146.4 371.4h0M1142.7 365.9h0M1159.8 362h0M1148.3 368.2h0M1058 365.3h0M1166.9 360.6h0M1096.7 372.1h0M1115.9 369.6h0M1135.2 366.5h0M1142.5 377.8h0M1118.8 369.9h0M1108.2 361.8h0M1095 372.6h0M1148.7 354.8h0M1209.7 362.4h0M1048.4 364.5h0M1124.8 353.5h0M1055.9 363.1h0M1297.2 363h0M1052.8 360.6h0M1133.4 360.1h0M1145.9 375.2h0M1145.8 374.2h0M1112.8 366.2h0M1174.4 358.5h0M1088.7 376.5h0M1162.3 367.1h0M1144.2 360.9h0M1102.5 367.8h0M1153 365.2h0M1099.3 364.3h0M1061.5 362h0M1049.6 368.9h0M1166.3 373.4h0M1172.8 360.6h0M1078.8 377.4h0M1070.9 365.5h0M1052.5 367.7h0M1215.5 363.1h0M1085 360.5h0M1078.9 367.8h0M1127 374.9h0M1170.5 363.2h0M1167 369h0M1246.1 351.5h0M1056.9 362.9h0M1140.4 371.9h0M1018 360.8h0M1109.7 364.3h0M1078.1 358.8h0M1227.3 378.1h0M1170.4 362.4h0M1071.4 364.3h0M1174.8 357.9h0M1225.6 371.8h0M1236.1 355.5h0M919.9 370.1h0M1089.3 358.6h0M1141.1 371.6h0M1166.9 370.5h0M1168.8 367.2h0M1186.6 367.8h0M1228.1 362.4h0M1077.8 361.1h0M1182.6 365.2h0M1196 370.3h0M1174.7 357.9h0M1146.3 363h0M1154.7 376.6h0M1271.2 360.3h0M1141.9 368.3h0M1155.4 365.6h0M1245.2 359.8h0M1224 368.2h0M1216.6 353.8h0M1208.7 374.5h0M1212.3 358.3h0M1213.9 364.3h0M1211.7 368.1h0M1249.5 356.2h0M1253.3 360.8h0M1209.9 364.6h0M1223.2 367.1h0M1203.1 356.4h0M1229.4 357.2h0M1214.9 376.8h0M1209.8 367.9h0M1219.3 370.7h0M1251.1 367h0M1136.8 327.4h0M1175.7 354h0M1156.2 314.5h0M1168.9 352.5h0M1140.5 344h0M1168 325.4h0M1147.7 349.7h0M1135.6 337.3h0M1156 332.2h0M1158.1 332.5h0M1138.9 351.7h0M1157.2 345.8h0M1178.2 335.8h0M1160.2 339.1h0M1111.4 347.7h0M1111.9 322.5h0M1114.7 351.2h0M1153.1 318.4h0M1105.3 312.8h0M1156.8 331.7h0M1128.1 320.9h0M1159.3 326.4h0M1186.6 297.2h0M1191.2 345.7h0M1180.5 351.8h0M1169.1 329.8h0M1357.2 356.4h0M1359.5 344.7h0M1370.7 366.7h0M1368.8 373.3h0M1366.7 369.9h0M1333.8 365.9h0M1375.9 364.1h0"/>
<path d="M1116.1 356.5h0M1158.1 368.8h0M1176.5 363.6h0M1160.1 362.4h0M1158.5 350.1h0M1143.1 374.5h0M1154.1 368.3h0M1172.9 358.4h0M1131.3 365h0M1129 362.2h0M1125.3 369.2h0M1131.2 375.4h0M1129.9 358.2h0M1128.4 361.8h0M1142.6 365.2h0M1129.2 364.4h0M1196.3 362.5h0M1107.4 360.7h0M1241.1 367.4h0M1126.1 355.9h0M1163.2 352.8h0M1150.4 366h0M1153 359.3h0M1129.6 363.9h0M1159.7 359.3h0M1128 354h0M1184.7 371.6h0M1134.8 365.7h0M1153.7 371.4h0M1125.3 372.2h0M1187.1 365.5h0M1158.5 364.2h0M1154.8 353.5h0M1167.3 363.9h0M1094.2 364.1h0M1160.2 358.5h0M1158.5 361.4h0M1117.6 355.4h0M1144.4 366.7h0M1157.2 365.2h0M1143.8 354.9h0M1155.7 365h0M1095.6 359.3h0M1165.8 371.3h0M1174.1 362.2h0M1191.2 363.2h0M1140.2 365.5h0M1079.6 361.1h0M1200.9 366.5h0M1114.6 360.8h0M1155.6 360.1h0M1181.7 357.3h0M1179.3 348.1h0M1118.6 364.8h0M1182.3 360.7h0M1091.3 358.3h0M1119.1 390.4h0M1044.5 364h0M1019.3 379.7h0M1087 358.3h0M980.9 370.5h0M1229 360.2h0M1208.4 358.6h0M1175.5 359.5h0M1182.9 371.3h0M1163 356.6h0M1167 354.2h0M1028 367.7h0M1155.1 352h0M1105.8 369.6h0M1141.2 371.1h0M1100.4 368.1h0M1210.8 362.5h0M1087.2 370.9h0M1175.6 366.2h0M1132.5 367.7h0M1286.8 360.4h0M1111.4 362.2h0M1135.5 365.8h0M1147.7 373.1h0M1166.9 369.3h0M1239.2 370.7h0M1158.5 363.2h0M1098.4 359.8h0M1074.2 372.6h0M1181.1 365.6h0M1191.3 361.5h0M1122.6 368.8h0M1091.9 374.3h0M1262.9 361.1h0M1067.2 367.2h0M1227.1 368.4h0M1140.4 373.7h0M1053 370.2h0M1174.5 371h0M1151.4 370.2h0M1209.2 363.6h0M1191.4 372.4h0M1030.6 357.2h0M1114.9 371.5h0M1117.8 372h0M1243.9 365.1h0M1087.1 367.5h0M1155 366.1h0M1139.5 373.5h0M1097.1 369.7h0M1140.3 371.3h0M1233.5 363.6h0M1125.9 368.5h0M1248.1 363.8h0M1100.1 372.4h0M1134 364.4h0M1117.7 372.3h0M1160.2 374h0M1160 355.4h0M1093.5 368.4h0M1182.4 377h0M1203.7 364.1h0M1140.4 368.2h0M1082.5 359.4h0M1027.4 364h0M1171.9 351.1h0M1062.8 365.4h0M1111.4 366.6h0M1107.9 364.2h0M1169.5 359.5h0M1210.2 366.1h0M1227.9 348.8h0M1204.6 352.6h0M1244.9 366.3h0M1210.9 379.2h0M1204.3 372h0M1197 367.9h0M1191.8 359.5h0M1205.3 355.9h0M1203.6 359.9h0M1200.6 378.1h0M1183.1 361.1h0M1192.9 356.4h0M1223.1 371h0M1227.5 370.6h0M1218.9 362h0M1133.6 332.6h0M1174.5 326.2h0M1168.3 350.8h0M1148.9 327.1h0M1187.8 340.1h0M1149.4 341.9h0M1165.3 301.7h0M1157.8 340.4h0M1199.7 350.5h0M1196.5 334.3h0M1192.4 300.1h0M1137.4 348.1h0M1089 347.8h0M1155.1 324.4h0M1171.5 345.1h0M1181.4 334.2h0M1131.3 342.8h0M1169.7 347.9h0M1152.9 329.5h0M1184.1 353.5h0M1188 331.9h0M1154.8 351.3h0M1128 327h0M1164.3 353.1h0M1185.2 328.7h0M1126.4 341.6h0M1345.4 369.4h0M1373.2 355.1h0M1329.6 358.7h0M1367.8 366.8h0M1323 361.6h0M1276.8 353.2h0M1381.3 370.5h0"/>
<path d="M1104.5 359.2h0M1112.6 363.6h0M1162.3 361.8h0M1149.2 353.1h0M1161 369.2h0M1129.4 360.8h0M1164.9 362.3h0M1180.1 370.5h0M1163 374.5h0M1090.6 359.3h0M1145.2 360.1h0M1098.2 360.6h0M1123.6 368.4h0M1109 361h0M1129.7 355.9h0M1144.4 380.5h0M1151.8 351.8h0M1161.9 356.6h0M1166.8 362.7h0M1123.4 371.9h0M1184.3 351.2h0M1155.4 364.9h0M1156.4 349.4h0M1173.7 369.7h0M1151.8 362.3h0M1146.4 367.5h0M1157.9 383.6h0M1189.2 362h0M1160.3 370.2h0M1207.8 360.8h0M1163.8 364.6h0M1161.2 358.7h0M1153.8 354.4h0M1113.1 373.9h0M1147.3 352.5h0M1139.6 371.6h0M1124.4 367.9h0M1147.8 348.1h0M1175.1 349.6h0M1133.9 370.7h0M1156.7 365.3h0M1140.6 367.6h0M1135.5 371.8h0M1138.5 368.3h0M1154.1 364.5h0M1140.7 345.4h0M1142.8 359.5h0M1140 377.9h0M1122.3 370.7h0M1149.8 381.6h0M1159.9 351h0M1163.6 365.3h0M1172 364h0M1139.5 363.4h0M1124.3 365.6h0M1115 366h0M1144.7 359h0M1186.3 363.4h0M1140.2 374.5h0M1119 363.5h0M1109.6 367.6h0M1211.8 360.3h0M1015.4 366.8h0M1089.6 361.1h0M1092.1 363.6h0M1112.5 355.2h0M1166.7 366.4h0M1153.6 360.8h0M1120 367.5h0M1059.9 361.1h0M1225.8 354h0M1294.4 363.4h0M1123.3 368.4h0M1165.6 360.3h0M1125.5 362.5h0M1080.5 360.6h0M1079.2 354h0M1057.2 362.6h0M1154.5 354.8h0M1235.4 378h0M1176.9 370.8h0M1192.9 368.2h0M1200.7 368.6h0M1203.6 370.4h0M1191.4 362.1h0M1057.4 372.5h0M1113.3 376.2h0M1237.8 371.9h0M1125.8 366h0M1117.6 378.8h0M1136.9 366.6h0M1109.1 365h0M1095.1 359.2h0M1083 371.5h0M1215.4 367h0M1240 353h0M1162.7 352.3h0M1155.9 349.5h0M1052.3 360.7h0M1165 367.7h0M1123.5 365.2h0M1261.6 372.4h0M1039.5 361.8h0M1123 375.2h0M1112.1 370h0M1052.2 359h0M1076.8 372.8h0M1066.5 374.4h0M1144.5 364.9h0M1123 378.4h0M1171.7 367.4h0M1134.4 362.5h0M1166.5 369.6h0M1113 369.7h0M1040.1 374.6h0M1047.5 368.1h0M1140.3 356.4h0M1181.8 371.2h0M1115.4 379h0M1048.9 366.4h0M1115.1 371.3h0M1077.7 357.9h0M1122.2 358h0M1113.7 358.9h0M1118.8 361.8h0M1223.4 358.1h0M1209.5 358h0M1196.3 358h0M1218.6 352.9h0M1207.2 364.9h0M1235.3 356.1h0M1227.3 363.4h0M1231.6 366.4h0M1231.3 363.3h0M1208.4 367.4h0M1208.5 373.2h0M1198.6 360.9h0M1215.8 359h0M1226.5 364.4h0M1205.1 355.6h0M1219.4 358.2h0M1114.3 339.6h0M1169.7 340.9h0M1148 338.4h0M1175.9 331.1h0M1156 349.3h0M1137.4 304.4h0M1098.3 353.7h0M1143.5 339.1h0M1116.9 341h0M1136.2 335h0M1184.4 349.4h0M1110.1 323.6h0M1151.4 344.4h0M1144.1 342.8h0M1168.1 341.6h0M1095.3 334h0M1140 353.4h0M1170.4 336.8h0M1183.4 342.6h0M1144.2 338.9h0M1164.6 347.6h0M1202.6 345.6h0M1160.8 331.2h0M1159 309.5h0M1135 351.8h0M1149.2 352h0M1176.6 324.4h0M1389.4 347.6h0M1303.4 366.1h0M1396.3 355.4h0M1346.2 372.3h0M1296.9 357.9h0M1375 363.3h0M1351.2 364.5h0"/>
<path d="M1150.1 370.3h0M1132.1 368.4h0M1147.6 364.9h0M1172.1 360.6h0M1114.9 356.8h0M1171 380.5h0M1134.6 359.4h0M1138.8 359.4h0M1115.9 363.1h0M1168.7 355.9h0M1155.7 364.1h0M1097 368.1h0M1124.6 364.2h0M1122 356h0M1144.8 373.3h0M1143.5 375.1h0M1137.2 373.7h0M1087.1 362.1h0M1188.6 360.8h0M1193.2 362h0M1085.6 370.9h0M1176.6 368.2h0M1104.4 354.1h0M1099.2 372.8h0M1131.2 371.3h0M1186.5 366.1h0M1186 356.8h0M1134.8 363.1h0M1175.7 366.3h0M1174.3 365.5h0M1119.6 359.9h0M1091.3 361.6h0M1171.7 361.1h0M1154.1 363.8h0M1169.3 375h0M1143.7 369h0M1163.4 367.6h0M1140.1 373.6h0M1122.6 367.6h0M1142 359.9h0M1132.3 357.1h0M1131.5 359.2h0M1126.4 374.2h0M1175.2 362.2h0M1139.7 363h0M1168 354.8h0M1165.4 354.2h0M1156.9 372h0M1157.8 375.5h0M1199.4 360.4h0M1124.9 365.7h0M1194.9 366.3h0M1131.9 346.1h0M1095.6 360.9h0M1140.5 365.4h0M1175.7 369.9h0M1183.4 374.4h0M1109.2 366.5h0M1216.3 370.2h0M1145.9 355.3h0M1140.3 366.5h0M1128.9 372.5h0M1281 372.8h0M1155.6 362.2h0M1162.3 355.9h0M1173.9 364h0M1122.2 369.8h0M1188.6 365.3h0M1080.5 360h0M1093.7 368.7h0M1045 372.9h0M1176.2 363h0M1071 361.4h0M1182.9 359.2h0M1092.4 375.6h0M1134.9 358h0M1086.4 365.8h0M1042 364.6h0M1142 359.6h0M1167.5 366.7h0M1180.5 371.5h0M930.2 359.6h0M1072 369.1h0M1172.3 359.9h0M1128.7 359h0M1116.2 364.1h0M1227.3 363.9h0M1062 355.2h0M1131.5 371.5h0M1197.2 354.6h0M1209.6 373.1h0M1098.9 349.7h0M1132.1 364h0M1103.2 358h0M1144.1 373h0M1130.3 367h0M1085.6 360.5h0M1126.8 356.8h0M1244.4 371.7h0M1048.2 364.1h0M1197.9 368.3h0M1168.1 361h0M1203.1 375.8h0M1114.5 373.3h0M1174.2 363.1h0M1104.7 363.2h0M1214.9 371.2h0M1215.5 369.3h0M1136.4 367h0M1059.1 365.4h0M1078.4 358.1h0M1160 363.4h0M1096.2 357.3h0M1114.2 361.9h0M1190.5 370h0M1166.3 355.6h0M1122.4 373h0M1078.6 372.6h0M1049.6 368.7h0M1181.9 372.8h0M1091.5 368.9h0M1120.1 368.9h0M1112.6 362.3h0M1089.9 358.4h0M1064.1 356.4h0M1213.7 369.6h0M1236 368.6h0M1191.3 360.5h0M1215.7 366.4h0M1242.6 359.4h0M1192.7 350.6h0M1234.9 352.3h0M1196.2 368h0M1187.2 358.1h0M1212.8 366h0M1192.9 367.4h0M1179.7 355.1h0M1198 375.2h0M1225 365.5h0M1233.1 364.2h0M1211.1 366.9h0M1190.3 348.5h0M1168.3 317.3h0M1167.6 349.9h0M1169.5 311.6h0M1164.6 351.3h0M1160 339.5h0M1156.5 327.5h0M1138.6 331.8h0M1179.4 333.8h0M1145.3 354h0M1151.9 346.8h0M1163.3 306.1h0M1192.1 327.4h0M1167.6 316.1h0M1138.4 349.2h0M1143.5 342.9h0M1140.7 352.1h0M1145.9 328.6h0M1114.6 334.1h0M1176.5 346.1h0M1132.6 339.9h0M1176.7 333.2h0M1158.5 336.9h0M1169.8 341.7h0M1146 336.4h0M1171.4 344.6h0M1169.8 350.9h0M1397.8 374.9h0M1316 355.2h0M1367.9 356.8h0M1279.3 369.6h0M1318 359.7h0M1363.1 375.3h0M1320.2 367.6h0"/>
<path d="M1121.4 372.8h0M1191.6 377.8h0M1124.1 374h0M1124 371.8h0M1150.2 360.2h0M1172 364.3h0M1107.9 358.8h0M1165.3 365.8h0M1167.7 380.2h0M1166.1 359.5h0M1149.6 361.6h0M1132.3 368h0M1151.7 364.8h0M1124.5 350.7h0M1172.8 367.4h0M1135.3 367.1h0M1135.4 359.5h0M1155.8 372.4h0M1174.8 366.8h0M1160.5 362h0M1102.9 359.4h0M1118.1 364h0M1141.3 361.5h0M1167.3 366.6h0M1125.7 360.5h0M1163.3 364.5h0M1137.3 364.6h0M1117.7 359.9h0M1205.2 362.6h0M1187.4 367.4h0M1152.4 356.1h0M1123.4 365.9h0M1142.2 360.9h0M1141.5 352.6h0M1176.1 373h0M1143.4 376.8h0M1159.1 367h0M1174.1 364.3h0M1163.6 365.4h0M1135.8 347.1h0M1152.7 379.6h0M1149.7 361.6h0M1162.2 360.7h0M1138.8 360.8h0M1138.1 365.7h0M1162.1 376.2h0M1152.4 373.1h0M1141 383.9h0M1145.8 364.1h0M1138.7 354.6h0M1155.3 371.9h0M1142.2 373.1h0M1136 344.8h0M1159.6 369.7h0M1149.8 374.5h0M1179.9 364.9h0M1142.8 374.5h0M1216.6 353.9h0M1120.6 360.3h0M1125.6 365.1h0M1185.3 368.4h0M1123.2 363.8h0M1100.3 366.3h0M1042 364.6h0M1124.3 354.3h0M1165.8 352.9h0M1015.8 363.4h0M1187.8 371.9h0M1234 364.4h0M1106.4 367.6h0M1093.9 368.2h0M1187.1 372.9h0M1242.4 370.2h0M1152.4 362h0M1115.6 355.8h0M1115.8 360.6h0M1158.9 361.9h0M1091.2 370.9h0M1043.1 370.6h0M1050.1 376.5h0M1132.5 366.6h0M1067.3 347.4h0M1052.3 368.4h0M1204.1 369h0M1097.7 372h0M1128.2 365.2h0M1093.9 368.6h0M1159.1 354h0M1129.3 366.2h0M1175.7 371.5h0M1151 366.6h0M1111 363.2h0M1174.5 372.5h0M1020.8 359.2h0M1156.9 371.2h0M1112.1 355.4h0M1152.3 367.8h0M1061.2 377h0M1198.6 370.8h0M1083.1 363.5h0M1097.9 369.4h0M1208.6 361.3h0M1152.1 364.2h0M1196.6 363.1h0M1160.8 366.6h0M1166.3 369.1h0M1270.3 376.1h0M1205.7 361.7h0M1151 368.2h0M1093.6 365.3h0M1043.6 380.2h0M1112.9 365.2h0M1164 354.6h0M1180.6 373h0M1082.6 359h0M1098.6 358.9h0M1102.7 344.2h0M1054.2 360.5h0M1135.7 358.3h0M1121.1 370.2h0M1172.1 361.9h0M1200.1 369.9h0M1194.6 373h0M1109.5 363.7h0M1040.8 356.4h0M1203.1 366.8h0M1226.4 367.5h0M1233.9 366.1h0M1182.3 360.9h0M1218.5 377.9h0M1249.8 361.1h0M1172.8 367h0M1180.3 362.5h0M1166.8 362.1h0M1205.3 354.3h0M1176.9 353.9h0M1215.9 357.6h0M1233.3 353.8h0M1208.7 353h0M1238.4 366.9h0M1193.3 361.1h0M1139.5 341.3h0M1135.4 350.5h0M1149.4 348.4h0M1153.9 345.4h0M1150.5 343.1h0M1174.6 342.5h0M1141.7 335.6h0M1139 339.5h0M1137.8 345.5h0M1146.5 347.2h0M1156.5 325.1h0M1145.7 338.5h0M1149.6 350.7h0M1141.8 342.8h0M1202.1 341.5h0M1186 349.2h0M1169.1 309.6h0M1152.1 339.5h0M1142.2 339.7h0M1141.7 316.6h0M1189 308.5h0M1132.1 331.7h0M1175 273.2h0M1143.4 318.3h0M1155.3 343.1h0M1155.2 343.3h0M1137.8 275.5h0M1282.3 358.6h0M1379 357.8h0M1373.4 367h0M1374.3 359.1h0M1314 366.5h0M1374.4 358.9h0"/>
<path d="M1157.7 365.8h0M1102.5 362h0M1136.5 369h0M1142.2 370.7h0M1140.6 376.7h0M1134.3 354.5h0M1159 368.9h0M1125.3 362.7h0M1157.3 377h0M1140.1 358h0M1169.4 353.7h0M1140.2 350.8h0M1156 348.8h0M1173 359.8h0M1175 366.3h0M1120.2 371.8h0M1121.5 366.1h0M1188.1 359h0M1159.2 358.5h0M1165.4 360.7h0M1156.2 367.5h0M1174.4 355.5h0M1181.1 377.8h0M1175.3 365.9h0M1174.9 362.4h0M1156.2 348.2h0M1142.2 366.7h0M1191.9 360.7h0M1174.7 378.9h0M1146.3 356.7h0M1142.2 362h0M1138.1 366.4h0M1171.2 362.2h0M1140.6 371.7h0M1152.6 372.9h0M1190.6 355h0M1132.1 369.7h0M1130.6 357.8h0M1131.4 358.1h0M1173.1 366.6h0M1152.9 364.8h0M1147.7 362.5h0M1201.5 370.4h0M1203.2 378.1h0M1134.8 363.9h0M1127.9 367.7h0M1140.8 360.7h0M1187.9 364.6h0M1193.7 359.7h0M1142.6 356.1h0M1181.8 360.5h0M1171.2 367.6h0M1136.3 379.7h0M1178 357.2h0M1183.7 359h0M1122.9 359.2h0M1113.7 369.4h0M1101.4 368.8h0M1131.6 364.4h0M1088.5 364.5h0M1177 357.4h0M1186.5 371.9h0M1111.3 371.2h0M1130.5 365.4h0M1039.5 360.5h0M1074.6 356h0M1144.8 357.1h0M1127.3 365.7h0M1017.8 370.1h0M1176.1 366.6h0M1185.3 364.3h0M1176.5 363.5h0M1109.8 368.2h0M1213.9 360h0M1191.4 360.7h0M1153.5 355.9h0M1105.6 373.4h0M1062.4 372.9h0M1070.9 371.8h0M1151.1 374.2h0M1177.3 370.5h0M1177.5 371.5h0M1119.7 360.4h0M1162 365.8h0M1185.3 363h0M1079.1 350.5h0M1154.9 361.5h0M1100.4 368.1h0M1150.5 373.2h0M1054.4 363.2h0M1298.5 363.7h0M1138.3 360.4h0M1107.7 372.8h0M1099.3 356.3h0M1073.4 361.3h0M1192.8 370.9h0M1154.8 370.5h0M1228.7 356.9h0M1091.5 368.6h0M1080.9 370.3h0M1181.5 365h0M1184.4 359.2h0M1068.7 363.4h0M1152.4 369.7h0M1202.6 367.9h0M1119 364.9h0M1223.5 362.5h0M1192.3 357h0M1207.4 371.7h0M1163.8 366.2h0M1101.9 377.6h0M1073.5 372.7h0M1109.8 352.8h0M1058.9 358.7h0M1146.4 360.9h0M1081.9 365.9h0M1094.3 361h0M1078.3 372.7h0M1057.9 363.7h0M1124.9 361.2h0M1184.4 372.7h0M1240.4 373.4h0M1145.7 365.2h0M1218.8 354.6h0M1088.2 362.2h0M1244.8 358.6h0M1226.6 359.2h0M1225.5 362h0M1216.6 364h0M1242.1 365.8h0M1195.1 375.8h0M1204.2 357.7h0M1241.1 368.9h0M1181.6 359.2h0M1229.7 369h0M1194.1 365.4h0M1218.4 369.6h0M1201.4 369.7h0M1209.2 364.4h0M1241.8 373.8h0M1207.4 359.5h0M1154.2 350.4h0M1124.7 349h0M1141.3 347.1h0M1136.4 335.7h0M1128.8 346h0M1147.5 345.7h0M1149.9 351.3h0M1146.1 268.1h0M1132.6 334.6h0M1143.3 318.2h0M1193.5 352.8h0M1127.6 338.6h0M1167.9 335.3h0M1177.6 339.9h0M1164.6 333.4h0M1121 322.3h0M1108.6 348.1h0M1167.1 307.6h0M1154.8 352.8h0M1184.9 336.5h0M1146.8 339.1h0M1137.2 343.6h0M1151.3 345.7h0M1152.4 335.8h0M1117 353.2h0M1099.1 335.1h0M1132.5 324.4h0M1373.6 359h0M1297.9 353.3h0M1318.6 360.7h0M1359.3 373.9h0M1379.5 369.5h0M1339.8 364.7h0"/>
<path d="M1159.8 358.8h0M1125.8 365.6h0M1071 370h0M1099.3 353.1h0M1138.7 362.9h0M1119.7 361.4h0M1136.3 343.9h0M1112.3 366.3h0M1154.8 358.3h0M1157.7 350.3h0M1153 363.1h0M1141 370.2h0M1141.5 363.4h0M1135.7 358.4h0M1133.6 365.8h0M1154.3 375h0M1171.2 356.3h0M1182.3 366.8h0M1134.7 363.7h0M1158.1 367.7h0M1188.3 379.8h0M1179.9 355.1h0M1112.1 361h0M1153.6 362h0M1148.5 377.1h0M1165.2 369h0M1160.3 363.8h0M1177.3 362.7h0M1132.9 377.2h0M1143.7 365.7h0M1111.9 376.3h0M1171.6 349.4h0M1152.8 371.4h0M1115.1 360.4h0M1133.6 368.6h0M1155.1 373.4h0M1134.7 374.7h0M1124.7 373h0M1140 365.7h0M1152.3 360.6h0M1143.6 360.4h0M1131.1 360.1h0M1129.4 361.7h0M1144.4 363h0M1169.7 358.2h0M1168 358.5h0M1174.6 365.9h0M1121.3 352h0M1123.8 362.2h0M1188.6 373.5h0M1155.8 360.5h0M1183.5 351h0M1159 351.3h0M1138.1 365.7h0M1111.5 355.3h0M1155.6 367.2h0M1139.1 365.4h0M1173 363.5h0M1152.8 355.6h0M1242.1 350.5h0M1243 360.2h0M1088.6 365.2h0M1063.5 360h0M1032.3 371h0M1207.2 361.8h0M1200.3 357.1h0M1168 367.6h0M1154.2 365.8h0M1157.4 368.3h0M1224.7 369.3h0M1081.7 367.8h0M1156.3 366.1h0M1181.8 362.8h0M1126 357h0M1087.8 377.2h0M1071 368.1h0M1172.7 373.1h0M1130.1 356.9h0M1119.9 367.7h0M1212.7 363.2h0M1181.6 368h0M1150.5 360.6h0M1242.7 363h0M1145.7 360.4h0M1176.2 361.5h0M1107.6 356.5h0M1056.6 366h0M1071.1 366.3h0M1040.3 364.9h0M1123.5 374.2h0M1184.2 374.3h0M1076.8 364.1h0M1078.3 373.4h0M1022.4 366.7h0M1159.5 374.7h0M1156.5 389h0M1208.7 368.9h0M1108.2 368.8h0M1156.2 369h0M1088.1 363.2h0M1140.7 371.7h0M1243.5 366.7h0M1109.2 372.7h0M1098.5 366.6h0M1167 366.5h0M1153.9 371.3h0M1097 352.7h0M1041.6 356.3h0M1162.3 358.8h0M1214.8 366.8h0M1157.7 368.5h0M1218.9 357.9h0M1180.6 375.7h0M1105 367.6h0M1182.4 377.4h0M1113.2 361.1h0M1095.3 367.4h0M1265 358.8h0M997.4 355.4h0M1209.4 375.4h0M1214.1 373.7h0M1077.5 373.8h0M1237.2 368.4h0M1163.5 371.2h0M1104.5 364h0M1198.3 360h0M1257.5 351.3h0M1185.3 364.5h0M1229.1 358.4h0M1209.7 368.9h0M1186.5 358.3h0M1252.8 366.3h0M1219.7 368.6h0M1227.4 366.3h0M1237.7 362.8h0M1252.8 366.6h0M1246.7 362.7h0M1223.1 357.8h0M1225.9 378h0M1213.6 357.4h0M1191.9 359.6h0M1134.7 347.6h0M1184.5 338.8h0M1113.1 328.9h0M1137 335.3h0M1113.1 345.6h0M1124.4 315.7h0M1147.7 337.6h0M1145.9 352.4h0M1161.3 342.5h0M1156.1 350.4h0M1175.5 320.9h0M1175.3 346.2h0M1162.2 338.8h0M1195.4 345.2h0M1151.7 338.9h0M1156.4 343.6h0M1185.2 350.1h0M1153.8 326.6h0M1188.8 343.1h0M1150.6 333h0M1169.5 336.2h0M1160.4 349.4h0M1134 336h0M1112.6 348.4h0M1144.1 325.1h0M1158.2 313.5h0M1269.8 357.1h0M1343.2 363.5h0M1332 361.3h0M1277.3 359.2h0M1366.8 368h0M1277.4 353.3h0M1389.1 366.4h0"/>
<path d="M1170.1 373.3h0M1142.1 358.4h0M1166.4 358.4h0M1116.4 368h0M1166.1 367.9h0M1184.6 370.6h0M1127.5 366.8h0M1197.7 362.4h0M1129.5 349.7h0M1158.5 369h0M1184 374.8h0M1132.1 353.6h0M1136.2 375h0M1129.2 367.2h0M1142.5 372.5h0M1140.4 362.8h0M1173 368.1h0M1145.1 360.1h0M1189.8 352.2h0M1138.1 358.3h0M1153 358.6h0M1147.6 361.6h0M1149.8 365h0M1121.1 365h0M1133.6 361.7h0M1134.2 362.7h0M1111.4 365.4h0M1136.1 361.4h0M1113.5 378.3h0M1146.2 373h0M1160.5 375.1h0M1170 359.1h0M1155.7 357.1h0M1197.3 364.9h0M1163.9 363.4h0M1160.4 367.6h0M1157 375h0M1139.9 371.8h0M1179.5 359.9h0M1138.7 366h0M1130.8 365.9h0M1132.7 368.9h0M1143.2 355.4h0M1117.8 355.9h0M1159.3 363.2h0M1185.3 353h0M1196.2 365.9h0M1128.1 369.9h0M1161.4 346.1h0M1156.6 377.4h0M1162.5 367.9h0M1141.2 357.7h0M1136 366.1h0M1157.7 368.1h0M1155.1 372.1h0M1132.7 354.5h0M1139.1 363.6h0M1137.3 364.5h0M1079.9 349.8h0M1189.8 359.4h0M1001.4 373h0M1136.8 370.8h0M1121.6 384h0M1203.1 371h0M1073.9 351.2h0M1223 359.2h0M1203 367h0M1174.3 364h0M1145.2 368.6h0M1163.2 360.5h0M1113.1 366.5h0M1138.3 361.9h0M1326.5 371.7h0M1107.1 356.2h0M1062.6 371.5h0M1219 370.3h0M1112.8 383.2h0M1142.3 363.3h0M1205.6 363.7h0M1249.2 359.4h0M1107.9 365.5h0M1135.4 368.4h0M1217.5 360.9h0M1148.9 368.3h0M1123 366h0M1131.9 370.8h0M1081.2 373.2h0M1178.2 361.2h0M1162.3 365h0M1130 369.5h0M1129.1 370.9h0M1194.7 370.2h0M1102.2 366.6h0M1204.7 351.8h0M1069.7 377.1h0M1099.7 364h0M1123.9 357h0M1165.7 371h0M1188.7 357.1h0M1195.2 358.7h0M1088.2 365.5h0M1090.1 361.5h0M1166.9 356.1h0M1141.9 363.5h0M1166.4 369.2h0M1081.2 360.7h0M1153.3 366h0M1186.8 367.3h0M1074.2 360.5h0M1081.7 367.2h0M1083.7 355.9h0M1119.3 365.3h0M1141.3 366.6h0M1183.2 375.7h0M1050 362.9h0M1136.3 366.7h0M1012 353.5h0M1281.4 369.3h0M1156.7 361.9h0M1135.7 367.8h0M1103.5 361.2h0M1099 366.6h0M1066.5 354.6h0M1194.2 363.4h0M1151.9 362.9h0M1191.3 374.6h0M1232.1 360.8h0M1205.5 363.3h0M1215.2 367.1h0M1198.8 355.6h0M1211.4 366.3h0M1205.2 361.5h0M1218 360.6h0M1212.1 364.1h0M1208.1 361h0M1185.7 363.3h0M1200.1 369.4h0M1227.5 368.5h0M1201.5 358h0M1202 363.6h0M1228.8 374.2h0M1124.3 353.8h0M1166.7 331h0M1182 339.6h0M1152.5 323.3h0M1148.2 348.3h0M1202.7 336h0M1139.9 344.9h0M1109.5 334h0M1161.1 328.7h0M1144 351.8h0M1198.3 338.1h0M1173 336.7h0M1166 333.4h0M1094.6 350.8h0M1151.1 340.4h0M1187.6 351.6h0M1150.1 317.9h0M1177.5 331.7h0M1158.1 347.2h0M1138.1 333.6h0M1149 310.4h0M1170.3 339h0M1206.6 344.2h0M1143.7 337.1h0M1190.2 342.2h0M1094.2 337.2h0M1325.6 366.8h0M1281.9 367.5h0M1398.2 370.4h0M1298.2 354.2h0M1341.3 362h0M1350.5 355.5h0M1399.4 359.7h0"/>
<path d="M1120.8 354.3h0M1158 354.1h0M1151.6 356.7h0M1160 361.4h0M1144.8 361.3h0M1151.2 360.7h0M1130.8 369.9h0M1189.8 361.4h0M1168.7 349h0M1134.7 366.3h0M1157.4 375.3h0M1126 363.8h0M1148.5 365.1h0M1152.9 367.1h0M1119.2 364h0M1162.5 355h0M1177.9 364.6h0M1122.8 378.2h0M1129.9 364.4h0M1179.2 351h0M1135 366.8h0M1124.2 357.9h0M1134.9 362.4h0M1133.3 357.7h0M1168.8 353h0M1155.8 375.5h0M1166.9 368.8h0M1176.8 367.4h0M1152.4 358h0M1110.6 357.4h0M1159 357.1h0M1130.6 375.7h0M1163.7 358.1h0M1163.8 346.5h0M1136.1 366.8h0M1208.3 358.5h0M1195.1 355.6h0M1178.9 356.9h0M1146.6 366.2h0M1109.9 371.7h0M1126 358.6h0M1208 367.4h0M1110.5 360.5h0M1138.7 365.5h0M1139.8 344h0M1137.3 360.4h0M1158.6 359.4h0M1147.2 368.8h0M1100.2 358.9h0M1178.3 355.3h0M1149.5 359.1h0M1158.2 362.6h0M1161.9 358.6h0M1143.2 366.9h0M1105.9 364.1h0M1146.1 367.3h0M1058.1 356.7h0M1242.1 363.7h0M1103.7 367.1h0M1131.3 352.2h0M1245.2 363.7h0M1208.6 362h0M1107.4 364h0M1206.4 361.5h0M1230.4 365.7h0M1016.5 366.8h0M1082.5 368.5h0M1168.2 371.6h0M1081.2 377.2h0M1051.3 368.9h0M1179.1 353.6h0M1113.8 379.3h0M1172.7 362.3h0M1144.6 375.2h0M1087.3 360.2h0M1225.3 362.4h0M1195.5 369.4h0M1158.3 374h0M1089.2 367h0M1193.6 356.3h0M1003.8 371h0M1150.4 365h0M1130.9 372h0M1060 365.6h0M1268.1 368.5h0M1143 371h0M1031.1 364.9h0M1168.2 372.7h0M1166.9 362.5h0M1107 361.8h0M1176.7 370h0M1267.4 360.4h0M1211.1 369.5h0M1075.6 366.1h0M1099.8 367h0M1013.1 360.9h0M1115.6 363.6h0M1210.1 355.7h0M1158.9 358.8h0M1218.9 379.8h0M1032.2 355.3h0M1033.3 364.6h0M1160.2 372.3h0M1135.3 374.2h0M1127.1 358.7h0M1248.8 373.5h0M1200.3 376.6h0M1113.3 361.5h0M1266.1 370.1h0M1203.4 363.2h0M1269.8 368.8h0M1067.3 370.1h0M1123.6 368.2h0M1080.2 369.9h0M1169.6 348.1h0M1256.5 359.8h0M1166.3 359.6h0M1157.6 375.8h0M1026.5 368.1h0M1104.9 358.3h0M1189 368.5h0M1091.3 364.5h0M1261.6 364.3h0M1175.9 363.9h0M1094.3 378.7h0M1247.2 368.9h0M1221.6 373.1h0M1183.1 362.3h0M1221.1 363.9h0M1191.7 372.2h0M1240.6 366.3h0M1201.6 368.3h0M1221.6 371h0M1220.3 361.6h0M1193.5 356.1h0M1258.3 367h0M1208.8 364.3h0M1204.6 370.6h0M1201.5 361.7h0M1211.1 356.4h0M1192.7 361.9h0M1172.7 334.1h0M1137.4 328.1h0M1149.8 326.5h0M1143.3 348.8h0M1127.8 318.9h0M1170.5 352.5h0M1143.9 318.8h0M1152.4 325.5h0M1120.6 337.4h0M1153.3 342.1h0M1155.4 336.4h0M1158.7 347.8h0M1175.6 329h0M1147.2 349h0M1184 329.1h0M1156.5 311.5h0M1171.7 335.5h0M1158.3 326.7h0M1158.7 321.8h0M1139.8 332.8h0M1173.5 343h0M1125.5 316.3h0M1159.7 325.5h0M1128.1 350.3h0M1130.8 320h0M1176.8 322.4h0M1321.8 363.4h0M1325.8 367.1h0M1272.1 360.7h0M1350.6 371.1h0M1268 354.3h0M1282.7 365.1h0M1318.4 370.9h0"/>
<path d="M1126.1 377.4h0M1143.1 365.9h0M1183.9 353h0M1152.6 364.3h0M1172.7 351.4h0M1174.5 376.2h0M1177.4 355.7h0M1216.8 375.8h0M1098.4 370.5h0M1111.1 374.1h0M1104.9 359.8h0M1215 354.4h0M1169.7 361.3h0M1168.9 365.2h0M1185 364.3h0M1118.9 374.7h0M1166.9 377.9h0M1115.3 355.6h0M1101.6 356.5h0M1161.7 367.3h0M1172.7 366.9h0M1107.5 367.3h0M1151.4 359h0M1169 370.2h0M1088.9 352.2h0M1186.9 353.7h0M1109 380.2h0M1184 362.8h0M1171.9 359.9h0M1108.3 362h0M1141.8 360.9h0M1185 362.6h0M1156.8 366.6h0M1151.6 372.5h0M1150.2 371.6h0M1142.8 378.5h0M1139.8 363.4h0M1210.2 369.4h0M1092.6 363.4h0M1135.2 366.5h0M1184.3 372.3h0M1149.8 364.2h0M1161.1 360.1h0M1119.8 363.2h0M1169 364h0M1181.2 366.5h0M1150.7 367.9h0M1184 363.5h0M1144.3 363h0M1107.2 369.6h0M1164.9 375.7h0M1125.6 370.8h0M1161 344.4h0M1188.1 384.3h0M1176.8 361.3h0M1141.9 357.5h0M1039 371.3h0M1176.1 368.9h0M1110.9 363.4h0M1147.5 366.5h0M1146 364.4h0M1206.1 364.1h0M1156.5 365.5h0M1192.9 372.2h0M1121.3 376.1h0M1147.7 364.3h0M1217.3 379h0M1183.5 371.7h0M1157.4 365.6h0M1085.9 366.1h0M1150.9 359.1h0M1168 368.1h0M1093.4 368.6h0M1106.7 364.3h0M1114.9 388.8h0M1114.8 365.7h0M1190.4 362.9h0M1168.4 372.4h0M1102.9 369.1h0M1188.3 357.1h0M1165.6 374.9h0M1213.6 372.9h0M1098.6 366.9h0M1142 368.7h0M1144.2 374.8h0M1185 375.9h0M1207.6 371.4h0M1153.3 370h0M1005.4 357.8h0M1162.1 366.3h0M1121.5 375.9h0M1155.8 368.7h0M1213.1 371.3h0M1064 377.9h0M1180 358.8h0M1091.2 357.1h0M1061.1 362.8h0M1164.1 358h0M1042.8 364.8h0M1172 352.4h0M1107.5 368.7h0M1021.8 368.9h0M1130.6 367.1h0M1240.4 372.9h0M1076.5 361.5h0M1062.9 372h0M1162 369.4h0M1151.3 372.6h0M1308.3 364.6h0M1198.4 369.9h0M1149.8 366.6h0M1121.4 362.5h0M1134.8 359.5h0M1219.8 366.9h0M1160.1 351.7h0M1155.4 374.1h0M1115.1 370.3h0M1107.1 375.6h0M1211.4 375.5h0M1160.9 358.5h0M1246.4 356.8h0M1168 374.5h0M985.2 364.5h0M1217.7 373h0M1176.1 372h0M1198.5 377.4h0M1220.8 372.2h0M1214.4 370.4h0M1237.5 359.1h0M1228.7 350.1h0M1200.1 370.9h0M1206.6 351.6h0M1202.9 372.5h0M1227.8 368.6h0M1203.5 362.7h0M1223.2 362.5h0M1184.7 369.4h0M1237.4 365.2h0M1219.7 364h0M1192.9 356.7h0M1207.2 362.3h0M1130.4 342.1h0M1166.5 340.3h0M1158 331.5h0M1148 343.7h0M1163.9 308.5h0M1157.3 326.3h0M1171.9 334.5h0M1164.2 295.3h0M1159.1 325.1h0M1168.4 348h0M1122.7 329.1h0M1189 336.4h0M1120.2 343.8h0M1162.9 339.9h0M1173.7 345.7h0M1121.7 343.3h0M1130.1 335.4h0M1135.1 338.1h0M1175.4 342.2h0M1181.5 322.1h0M1128.7 349.1h0M1144.6 351.8h0M1169.3 305.1h0M1160 337h0M1132.4 346.2h0M1133.3 332h0M1337.7 363.4h0M1378.1 358.9h0M1304.1 358.8h0M1338.7 366h0M1345.5 380.8h0M1366.4 354.3h0M1365.4 358.2h0"/>
<path d="M1150.8 374.2h0M1148.1 379.3h0M1126 347.3h0M1182.3 364.3h0M1108.2 373.3h0M1161.5 358.3h0M1129.9 352.4h0M1118 356.3h0M1142.8 375.6h0M1184.9 369.8h0M1147.1 357.6h0M1127.5 366h0M1134.3 367.1h0M1155.5 370.4h0M1155.6 364.4h0M1150.4 362h0M1191.1 361.4h0M1160.9 365.5h0M1131.1 351.6h0M1158.3 364.5h0M1169.8 366.4h0M1119.1 361.4h0M1125.8 353.3h0M1160 376.7h0M1123.5 373.2h0M1164.8 365.1h0M1210.3 361.5h0M1179.5 355.1h0M1152.9 352.4h0M1094.7 372.3h0M1147 350.6h0M1157.5 367h0M1158.2 356.8h0M1177.1 363.9h0M1131 360.9h0M1160.7 364.4h0M1204.8 364.1h0M1123.8 374.5h0M1153 357.6h0M1103.3 362.6h0M1172.3 371.9h0M1109.4 374.3h0M1145.8 355.6h0M1154.3 358.3h0M1170 350.5h0M1160 361.1h0M1179.4 364.4h0M1138.4 377.4h0M1145 366.8h0M1208.9 365.9h0M1173.3 375.2h0M1185.7 368.1h0M1140.7 350.9h0M1141.1 352.9h0M1126.6 365.1h0M1171 369.1h0M1199.4 363.4h0M1143.8 370h0M1132.7 368.5h0M1163.3 367.2h0M1091.9 372.9h0M1112.5 370.9h0M1100 377.8h0M1069 369h0M1141.4 367.2h0M1080.9 364.1h0M1105.8 355.2h0M1200.6 364h0M1058.1 376.5h0M1099.8 365.9h0M1080.8 366.1h0M1080.3 365h0M1037.7 357.8h0M1121.2 368h0M1183.3 369.2h0M1063.1 359.8h0M1172 360h0M1195.5 366.6h0M1292 370.6h0M1099.3 370.4h0M1065.6 367h0M1160.8 364.1h0M1176.2 354.7h0M1134.4 368.8h0M1139.1 369.4h0M1174.4 356.8h0M1057.6 373.6h0M1187.5 364.8h0M1135.7 376.8h0M1152.5 358.6h0M1046.8 375.7h0M1246.4 358.4h0M1226.2 361.3h0M1132.2 370.6h0M1131.2 371.4h0M1090.9 373.5h0M1086 373.5h0M1181.1 372.8h0M1229.4 367.8h0M1137.6 371.8h0M1101.9 363.8h0M1183.7 360.9h0M1090 362h0M1134.3 362.7h0M1220 372.8h0M1066.3 370.1h0M1026.2 360.3h0M1208.2 350.9h0M1209.9 366.2h0M1180 353.8h0M1144.1 383.6h0M1115.5 374.4h0M1161.7 364h0M1063.2 379.4h0M1170.2 365.4h0M1204.6 380.8h0M1102.5 369.5h0M1145.6 375h0M1137 372.9h0M1204.6 363.3h0M1076.7 361.4h0M1137.9 360.1h0M1110.3 364.7h0M1070.6 369.3h0M1133.2 357.8h0M1185.1 362.8h0M1227.4 368.1h0M1207.7 366.7h0M1218.3 362.1h0M1209.4 363.3h0M1215.9 360.5h0M1246.2 351.2h0M1223.4 363.8h0M1202.2 357.3h0M1237.3 361.7h0M1202.6 362.8h0M1205.3 363.8h0M1208.3 359.8h0M1232.4 365.3h0M1255.1 357.1h0M1250.3 365.7h0M1147.9 351.8h0M1198.2 337.8h0M1174 343.8h0M1133.5 341h0M1152.1 319.5h0M1145 345h0M1164.7 330.8h0M1201.5 308.4h0M1153.7 326.2h0M1143 333.8h0M1132.7 335.7h0M1157 314.9h0M1180.4 346.1h0M1188.3 343.1h0M1177.1 328.9h0M1159.2 351.7h0M1171.5 316.7h0M1149.1 343.9h0M1185.5 348.6h0M1141.9 345.8h0M1152.5 330.7h0M1164.4 335.3h0M1127.1 316.4h0M1172.2 340.8h0M1153.7 352.5h0M1183.8 293.3h0M1313.5 365.2h0M1269 364.7h0M1368.2 372.4h0M1381.1 368.9h0M1372.2 357.7h0M1293.3 361.8h0M1271.8 351.6h0"/>
<path d="M1153.7 375.9h0M1139.2 372.5h0M1171.4 371.7h0M1163.4 356.2h0M1155.7 373.8h0M1139.4 356.3h0M1090.4 378.2h0M1149.9 355h0M1154.5 366h0M1162.3 367.4h0M1147.3 362.7h0M1159.8 354.5h0M1111.3 362.1h0M1176.8 359.9h0M1162.8 360.6h0M1121.7 361.3h0M1144.7 367h0M1104.1 370.4h0M1175.6 382.3h0M1189 361.3h0M1184.9 363h0M1136.1 356.9h0M1162.3 357.3h0M1142.4 364.3h0M1151.1 350.4h0M1132.6 371.9h0M1167.7 357.4h0M1140.1 353.9h0M1137.4 367.3h0M1152.5 362.8h0M1141.4 359.9h0M1138.6 357.6h0M1110.1 379.9h0M1106.3 369.7h0M1190.7 367.3h0M1132.4 360.6h0M1162.5 354.1h0M1131.5 372.4h0M1166.6 374h0M1158.5 373.2h0M1151.9 360.7h0M1177.8 351.7h0M1180.5 360.4h0M1175.1 366.1h0M1139.4 369.4h0M1113.5 360.3h0M1167.5 354.7h0M1126.3 362.8h0M1139.6 369.2h0M1138.1 361.4h0M1121.8 356.7h0M1146.4 350.5h0M1139.8 376h0M1167.1 375.3h0M1154.5 359h0M1138.5 363.2h0M1121 374.9h0M1150.6 367.1h0M1007.8 366.2h0M1145.2 362.4h0M1180.6 369.7h0M1241.6 358.3h0M1210.6 370.4h0M1037.2 367.4h0M1127.5 374.2h0M1136.5 351.7h0M1133.6 357.7h0M1048.9 365.5h0M1140.2 357.7h0M1286.5 368.2h0M1088.2 378.1h0M1087.4 368.6h0M1179.6 370.3h0M1109.2 357.1h0M1108.2 368.9h0M1036 371.6h0M1149.7 363.9h0M1080.6 358.6h0M1113.6 364.1h0M1181.3 354.6h0M1122.4 370h0M1092.6 357.8h0M1144 376.1h0M1155.7 367.7h0M1224.2 373.3h0M1086.8 355h0M1137.8 362.1h0M1235.4 368.1h0M1091.7 369h0M1093.6 371.6h0M1097.9 371h0M1154.1 364.6h0M1191.5 356.4h0M1163.9 373.9h0M1187.9 357.6h0M1175.1 366.6h0M1052.6 356.1h0M1161.5 363.8h0M1218.6 374.2h0M1218.2 364.3h0M1197.2 357.6h0M1191.4 358.7h0M1020.1 373.2h0M1158 370.2h0M1097 366.8h0M1098.1 373.1h0M1195.8 375.4h0M1167.7 367.4h0M1292.1 364.5h0M1079.4 369h0M1127.6 362.1h0M1130.1 359.8h0M1199.6 368.3h0M1121.7 354.4h0M1212.7 374.2h0M1234.9 374.8h0M1116.8 365.7h0M1174.5 369.9h0M1229.8 366.5h0M1176.6 372.6h0M1226.3 358.8h0M1224.6 366.4h0M1175.2 370h0M1050.3 362.6h0M1056.3 365.5h0M1216.4 363.4h0M1229.4 364.6h0M1229.4 365.9h0M1222.5 362.1h0M1185.3 372.8h0M1202.5 360.9h0M1232.8 373.3h0M1205.9 373h0M1218.2 381.4h0M1201 363.1h0M1174.3 366h0M1226.3 364.3h0M1194.4 371.7h0M1239.4 359.5h0M1203.7 365.8h0M1227.4 357.4h0M1167.1 320h0M1159.4 336.9h0M1142.5 289.6h0M1169.6 330h0M1129.1 352.3h0M1133.6 290h0M1158.1 322.6h0M1142.6 347.4h0M1137.1 352h0M1171.6 337.6h0M1162 311.3h0M1150 349.6h0M1107.2 321h0M1189.2 320.4h0M1143.8 346.7h0M1131.7 323.3h0M1203.9 345.6h0M1188 339.4h0M1111.2 352.1h0M1130.9 349.9h0M1142.6 342.4h0M1164 348.7h0M1143.2 345.2h0M1166.1 343.9h0M1151.9 330.2h0M1116.3 330h0M1291.5 346.1h0M1297.6 363.6h0M1350.2 360.7h0M1378.4 370.5h0M1280.7 366.7h0M1277 355.5h0M1365.4 355.5h0"/>
<path d="M1155.4 367.1h0M1167.4 359h0M1170.7 374.7h0M1162.9 365.8h0M1113.5 365.1h0M1179.1 359.3h0M1152.8 352.2h0M1112 355.3h0M1161.1 357.8h0M1158.5 361.4h0M1153.1 367.2h0M1149 363.1h0M1096.3 361.4h0M1133 364h0M1164.5 370h0M1211.4 355h0M1148.3 359.8h0M1192.3 361h0M1193.2 368.6h0M1172.6 367.3h0M1087.5 364.2h0M1170.6 355.3h0M1125.7 365.4h0M1150.4 355.9h0M1168.1 356.8h0M1156.3 373.4h0M1107.9 376.5h0M1105.6 369.4h0M1149.6 377.5h0M1154.2 358.4h0M1166.1 358.6h0M1157.1 371.9h0M1163.2 378.5h0M1127.7 369.3h0M1137.4 360.5h0M1130.9 368.9h0M1150.1 373.7h0M1139.7 357.6h0M1167.8 369.8h0M1138.7 367.3h0M1170.1 362.8h0M1113.1 357h0M1153.6 355.1h0M1164.6 359.7h0M1144.8 365.1h0M1120.7 367.6h0M1127.7 362.4h0M1158.9 367.2h0M1119.5 364.8h0M1134.3 357h0M1167.8 362.2h0M1153.4 361.4h0M1131.6 364.1h0M1149 373.7h0M1142.4 361.2h0M1135.2 361.8h0M1150.7 358.5h0M1113.6 365.6h0M1144.2 360.7h0M1192.9 361.4h0M1163 371.9h0M1192 367.2h0M1128.2 371.6h0M1147.6 378h0M1139.4 372.4h0M1173.1 361.2h0M1080.2 367.5h0M984.8 357.4h0M1090 365.9h0M1081.7 371.5h0M1004.7 365.8h0M1073.8 365.3h0M1072 369.8h0M1044.9 367.4h0M1169.3 367.9h0M1078.6 368.7h0M1057.1 364.2h0M1088.7 371.4h0M1179.9 355.9h0M1158.9 363.3h0M1250.6 372.6h0M1198.9 368.4h0M1178.1 380h0M1114.9 353.5h0M1203 357.2h0M1142.7 377.7h0M1076 367.8h0M1184.9 364.3h0M1158.2 371.9h0M1088.1 372.6h0M1126.6 371.4h0M1094.1 372.1h0M1158.1 366.5h0M1136.6 364.7h0M1084.2 372.2h0M1045.1 365h0M1199.6 357.4h0M1068.1 352.6h0M1162.9 369.5h0M1177.7 362.5h0M1134.4 364h0M1167.9 365.8h0M1139.3 371.8h0M1191.1 384.4h0M1131.9 358.9h0M1117.1 357.6h0M1231.2 365.1h0M1177.8 363.6h0M1158.4 363.3h0M1101.9 364.3h0M1299.5 358.6h0M1198 364.3h0M1136.3 357.3h0M1204 352.4h0M1152.5 364.3h0M1086 357.9h0M1174 371.6h0M1269.2 358.4h0M1176.4 368.5h0M1114 366.2h0M1072.9 373.6h0M1110.3 374h0M1236.8 368.3h0M1106.1 371.4h0M1097.1 357.6h0M1208.9 367.3h0M1168.8 359.6h0M1240.2 366.4h0M1234.5 362.9h0M1206.3 361.2h0M1237.1 361.7h0M1212.9 363.8h0M1232.4 360.9h0M1206.9 364h0M1230.4 348.3h0M1217.8 353.7h0M1210.6 365.3h0M1203.5 364.9h0M1223.8 364.8h0M1248.7 364.5h0M1246.5 363.8h0M1085.6 350.7h0M1162.2 309h0M1148.6 351.1h0M1136.5 349.6h0M1142.1 340.3h0M1146.4 344.1h0M1126.3 321.4h0M1123 354h0M1158.2 351.4h0M1143.1 350.9h0M1131.1 353.9h0M1129.2 311.5h0M1158.7 346.6h0M1141.9 324.9h0M1115.6 323.6h0M1113.7 349.4h0M1151.7 337.7h0M1164.7 348.6h0M1155.5 334.6h0M1087 345.7h0M1168 344.7h0M1182.7 349.4h0M1123.3 342.3h0M1133.8 326.3h0M1125.6 349.6h0M1130 322h0M1383.1 367h0M1299.3 358.5h0M1318.9 364.5h0M1350 379.4h0M1332.6 351.5h0M1292.2 361.3h0M1359.9 371.3h0"/>
<path d="M1101.1 370.5h0M1204.9 379.4h0M1141.7 361h0M1184.5 359.7h0M1182.3 361.9h0M1150.3 373.9h0M1163.9 356.4h0M1165 366.6h0M1205.8 371.2h0M1146.1 350.8h0M1166.9 359.6h0M1134.6 373.9h0M1160.7 363.2h0M1202.8 378.8h0M1168.4 354.6h0M1203 360.8h0M1177.5 361.4h0M1182.3 367.5h0M1143.3 364.7h0M1146.4 358.7h0M1139.3 352.1h0M1108.6 352.9h0M1107.2 366.9h0M1177.1 353.2h0M1155.7 370.4h0M1187.4 368.6h0M1109.1 370.6h0M1145.7 368.5h0M1132.5 359.9h0M1146.9 373.2h0M1194.8 348.3h0M1191.2 360.2h0M1156.3 368h0M1187.9 369.2h0M1123.3 361.7h0M1187.4 356h0M1178.4 367.2h0M1133.6 360.8h0M1179.8 363h0M1192.3 354.7h0M1169.4 346.5h0M1146.8 368.9h0M1156.4 349.7h0M1127.2 360.3h0M1104 357.4h0M1154.1 359.4h0M1156.3 350.4h0M1116 358.1h0M1100.6 354h0M1165.7 372.1h0M1139.6 365.7h0M1159.6 364.4h0M1174.6 369.6h0M1160.3 370.8h0M1154.5 371.7h0M1190.9 358.5h0M1206.4 356.4h0M1146 365.7h0M1141.4 371.1h0M1110.5 378.7h0M1098.8 369.8h0M1203.6 366.4h0M1042.9 362.5h0M1177.3 369.9h0M1132.9 375.1h0M1165.3 368.3h0M1158.3 364.5h0M1029.4 361.3h0M1201.7 357.4h0M1091.2 367.5h0M1070.7 376.1h0M1127 369.5h0M1171.6 361.7h0M1218.5 363.2h0M1203.8 360.6h0M1182 361.6h0M1086.4 355h0M1069.9 372.3h0M1289.2 370h0M1048.1 364.5h0M1018.5 367h0M1169 377.8h0M1174.6 373.6h0M1214.5 366.7h0M1186.9 375.6h0M1183.9 377.8h0M1158.7 364.2h0M1106.4 362.9h0M1071.1 358.9h0M1158.3 364.2h0M1197.9 376h0M1120.6 366.7h0M941.5 369.4h0M1076 381.4h0M1106.9 364.3h0M1093.8 366h0M1173.3 377.1h0M1138.7 369h0M1104.5 368.3h0M1218.2 367.7h0M1205.5 361.4h0M1167.9 362.8h0M1164.6 368.8h0M1242.8 374.2h0M1150 356.9h0M1133.8 374.9h0M1168.8 373.3h0M1233.3 353.8h0M1080.6 367h0M1112.6 371.6h0M1129.7 369.6h0M1103.5 372.5h0M1137.7 373.9h0M1140.6 379.6h0M1053.6 357.9h0M1147.2 350.3h0M1059.7 362.9h0M1141.1 365.8h0M1210.4 371.2h0M1121.5 374.6h0M1199.3 366.6h0M1096.5 363.8h0M1197 375.1h0M1094.8 366.8h0M1237.9 369.1h0M1222.7 359.8h0M1204.5 376.9h0M1234.5 359h0M1235.2 363.8h0M1162.4 359.2h0M1223.1 356.7h0M1207.3 363.6h0M1182.5 355.1h0M1197.4 360.6h0M1208.3 355.5h0M1200 362.3h0M1230.2 359.4h0M1219 359h0M1234.7 362.5h0M1213 357.4h0M1237.2 360.5h0M1182.8 317.7h0M1168.6 326.4h0M1154.5 333.5h0M1164.7 352.2h0M1158.3 324.6h0M1189.6 346.9h0M1174.9 346.4h0M1201.2 329.2h0M1169.7 324h0M1156.5 332.2h0M1159.4 337.4h0M1157 343.1h0M1134.5 336.9h0M1187.5 337.9h0M1154.3 340.3h0M1127.9 328.5h0M1170.7 346.4h0M1133.9 305.2h0M1152.4 330.3h0M1122.9 324.6h0M1127.4 337.5h0M1161.8 321.3h0M1132.6 324.1h0M1175.5 349.2h0M1156.7 348.4h0M1134.2 333.6h0M1314.3 363.1h0M1268.1 369.6h0M1313.3 352.8h0M1379.9 362.4h0M1327.3 359.9h0M1342.6 352.4h0M1312.5 377.2h0"/>
</g>
<g stroke="#c4e08c" stroke-width="6" stroke-linecap="round" fill="none" stroke-opacity="0.1">
<path d="M1064.4 281.1h0M1147 262.4h0M1187.8 280h0M1116.9 274.6h0M1035.7 263.5h0M1214.8 274.8h0M1070.8 265.2h0M1069.5 296.2h0M1029.7 284.1h0M1112.4 269.9h0M1056.8 279.1h0M1122 275.6h0M1113.1 289.1h0M1216.2 304.9h0M1073.2 286.2h0M1079.8 275.3h0M1151.3 295.3h0M1221 270.3h0M1189.4 270.7h0M1179.4 272h0M1224.1 271.2h0M1236 275.8h0M1184.3 275.8h0M1116.2 290.2h0M1116.9 289.6h0M1102.6 280.7h0M1129.1 278.1h0M1148.6 271h0M1069.2 273.7h0M1187.2 281.4h0M1200.7 265h0M1108.2 261.4h0M1196.7 290.7h0M1194.3 281.8h0M1153.5 288.8h0M1052.5 285.2h0M1203.6 282.8h0M1068.6 278.1h0M1095.2 272.2h0M1183.1 270h0"/>
<path d="M1239.1 274.4h0M1085.5 275.9h0M1035.7 261.6h0M1149.3 271.5h0M1116.8 286.1h0M1054.5 254.5h0M1086.2 285.8h0M1033.1 296.4h0M1159.3 265.3h0M1032.5 275.1h0M1200.9 257.6h0M1190.8 266h0M1039.1 265.6h0M1046.1 273.6h0M1161.4 275h0M1069.3 255h0M1135.2 287.7h0M1105.1 276.5h0M1199.9 262.1h0M1193.7 285.2h0M1218.2 295.6h0M1053.4 295.4h0M1164.4 273.7h0M1064.9 293.2h0M1032.8 279.5h0M1115.7 270.8h0M1040.8 277.2h0M1021.7 283.5h0M1169.8 269.2h0M1201.5 277.6h0M1029.5 280.5h0M1111.7 266.8h0M1083.4 263.5h0M1217 287.6h0M1060 277.7h0M1158.2 269.4h0M1105.2 268.5h0M1149.5 281.1h0M1200.8 291.5h0M1094.6 300.7h0"/>
<path d="M1159.3 289.1h0M1236.5 277.4h0M1144.5 273.9h0M1120.3 270.1h0M1166.5 260.5h0M1088.3 268.5h0M1141.8 278.2h0M1097.6 254h0M1158 299.1h0M1085.2 270.1h0M1223.8 288.8h0M1115.2 259.6h0M1081.7 290.5h0M1023.9 267.9h0M1175.2 260.3h0M1115.8 286h0M1130.2 285.6h0M1198.5 275.2h0M1021.9 282.6h0M1132.5 273.3h0M1171.9 264.3h0M1170 274h0M1126.5 267.5h0M1194.2 287.6h0M1022.2 302.6h0M1181.3 271.5h0M1080.2 266.3h0M1191.3 263.1h0M1108.5 268.4h0M1114.1 272.8h0M1221.3 277.2h0M1031.9 294.1h0M1066 291.6h0M1145.8 279h0M1098 283.4h0M1063.8 302.3h0M1076.8 271.9h0M1173.8 298.3h0M1228.3 299.6h0M1101.2 284.3h0"/>
</g>
<g stroke="#a2d56c" stroke-width="6" stroke-linecap="round" fill="none" stroke-opacity="0.1">
<path d="M1079.9 291.2h0M1076.6 286.7h0M1072.7 293.6h0M1077.4 290.2h0M1074.9 289.1h0M1066.8 289.3h0M1082.7 292.9h0M1066.8 289.8h0M1074.4 289.6h0M1079.1 291.1h0M1055.5 293.2h0M1085.7 289.4h0M1065.6 291h0M1074 286.5h0M1154.6 289.6h0M1168.2 290.8h0M1159.6 290h0M1180.3 289.1h0M1162.2 293.2h0M1151.2 293.8h0M1179 287.4h0M1185.5 283.1h0M1193.1 284.9h0M1185.6 284.2h0M1159.8 287.5h0M1165.6 285.5h0M1171.3 287.8h0M1158.3 289.3h0M1146.7 286h0M1169.7 288.7h0M1151.5 286.8h0M1162.1 285.4h0M1162.2 288.6h0M1170.3 284.7h0M1165.2 287.5h0M1151.3 284.9h0M1159.5 287.3h0M1164 282.8h0M1146 283.3h0M1167.6 290.3h0M1186.2 291h0M1174.5 285.6h0M1144 288.4h0M1126.9 289.8h0M1139.8 288.1h0M1111.6 288.3h0"/>
<path d="M1078.6 291.7h0M1082 287.3h0M1073.6 288.7h0M1072.2 291.7h0M1082.7 284.6h0M1069.5 288.2h0M1078.5 288.2h0M1063.4 289.6h0M1078.3 289.2h0M1074.7 289.6h0M1080.1 290.7h0M1078.9 287.7h0M1079.5 290.5h0M1077.9 290.1h0M1168.2 283h0M1166.2 282.9h0M1177.1 285.5h0M1178 286.1h0M1168.4 289.3h0M1185.6 289.7h0M1162.5 283.8h0M1167.3 284.1h0M1196.3 284.4h0M1175.7 287.3h0M1155.7 287.4h0M1192.8 287.7h0M1166.3 288.3h0M1140.4 288.3h0M1144.6 290.9h0M1176.1 287.8h0M1183.4 290h0M1138.5 289.6h0M1151.7 284.1h0M1164.6 284.4h0M1158.2 286.9h0M1154.8 282.7h0M1169.4 283.1h0M1173.7 289.3h0M1172.4 284.2h0M1173.3 292.3h0M1159.5 286.4h0M1158.6 285.8h0M1173.3 290.6h0M1146.1 294.5h0M1126.7 287.2h0M1122.6 288.3h0"/>
<path d="M1080.8 288.6h0M1087.3 286.6h0M1086.2 290.1h0M1074.8 288h0M1074 286.7h0M1083.8 293.7h0M1076 289.5h0M1065.6 286.1h0M1071.7 287.9h0M1066.9 287.6h0M1071.6 286.2h0M1076 290.8h0M1086.2 287.4h0M1075.8 289.8h0M1155 286.1h0M1169.7 290.9h0M1174.8 288.5h0M1181.6 292.5h0M1152.5 288.6h0M1175.3 288.2h0M1159.5 288.6h0M1155.2 285.9h0M1170.6 287.4h0M1172.6 287.8h0M1154.7 286.5h0M1184.2 285.6h0M1183 289.3h0M1160.4 290.1h0M1164.5 285h0M1171.8 288.2h0M1166.9 292.5h0M1185.8 285.2h0M1156 289.3h0M1155.4 288.2h0M1137.6 287.8h0M1198.9 284.6h0M1177.7 289h0M1181.3 284h0M1149.8 288.4h0M1164.5 279.1h0M1183 287.1h0M1149.9 288.6h0M1169.3 288.3h0M1138 290.8h0M1129.7 287.2h0M1141.8 289.4h0"/>
<path d="M1079 287.3h0M1077.7 287.9h0M1075.7 284.4h0M1064.4 289.7h0M1076.6 293.5h0M1092.3 290.4h0M1067.1 288.7h0M1069.5 289.4h0M1083.4 289h0M1082.8 288.2h0M1071.6 288.4h0M1078.1 289h0M1071 289.7h0M1070.1 288.9h0M1168.4 283.2h0M1172.4 287.5h0M1180.5 290.4h0M1165.3 287.1h0M1178.2 287.4h0M1179.4 282.4h0M1152.5 286.5h0M1177 284.4h0M1154.6 288.3h0M1177.8 283.7h0M1155.5 284.1h0M1179.3 284.1h0M1185.4 288.4h0M1158.9 285.2h0M1167.5 283h0M1186.5 285.4h0M1172.9 284.7h0M1144.5 284.6h0M1170.5 284.9h0M1143.3 291h0M1167.7 286.1h0M1180 285.8h0M1168.3 287h0M1151.3 283h0M1190.1 287.1h0M1176.1 289.5h0M1164.9 284.4h0M1198.2 286.5h0M1153.9 285.5h0M1123.7 290.6h0M1138.8 284h0M1119.1 281.6h0"/>
<path d="M1078.7 291.9h0M1074.8 288.3h0M1071.4 289.3h0M1067.3 291.2h0M1073 292.8h0M1068.8 289.7h0M1074.6 292.3h0M1063.7 286h0M1076.6 292.8h0M1072.7 292.5h0M1075.2 290.9h0M1082.1 284.4h0M1063.4 289.4h0M1088.3 290.6h0M1161.5 288h0M1176.5 287.1h0M1173.3 280.5h0M1158.7 283.9h0M1171.5 291.2h0M1158.2 284.4h0M1175.3 288.1h0M1162.4 288.5h0M1190.7 285.4h0M1191.5 285.7h0M1179.5 283.5h0M1173 284.8h0M1176.8 287.2h0M1165.1 290.3h0M1171.4 287.7h0M1160.4 288.6h0M1170.9 287.9h0M1177.6 288h0M1160 286.4h0M1173.6 286.1h0M1163.3 285.1h0M1175.4 293.3h0M1179.1 282.6h0M1163.9 285.4h0M1150.3 283.5h0M1167.5 285.8h0M1166.7 290h0M1195.3 285.1h0M1126.9 284.2h0M1126.1 292.3h0M1128.2 281.7h0M1140.6 294.5h0"/>
<path d="M1062.1 291.5h0M1087.7 288.7h0M1077.1 293.8h0M1078.3 294.8h0M1065.7 290.8h0M1077.1 287.7h0M1080 289.2h0M1067.4 289.2h0M1069.5 291.4h0M1078.2 289h0M1072 286.1h0M1089 289.8h0M1079.8 288.7h0M1073.5 288.5h0M1168.2 286.5h0M1172.5 284.4h0M1170.3 289.9h0M1152.7 287h0M1162.6 286.6h0M1178 288.2h0M1184.5 287.1h0M1196.8 288.5h0M1179.1 285.7h0M1166.8 282.9h0M1164.7 291.9h0M1164 285.5h0M1175.7 286.8h0M1152.7 285.6h0M1166.8 288.1h0M1167.1 287h0M1184 289.9h0M1175.5 287.2h0M1154.2 288.1h0M1172 285.3h0M1169.7 289.5h0M1156.7 285.5h0M1165.4 286h0M1152.8 286.3h0M1162.7 287.7h0M1169.8 286.7h0M1182 283.3h0M1174.5 285.5h0M1133.6 293.9h0M1137.7 287.1h0M1112.5 284.7h0"/>
<path d="M1079.4 292.2h0M1053.1 291.5h0M1073.7 290.6h0M1060.6 289.6h0M1072.8 289.4h0M1073.4 288.3h0M1072.8 289h0M1080.2 290.1h0M1064.2 291.7h0M1085.1 288.4h0M1069.7 290.8h0M1083.6 286.8h0M1078.6 290.3h0M1178.3 284h0M1166.9 286.3h0M1135.5 288.3h0M1144.7 287.3h0M1165.3 288h0M1151.3 288.7h0M1161 287.5h0M1164.3 287.8h0M1174 287.4h0M1165.5 290.6h0M1168.3 284.9h0M1176.6 288.3h0M1165.4 281.4h0M1161.4 288.9h0M1165.4 290.4h0M1162.4 285.3h0M1174 289.9h0M1185 288.8h0M1143.5 288.9h0M1161.5 289.3h0M1166.6 285.3h0M1202.3 284.5h0M1160.1 283.7h0M1148.8 281.2h0M1186.6 286.3h0M1157.9 291.4h0M1157.8 290h0M1181.7 287.5h0M1133.3 292.6h0M1133.9 286.7h0M1134.6 288.5h0M1125.7 289.1h0"/>
<path d="M1077.4 291.5h0M1070.3 289.6h0M1075.8 288.5h0M1068.2 287.8h0M1070.4 289h0M1081.1 287.1h0M1074.7 292.8h0M1075.9 291.1h0M1069.8 289.2h0M1074.6 288.1h0M1074.4 288.2h0M1073.1 288.1h0M1085.6 286.4h0M1166.3 283.8h0M1175 287.8h0M1179.4 281.9h0M1164.2 283.5h0M1179.1 285.3h0M1170.4 288.1h0M1182.8 287.8h0M1160.6 288h0M1168.4 285.2h0M1159.2 285.5h0M1182.4 285.8h0M1168.2 286.6h0M1166.2 290.5h0M1178.2 283.2h0M1169.7 288h0M1166.3 285.7h0M1164.9 290.4h0M1142.7 291.2h0M1171.5 280.6h0M1162.4 286h0M1148 283.5h0M1181.3 289.4h0M1180.4 286.3h0M1157.7 284.7h0M1164.6 282.4h0M1169.2 288.1h0M1185.3 289.4h0M1175.3 286.6h0M1183.8 285h0M1108.4 287.8h0M1123 283.4h0M1123.4 288.7h0"/>
</g>
<g stroke="#b176b0" stroke-width="6" stroke-linecap="round" fill="none" stroke-opacity="0.1">
<path d="M1096.2 225.3h0M1080.5 233.2h0M1116.4 224.6h0M1138.8 233.1h0M1094.2 220.2h0M1144.1 231.4h0M1063.2 218.8h0M1130 228.7h0M1097.8 221.9h0M1103.5 222.2h0M1128.4 227.9h0M1120.7 224.9h0M1089.4 215h0M1114.4 241.4h0M1102.4 232.6h0M1097.3 233.6h0M1135.4 243.6h0M1130.7 232.1h0M1116.6 229.3h0M1116.4 223.4h0M1132.5 224.3h0M1145.8 241.2h0M1119.4 219.2h0M1086.1 227h0M1073.5 228.9h0M1062.5 217.4h0M1102.3 224.1h0M1127.3 236.8h0M1117.5 232.1h0M1085.4 217h0M1112.8 233.4h0M1112.9 241.3h0M1068.2 227.6h0M1118.6 225.9h0M1158.5 225.9h0M1107 238.6h0M1128.5 226.8h0M1100.8 240.5h0M1147.3 225.6h0M1130.8 231.5h0M1122.5 234.5h0M1171.9 223.8h0M1113.6 235.7h0M1122.8 226.4h0M1141.2 234.6h0M1121.1 225.9h0M1125.5 221.8h0M1107.8 224.8h0M1120.6 225.7h0M1094.4 238.1h0M1160 215.2h0M1149.3 220.8h0M1071.2 235.5h0M1062.8 220.5h0M1128.1 229.2h0M1112.1 237.9h0M1129.6 238.5h0M1107.9 236.8h0M1093.7 233.7h0M1123.7 222.6h0M1150 236.3h0M1124.4 230.9h0M1132.3 213.6h0M1127.8 222.2h0M1083.3 221h0M1090.8 240.4h0M1139.5 234.8h0M1131.1 222.1h0M1093.1 229.1h0M1158.7 225.9h0M1090.9 220.9h0M1138.8 222.6h0M1141.2 214.4h0M1082.6 231.8h0M1147.2 222.7h0M1117.3 229.8h0M1070.6 226.6h0M1136.7 230.2h0M1109.1 227.7h0M1134.3 217.8h0M1119.9 234.6h0M1145.4 229.1h0M1103.6 221.4h0M1107.6 238.8h0M1146.3 234.2h0M1115.2 239.3h0M1105.3 230.7h0M1117.4 217.7h0M1079.3 234.7h0M1163.8 210.4h0M1046.9 235.5h0M1029.5 221.8h0M1027.4 237.7h0M1091.9 226.5h0M1069.1 207.1h0M1130.7 239.9h0M1170.8 226.3h0M1079.3 254.1h0M1094.8 217.6h0M1162.4 234.3h0M1105.7 222.5h0M1187.9 228.1h0M1122.8 223.9h0M1131.2 217.6h0M1127.1 223.8h0M1060 241.8h0M1131.1 233.3h0M1119.4 232.6h0M1125.7 229.1h0M1128.3 245.9h0M1089.8 237.2h0M1082.4 232.3h0M1160.1 236.5h0M1085.8 243.8h0M1153.7 217.1h0M1050.9 244.3h0M1135 225.7h0M1131.3 237.4h0M1398.5 217.8h0M1452.5 212.2h0M1411.5 217.3h0M1458.3 214.2h0M1246.4 216.6h0M1205.9 219.8h0M1180.4 221.2h0M1243.8 220.1h0M1168.5 220.2h0M1371.3 216.1h0M1250.2 217.6h0M1179.3 217.2h0M1200.3 224.4h0M1435.4 212.9h0M1162.5 221.1h0M1167.2 220.1h0M1429.7 215.1h0M1445.1 218.2h0M1357.8 218.1h0M1235.3 213.6h0M1196.6 221.8h0M1206 218.2h0M1154.4 220.4h0M1429.2 220.2h0M1349.8 217h0M1291.2 216.9h0M1338.8 220h0M1430.8 217.9h0M1307.9 216h0M1282.1 217.4h0M1330.2 218.3h0M1289.9 226.8h0M1269.6 260.9h0M1314.6 250.6h0M1192.5 240.7h0M1267.8 241.9h0M1116.9 219.2h0M1152.3 245.9h0M1101.7 284.8h0M1138.9 260.8h0M1137.6 259.9h0M1246.1 267.4h0M1131.2 251.1h0M1156.2 257.8h0M1206.5 268.3h0M1146.6 195.4h0M1165.4 208.8h0"/>
<path d="M1163.2 224.2h0M1136.8 227.8h0M1098.6 216.2h0M1112.9 226.8h0M1131 233.6h0M1106.6 237.1h0M1082.4 241.1h0M1131.6 222.9h0M1114.4 225.9h0M1086.4 220.8h0M1103.8 219.3h0M1100.1 212.8h0M1112.6 226.8h0M1099.2 233.9h0M1073.9 222.7h0M1093.4 225.1h0M1109.1 225.2h0M1144.8 223.7h0M1155.5 214.9h0M1113.1 223.3h0M1105.6 222.5h0M1105 236.3h0M1152.7 221.6h0M1098 234.9h0M1133.1 220.6h0M1094.6 226.6h0M1125.7 232.2h0M1108.6 221.1h0M1134.6 217.7h0M1055.2 230.3h0M1136.2 220.1h0M1132.2 216.3h0M1072.2 225.4h0M1108.5 230.8h0M1108.6 229.9h0M1105.1 224.7h0M1124.1 237.5h0M1065.1 231.5h0M1107.9 231.7h0M1125.3 236.9h0M1130 235h0M1138.6 219.5h0M1144.1 226h0M1119 220.6h0M1097.7 221h0M1118.6 227.6h0M1136.9 206.1h0M1113 222h0M1129.7 223h0M1108.5 215.6h0M1128.5 212.7h0M1093.7 224h0M1116.9 220.9h0M1089.7 228.4h0M1093.3 226.6h0M1120.6 225.6h0M1137 232.5h0M1091.9 242.2h0M1118.1 216.6h0M1138.1 226.9h0M1119.2 225.5h0M1129.2 228.4h0M1110.2 230.5h0M1107.8 222.6h0M1085.9 225.1h0M1105 218.3h0M1124 223.8h0M1101.4 222.9h0M1117.3 216.8h0M1143.7 219.5h0M1082.3 222.6h0M1118.7 219h0M1071.1 228.8h0M1142.1 227.9h0M1131.3 233.5h0M1100.1 222.3h0M1079.4 230.8h0M1040 229.2h0M1105.7 220.8h0M1091.3 222.1h0M1114.1 230.4h0M1074.7 232.5h0M1115.2 226.4h0M1118.5 226.2h0M1124.9 233.7h0M1129.2 234.5h0M1066.9 231.3h0M1113.8 233.4h0M1073.7 218.4h0M1021.7 215.6h0M1120.9 232.7h0M1086.7 240.8h0M1057.4 222.9h0M1113.2 232.8h0M1175.3 224.2h0M1124.2 235.3h0M1074.7 224.6h0M1143.7 213h0M1157.8 228.9h0M1182.8 224h0M1138 231.5h0M1143.6 225.6h0M1096.8 228.2h0M1099.2 235.7h0M1151.7 233.8h0M1187.2 231.4h0M1188.7 228.5h0M1135.2 233.6h0M1084.3 258.2h0M1124.8 224.5h0M1109.1 200.4h0M1079.1 237.5h0M1124.2 226.7h0M1171.8 241.9h0M1119.5 219.7h0M1126.9 203.4h0M1046.2 242.8h0M1097.4 213.9h0M1263.7 218.2h0M1310.8 220.4h0M1178.6 225.7h0M1252.5 222.9h0M1173.9 218.3h0M1192.1 218.1h0M1198.6 215.7h0M1184.5 215.9h0M1281 217.3h0M1150.6 218.7h0M1287.9 218h0M1300.6 214.4h0M1240.6 219.4h0M1347.6 216.7h0M1348.8 215.8h0M1301.1 219h0M1282.1 216h0M1431.6 217.9h0M1437.1 215.5h0M1328.2 216.8h0M1397.3 215.4h0M1207.1 220.4h0M1187.6 217h0M1181.9 219.7h0M1364 220.2h0M1288.1 218h0M1347.3 221.3h0M1438.7 215.7h0M1311.3 219h0M1265.6 216.4h0M1335.3 220.2h0M1105.2 264h0M1176.9 262.3h0M1276.6 257.8h0M1319.6 212.9h0M1229.2 236.6h0M1301.7 265.4h0M1264 291.5h0M1208.2 276.6h0M1134.6 251.7h0M1135.4 268.1h0M1207.5 263.2h0M1127.4 248.4h0M1180.4 262.4h0M1248.6 290.1h0M1124.2 208.3h0M1142.4 207.3h0"/>
<path d="M1075.3 229.6h0M1088.4 226.1h0M1125.5 216.3h0M1078.3 217.6h0M1095 236.8h0M1086.2 210.1h0M1135.9 222.4h0M1114.2 231.2h0M1116.8 226.8h0M1147.7 239.8h0M1091.7 225.4h0M1111.2 241h0M1115.7 230.7h0M1075.4 231.5h0M1085.3 231.6h0M1070.5 224.1h0M1124.3 228.3h0M1160.2 232.7h0M1103 218.3h0M1079.7 228.6h0M1123.4 225.6h0M1084.1 232.3h0M1086.2 225.3h0M1110.7 218.1h0M1125.6 228.8h0M1142 230.6h0M1131.5 229.3h0M1141.9 229.9h0M1105.3 227.4h0M1059.1 232.1h0M1027.8 232.7h0M1097.3 237.7h0M1071.4 226.2h0M1100.8 228h0M1111.2 235.9h0M1171 231.6h0M1146.2 234.3h0M1079.1 234.6h0M1091.2 230.4h0M1111.9 234.2h0M1095.2 228.9h0M1083.7 231h0M1092.7 226.5h0M1136 236.6h0M1144.2 238.6h0M1053.2 221.6h0M1093.1 221.2h0M1130.4 234.6h0M1122.3 232.5h0M1112.2 226h0M1093.8 238.6h0M1109.2 223.8h0M1062 223h0M1084.4 228h0M1134.6 211.4h0M1104.3 228.3h0M1069.3 235.4h0M1109.5 225.9h0M1161.3 221.4h0M1104.4 233.4h0M1099.5 235.4h0M1094 226.4h0M1097.5 230h0M1151.1 229.1h0M1128.5 223.4h0M1113.4 228.2h0M1085.5 223.7h0M1099.7 224.4h0M1115.6 229.9h0M1126.6 222.8h0M1128.5 230.4h0M1085.6 235.1h0M1094.9 229.1h0M1118.8 227.6h0M1132.6 228.6h0M1095.4 230.8h0M1109.4 218.4h0M1089.6 220.5h0M1129.6 214.4h0M1116.1 226.3h0M1159.6 234.9h0M1118.7 217.7h0M1089.8 227.1h0M1097.8 217.5h0M1110.9 226.1h0M1089.9 225.1h0M1141.4 215.2h0M1130.8 226h0M1076.9 234.3h0M1079.3 248.6h0M1096.8 231.2h0M1124.7 221.5h0M1092.7 219.9h0M1144.7 211.5h0M1092.7 231.6h0M1136.4 217.3h0M1071.2 220h0M1112.4 232.3h0M1078.1 242.9h0M1094.8 230.8h0M1103.1 216.9h0M1137.8 230.6h0M1133.4 234.4h0M1040.6 222.2h0M1112.2 195.5h0M1110.9 230.5h0M1049.1 240.2h0M1072.4 235.4h0M1083.5 229.6h0M1036.1 225.9h0M1155.3 217h0M1160.6 216.7h0M1090.7 227.3h0M1175.3 220.6h0M1079.8 220.8h0M1109 234.1h0M1106.8 219.7h0M1114.4 214.8h0M1158.5 217.6h0M1364.6 214.1h0M1236.5 219h0M1152.7 216.7h0M1276.1 212.8h0M1226.5 219h0M1215 220.6h0M1440.7 217.7h0M1192.3 221.6h0M1439.5 213.6h0M1231.2 215.5h0M1450.7 215.3h0M1303.3 219.8h0M1336.4 218h0M1345.1 219.3h0M1412.5 212.8h0M1422.3 215.7h0M1167.5 218h0M1294.1 215.4h0M1171.4 221.2h0M1286.7 217.7h0M1249.1 219.2h0M1153.5 224.8h0M1194.4 215.8h0M1270.2 217.1h0M1291.7 221.3h0M1340.5 216.3h0M1434.8 213.8h0M1318.2 215.2h0M1267.6 216.6h0M1328.6 216.5h0M1223.6 208h0M1218 279.4h0M1329 206.3h0M1217.3 224.6h0M1255.6 228.6h0M1301.4 288.2h0M1105.3 275.2h0M1259.4 307.1h0M1240.3 271.6h0M1132.9 283.3h0M1126.8 258.2h0M1222.3 265.1h0M1246.8 269.1h0M1182 256.5h0M1102.1 213.1h0M1111.9 218.5h0"/>
<path d="M1113.8 232.2h0M1147.1 229h0M1119.6 230.8h0M1079.9 229.8h0M1108.3 222.5h0M1116.5 221.6h0M1097.5 227.9h0M1123.2 233.8h0M1111.6 227.7h0M1110.6 231.2h0M1065 221.8h0M1092.3 238.1h0M1089.8 223.6h0M1143.2 229.8h0M1113.4 222.7h0M1124.3 229.5h0M1089.9 218.2h0M1104.8 218.4h0M1072.3 235.7h0M1098.7 226.6h0M1129.4 227.8h0M1134.3 221.1h0M1115 208.8h0M1107.5 220.6h0M1100.9 225.3h0M1106.9 227.8h0M1102 230.2h0M1128.8 231.6h0M1102.1 216.3h0M1079.1 234.1h0M1145.3 223.8h0M1130.2 214.2h0M1098.3 231.7h0M1088.8 220.4h0M1096 233.7h0M1105.7 221h0M1108.7 225.6h0M1136.5 225.3h0M1116.1 239.5h0M1130.6 228h0M1107.4 236.5h0M1150.7 239.6h0M1085 239.4h0M1149.1 233.6h0M1111 231h0M1140 225.5h0M1096.2 219.9h0M1079.1 225.2h0M1110.8 240.9h0M1089.1 231.5h0M1105.4 228h0M1133.2 236h0M1103.2 225.9h0M1064.5 219h0M1087.4 231.7h0M1119.2 227h0M1091.3 215.2h0M1080.9 222.6h0M1121.9 223.9h0M1076.4 231.6h0M1097.8 224h0M1085.8 231.5h0M1155.6 236.4h0M1095.4 220.6h0M1063.7 232.6h0M1088.8 227.8h0M1123.1 242.6h0M1159.9 232.4h0M1116.6 223.8h0M1098 241.3h0M1096.7 220.8h0M1128.8 220.8h0M1104.2 224.1h0M1100.8 224.6h0M1101.8 225.8h0M1105.8 226.8h0M1128.5 232.2h0M1119.5 231.6h0M1117.2 229.5h0M1121.1 223.9h0M1070.7 232h0M1110 230.1h0M1093.8 223.4h0M1074.3 236.7h0M1106.5 224h0M1108.1 210.9h0M1115.4 239.4h0M1089.7 232.4h0M1078.3 254.1h0M1156.2 218.2h0M1079 216.4h0M1100.8 248.7h0M1142.5 231.3h0M1127.2 249.2h0M1150.9 223.8h0M1126.8 221.9h0M1098.1 227.8h0M1086 213.6h0M1018 220.3h0M1051.1 242.9h0M1074.2 230.4h0M1108 229.3h0M1120.8 226.1h0M1086.2 227h0M1115.7 224.3h0M1145.5 222.1h0M1144.6 226.3h0M1065.1 216.4h0M1041.8 223.6h0M1197.2 240.5h0M1117.8 230.7h0M1161.2 238.2h0M1085 226.2h0M1076 226.1h0M1162.6 219.7h0M1088.6 237.5h0M1154.1 229h0M1058.1 218.4h0M1215.2 218.5h0M1406.6 216.1h0M1243.2 217.8h0M1291.8 217.7h0M1335.7 218.7h0M1353.8 216.7h0M1385.7 215.8h0M1301.7 217.3h0M1151.6 219.3h0M1312.8 213.8h0M1177.8 218.5h0M1165.4 213.5h0M1177.5 218.5h0M1267.3 222.5h0M1451 217.6h0M1190.4 217.1h0M1223 215.2h0M1368.1 221.6h0M1329.1 215h0M1376.9 222.2h0M1184 219.4h0M1355.5 217.1h0M1150.1 223.2h0M1335.1 208.9h0M1273.6 217.4h0M1290.2 219.1h0M1351.2 214.1h0M1430.7 214.6h0M1313.5 216.5h0M1267 217.7h0M1329 220.7h0M1170.4 254.7h0M1169.9 295.5h0M1276.1 260.9h0M1088.8 242.4h0M1102.8 267.6h0M1136.7 271.2h0M1322.7 235.5h0M1106.1 245.4h0M1182.6 274.8h0M1113.2 254.4h0M1134.1 246.7h0M1208.6 295.6h0M1212.6 282.1h0M1157.6 251.6h0M1187.1 186.3h0"/>
<path d="M1101.2 237.6h0M1140.9 228h0M1120.4 216.8h0M1115.9 222.8h0M1085.7 230.5h0M1108.3 223.7h0M1115.3 228.8h0M1154.5 221.2h0M1159.5 241.6h0M1101.8 228.4h0M1140.2 226.4h0M1090.5 224.4h0M1139.3 223.1h0M1067 228.4h0M1115.3 227.5h0M1137.6 228.5h0M1155.2 221.6h0M1130.7 227.7h0M1108.3 229.7h0M1091.2 228.9h0M1094.8 220.2h0M1077.9 241.6h0M1099.9 235.2h0M1120.7 226h0M1144.7 242.8h0M1081 236.5h0M1131.2 235.1h0M1125.3 216.1h0M1071.4 212.8h0M1101.3 236.7h0M1127.4 232.1h0M1108 225.1h0M1122 216h0M1101.4 215h0M1057.3 226h0M1095.8 228.3h0M1114 222.9h0M1130.6 240.3h0M1100.6 235.3h0M1116.7 224.7h0M1081.7 244.3h0M1114.2 229.9h0M1132.9 226.7h0M1113.1 232.9h0M1108.6 222.6h0M1116.9 230.3h0M1091.7 233.6h0M1116.8 240.6h0M1126.6 227.8h0M1049.5 234.9h0M1098.9 226.3h0M1105.6 239.2h0M1156 230h0M1124.7 221.6h0M1143.6 225.7h0M1129 218.8h0M1116.6 220.8h0M1102.4 220.4h0M1107.1 225.1h0M1132.5 226.7h0M1109.2 227.9h0M1104.9 226.5h0M1119.7 225.6h0M1131.3 224.7h0M1127.1 229.5h0M1096.4 239.2h0M1143.7 221.8h0M1125.4 221.4h0M1104.6 238.7h0M1121 233h0M1119.5 230.8h0M1100 238.1h0M1123.2 237.2h0M1095.9 224.1h0M1081.6 226.8h0M1074.9 230.1h0M1111.1 222.2h0M1119.8 222.6h0M1075.6 234.7h0M1106.1 221.2h0M1068 232.4h0M1082.1 226.8h0M1096.8 224.3h0M1079.5 236.6h0M1103.7 230.9h0M1101.3 220.3h0M1102.3 235.5h0M1079.1 234.5h0M1113.9 236.6h0M1127.4 236.8h0M1164.5 229.1h0M1121.9 229.8h0M1137.4 233h0M1131.5 240.2h0M1114.8 208.1h0M1092.5 232.3h0M1189.1 233h0M1152.7 242.4h0M1045.4 226.2h0M1070.7 217.3h0M1163.8 220.5h0M1130.4 229.5h0M1097 230.7h0M1165.4 212.3h0M1083.5 229.7h0M1113.8 222.7h0M1103.9 239.6h0M1176.8 235.1h0M1212.9 243.6h0M1130.2 240.9h0M1057.6 240.1h0M1084.5 232.6h0M1159.8 237.5h0M1106.6 234.7h0M1183.2 227.3h0M1126.8 228.2h0M1164.8 226.5h0M1199.2 241.5h0M1150.9 216h0M1292.1 218.4h0M1318 214.1h0M1457.1 215.7h0M1364.1 213.2h0M1152.5 223.3h0M1361.1 211.4h0M1323.3 213.9h0M1426.4 216.3h0M1406.3 216.3h0M1421.3 215h0M1203.6 217.1h0M1455.8 222.3h0M1448.6 217.2h0M1301.7 220h0M1324.6 214.9h0M1321.9 217.2h0M1164.6 219.2h0M1376.6 213.8h0M1246.6 215.7h0M1256.3 223h0M1272.6 213.7h0M1341 217.1h0M1360.2 214.9h0M1259.1 217.1h0M1287.1 217.6h0M1354.6 218.2h0M1449.3 215.8h0M1307.3 216.4h0M1283.7 214.8h0M1323.1 249.4h0M1302.4 255.7h0M1118.2 272.1h0M1114.4 214.4h0M1161.4 255.8h0M1114.7 219h0M1305 263.8h0M1320.6 273.3h0M1169.7 256.5h0M1101.3 267.3h0M1226.9 267.2h0M1191.1 267.4h0M1100.2 240.4h0M1149.2 262.1h0M1162.6 264.2h0M1100.5 192.6h0"/>
<path d="M1125 245.1h0M1113.6 229h0M1130.4 222.9h0M1104.9 237.4h0M1108 229.4h0M1104.4 220.6h0M1081 220.6h0M1112 216.1h0M1137.3 214.5h0M1142.7 234.3h0M1108.8 224.6h0M1137.9 220.6h0M1082.5 220.7h0M1089.2 234.1h0M1079.1 236.7h0M1132.4 232.8h0M1114.5 231.8h0M1096.2 234.3h0M1112.8 225.2h0M1105.8 234.5h0M1122.8 217.8h0M1137.3 242.9h0M1115.3 228.9h0M1119.7 228.8h0M1038.1 227.3h0M1094.8 223.1h0M1123.1 224.5h0M1114.9 224.6h0M1080.4 218.2h0M1110 225.1h0M1085.9 232.9h0M1128.5 229.3h0M1119.3 217.6h0M1116.2 228.3h0M1095.1 233h0M1095 244.3h0M1143.2 233.8h0M1133.8 225.9h0M1087.8 234.8h0M1070.6 227.1h0M1133.4 226.1h0M1102 225.2h0M1087.1 219.2h0M1119.5 228.1h0M1159.9 224.9h0M1139.9 219.3h0M1121.4 223.2h0M1106.9 226.2h0M1093.7 226.3h0M1067.4 219.5h0M1138.1 220h0M1108 221.7h0M1102.5 220.1h0M1105.9 230h0M1093 222.1h0M1118.5 234.4h0M1097.1 225.4h0M1126.6 222.2h0M1113 234h0M1110.1 233.5h0M1106.4 222.3h0M1114 237.8h0M1102.1 236.2h0M1070.3 223.5h0M1098.6 224.6h0M1094.7 218.2h0M1083.1 240.3h0M1072.8 244.2h0M1081.9 228.8h0M1124.5 231.7h0M1067.6 225.3h0M1085.4 217.6h0M1100.8 233.1h0M1122.8 225.6h0M1118.8 224.4h0M1120.1 230.2h0M1095.2 223.8h0M1155.5 226.2h0M1106.3 212.6h0M1086.3 231h0M1090.6 230h0M1149 222.5h0M1089.3 224.3h0M1112.3 227h0M1105.8 227.5h0M1108.9 212.4h0M1099.1 231.6h0M1090.4 234.3h0M1102.3 221.5h0M1120.4 232.1h0M1125.2 238.3h0M1133.3 215.5h0M1107.5 220.7h0M1097.6 240h0M1088 213.2h0M1042.4 241.7h0M1205.9 213.3h0M1087.6 232.8h0M1101.5 242.4h0M1057.2 219.8h0M1084 239.5h0M1086 220.6h0M1111.9 232.6h0M1045.4 232h0M1065.5 243.8h0M1158.3 239.5h0M1113.7 230.4h0M1147.6 222.5h0M1155.9 232.5h0M1121.7 242h0M1071 225.6h0M1072.8 227h0M1107.6 225h0M1048.9 236.6h0M1067 234.6h0M1072.1 224.2h0M1154.3 217.3h0M1039.1 246.1h0M1337.5 219.2h0M1249.6 215.3h0M1457.7 211.2h0M1315.7 216.2h0M1154.7 220.1h0M1251.9 220.5h0M1459.1 219.7h0M1254 218.7h0M1233.4 219.7h0M1258.6 219h0M1190 218.3h0M1166.4 218.9h0M1383.4 217.5h0M1460.2 213.7h0M1184.6 217.1h0M1269.8 215.8h0M1442.8 216.2h0M1405.9 216h0M1299.5 213.8h0M1163.9 215.3h0M1186.9 221.9h0M1197.8 217h0M1390.1 217.5h0M1358.7 214.5h0M1251.2 217.6h0M1300.7 215.2h0M1337 216.1h0M1439.2 215.4h0M1308.7 217.7h0M1266.8 220.5h0M1280.2 250.7h0M1207 208.2h0M1234.5 288.3h0M1321.6 228.7h0M1266.4 217.4h0M1118.7 286.8h0M1293.8 270.7h0M1140.2 212.4h0M1220.2 275.7h0M1153.9 262.7h0M1256 290h0M1231.6 264.3h0M1150.3 276.5h0M1190 290.7h0M1240.8 272.7h0M1112.4 195.3h0"/>
<path d="M1124.2 229.4h0M1113.7 229.8h0M1120.1 225.1h0M1081.9 224.8h0M1181.8 234.1h0M1108.3 232.5h0M1142.6 227.1h0M1125.1 238.5h0M1124.3 237.1h0M1134.5 232.4h0M1129.5 234.2h0M1096.8 235.5h0M1124.2 241.4h0M1118.1 227h0M1112 233.6h0M1125.5 234.5h0M1130.5 230.9h0M1134.3 234.2h0M1102.6 217.9h0M1096 229.9h0M1120.9 211.5h0M1101.7 223h0M1131.6 230h0M1088.9 228.2h0M1131.9 217.4h0M1175.8 222.7h0M1105.7 220.6h0M1109.3 225.8h0M1110.3 233.1h0M1111.5 224.7h0M1102.2 234.8h0M1116.5 221.6h0M1118.5 218.9h0M1082.6 230.3h0M1096.8 235.3h0M1157.1 236.3h0M1130.7 224.8h0M1167 212.6h0M1120.1 233.3h0M1142.3 224.1h0M1103.5 222.7h0M1109.3 221.7h0M1107.1 222h0M1137.9 218.3h0M1071.9 231.8h0M1068.1 215.6h0M1161.5 236.5h0M1128 226.8h0M1116.8 225.2h0M1089.4 231.5h0M1062.8 225.6h0M1127.1 227h0M1086 224.3h0M1149.3 233.3h0M1093.5 222.2h0M1115 220.4h0M1093.1 226.5h0M1107 228.5h0M1110.4 226.3h0M1117.3 223.5h0M1094.8 238.5h0M1092.6 219.6h0M1104.1 235.7h0M1070.3 222.5h0M1152.6 222.4h0M1074.8 235.4h0M1108.3 234.4h0M1101.4 231h0M1112.6 233.5h0M1118.4 227.2h0M1120.8 221.2h0M1125.9 230.7h0M1079.6 227h0M1135.7 227.1h0M1093 239.9h0M1141.8 228.5h0M1117.2 217h0M1091.9 233.4h0M1138 238.7h0M1109.5 228.8h0M1050.8 241.7h0M1123.5 231.2h0M1097.2 234.1h0M1084.3 224.7h0M1122.1 228h0M1144.1 228.7h0M1089.4 235.5h0M1123.2 235.5h0M1068.1 232.7h0M1080.8 244.8h0M1110.2 220.7h0M1099.7 227h0M1110.2 230h0M1087.3 221.7h0M1071.4 241.2h0M1155 236.1h0M1047.7 219.5h0M1036.2 227.5h0M1107.6 230.9h0M1174.4 231.5h0M1140 223.6h0M1173.4 247h0M1131.9 226.5h0M1061.9 226.2h0M1127.7 221h0M1052.2 235.1h0M1136.3 235h0M1127.7 227.9h0M1180.5 253.8h0M986.8 214h0M1070 229.6h0M1136.8 243.7h0M1127 227.3h0M1042.3 220h0M1081.4 232.3h0M1109.8 206.7h0M1166.1 245.5h0M1080.7 221h0M1426.4 211.5h0M1395.8 217h0M1369 216.2h0M1319.8 216.5h0M1221.1 219.9h0M1300 217.9h0M1456.7 218.4h0M1429.2 217.1h0M1151.2 217h0M1379.1 220h0M1284.1 222.5h0M1346.7 216.9h0M1423.7 214.3h0M1416.9 219.6h0M1453.9 221.1h0M1440.2 219.3h0M1155.3 221.9h0M1282.5 222.9h0M1374.2 222.5h0M1176.7 223.4h0M1415.1 217.5h0M1419.8 216.7h0M1425 215.4h0M1356.3 216.9h0M1267.9 217.6h0M1285.9 220h0M1340.6 218.8h0M1444.5 213.6h0M1316.6 216.3h0M1342.3 219.3h0M1174.5 275.9h0M1099.9 254.9h0M1165.4 232.3h0M1254.7 253.7h0M1218.6 258.3h0M1302.8 298h0M1313.2 294.2h0M1279.4 286.4h0M1135.6 263.6h0M1254.6 287h0M1198 259h0M1141.7 253.3h0M1245.1 266.7h0M1102.5 253.4h0M1223.1 315.4h0M1178.4 192.9h0"/>
<path d="M1144.9 233.7h0M1131.3 235.9h0M1158.1 223.7h0M1081.5 241.3h0M1108.4 220.2h0M1118.9 239.4h0M1134.4 227.2h0M1114.8 235.7h0M1120.8 217h0M1129.8 222.6h0M1115.6 224.5h0M1104.6 232.9h0M1138.7 217.8h0M1117.1 220.1h0M1141 243.7h0M1102 238.6h0M1089.2 230.6h0M1083.8 221.2h0M1129.8 232.2h0M1088.1 213h0M1120.4 228.8h0M1157.9 226.3h0M1074.6 218.4h0M1110.9 228.3h0M1094.7 229.9h0M1127 228.3h0M1165.6 228.6h0M1149.4 226.3h0M1199.3 224.3h0M1113.3 223.8h0M1118.8 225.3h0M1135.7 229.8h0M1091 218.6h0M1104.8 221.5h0M1125.7 234.4h0M1113.7 221h0M1103 235.3h0M1159.4 224.6h0M1105 236.4h0M1148.6 230.8h0M1129.4 238h0M1107.8 218.9h0M1111.9 234h0M1067.6 231.8h0M1130 236h0M1072.7 224.3h0M1117.5 231.4h0M1140.7 232.6h0M1141.4 222.8h0M1102.7 237h0M1127 225h0M1075.5 231.5h0M1143.5 231.3h0M1074.1 229.1h0M1110.8 224.2h0M1151.9 230h0M1108.1 224.1h0M1138.4 228.1h0M1128.7 240h0M1102.7 228.4h0M1101.5 229.5h0M1116.6 231.2h0M1104.5 225.1h0M1087.8 236.7h0M1099 217.2h0M1097.2 238.9h0M1105.4 224.4h0M1093.8 227.9h0M1078.4 216.6h0M1094.4 217.7h0M1124.6 221.4h0M1122.5 232.9h0M1101.2 234.3h0M1104.7 213.4h0M1088.1 240.6h0M1111.1 223.3h0M1083.3 227.2h0M1084.3 224.3h0M1106.7 221.8h0M1126.1 236.9h0M1115 227.3h0M1102.3 239.8h0M1127.1 229.9h0M1095 224.2h0M1079.5 233.6h0M1161.8 220.7h0M1108.3 225.7h0M1083.4 228.7h0M1131.2 232.2h0M1122.4 211.4h0M1159.5 238.9h0M1064.2 218.6h0M1141.4 239.3h0M1112.8 234.7h0M1143.8 220.5h0M1111.6 237.6h0M1163 210.6h0M1087.5 256.9h0M1047.1 219.3h0M1160.9 231.2h0M1147.9 224.1h0M1106.5 233.9h0M1034.5 231.2h0M1034.6 225.4h0M1027.5 231h0M1218.9 236.4h0M1099 229.1h0M1127.5 231.3h0M1105.1 217.5h0M1121 233.8h0M1117.4 211.1h0M1098 235.1h0M1121.3 227.2h0M1142.7 228.6h0M1065.4 229.8h0M1183 233.9h0M1086 236.3h0M1081.5 235.1h0M1416.9 216.7h0M1217.4 214.6h0M1453.7 217.6h0M1403.3 217h0M1231.6 216.7h0M1173.3 220.5h0M1196.9 218.1h0M1263 218.8h0M1428.5 214.4h0M1321.5 218.6h0M1333.2 216.8h0M1367.7 219.4h0M1263.5 213.3h0M1445.5 220h0M1329.9 221.9h0M1305.6 216.5h0M1331.6 220.5h0M1191.8 220.7h0M1335.6 220.4h0M1226.9 214.8h0M1278.7 221.4h0M1349.2 218.2h0M1215.1 219.8h0M1365.7 218.2h0M1260.5 216.5h0M1298.8 221.1h0M1330.1 217.2h0M1429.7 216.7h0M1319.4 215.8h0M1321.6 214.6h0M1135.1 224.7h0M1251.4 214.6h0M1108.7 214h0M1309.2 249.8h0M1132.6 237.5h0M1111.9 209.2h0M1254.5 235.8h0M1245.5 218.7h0M1186.8 279.9h0M1253.9 286.3h0M1163.5 259.7h0M1255.8 305.2h0M1259.7 290.8h0M1255.4 273.8h0M1234.4 274.1h0M1034 186.4h0"/>
<path d="M1091.9 233.2h0M1106.9 221.1h0M1105.3 229.7h0M1101.4 237.5h0M1100.5 222.8h0M1124.4 230.3h0M1115.6 229.3h0M1159.6 230.5h0M1102.1 245.4h0M1127.8 215.7h0M1127 233.9h0M1170.5 220.5h0M1113 223.4h0M1104.1 232.7h0M1117 225.5h0M1134.3 211.7h0M1124.3 219h0M1079.4 227.8h0M1103.9 239.7h0M1124.3 226.1h0M1106.9 231h0M1066.4 226.8h0M1110 210h0M1111.9 225.2h0M1125.5 229.5h0M1093.1 223.5h0M1131.1 232.5h0M1116.8 214.2h0M1136.2 233.4h0M1111.3 233.4h0M1135.2 231.9h0M1123 233.5h0M1104.6 228.6h0M1137.3 224.3h0M1067.1 226.2h0M1111.7 219h0M1123.8 209.7h0M1089.5 229.2h0M1067.1 221.5h0M1137.5 217h0M1126.4 225.5h0M1129.2 233.6h0M1093 228h0M1105.3 234.6h0M1103 231.4h0M1109.7 227.6h0M1094.3 244.6h0M1099.4 225.8h0M1128 221.4h0M1125.9 217.7h0M1073.4 222.1h0M1135.9 229.5h0M1126.3 229.2h0M1140.9 226.7h0M1136.8 222.2h0M1102.7 229.5h0M1149.7 234.7h0M1086 222.2h0M1146 230.1h0M1096.5 218.3h0M1125.8 232.5h0M1125.8 230.8h0M1131 228.9h0M1066.6 230.9h0M1101 226.3h0M1156.6 241.9h0M1121.3 216.6h0M1108.7 237.7h0M1138.8 218.8h0M1104.1 218.4h0M1076.7 236.1h0M1096.6 235.3h0M1101.1 225h0M1133 236.7h0M1069.5 225.4h0M1144.5 232.5h0M1129.8 228.2h0M1045.3 226.5h0M1108.6 225.2h0M1093.2 233.5h0M1116.4 220.6h0M1128.8 232.7h0M1112.6 213.6h0M1120.7 224.1h0M1108.1 224h0M1110.1 238h0M1138.4 232h0M1099.6 218.6h0M1144.2 247.8h0M1144.5 240.7h0M1118.5 230h0M1129.6 235.6h0M1065.3 233.6h0M1095.1 244.5h0M1029.2 213.1h0M1129.3 216.3h0M1144.1 219.4h0M1151.2 225.5h0M1109.7 226.7h0M1187.6 223.8h0M1098.3 244.4h0M1096.9 236.1h0M1087 222.8h0M1099.5 239.8h0M1078.3 239.5h0M1092.8 244.5h0M1149.7 234.9h0M1122.7 220.3h0M1108.5 238.2h0M1094.9 227.6h0M1130.9 229.5h0M1084.8 226.8h0M1086.8 232.1h0M1103.3 226.9h0M1055.5 239.6h0M1094.8 228.1h0M1138.3 243.9h0M1252.4 218.9h0M1236.7 215.3h0M1277.2 218.5h0M1244.9 218h0M1151.3 215.7h0M1323.8 219.2h0M1354 219.5h0M1243 219.3h0M1151 215.6h0M1379.4 211.9h0M1372.8 212.5h0M1248.1 216.3h0M1420.5 216.1h0M1383.6 215.3h0M1302.7 214.8h0M1181.1 220.9h0M1173.1 224.6h0M1189.8 225.3h0M1339.2 214.4h0M1318.8 221.6h0M1238.5 218.1h0M1320.3 219h0M1361 221h0M1153 221.4h0M1363.5 219.3h0M1259.2 217.5h0M1286.3 217.1h0M1344.7 217.1h0M1436.3 218.8h0M1279.9 218.1h0M1337.2 218.8h0M1242.7 221.2h0M1286.3 215.9h0M1205.2 229.3h0M1329.9 275.5h0M1242.5 277.1h0M1271.4 252.4h0M1086.1 252h0M1137.9 251.8h0M1127.5 246.8h0M1146.4 251.4h0M1141.3 253.8h0M1181.3 302.8h0M1174.6 271.7h0M1244.2 289.3h0M1188.8 256.5h0M1131.3 207.5h0"/>
<path d="M1094.3 236.1h0M1094.3 221.2h0M1075 224.4h0M1129.1 223.3h0M1095.5 211.3h0M1115 231.2h0M1103 235.6h0M1132.2 234.1h0M1105 217.3h0M1114.9 229.8h0M1105.5 231h0M1139.3 240.2h0M1131.6 229.6h0M1119.4 240.3h0M1096.6 226.6h0M1061 230.8h0M1125.9 214.7h0M1144.1 235.8h0M1113.6 221.5h0M1112.8 234.4h0M1073.7 224h0M1126 230.5h0M1108.5 240.8h0M1067.7 214.5h0M1077.1 227.7h0M1120.1 239.4h0M1129.5 228.1h0M1127.4 217.1h0M1097.1 218.9h0M1107.4 236.8h0M1132.7 228.2h0M1102.4 219.8h0M1143.6 217.1h0M1074 228.2h0M1058.5 222.9h0M1089.8 220.7h0M1099.8 221.5h0M1111.9 232.7h0M1108.9 227h0M1119.3 217h0M1098.4 236.5h0M1109.2 227.1h0M1162.5 230.8h0M1091.6 231.2h0M1099.4 211.8h0M1131.9 223.2h0M1067.7 223.2h0M1115.3 234h0M1151.6 231.6h0M1131.6 228.2h0M1126.4 228.9h0M1061.3 221.9h0M1085.7 228.6h0M1126.4 221.6h0M1136.5 224.8h0M1139.8 228.2h0M1107.5 230.3h0M1118.4 225.4h0M1137.7 239.3h0M1105.9 223.6h0M1081.2 233.2h0M1117.3 227.1h0M1116.8 226.3h0M1094 227h0M1097.3 222h0M1097.8 239.2h0M1064 220h0M1109.3 223.9h0M1139.8 228.2h0M1116.4 225.6h0M1089.4 229h0M1137 236.1h0M1122.8 242.6h0M1127.9 236h0M1111.1 232.7h0M1070.1 226.2h0M1114.5 213.7h0M1110.1 218.5h0M1120.7 220.8h0M1081.3 233.4h0M1126.6 235.1h0M1135.9 214.1h0M1104.9 221.6h0M1082.7 226.8h0M1134.2 226h0M1125 231h0M1129.9 240.8h0M1172.2 244.9h0M1061.2 230.8h0M1072.6 208.1h0M1124.2 220.1h0M1168.2 233.6h0M1175.1 229.3h0M1149 226.1h0M1099.5 244.4h0M1137 218.6h0M1108.4 240.4h0M1160.4 222h0M1096 234.6h0M1059.9 213.7h0M1058.3 241h0M1079.5 214.8h0M1243.8 209.9h0M1128.8 248.1h0M1093.3 226.6h0M1106 232.8h0M1104 240.5h0M1130.5 226.5h0M1119.1 217.5h0M1118.3 247.4h0M1099.4 233h0M1048 222.2h0M1144.9 233.7h0M1142.8 246.2h0M1083.8 203.9h0M1125.7 219.1h0M1199.8 219.1h0M1248.4 218.7h0M1312.1 222.2h0M1186.3 216.7h0M1178.2 220h0M1382.2 216.3h0M1305.9 215.9h0M1203.4 215.7h0M1439.3 219.1h0M1151.2 220.1h0M1346.4 218.6h0M1153 216.6h0M1204.2 219.5h0M1152.3 215.7h0M1198.3 220.2h0M1179.3 219.5h0M1247.6 220.8h0M1391.2 212.9h0M1333.5 215.9h0M1267.7 221h0M1457.6 220.7h0M1332.5 219.4h0M1181.5 219.9h0M1440.4 216.9h0M1355.4 217.2h0M1372.7 217.1h0M1266.1 218h0M1286.2 220.7h0M1341.6 218.3h0M1433.5 214.6h0M1266.7 216.9h0M1322 222.2h0M1236 274.4h0M1196.6 268.5h0M1276 267.8h0M1328.2 288.7h0M1104.2 279.6h0M1305.1 297.1h0M1101.6 277.5h0M1304.8 261.5h0M1240.2 285.5h0M1238.2 265.4h0M1161.1 264h0M1104.1 244.7h0M1132.4 278.6h0M1121.1 252.5h0M1198.5 273.5h0M1055.4 193.6h0"/>
<path d="M1096.5 230.1h0M1061 227.6h0M1105.1 229.4h0M1126 229.1h0M1113.9 220h0M1106 218.5h0M1130.1 227h0M1091.9 219.2h0M1104.8 234.2h0M1120.3 214.2h0M1123.7 233.5h0M1109.2 226.5h0M1106.7 223h0M1128 244.1h0M1126.9 228h0M1124 222.8h0M1112.8 219.4h0M1141.7 217.7h0M1122.5 232.6h0M1079.4 221.6h0M1121.7 234.7h0M1052.9 229.7h0M1100 233.5h0M1109.6 236.6h0M1125.6 233.6h0M1132.9 223h0M1095.8 232.8h0M1118 226.4h0M1092.9 231.6h0M1084 237.8h0M1110.3 239.2h0M1082.2 225.4h0M1098.5 234h0M1143.3 221.6h0M1095.9 234.1h0M1058.9 235.5h0M1062.7 230.3h0M1107.8 231.5h0M1110.1 214.4h0M1110.4 220.2h0M1119.5 231.3h0M1125.6 232.4h0M1092.8 233.7h0M1082.6 226.6h0M1069.6 224.1h0M1150.9 231.7h0M1100.9 215.3h0M1119.3 224.2h0M1086.7 233.3h0M1129.6 227.7h0M1135.7 225.7h0M1123.3 225.2h0M1081 218.2h0M1121 238.3h0M1112.6 220.8h0M1094.2 223.9h0M1144.8 232.5h0M1092.7 232h0M1069.1 223.8h0M1097.4 229.6h0M1105.6 227.9h0M1105.4 238.4h0M1149.2 222.5h0M1145.4 215.9h0M1107.5 231.9h0M1127 225.4h0M1123.2 223.1h0M1079.5 234h0M1161.6 225.7h0M1091.4 223.3h0M1122.1 232.6h0M1159.6 231.4h0M1080.7 226.1h0M1124.3 220.6h0M1122.4 230.8h0M1090.8 231.7h0M1140.6 238.4h0M1183.3 233.5h0M1112 227.6h0M1104 224.8h0M1059.8 230.7h0M1173.2 227.2h0M1132.1 224.3h0M1093.7 229.4h0M1134.1 214.5h0M1107.3 223.7h0M1080.1 218.1h0M1127 247h0M1036.8 238.2h0M1133.2 230.1h0M1078.8 225.6h0M1151.6 227.2h0M1137.5 225.2h0M1093.6 229.5h0M1176.1 224.1h0M1185.5 236.1h0M1130.2 247.8h0M1116.6 212.3h0M1033.7 207.1h0M1171.2 242.4h0M1158.9 251h0M1119.1 232h0M1131.8 219.5h0M1132.3 233.5h0M1132.6 242.7h0M1111.8 235.4h0M1074.3 208.7h0M1046.8 241.5h0M1138.3 216.6h0M1055.3 205.8h0M1145.5 217.2h0M1103.1 228.8h0M1074.9 227.6h0M1133.6 209h0M1051.4 226.9h0M1105.9 232h0M1023.3 211.1h0M1350.4 215.2h0M1166 222.6h0M1224.6 220.5h0M1386 215.4h0M1220.4 219.5h0M1191.1 220.6h0M1456.5 213.6h0M1208.7 222.1h0M1241.4 215.7h0M1421.8 218.4h0M1311.8 213.5h0M1306 214.5h0M1290 217.3h0M1157.1 216.8h0M1242.6 218.9h0M1364.5 216.3h0M1155.5 216.6h0M1184.4 222.7h0M1284.7 216.7h0M1214.9 217.2h0M1337.5 216.7h0M1285.8 217.8h0M1222.3 220.7h0M1442.3 213.6h0M1367.2 215.1h0M1258.1 218.6h0M1296.4 214h0M1343.6 217.9h0M1309.6 221.3h0M1277.5 222.5h0M1329.6 218.9h0M1289.3 232.4h0M1138 291.8h0M1277.5 238.9h0M1255.4 241.8h0M1245.9 279.4h0M1329.5 288h0M1139.8 285.2h0M1224.1 286h0M1110.6 263.1h0M1254.3 270.8h0M1111.8 251.7h0M1143.4 253.5h0M1145.4 259.9h0M1111.3 249.9h0M1120.5 188.7h0M1081.3 191.5h0"/>
<path d="M1091.5 230h0M1091.8 240.2h0M1102 240h0M1122.4 229.1h0M1163.9 225.9h0M1083.7 214.9h0M1113.6 238.4h0M1100.5 221.6h0M1111.4 219.3h0M1132.9 218.9h0M1113.9 223.5h0M1130 232.1h0M1142.2 217.7h0M1090.4 226.9h0M1101.4 219.5h0M1170 225.4h0M1085 232.1h0M1111.9 222.5h0M1079.6 230.9h0M1086.3 223.3h0M1110.1 228.8h0M1059.1 243h0M1032.2 221.3h0M1129.2 222.6h0M1076.6 237.8h0M1140.6 225.5h0M1047.8 225.1h0M1142.9 232.6h0M1121.6 225.7h0M1079.7 235.6h0M1121.7 235.1h0M1163.6 223.9h0M1152.6 237.7h0M1121.8 224.8h0M1108.9 227.9h0M1112.3 220.6h0M1107.2 234.1h0M1130.9 227.5h0M1125.4 225.3h0M1125.7 229.2h0M1084.3 227.9h0M1089.4 223.7h0M1095.7 243.4h0M1102 216.2h0M1093.3 231.8h0M1123.1 231.4h0M1121.1 227.8h0M1111.2 228.8h0M1109.9 223.9h0M1114.4 232.1h0M1135.8 223.8h0M1110.9 233.6h0M1082.6 230.2h0M1097.5 229.5h0M1124.1 226.8h0M1120.9 218h0M1131.9 225h0M1133.8 222h0M1123.5 235.6h0M1143.6 224.6h0M1084.7 237h0M1097.7 230.9h0M1108.1 227.2h0M1104 222.6h0M1100.2 239.5h0M1092.8 220.6h0M1098.3 233.3h0M1120.6 226.3h0M1111.8 233h0M1099.2 231.9h0M1087 231.7h0M1079.3 220.6h0M1150.8 227.5h0M1095.2 229.9h0M1070.7 224.5h0M1130 242.9h0M1144.8 224.6h0M1083.7 212h0M1108.5 213.9h0M1081.4 235.6h0M1085.9 230.5h0M1094.3 229.4h0M1130.8 225.6h0M1118.4 229.1h0M1111.3 219.5h0M1125 232.1h0M1123.4 229h0M1117.9 219.2h0M1055.5 221.6h0M1073.3 223.3h0M1112.5 236.2h0M1115.4 238.9h0M1157.9 232.5h0M1105.9 249.6h0M1124.4 221.3h0M1061.2 214.3h0M1064.5 225.6h0M1166.8 231.1h0M1104.3 229.2h0M1083.9 225.9h0M1118.9 241.1h0M1127 226.1h0M1075.6 221.2h0M1051.7 218.3h0M1113.6 210.5h0M1112.1 226.7h0M1131 244h0M1099.2 224.6h0M1169.2 224.6h0M1178 220.6h0M1117.2 248.5h0M1068.2 218.1h0M1083.9 232.7h0M1158.2 247.4h0M1046.4 239.8h0M1164.9 232.9h0M1100.3 230.4h0M1150.8 220.7h0M1205.3 217.5h0M1157.9 221.9h0M1400.5 218.2h0M1244.5 219.5h0M1229.3 215.2h0M1458.4 214.7h0M1191.2 221.4h0M1150.5 222.3h0M1421.2 216.4h0M1200.7 219.1h0M1307.1 221.6h0M1230.3 221.6h0M1305.4 216.6h0M1220.6 216.7h0M1188.8 220.5h0M1302.8 219.4h0M1431.2 217.7h0M1281.1 218.4h0M1393.9 216.9h0M1438.1 212.4h0M1399.2 218.2h0M1208.9 219.6h0M1422 215.3h0M1362.2 216.8h0M1259.9 219h0M1286.7 216.2h0M1351.4 218.5h0M1314.6 216.5h0M1271.9 219h0M1329.4 217h0M1309.4 287.8h0M1291.3 215.1h0M1302.6 271.9h0M1172.1 291.8h0M1118.1 253h0M1261.2 288.7h0M1128.1 257.7h0M1125.3 253.8h0M1107.8 263.5h0M1192.7 291h0M1214.7 279.1h0M1132.6 251.9h0M1108.5 249.1h0M1256.8 272.4h0M1069.6 192.5h0M1132.3 210h0"/>
<path d="M1144.3 235.6h0M1096.8 217.9h0M1157.6 236.1h0M1126 231.8h0M1133.1 230h0M1103.7 228.1h0M1086.6 233.1h0M1124.9 212h0M1056.3 228.7h0M1049.7 226.4h0M1113.3 225h0M1147.1 218.5h0M1100.9 220.1h0M1116.5 218.7h0M1102.6 236.2h0M1132 237h0M1075.4 230h0M1107.9 229.6h0M1130 225.6h0M1171.2 227.4h0M1108.2 232.8h0M1076.5 222.3h0M1101.9 228h0M1115.6 226.6h0M1096.3 239.9h0M1090.2 221.6h0M1090.1 222.7h0M1141.9 235.8h0M1143.7 233.5h0M1098.1 235.2h0M1134.5 220h0M1098 227.3h0M1132.6 230.9h0M1114.1 228.4h0M1103.9 217.1h0M1091.1 226.2h0M1135.6 245.6h0M1139.9 235.1h0M1096.8 225.3h0M1082.1 229h0M1106.2 235.3h0M1080.7 233.2h0M1083.3 216.3h0M1092 232.6h0M1100.5 217.7h0M1126.3 218.3h0M1084.5 218.4h0M1104.2 229.7h0M1111.6 233.4h0M1120 231h0M1153.8 219.1h0M1110.9 229.9h0M1077.2 222.9h0M1137.2 214.6h0M1107.3 243.8h0M1094.1 223.3h0M1091.5 213.7h0M1140.5 233.1h0M1127.5 224.7h0M1136.4 214.9h0M1128.7 221.2h0M1113.8 234h0M1097.3 231.4h0M1108.4 230.4h0M1140.7 228.3h0M1097.6 238.5h0M1124.9 221.8h0M1120.8 225.6h0M1122.8 238.1h0M1065.7 215.4h0M1095.8 236.2h0M1116.9 229.6h0M1137.4 236.7h0M1088.8 218.7h0M1061.1 237.7h0M1138.7 229.3h0M1161.5 225.6h0M1120.1 216.4h0M1094.9 232.5h0M1095.5 231.5h0M1133.2 218.8h0M1117 225.5h0M1091.5 208.4h0M1067.6 226.8h0M1078.4 231.6h0M1116.8 230.4h0M1159.4 229.3h0M1063.5 244.4h0M1168.4 229.7h0M1186.6 211.7h0M1113.2 227.7h0M1064.4 241.3h0M1135.5 241.3h0M1101.7 236.7h0M996.3 225.5h0M1044.3 253.2h0M1076.7 250.1h0M1078.6 236.8h0M1105.8 252.2h0M1135.2 226.7h0M1059.3 210.3h0M1168.8 228h0M1062.1 249.2h0M1078.7 225.3h0M1072.4 236.2h0M1062.5 229.8h0M1133.3 229.3h0M1181.5 233.7h0M1159.5 218.8h0M1200.2 232.1h0M1157.7 221.6h0M1090.8 245.9h0M1083.7 231.8h0M1103.3 237.1h0M1121.4 216.2h0M1088.3 211.9h0M1037 237.9h0M1409.6 214.4h0M1399.9 214.7h0M1288.4 220.1h0M1322.3 218.5h0M1384.2 218.1h0M1285.5 217.9h0M1299.8 218.5h0M1273.8 218.2h0M1412.5 217h0M1231.2 219.3h0M1166.9 217.3h0M1337 214.7h0M1435.8 215.5h0M1180.3 217h0M1240.2 215.4h0M1353.3 214.6h0M1307.4 217.4h0M1422.1 214.4h0M1195.3 219.7h0M1344.6 215.3h0M1358.3 216h0M1455.3 215.1h0M1249.3 218.8h0M1301.8 219.1h0M1359.8 216.8h0M1267.8 219.1h0M1295.8 214.5h0M1433.4 215.7h0M1311.4 217.7h0M1266.6 220.3h0M1339.2 216.7h0M1299.2 212.2h0M1255.9 251.4h0M1120.1 261.7h0M1173.5 259.7h0M1135.1 223.4h0M1282.4 245h0M1201.2 239.3h0M1223.9 288.6h0M1202.9 262.9h0M1180.9 262h0M1105.6 247.2h0M1196.3 273.3h0M1250.8 268.3h0M1184.4 289.7h0M1106.5 213.3h0M1099 186.8h0"/>
<path d="M1094.9 218.4h0M1120.1 227.6h0M1110 232.1h0M1092.1 232.9h0M1091.7 229.1h0M1120.8 235.1h0M1137.3 238.3h0M1060.3 214.8h0M1068.3 233.9h0M1107.4 216h0M1109.8 237.6h0M1109.9 234.9h0M1135.6 237.5h0M1120 225h0M1129.1 230.6h0M1097.3 218.8h0M1131.6 219.3h0M1120.5 214.4h0M1130.1 235.1h0M1116.1 222.6h0M1085.9 210.9h0M1112.5 223.9h0M1089.3 234.1h0M1072.6 222.3h0M1075.3 214.9h0M1124.7 213.5h0M1123.2 221h0M1075.4 233.3h0M1133.6 228.1h0M1091 224.2h0M1097.9 230.3h0M1105.6 223.9h0M1157.1 229.7h0M1078.7 221.1h0M1117.6 227h0M1123.2 231.5h0M1114.3 222.6h0M1052.9 238.3h0M1082.5 219.7h0M1132.9 227.3h0M1105.6 234.3h0M1111 233.2h0M1114.8 239h0M1097.1 226.1h0M1126.5 227.8h0M1154.4 222.2h0M1114.5 220.9h0M1084.6 229.5h0M1134.4 239.3h0M1117.4 226.7h0M1101.5 214.8h0M1081 220.8h0M1113 233.6h0M1114.6 238h0M1118.1 230.5h0M1155.6 223.1h0M1134.1 233.1h0M1111.9 230.8h0M1110 213.2h0M1153.4 228.9h0M1114.9 225.9h0M1116.1 217.9h0M1099.8 229.4h0M1086.9 225.3h0M1103.4 234.6h0M1057.9 232.3h0M1108.4 225h0M1109.1 221.3h0M1127.5 232.2h0M1118.8 219.7h0M1071.5 237.6h0M1105 226.7h0M1084.7 234.9h0M1089.4 238.3h0M1127.3 232.7h0M1125.5 227.6h0M1107.3 235h0M1108.4 223.1h0M1086 226.3h0M1116.5 228.6h0M1114.8 230.4h0M1093.1 221.8h0M1121.5 222.5h0M1147.3 233.8h0M1120 238.4h0M1106.5 226.6h0M1134 227h0M1101.7 220.6h0M1120.6 232h0M1128.3 254h0M1101.8 225.1h0M1088.3 236.6h0M1023.5 219.2h0M1105.8 236.8h0M1094.8 223.4h0M1188.1 237.8h0M1090.7 236h0M1092.7 218.2h0M1103 225.4h0M1106 241.2h0M1149.4 226.4h0M1142.5 232.5h0M1153.4 237.8h0M1099.2 230.7h0M1221.4 223.2h0M1005.9 225.6h0M1098.8 249.1h0M1067.7 237.3h0M1150.7 215h0M1124.7 232.6h0M1093.7 205.5h0M1007.9 218.2h0M1146.8 231.3h0M1080.8 244.2h0M1123.8 226.8h0M1133.8 224.6h0M1092.4 216.9h0M1285.2 220.7h0M1400.6 214.2h0M1233.3 220.4h0M1368.1 220.1h0M1263.4 223.1h0M1281.3 223h0M1338.2 215.6h0M1375.8 219.3h0M1310 215h0M1389.8 219.1h0M1313.3 215.1h0M1350.4 217.7h0M1453.5 212.8h0M1408.3 216.2h0M1203.2 217.6h0M1236.5 224.8h0M1170 214.6h0M1165.2 220.8h0M1173.4 218.4h0M1341.4 215.2h0M1335.1 215.4h0M1325.2 217.2h0M1168.2 216.6h0M1410.9 214.9h0M1366.4 214.9h0M1259.8 218.8h0M1292.4 221h0M1432.5 213.8h0M1306.8 219.7h0M1270.8 218.2h0M1334.1 217.8h0M1233.5 249.5h0M1237.6 206.3h0M1091.8 260.8h0M1134.1 290.8h0M1138.3 236.4h0M1306.8 257.9h0M1190.7 256.1h0M1117.7 254h0M1189.3 278h0M1222.8 275.4h0M1103.7 240.8h0M1146.7 261.6h0M1112.5 262.4h0M1122.5 259.3h0M1125.3 192.5h0M1131.3 196.2h0"/>
<path d="M1127.8 222.9h0M1131.7 228.8h0M1161.5 239.9h0M1091.7 218.7h0M1100.1 225h0M1098.4 212.6h0M1145.2 222h0M1114.8 225.6h0M1138.2 229.9h0M1116.8 226.3h0M1131.1 227.8h0M1124.7 225.4h0M1123.1 234.5h0M1108 226h0M1146.5 234.8h0M1105.3 222.2h0M1109.2 236.3h0M1140 223.9h0M1074.8 232.5h0M1110.7 225.7h0M1135.4 230.7h0M1138.1 223h0M1104.4 223.9h0M1064.9 228h0M1106.5 232.8h0M1082.7 227.4h0M1101.9 220.5h0M1133.9 232.8h0M1076.4 223.8h0M1117.6 218.2h0M1148.7 223.6h0M1120.7 227.7h0M1096.6 216.5h0M1121.1 236.2h0M1136.1 218.4h0M1120.6 223.6h0M1119.9 211.3h0M1102.8 222.8h0M1129.3 221.3h0M1072.8 232.1h0M1116.7 218.6h0M1055.1 230.6h0M1093.3 229.4h0M1116.4 228.3h0M1097.6 220.3h0M1097.1 233h0M1072.9 238h0M1114.5 233.8h0M1097.5 222.6h0M1121.7 215h0M1130.2 221.1h0M1161.6 231.2h0M1123.3 222.3h0M1106 220.8h0M1126.2 215h0M1090.5 227.5h0M1144.1 219.2h0M1128 226.9h0M1151.1 240.9h0M1107.6 229.5h0M1118 237.7h0M1149.9 222.1h0M1095.5 223.1h0M1138.3 230h0M1074.9 213.6h0M1102.7 218.5h0M1109.2 227.4h0M1062 227.5h0M1085.7 234.2h0M1094.7 229.1h0M1098.1 214.8h0M1109.3 236.4h0M1102.9 228.4h0M1124 220.4h0M1085.4 235.5h0M1126.9 220.8h0M1143.7 221.9h0M1072.8 224.3h0M1104.8 224.7h0M1109 227.1h0M1109.5 229.9h0M1121.4 211.3h0M1113.5 234.1h0M1085.3 219.6h0M1127 217.7h0M1119.9 224.4h0M1162.7 213.9h0M1094.9 212.2h0M1087.5 224h0M1074.1 234.3h0M1080.5 246.6h0M1127.6 216h0M1139 223.7h0M1120.9 226.8h0M1173 219.1h0M1098.5 213.5h0M1203.1 233.9h0M1063.3 223.4h0M1127.8 234.3h0M1063.6 238.6h0M1109.1 245.1h0M1100 254.6h0M1060.1 215.2h0M1100.4 216.9h0M1105.3 230.6h0M1027.5 222.8h0M1135.7 225.3h0M1155.8 211.1h0M1092.8 223.9h0M1101.3 222.9h0M1050 221.9h0M1125.6 239.3h0M1120.1 232h0M1074.8 242.7h0M1067.8 224.8h0M1073.3 224.1h0M1176.2 223.1h0M1284.7 214.7h0M1183.1 221.4h0M1402 211.7h0M1240.6 221.2h0M1388.6 216.8h0M1236.1 222.8h0M1427.2 217.3h0M1230.9 214.1h0M1406 216.7h0M1236.1 218.7h0M1261 219.3h0M1378.6 215.4h0M1178.9 221.3h0M1283.7 218.5h0M1261.4 218.6h0M1424.8 216.7h0M1176.3 224.6h0M1271.8 215.8h0M1273.9 219.2h0M1400.8 219h0M1384.2 217.9h0M1426.3 215.4h0M1163.7 221.9h0M1410.3 216.6h0M1362.6 214.8h0M1251.1 217.2h0M1336.2 217.4h0M1433.7 218.8h0M1309.7 217.4h0M1275.1 219.8h0M1329.6 217.4h0M1233.7 285.3h0M1315.4 218.8h0M1203.2 277.1h0M1255 235.4h0M1265.4 215h0M1137.2 282.7h0M1108.9 213.4h0M1155.6 279.8h0M1208.5 260.3h0M1243 275.7h0M1161.8 251.4h0M1131.3 272.2h0M1163.4 268.5h0M1235.4 272.1h0M1131.2 212.7h0M1064.9 210.2h0"/>
<path d="M1091.7 232.4h0M1156.2 222.9h0M1127.1 224h0M1101.2 221.5h0M1109.1 214.1h0M1092.8 227.2h0M1129.8 225.1h0M1105 224.9h0M1109.2 226.5h0M1108.2 218.5h0M1119.8 231.6h0M1129.7 231.8h0M1111.8 217.9h0M1120.1 233.9h0M1081.8 234.7h0M1129.4 218.1h0M1098.2 228.5h0M1124.1 215h0M1094.2 220.2h0M1145.3 224.1h0M1077.1 229.6h0M1119.9 230.2h0M1106.9 231.5h0M1155.5 226h0M1091.4 227.9h0M1122.4 214.9h0M1109.8 224.5h0M1102.2 216.6h0M1108.5 237.2h0M1076.7 224.1h0M1103.1 222.7h0M1066 232.5h0M1077.6 222.7h0M1118.3 236.3h0M1120.7 225.2h0M1109.2 229.4h0M1102.8 233.2h0M1097.9 219h0M1091.5 225.3h0M1104 233.9h0M1085.4 230.3h0M1102.3 229h0M1103.2 225h0M1111.1 223.5h0M1124 232.5h0M1133.5 237.7h0M1114.3 221.4h0M1074.6 224.1h0M1108.5 216h0M1113.8 223.9h0M1092.9 238h0M1085.9 219.7h0M1063.8 224.7h0M1064.9 234.8h0M1104.8 222.6h0M1115.5 217.2h0M1111.7 234.5h0M1142.8 236.7h0M1098.6 224.4h0M1106.7 211.5h0M1114.2 222.5h0M1111.6 227.1h0M1105 233.7h0M1098.4 236.2h0M1094.1 227.2h0M1084.3 221.3h0M1095 237.8h0M1112.7 228.4h0M1040.5 222.6h0M1107.1 233.2h0M1086.8 226.4h0M1118.6 227.1h0M1153.9 225.3h0M1098.9 221.3h0M1067.4 233h0M1134.9 231.9h0M1127.5 226.3h0M1137.9 233h0M1127.7 218.5h0M1101.5 222.2h0M1101.8 224.8h0M1093 231.5h0M1123.2 231.6h0M1138.5 236.3h0M1078.4 232.1h0M1097.4 225h0M1069.7 231.5h0M1110.5 223.7h0M1181.4 216.5h0M1082.8 232.5h0M1074.9 241.5h0M1177.4 211.6h0M1076.8 219.9h0M1156.8 245.9h0M1069 219.4h0M1072.9 226.3h0M1099.9 228.7h0M1097.8 237.4h0M1100.5 221.3h0M1102.1 221.4h0M1067.6 224h0M1228 240.2h0M1115.5 244.4h0M1144.6 223h0M1113.2 233.5h0M1127.9 207.7h0M1157.5 233.9h0M1093.2 227.2h0M1058.9 241.5h0M1199.1 206.1h0M1146.4 221.4h0M1073.3 243.3h0M1095.4 234.5h0M1073.9 222.9h0M1202.1 230.2h0M1112.3 220.1h0M1053.6 233.3h0M1224.7 216.8h0M1459.1 212.7h0M1154.4 219.4h0M1349.3 214.9h0M1266.7 219.5h0M1186.8 217.2h0M1219 216h0M1221.5 221.8h0M1301.8 216.5h0M1369.8 221.2h0M1356.7 221.7h0M1229.5 222.8h0M1424.5 216.1h0M1174.7 219.6h0M1288.6 217.8h0M1384.3 214.5h0M1157.5 214.4h0M1174 223.4h0M1354.3 215.2h0M1460.2 222.4h0M1349.9 214.2h0M1166.1 222.7h0M1263.9 213.4h0M1408.4 216.9h0M1362 218.5h0M1266.9 217.9h0M1349.3 222.3h0M1436.3 214.8h0M1321.7 219.4h0M1265 220.5h0M1327.1 216.9h0M1168.1 290.4h0M1278.2 276.2h0M1138.8 265h0M1128.6 281.1h0M1232.3 287.8h0M1182.7 275.2h0M1311.5 228.6h0M1109.7 250.8h0M1234.4 317.9h0M1176 255.8h0M1206.1 260.5h0M1252.3 267.9h0M1152.4 266.9h0M1154.7 279.5h0M1126.4 198.4h0M1102 190.3h0"/>
</g>
</g></g>
<text transform="matrix(0.2195 0 0 0.2195 847.40 37.75)" font-size="100" fill="#1c1c1c">1</text>
<text transform="matrix(0.2195 0 0 0.2195 820.29 125.55)" font-size="100" fill="#1c1c1c">0.8</text>
<text transform="matrix(0.2195 0 0 0.2195 820.30 213.55)" font-size="100" fill="#1c1c1c">0.6</text>
<text transform="matrix(0.2195 0 0 0.2195 820.14 304.15)" font-size="100" fill="#1c1c1c">0.4</text>
<text transform="matrix(0.2195 0 0 0.2195 820.37 392.15)" font-size="100" fill="#1c1c1c">0.2</text>
<text transform="matrix(0.2195 0 0 0.2195 840.30 480.15)" font-size="100" fill="#1c1c1c">0</text>
<text transform="matrix(0.2224 0 0 0.2224 874.85 491.85)" font-size="100" fill="#1c1c1c">0.1</text>
<text transform="matrix(0.2224 0 0 0.2224 1130.81 491.85)" font-size="100" fill="#1c1c1c">1</text>
<text transform="matrix(0.2224 0 0 0.2224 1369.22 491.85)" font-size="100" fill="#1c1c1c">10</text>
<text transform="matrix(0.1308 0 0 0.1308 961.36 486.90)" font-size="100" fill="#1c1c1c">2</text>
<text transform="matrix(0.1308 0 0 0.1308 1058.18 486.90)" font-size="100" fill="#1c1c1c">5</text>
<text transform="matrix(0.1308 0 0 0.1308 1207.76 486.90)" font-size="100" fill="#1c1c1c">2</text>
<text transform="matrix(0.1308 0 0 0.1308 1304.68 486.90)" font-size="100" fill="#1c1c1c">5</text>
<text transform="matrix(0.1308 0 0 0.1308 1453.86 486.90)" font-size="100" fill="#1c1c1c">2</text>
<text transform="matrix(0.2374 0 0 0.2529 1042.45 522.00)" font-size="100" fill="#1c1c1c">Pulse Duration (s)</text>
<g transform="translate(791.9 313.5) rotate(-90)">
<text transform="matrix(0.2326 0 0 0.2616 -1.91 0.00)" font-size="100" fill="#1c1c1c">Bin</text>
<text transform="matrix(0.2321 0 0 0.2616 34.50 0.00)" font-size="100" fill="#1c1c1c">Ratio</text>
</g>
<text transform="matrix(0.2446 0 0 0.3021 1095.73 133.29)" font-size="100" fill="#7d5578" font-weight="700" stroke="#7d5578" stroke-width="2.04" stroke-linejoin="miter">Y</text>
<text transform="matrix(0.2410 0 0 0.2512 1080.43 165.72)" font-size="100" fill="#735b73" stroke="#735b73" stroke-width="1.45" stroke-linejoin="miter">0.74</text>
<line x1="1107.8" y1="189" x2="1107.8" y2="269.5" stroke="#6f4f6f" stroke-width="1.9" stroke-dasharray="4.6 3.4"/>
</g>
<g id="plot2">
<rect x="865.5" y="587.5" width="595.5" height="436.5" fill="#e4ebf3"/>
<clipPath id="cp2"><rect x="865.5" y="587.5" width="595.5" height="436.5"/></clipPath>
<rect x="865.5" y="674.1" width="595.5" height="2.8" fill="#f5f8fc"/>
<rect x="865.5" y="761.1" width="595.5" height="2.8" fill="#f5f8fc"/>
<rect x="865.5" y="848.6" width="595.5" height="2.8" fill="#f5f8fc"/>
<rect x="865.5" y="936.1" width="595.5" height="2.8" fill="#f5f8fc"/>
<g clip-path="url(#cp2)"><g filter="url(#blur)">
<radialGradient id="rg7"><stop offset="0" stop-color="#eeae64" stop-opacity="0.26"/><stop offset="0.6" stop-color="#eeae64" stop-opacity="0.2"/><stop offset="0.85" stop-color="#eeae64" stop-opacity="0.08"/><stop offset="1" stop-color="#eeae64" stop-opacity="0"/></radialGradient>
<ellipse cx="1143" cy="916" rx="130" ry="13" fill="url(#rg7)"/>
<radialGradient id="rg8"><stop offset="0" stop-color="#eeae64" stop-opacity="0.32"/><stop offset="0.6" stop-color="#eeae64" stop-opacity="0.18"/><stop offset="1" stop-color="#eeae64" stop-opacity="0"/></radialGradient>
<ellipse cx="1155" cy="916" rx="30" ry="11" fill="url(#rg8)"/>
<radialGradient id="rg9"><stop offset="0" stop-color="#a2d56c" stop-opacity="0.22"/><stop offset="1" stop-color="#a2d56c" stop-opacity="0"/></radialGradient>
<ellipse cx="1175" cy="838" rx="22" ry="7" fill="url(#rg9)"/>
<radialGradient id="rg10"><stop offset="0" stop-color="#a2d56c" stop-opacity="0.2"/><stop offset="1" stop-color="#a2d56c" stop-opacity="0"/></radialGradient>
<ellipse cx="1067" cy="839" rx="12" ry="6" fill="url(#rg10)"/>
<radialGradient id="rg11"><stop offset="0" stop-color="#b176b0" stop-opacity="0.9"/><stop offset="0.45" stop-color="#b176b0" stop-opacity="0.82"/><stop offset="0.7" stop-color="#b176b0" stop-opacity="0.5"/><stop offset="0.88" stop-color="#b176b0" stop-opacity="0.18"/><stop offset="1" stop-color="#b176b0" stop-opacity="0"/></radialGradient>
<ellipse cx="1208" cy="776" rx="66" ry="19.5" fill="url(#rg11)"/>
<g stroke="#b5aec8" stroke-width="6" stroke-linecap="round" fill="none" stroke-opacity="0.1">
<path d="M1420.5 769.2h0M1296.8 840.8h0M1019.1 795.4h0M1230.2 802h0M1391.1 837.7h0M1106.3 935.2h0M1041.3 813.3h0M1095.9 772h0M1422.9 958.6h0M1061.8 770.1h0M1106 847.5h0M1395.5 856.1h0M1119.9 748.4h0M1100 908.1h0M1424.2 745.1h0M1205.4 811.9h0M1405.9 840.1h0M1031.8 818.8h0M1281.8 942.6h0M1372.5 923.5h0M1283.6 829.4h0M1163.7 907.1h0M1419.8 771.7h0M1019.1 787.4h0M1132.9 916.1h0M1397.1 958.4h0M1087.8 840.2h0M1336.2 839.1h0M1088.4 758.8h0M1220.8 865.7h0M1425.7 806.8h0M1223.9 943.3h0M1103.1 953.7h0M1063.7 938.2h0M1073.4 746.6h0"/>
<path d="M1224.5 793h0M1255.2 893.5h0M1388.7 905.5h0M1144.8 808.5h0M1295.4 755.2h0M1089.8 804.8h0M1426.6 915.4h0M1321.6 778.8h0M1182.1 937h0M1114.6 812.7h0M1109.7 840.4h0M1025.9 838.8h0M1111.3 951.2h0M1414.7 880.1h0M1041.8 796.2h0M1087.2 780.3h0M1251.6 826.2h0M1310.9 783.7h0M1167.2 786.1h0M1332.4 779.3h0M1124.7 822.6h0M1108.8 872.3h0M1163.4 893.3h0M1384.1 845.3h0M1283.7 788.6h0M1287.4 914.5h0M1287.9 854h0M1353.8 826.4h0M1347.7 895h0M1082.3 931h0M1311.5 829.8h0M1358.5 862.8h0M1360.5 760.8h0M1164.5 842.4h0M1214.8 959.1h0"/>
</g>
<g stroke="#eeae64" stroke-width="6" stroke-linecap="round" fill="none" stroke-opacity="0.08">
<path d="M1299.8 886.5h0M1242.3 914.3h0M1149.4 913.7h0M1077.4 922.2h0M1153.6 913h0M1289.6 853.6h0M1274.1 866.2h0M1216.7 905h0M1158.2 903.6h0M1218.9 863.2h0M1287.9 888.4h0M1262 899.8h0M1234.3 922.4h0M1206.4 891.4h0M1107.8 863.3h0M1243.6 912.9h0M1244.3 907.8h0M1252.5 894.2h0M1212.7 882.8h0M1070.9 924.9h0M1182.9 859.5h0M1049.7 866.4h0M1270.8 869.1h0M1296.3 902h0M1098.4 907.8h0M1090.3 917.5h0M1032.2 868.6h0M1271.5 913h0M1217.7 877.1h0M1066.9 915.2h0M1177.1 874.8h0M1037.8 916.4h0M1186.9 866.9h0M1207.7 885.7h0M1145.8 861.2h0M1220.2 861.3h0M1064.4 901.1h0M1200.9 855.4h0M1386.4 914.1h0M1344.1 903.9h0M1336.5 906h0M1367.3 905.2h0M1405.8 923.8h0M1343.3 891.8h0M1334.4 901.1h0M1386.9 899.5h0M1403.1 906.2h0M1421.8 917.2h0"/>
<path d="M1150.6 923.4h0M1166 923.5h0M1267.5 883.6h0M1279.4 919.8h0M1125.7 887.2h0M1240.1 874.7h0M1188.7 905.3h0M1044.4 903.6h0M1118.4 850.2h0M1158.7 901.3h0M1223.8 919.7h0M1223.2 899.6h0M1156.3 890h0M1154.6 921h0M1210.7 862.9h0M1176.5 855.2h0M1020.7 873.8h0M1200.4 885.3h0M1230.4 865.7h0M1054.1 882.7h0M1293 883.6h0M1024.8 856.7h0M1049 859.7h0M1063.7 862.7h0M1219 859.5h0M1228.4 913.8h0M1111.8 914.5h0M1299.2 871.9h0M1034.9 912.7h0M1257.9 878.7h0M1291.8 887.3h0M1183.3 879.2h0M1134.4 900.7h0M1070.2 884.1h0M1291.6 880.3h0M1226.9 900.4h0M1172.3 857.4h0M1070.5 877.4h0M1366.8 910.9h0M1421.4 914h0M1457.3 926.2h0M1344 902.9h0M1357.5 899h0M1408.5 896.8h0M1425 899.6h0M1393.4 903.3h0M1370.7 924.2h0M1305.2 899.9h0"/>
<path d="M1258 850.8h0M1182.3 884.5h0M1208.6 881.5h0M1079.7 915.7h0M1040.9 865.1h0M1109.4 911.2h0M1258.6 888.1h0M1185.5 867.4h0M1259.9 872h0M1268 898.2h0M1259.2 920.6h0M1121.1 908.7h0M1254.1 895.1h0M1221 854.7h0M1060.7 902.4h0M1055.9 880.9h0M1185 856.8h0M1200.7 907.4h0M1228.2 895.1h0M1148 899.7h0M1227.7 864.3h0M1222.3 851h0M1241.6 880.8h0M1295.7 880.4h0M1101.2 884h0M1269.4 871.5h0M1112 862.4h0M1088.3 877.9h0M1176.4 855.8h0M1103.3 912.2h0M1244.2 878.9h0M1256.4 871.4h0M1169.7 867.3h0M1102.2 915h0M1238 873h0M1225.1 916.9h0M1294.7 860.8h0M1416.7 921.2h0M1436.1 910.1h0M1347 924.5h0M1412 892.1h0M1346 908.3h0M1301.3 924.5h0M1318.5 913.1h0M1328.9 899.7h0M1435.3 921.2h0M1312.3 907.1h0"/>
<path d="M1063.8 854.3h0M1262.8 918.8h0M1106.8 884h0M1241.7 858.5h0M1054.5 883.3h0M1080.8 875.9h0M1196.9 855.6h0M1176.5 887.8h0M1069.5 875.6h0M1081.9 912.8h0M1158.5 907.8h0M1130.5 922.2h0M1123.8 872.3h0M1289 903.9h0M1170.5 912.6h0M1265.2 906h0M1139.1 892.9h0M1256.3 851.3h0M1242.2 904.8h0M1264.8 867.7h0M1286.3 858.7h0M1284 890.8h0M1263.2 911.3h0M1085.5 870.4h0M1274.8 911.1h0M1118.7 903.9h0M1127 923.1h0M1026.6 886.3h0M1115.4 887.9h0M1259 880.7h0M1085.3 887.6h0M1215.2 908.9h0M1236.9 865.1h0M1180.2 916.4h0M1066.7 893.4h0M1242.7 904.2h0M1107.2 861.4h0M1413.8 910.1h0M1332.3 913.8h0M1412.8 909.3h0M1302.3 896.8h0M1428.2 895h0M1394.5 914.1h0M1436.8 902.6h0M1364.1 912.8h0M1323.7 910.6h0M1448.8 919.7h0"/>
</g>
<g stroke="#eeae64" stroke-width="6" stroke-linecap="round" fill="none" stroke-opacity="0.1">
<path d="M1177.7 909.8h0M1182.8 910.9h0M1155.3 915.7h0M1148.3 914.7h0M1141.5 929.9h0M1140.5 913.4h0M1131.6 915.1h0M1155.8 913.9h0M1176.5 910.3h0M1162.2 907.2h0M1144.2 914.9h0M1178.2 923.3h0M1146.1 916.9h0M1165.4 919.9h0M1152.2 923.9h0M1142.1 920.8h0M1126.9 915.2h0M1110.7 921.1h0M1176.1 914.5h0M1217.1 914h0M1170.3 925.1h0M1156.6 908.7h0M1176.6 916.5h0M1201.9 912.2h0M1165.9 917.4h0M1110.6 915.2h0M1114 921.1h0M1059.2 919.7h0M1066.2 916h0M1235 920.4h0M1056.7 929.3h0M1149 925.8h0M1163.5 911.9h0M1048.7 928.2h0M1110.6 921.6h0M1224 908.3h0M1186.3 904.9h0M1115 923.6h0M1098.4 908.8h0M1187.2 912.5h0M1219.7 914h0M1088.3 906.1h0M1203.8 909.1h0M1131.5 910.2h0M1140.4 905.8h0M1084.9 911.7h0M1175.6 909.9h0M1242.3 917.3h0M1107.2 917.7h0M1123.5 914.2h0M1200.6 929.9h0M1065.3 920.1h0M1151.3 924.6h0M1157.3 914.7h0M1044 916.5h0M1112.3 917.7h0M1005.5 910.9h0M1051.3 915.3h0M1197.2 913.5h0M1186.9 920.4h0M1137.9 922.1h0M1089.6 918.1h0M1235.6 914.5h0M1035 911.4h0M1076.7 916.6h0M1088.1 912.4h0M1099.2 912.6h0M1151.3 912.3h0M1095.7 924.3h0M1325.8 917.8h0M1325.2 922.5h0M1325.9 917.3h0M1303.1 914.9h0M1280.8 914.4h0"/>
<path d="M1158.4 919.4h0M1138.9 922.4h0M1158.8 910.8h0M1145.8 917.2h0M1116.5 907.1h0M1175.5 909.1h0M1153 917.3h0M1149.7 928.4h0M1130.4 916.4h0M1147 916.8h0M1104.8 910.3h0M1160.3 912.4h0M1168.1 904.2h0M1138.9 913.6h0M1169.5 911.1h0M1181.2 903h0M1128 915.6h0M1131.6 920.9h0M1184.4 917.4h0M1193.8 910.4h0M1151.4 910.3h0M1121.1 917.3h0M1193.7 918.9h0M1140.3 914.1h0M1127.8 921.6h0M1186.9 909.5h0M1221.2 918.2h0M1203.5 911.5h0M1129.4 912.9h0M1271.7 910.6h0M1171 910.3h0M1234.2 917h0M1088.2 916.2h0M1097.1 909.1h0M1077.4 909.8h0M1180.7 917.9h0M1271.5 921.7h0M1255.7 921.4h0M1116.9 923.4h0M1175.5 909.9h0M1183.6 913.7h0M1154 909.7h0M1177 921.1h0M1098.7 914h0M1155.9 919.2h0M1188.7 908.9h0M1140.1 914.5h0M1085.3 921.3h0M1191.8 914.8h0M1087.2 905.3h0M1142.7 919.9h0M1206.5 926.7h0M1129 909.9h0M1211.4 919.3h0M1154 908.4h0M1185.8 905h0M1144.6 903.6h0M1167.9 919.7h0M1178.7 910.1h0M1172.3 913.6h0M1076.1 931.7h0M1123.1 917.9h0M1195.6 917.2h0M1114.4 915.5h0M1258.7 915.4h0M1251.4 910h0M1099.6 913.1h0M1101.4 909.5h0M1170.1 910.9h0M1276.8 920.2h0M1300.5 916.2h0M1280.1 912.9h0M1332 912.1h0M1270.5 911.8h0"/>
<path d="M1125.1 903.4h0M1135.8 918.6h0M1160.3 914.8h0M1194.6 906.7h0M1162.9 919.3h0M1156.2 918.1h0M1179.8 914.3h0M1171.1 910.4h0M1147.8 910.5h0M1167.5 924.9h0M1164.8 915.7h0M1131 912.4h0M1133.2 917.2h0M1152.5 902.2h0M1117.4 913.1h0M1159.2 920.2h0M1138.5 909.8h0M1172.7 907.9h0M1145.7 915.8h0M1155.8 920.4h0M1165.8 914.3h0M1186.9 928h0M1116.5 912.6h0M1151.8 917.1h0M1140.5 913h0M1206.3 921h0M1229.4 920.3h0M1151 920.7h0M1082.9 912.1h0M1230.5 916.4h0M1113.2 922.7h0M1186.4 912h0M1211.3 927.2h0M1176.5 909.4h0M1060.1 920.7h0M1140 912.9h0M1049.8 904.8h0M1074 916h0M1329 917.4h0M1113.7 911.3h0M1094.7 923.9h0M1190.3 912.7h0M1193.4 915.6h0M1155.8 920.5h0M1113.4 909h0M1053.3 910.9h0M1120.8 922.9h0M1211.7 924h0M1170.9 919.6h0M1030.2 912h0M1201.8 905.1h0M1151.5 923.3h0M1064.8 921.2h0M1267 912.3h0M1139.3 917.5h0M1163.3 912.3h0M1065.7 915.7h0M1216 934h0M1201.5 923.1h0M1227.6 915.7h0M1200.8 923.7h0M1213.2 915.4h0M1157.9 921h0M1100.2 915.2h0M998 920.5h0M1075.6 909.3h0M1005.6 929.8h0M1104.3 908.8h0M1137.7 912.4h0M1301.2 919.6h0M1319.7 920.2h0M1296.4 912.3h0M1322.1 913.2h0M1325.8 917.2h0"/>
<path d="M1151.5 906.9h0M1159 924.5h0M1130.9 909h0M1214.3 921.3h0M1170 918.3h0M1148.6 915.2h0M1144.5 919.6h0M1154.1 921.9h0M1158 913.9h0M1147.8 910.8h0M1142.4 922.3h0M1129.7 924.9h0M1140.9 911.1h0M1147.7 914.8h0M1121.2 919.8h0M1129.9 908h0M1141.3 915h0M1172.9 914.1h0M1193.2 917.9h0M1196.8 914.1h0M1149.8 903.3h0M1156.1 914.8h0M1147.6 912.5h0M1146.1 924.2h0M1151.2 918.3h0M1101.9 917.7h0M1113 916.8h0M1179 915.6h0M1152.7 919.8h0M1100.7 916.7h0M1190.8 928.6h0M1011.2 914.2h0M1115.9 915.7h0M1117.7 927.5h0M1132.6 903.6h0M1087.1 927.3h0M1104.2 914.7h0M1150.3 916.6h0M1165.7 906.3h0M1190.5 913.8h0M1159.4 927.8h0M1026.9 925.5h0M1063.9 913.5h0M1096.5 911.8h0M1132.6 921.2h0M1170.9 914.4h0M1101.7 916.4h0M1046.2 921.5h0M1139.2 926.3h0M1115.6 920.5h0M1130 916.7h0M1118.4 924.6h0M1219.8 912.4h0M1067.2 910.1h0M1115.6 919.5h0M1145.3 921.3h0M1151 909.2h0M1179.3 919.8h0M1122.7 903.9h0M1076.7 911.8h0M1188.1 915.4h0M1191.1 920h0M1071.5 903.7h0M1090.4 911.4h0M1087.1 922h0M1103.1 909.8h0M1163.1 915.7h0M1291.5 923.3h0M1079.2 903.4h0M1304.5 916.3h0M1293.6 915.5h0M1305.5 921.6h0M1303 915.7h0M1271 920.7h0"/>
<path d="M1133.4 910.1h0M1143.4 926.5h0M1163.9 917.1h0M1142.5 912.6h0M1165.3 920.2h0M1169.5 922.5h0M1150.6 919.8h0M1159.5 906.8h0M1153.4 915h0M1184.2 910h0M1129.4 916.3h0M1124.4 908.1h0M1134.2 912.5h0M1117.5 911.7h0M1183.8 904.4h0M1162.6 927h0M1154.4 921.5h0M1166.4 918.1h0M1177.3 916.5h0M1188.7 919.4h0M1156.5 920.5h0M1138 908.6h0M1144.2 928.2h0M1179.5 904.2h0M1163.5 920.8h0M1103.3 915.4h0M1216.4 920.9h0M1160 909.1h0M1105.5 916h0M1080.3 926h0M1112.4 920.6h0M1130.7 910.4h0M1060.6 912.9h0M1251 916.9h0M1137.6 922.4h0M1053.1 906.6h0M1139.8 914.2h0M1146.1 924.1h0M1194.1 905.6h0M1188.9 912.5h0M1118.9 904.8h0M1111.2 913.3h0M1186.7 921.3h0M1127.9 914.9h0M1180.1 918.8h0M1147.7 931.6h0M1202.1 918.6h0M1170.1 921.5h0M1056.8 914.3h0M1200.8 915.3h0M1169.8 914h0M1160.7 920.4h0M1230.8 903.6h0M1175.1 920.5h0M1121.9 918h0M1167.7 905.7h0M1106.2 906.4h0M1105.7 910.4h0M1129.5 927.9h0M1202.6 917.4h0M1157.2 913.7h0M1046 907.2h0M1099.7 912.5h0M1131.1 927.4h0M1188.7 930.3h0M1107.9 908h0M1081.5 920.9h0M1150.4 906h0M1293.6 913.4h0M1307 923.7h0M1305.7 912.1h0M1301.2 919.1h0M1300.2 918.6h0"/>
<path d="M1126.6 918h0M1144.8 917.8h0M1156.7 919.1h0M1161.1 910.5h0M1082.9 916.4h0M1141.5 909.1h0M1184 919.3h0M1141.7 916.1h0M1164.6 915.5h0M1138.3 915.8h0M1155.8 909.9h0M1110.3 909.2h0M1143.9 923.6h0M1166.6 920.6h0M1130.5 907.6h0M1156.1 917.8h0M1157.8 906.1h0M1131.1 917h0M1176.7 922.4h0M1177.6 915.3h0M1159 912.6h0M1168 906.7h0M1135.1 908h0M1177.1 917.1h0M1104.9 920.9h0M1204.9 918.9h0M1089.5 918.2h0M1169.3 916.6h0M1142.4 928.4h0M1136.6 902.8h0M1194.7 915.2h0M1156.6 913.7h0M1131.4 923.2h0M1153 919.2h0M1134.3 918.3h0M1057.1 910.9h0M1180.7 922.1h0M1094 926.1h0M1149.5 921.5h0M1100.4 906.1h0M1131.3 910.7h0M1214.9 924.3h0M1128.4 908h0M1080.5 906.5h0M1112.2 912.9h0M1142.7 908.5h0M1169.3 920.2h0M1137 914.3h0M1152.8 906.3h0M1171.1 917.7h0M1061.5 907.5h0M1147 915h0M1130.2 916.3h0M1218.4 924h0M1075 915.1h0M1041.8 928.7h0M1062.5 912.3h0M1162.1 909h0M1141.5 934.4h0M1103.7 913.4h0M1220.1 919.4h0M1140 919.8h0M1153.7 909h0M1184.2 907.6h0M1079.1 913.9h0M1218.6 917.6h0M1184.2 914.2h0M1194.7 927.1h0M1336.6 916.5h0M1315.1 918.4h0M1317.2 919.4h0M1318.5 915.3h0M1298 910.3h0"/>
<path d="M1174.5 911.5h0M1110.4 913.2h0M1139.5 914.7h0M1136.8 927.1h0M1175.4 911.2h0M1153.7 912.6h0M1160.7 920.3h0M1157.1 913.6h0M1142.2 909h0M1126.4 926.8h0M1176.9 913.9h0M1155.4 907.6h0M1153.4 920.6h0M1144 925.8h0M1207.8 915.6h0M1160.8 921.7h0M1178.9 918.6h0M1148.1 909.6h0M1129.1 914h0M1129.1 925h0M1180 906.2h0M1152.8 916.2h0M1174.6 920.9h0M1143.1 929.5h0M1128.7 924.4h0M1119.1 907.5h0M1238.7 906.7h0M1132.1 923.6h0M1111.7 911h0M1190.6 914.8h0M1140.9 924.1h0M1237.2 918.1h0M1163.7 904.3h0M1065.1 923.2h0M1146.9 908h0M1129.1 915.9h0M1254 913.3h0M1085.6 912.8h0M1108.4 913.2h0M1031.6 912.4h0M1186.1 918.8h0M1188.1 913.1h0M1038.1 917.4h0M1185.6 922.6h0M1155.3 924.2h0M1229.2 916.4h0M989.3 900.7h0M1106.8 908.3h0M1111.7 923.3h0M1136.6 920.2h0M1089.4 911.8h0M1177.3 910.1h0M1097.1 915.6h0M1181.5 906.1h0M1124.5 899.5h0M1112.1 917.5h0M1195.8 916.8h0M1115.2 923.9h0M1146.4 909.6h0M1243.8 910.7h0M1131.9 914.6h0M1166.4 920.4h0M1167.7 908.6h0M1039.5 910.3h0M1175.5 924.7h0M1103.1 918.9h0M1168.8 915.9h0M1164.3 921.3h0M1311.7 918h0M1298.2 914.8h0M1279.5 918.1h0M1316.7 917.4h0M1327.2 921.5h0"/>
<path d="M1170.6 919.2h0M1151.9 922.1h0M1150.9 908.8h0M1126.3 916.8h0M1169.4 912.2h0M1138.2 909.3h0M1156.5 918.6h0M1140.2 915.1h0M1204.1 916.9h0M1122.9 919.5h0M1136.2 924.3h0M1153.6 917.7h0M1162.9 916.3h0M1153.2 922.7h0M1203.9 908.1h0M1173.8 916.5h0M1155.9 926.7h0M1149.7 907.6h0M1141.5 922.9h0M1157.9 907.5h0M1154.6 927.4h0M1179.8 909.2h0M1169.9 923.5h0M1150.7 916.9h0M1153.4 918.5h0M1124 919.8h0M1200.9 915.2h0M1195.4 915.3h0M1098.8 924.5h0M1155.3 909.9h0M1115.3 915.9h0M1068.7 917.1h0M1093.1 913.7h0M1131.9 917.6h0M1125.6 919.7h0M1168.3 930h0M1095.4 908.6h0M1048.4 921.3h0M1232.6 903.8h0M1096.2 919.8h0M1140.6 918.2h0M1145.6 922.2h0M1192.5 907.2h0M1157.5 913.8h0M1100 910.6h0M1128.3 919.7h0M1135.8 919.1h0M1151.2 924.8h0M1150.6 910.2h0M1105.3 919.9h0M1200.4 919.8h0M1171.9 913.8h0M1180.8 905.7h0M1088.2 918.9h0M1093.9 923.2h0M1058.7 913.6h0M1073.7 906.5h0M1173.6 923.7h0M1121.6 922.6h0M1058.2 921.9h0M1108.2 922.3h0M1069.1 918.3h0M1143.2 916.7h0M1141.7 912h0M1130.1 923.9h0M1114.9 903.9h0M1202.3 911.4h0M1180.9 917.8h0M1274.6 913.2h0M1324 918.7h0M1312.3 923h0M1280.4 920.6h0M1315.7 924.4h0"/>
<path d="M1153.2 914.8h0M1145.9 911.8h0M1150.7 912.6h0M1138.4 917.5h0M1167.1 909.3h0M1149.6 923.2h0M1172.4 919.9h0M1162.9 916.1h0M1160.6 924h0M1161.6 912.9h0M1173.3 921h0M1145.1 917.1h0M1210.8 919.1h0M1175.2 909.6h0M1159.2 929.6h0M1138.1 930.4h0M1134.4 914.9h0M1139.5 917h0M1134.9 915.9h0M1141.1 920.1h0M1147.6 909.5h0M1125.7 920.1h0M1175.1 903.7h0M1158.6 906.1h0M1159.2 920.3h0M1163.5 922.2h0M1066.8 909.2h0M1173.8 925.2h0M1150.8 903h0M1151.2 925.3h0M1181.1 913.8h0M1157.6 930.8h0M1114.5 909h0M1115.8 926.1h0M1238.4 909h0M1216.9 915.5h0M1178.4 921.9h0M1240.7 920.5h0M1094.6 913.3h0M1164.5 914.5h0M1183 916.9h0M1115.5 912.1h0M1208.5 912.9h0M1117.1 903.3h0M1147.4 920h0M1135.7 908.6h0M1160 927.5h0M1202.8 917.7h0M1102.4 917.4h0M1112.8 918.3h0M1130 909.4h0M1133.3 920.9h0M1091.7 913.8h0M1186.9 918.8h0M1191.4 913.1h0M1035.6 915.2h0M1183.4 909.2h0M1116 921.7h0M1116.6 921.7h0M1191.2 930.8h0M1078.9 908.2h0M1171 910.9h0M1093.7 916.6h0M1169.5 927.3h0M1140.6 908.6h0M1148.2 912.6h0M1087.3 923.4h0M1075.1 914.9h0M1316.8 919.4h0M1324.8 918.9h0M1314.2 919.6h0M1314.3 909.7h0M1277.1 917.9h0"/>
<path d="M1189.1 914.2h0M1183.7 918.9h0M1204.1 911.6h0M1127 924.7h0M1185.9 915.6h0M1134 912.9h0M1151.4 919.5h0M1105.9 926.8h0M1142.4 932.9h0M1187.5 921.4h0M1124.7 918.3h0M1138.8 919.3h0M1148 911h0M1173.2 928.5h0M1226.7 910.9h0M1134.3 908.2h0M1189.5 907.1h0M1133.1 908.2h0M1162.2 919.6h0M1176.2 915h0M1138.5 920.7h0M1123.7 907.5h0M1161.3 917.5h0M1182.7 929h0M1164.1 910.1h0M1178.5 924.5h0M1096.2 928.8h0M1197.7 915.1h0M1180 918.9h0M1157.7 913.7h0M1199.2 912.1h0M1157.7 911.9h0M1241.2 910.1h0M1040.6 914.9h0M1235 917.4h0M1105.6 904.3h0M1106.7 919h0M1112.2 902.1h0M1134.8 906.6h0M1148 913.9h0M1073.1 922.1h0M1059.1 918.1h0M1076.5 918.3h0M1107.2 919.7h0M1151.7 920.5h0M1115.6 913.6h0M1189.8 921.1h0M1194.7 913.6h0M1244.9 933.8h0M1033.1 903.5h0M1157.2 914.1h0M1142.5 913h0M1167.2 916.5h0M1123.7 919h0M1207.8 906.2h0M1066.4 906.7h0M1137 921.3h0M1067.2 912.9h0M1024.3 917.3h0M1145.1 906.4h0M1157.9 909.9h0M1190.2 910.1h0M1143.5 900.3h0M1142.2 917.2h0M1231.8 913.9h0M1129.5 914.8h0M1112.3 922.6h0M1171.7 914.3h0M1295.6 916.6h0M1312.8 917.7h0M1313.5 916.9h0M1304.4 912.7h0M1292.3 914.5h0"/>
<path d="M1117.3 921.5h0M1136.6 919.6h0M1163.2 921.6h0M1180.1 913.7h0M1167.7 915h0M1143.9 921.2h0M1124.8 907.9h0M1172.9 914.5h0M1132.5 909.6h0M1154.5 926.3h0M1135.3 915.4h0M1173.9 907.9h0M1137.5 918.9h0M1151.2 920.7h0M1146.8 912.1h0M1134.5 911.5h0M1181 912.6h0M1192.7 902.5h0M1158.6 906.8h0M1168.5 929.2h0M1157.5 915.7h0M1169 906.5h0M1140.5 910.6h0M1177.3 917.3h0M1124.2 906.7h0M1081.2 917.2h0M1212.6 903.5h0M1041.5 911.6h0M1187.4 916h0M1105.1 919.1h0M1180.8 905.6h0M1130.3 914.5h0M1069.8 916.2h0M1073.9 917.4h0M1084.2 909.9h0M1197 926.8h0M1035 907.8h0M1120.9 915.8h0M1132.9 925.1h0M1085.6 913.4h0M1123 921.3h0M1131.9 915.3h0M1095 902.8h0M1169.5 907.1h0M1108.5 920.3h0M1201.8 923h0M1140.7 918.4h0M1099.9 917.1h0M1225.5 918.7h0M1096.8 917.8h0M967.9 927.6h0M1216.8 912.3h0M1117.7 915.5h0M1141 909.4h0M1088.7 918.8h0M1154.2 919.8h0M1155.4 915.5h0M1044 916.7h0M1157.5 918.4h0M1101.9 914.7h0M1061.3 921.1h0M1079.7 904.6h0M1060.5 918.8h0M1177.4 927.4h0M1109.6 927.9h0M1145 921.6h0M1287 909.9h0M1177.9 905.4h0M1300.5 922h0M1313.1 917.2h0M1310.4 923.2h0M1314.3 917.4h0M1298.5 916.7h0"/>
<path d="M1193.3 911.2h0M1129.3 923.1h0M1174.6 911.4h0M1159.1 910.7h0M1108.1 915.7h0M1127.5 919.4h0M1175.7 911.7h0M1138.1 914.5h0M1143.3 916.2h0M1170.5 914.7h0M1164.7 916.1h0M1156.4 917.1h0M1165.5 915.5h0M1130.6 899.7h0M1193.4 917.1h0M1158.1 915.2h0M1170.3 918.5h0M1135.3 917h0M1154.2 919.1h0M1160.6 918.3h0M1176 914.8h0M1148.4 917h0M1179.2 915.8h0M1168.5 922.8h0M1141.3 917.3h0M1134.2 913.6h0M1128 921.1h0M1224.5 912.8h0M1180.4 917.9h0M1144.8 910.4h0M1104.1 922.8h0M1125.4 930.8h0M1165.9 917.3h0M1141.7 916.6h0M1103.6 911.4h0M975.5 914.4h0M1090.8 914.4h0M1095.6 923.6h0M1193.4 913h0M1224.7 920.8h0M1108.3 903.7h0M1114.5 932.5h0M1179 909.6h0M1333.2 914.1h0M1030.2 920.3h0M1022.5 924.7h0M1010.4 908.4h0M1054.7 919.3h0M1236 920.7h0M1011.1 901.2h0M1134.3 915.3h0M1148.7 915h0M1063.8 922.5h0M1159.5 915.3h0M1058.5 918.6h0M1220.6 918.7h0M1039.3 907.1h0M1155.7 917.2h0M1189.4 915h0M1203.9 914.2h0M1151.5 916.7h0M1105.9 921.1h0M1074.7 913.5h0M1097.7 908.6h0M1103.4 922.1h0M1193 921.1h0M1046 917.1h0M1218.6 915.1h0M1284.4 920.6h0M1321.5 911h0M1290.8 919.3h0M1331.4 913.4h0M1320.7 921.5h0"/>
</g>
<g stroke="#c4e08c" stroke-width="6" stroke-linecap="round" fill="none" stroke-opacity="0.09">
<path d="M1022 834.4h0M1012.7 838.2h0M1204.2 811.8h0M1027.7 835.1h0M1243.2 849.1h0M1144.1 830.7h0M1138.1 827.1h0M1152.6 834.9h0M1194.4 845.8h0M1253.4 842.7h0M1166.1 819.2h0M1259.9 824.5h0M1258.7 808.7h0M1029.5 835.9h0M1139.2 863.2h0M1176.1 835.2h0M1209.1 800.4h0M1013.8 826.6h0M1025.3 811.8h0M1174.5 802.8h0M1047.8 832.2h0M1108.2 825.5h0M1043.9 857.7h0M1180.5 842h0M1031.5 829.3h0M1169.9 781.6h0M1068.6 837.1h0M1005.6 835.8h0M1033 835.8h0M1151.6 823.4h0"/>
<path d="M1167.8 832.4h0M1020.7 825.4h0M1021.5 797.3h0M1045.4 815.5h0M1097.9 831.1h0M1040.2 834.2h0M1002.4 820.7h0M1030.8 816.2h0M1143.1 817.5h0M1113.3 813.7h0M1117 793h0M1221.4 827.8h0M1056.9 821.9h0M1234.3 811.2h0M1197.7 851.8h0M1049.4 809.6h0M1098.7 796h0M1028.3 834.2h0M1167.2 850.5h0M1220.2 822.8h0M1203.4 849.7h0M1156.5 824.2h0M1081.9 825.8h0M1046.5 812.5h0M1255 804.7h0M1249.1 815h0M1084.9 829.9h0M1193.2 837.1h0M1191.9 830.9h0M1222.3 853.1h0"/>
<path d="M1098 834h0M1123.9 812.6h0M1060 803.7h0M1256.3 815.1h0M1107.6 839.7h0M1254.7 806.3h0M1128 834.1h0M1036.8 822.6h0M1098.5 822.3h0M1101.8 828.9h0M1234.5 816.2h0M1057.2 821.2h0M1145.8 837.6h0M1061.8 826.9h0M1066.3 813.6h0M1045.5 814.1h0M1027.9 803.2h0M1055.8 844h0M1258.6 829.9h0M1008.9 808h0M1095.8 787.5h0M1233.7 825.8h0M1004.7 825.5h0M1151.8 793.3h0M1220.6 841.6h0M1192.7 812.4h0M1201.5 812.8h0M1194.3 831.7h0M1100.6 816.5h0M1184.8 852.5h0"/>
</g>
<g stroke="#a2d56c" stroke-width="6" stroke-linecap="round" fill="none" stroke-opacity="0.1">
<path d="M1071.7 836.7h0M1075.4 839.1h0M1060.4 833.3h0M1061 838.4h0M1076.8 839.9h0M1079.8 834.4h0M1066.6 839h0M1159.9 830.8h0M1196 845.9h0M1170.8 833.4h0M1185.2 835.7h0M1161.7 851h0M1183.1 829.4h0M1189.1 846.5h0M1181.7 840.9h0M1189.5 835.3h0M1178.8 836.7h0M1186.9 839.9h0M1181.5 843.4h0"/>
<path d="M1073.1 844.6h0M1064.1 842.1h0M1066.1 835.8h0M1073.2 841h0M1062.7 842.8h0M1061.6 839.4h0M1067.4 837h0M1181.5 839.3h0M1189.9 833.7h0M1180.6 834.1h0M1188.5 836.4h0M1201 835.4h0M1179.7 836.8h0M1166.1 839.3h0M1175 842.6h0M1182.2 834.1h0M1149.5 836.1h0M1168.8 843.2h0M1181.7 843.9h0"/>
<path d="M1065.8 832.9h0M1078 836h0M1069.2 844.3h0M1062.1 839.1h0M1074.6 844.7h0M1080.3 839.8h0M1086.5 835.1h0M1158.8 829.9h0M1189.7 838.9h0M1147.7 827.9h0M1153.6 837.1h0M1175.2 839.1h0M1162.7 831.8h0M1186.2 831h0M1166.2 841.1h0M1148.8 838.1h0M1169.8 838.8h0M1195.7 836.7h0"/>
<path d="M1062.9 840.5h0M1066 841.8h0M1068.5 844.8h0M1062 843.7h0M1066.1 840.8h0M1073.8 841.3h0M1062.3 833.7h0M1180.9 838.9h0M1175.6 840.7h0M1164.2 846.9h0M1177.9 836.9h0M1138.3 837.2h0M1168.3 846.7h0M1180.2 832.8h0M1197.2 835.9h0M1173.1 838.8h0M1173.2 828h0M1211 840.6h0"/>
<path d="M1063 844.2h0M1063.2 840.3h0M1061.9 840.9h0M1064.6 835h0M1085.9 830.2h0M1073.4 839.2h0M1169.4 831.5h0M1184.4 840.3h0M1172.4 838.2h0M1179.2 841.7h0M1174.2 843.6h0M1141 831.1h0M1178.4 842.7h0M1186.9 840h0M1181.7 839.6h0M1217.5 841.8h0M1189 835.8h0M1176.4 835.6h0"/>
<path d="M1049.8 830.8h0M1065.4 833.9h0M1070.9 838.8h0M1071.8 840.1h0M1075.6 842.7h0M1076 839h0M1190 830.6h0M1184 834h0M1193.1 840.6h0M1167.3 831.8h0M1158.6 838.7h0M1153.3 841.9h0M1171.6 830.6h0M1172.6 848.4h0M1177.5 842.4h0M1162.4 838.5h0M1166.2 838.2h0M1181.5 843.7h0"/>
</g>
<g stroke="#b176b0" stroke-width="6" stroke-linecap="round" fill="none" stroke-opacity="0.1">
<path d="M1211.5 765.7h0M1206.8 780.5h0M1147.8 788.8h0M1187.2 764.4h0M1221.9 785.1h0M1214.4 780.5h0M1170.7 781.9h0M1193.4 758.6h0M1217.7 771.9h0M1209.8 772.2h0M1209.3 781.3h0M1250.9 771.8h0M1205.3 772.5h0M1227.5 769h0M1214.9 780.5h0M1164.5 775h0M1219 776.6h0M1240 773.7h0M1186.1 777h0M1201.3 780.7h0M1215 779.6h0M1222.3 786.7h0M1220.6 768.5h0M1241.6 772.9h0M1237.6 776.2h0M1190.9 789.7h0M1247.1 772.8h0M1171.1 776.2h0M1261 766.8h0M1184.4 783h0M1251.4 783.2h0M1205.7 787.7h0M1220.4 783.7h0M1214.4 778.6h0M1210.6 756.8h0M1240.5 763.9h0M1235.8 772.1h0M1169.7 780.6h0M1187.7 779.5h0M1211.5 781.1h0M1197.7 779h0M1202.3 782.5h0M1243.7 780.8h0M1191.6 778.1h0M1254.8 773.3h0M1222.4 779.5h0M1244.6 768h0M1193.3 780.3h0M1190.4 766.3h0M1271.1 782.5h0M1267.2 794h0M1193.3 774.6h0M1213.5 774.1h0M1226.6 782.5h0M1206.6 781.3h0M1184.3 774.5h0M1250.9 780.9h0M1130.2 769.8h0M1183.9 771h0M1199 770.8h0M1189.8 776.6h0M1178.3 781h0M1216.3 770.5h0M1212.6 774.9h0M1189.3 766.8h0M1185.6 771.8h0M1182 783.7h0M1237.4 774.1h0M1183.6 776.2h0M1211.2 775h0M1170.2 777.7h0M1184.7 781.2h0M1219.8 772.4h0M1206.4 778.8h0M1227.5 773.3h0M1184.6 769.5h0M1235.8 780.1h0M1207.1 766.1h0M1209 765.7h0M1284.4 777.7h0M1236.1 778.2h0M1235.2 778.6h0M1190.6 770.3h0M1197.2 779.9h0M1169.4 772.1h0M1220.6 763.2h0M1224 770.9h0M1214.2 775.4h0M1219.4 778.5h0M1200.2 769.1h0M1214.2 778.4h0M1198.8 771.8h0M1192.1 780.4h0M1213.2 770.1h0M1230.7 771.8h0M1254.5 767.4h0M1202.4 781.7h0M1153 768.1h0M1261.7 767.8h0M1157.4 774.9h0M1213.8 755.5h0M1212 813.4h0M1123.1 756.1h0M1178.7 778.4h0M1143.5 783.8h0M1129.6 772.8h0M1236.6 795.9h0M1145.8 790.7h0M1230.4 776.8h0M1217 781.6h0M1179.4 777.8h0M1247.9 781.4h0M1174.4 781.6h0M1273.7 769.6h0M1157.4 795.1h0M1144.1 785.5h0M1250.1 769.4h0M1265.7 786.8h0M1218.9 765.5h0M1157.3 791.4h0M1133 789.2h0M1264.4 779h0M1453.4 766.4h0M1311 766.6h0M1359.6 766.3h0M1383.2 769.3h0M1334.6 775.2h0M1453.3 769.1h0M1263.4 772.8h0M1328.8 768.6h0M1379.3 769.9h0M1327.4 764h0M1360 764.8h0M1338.1 768.6h0M1336 767.4h0M1446 766.6h0M1330.8 768.6h0M1336.5 765.3h0M1355.5 767.3h0M1276.9 771.8h0M1428.1 767.6h0M1379.9 764.7h0M1294.7 764.6h0M1114.3 776.7h0M1122.2 782.5h0M1128.3 775.1h0M1099.3 778.3h0M1154.2 833.7h0M1173.5 851.2h0M1258.7 748.5h0M1264.1 749.4h0M1419.6 751.3h0M1406.8 770h0M1143.9 819.4h0"/>
<path d="M1192.3 778.6h0M1220.4 774.1h0M1257.6 785.9h0M1216.6 783.8h0M1161 773.1h0M1228.7 791.2h0M1172.1 789.3h0M1217.7 771.6h0M1182.3 768h0M1242.7 767.7h0M1210.2 772h0M1209.4 773.7h0M1196.7 774.7h0M1197.6 769.4h0M1161.2 789.7h0M1242.7 773.9h0M1189.6 767.3h0M1211 769h0M1196 771.4h0M1147.5 765.5h0M1182.9 786.8h0M1187.4 778.3h0M1171.6 783.7h0M1255.5 781.9h0M1258.8 762.9h0M1177.5 772.7h0M1196.1 777.9h0M1205.5 783.7h0M1196.4 780.8h0M1193.5 777.3h0M1233 774.2h0M1250.9 779.2h0M1184.1 783.8h0M1205 774.7h0M1195.4 773.2h0M1224.2 775.4h0M1227.4 789.5h0M1238.1 788.5h0M1261.5 769.5h0M1252.3 778.2h0M1236.6 788.7h0M1185.7 759.9h0M1211.5 782h0M1242.9 774.3h0M1179.2 777.6h0M1260.5 771.5h0M1220.9 769.5h0M1139.8 783.4h0M1246.5 782h0M1201.9 776.7h0M1205.7 769.6h0M1179.1 781.8h0M1248 772.7h0M1186.1 791.7h0M1243.8 792.5h0M1215.6 788.5h0M1200.9 788.5h0M1154.2 779.9h0M1169.5 783.3h0M1197 778.5h0M1225.8 785.4h0M1187.3 769.8h0M1218.7 773h0M1209.8 788.3h0M1185.5 765.1h0M1207.2 771.8h0M1178.9 778.5h0M1206.6 776.3h0M1197.3 784.5h0M1249.1 782.1h0M1200.9 772.2h0M1229.4 767.6h0M1239.4 771h0M1205.1 767.8h0M1203.2 779h0M1214.9 762h0M1202.2 770.2h0M1213.6 771.6h0M1154.3 770.4h0M1209.5 770.9h0M1222.9 778h0M1226.8 779.7h0M1183.2 779.1h0M1148.2 780.1h0M1166.4 772.5h0M1231.2 778.7h0M1234.1 776.9h0M1227.7 764.2h0M1257.4 767h0M1185.8 772.1h0M1164.1 776h0M1223.3 776h0M1239.8 779.2h0M1189 771.8h0M1191.3 778.3h0M1219.9 762.8h0M1199.8 766.5h0M1259.1 773.1h0M1196.2 783.2h0M1269.8 781.6h0M1202.2 784.5h0M1120.2 807.6h0M1161.6 789.1h0M1198.9 777.5h0M1255.1 777.7h0M1297.1 777.5h0M1203.4 772.2h0M1238.4 777.8h0M1240.9 786h0M1205.1 773.8h0M1185.1 781.7h0M1204.6 788.1h0M1272.7 774.7h0M1156.9 776.1h0M1338.7 772.8h0M1142.9 785.8h0M1178.9 786.3h0M1233.6 779.9h0M1237.9 778.9h0M1176.5 782.7h0M1186.2 771.2h0M1254.4 764.4h0M1270.3 772.2h0M1273 771.2h0M1456.1 770.3h0M1406.8 768.3h0M1446.9 764.7h0M1283 768.3h0M1335.3 768h0M1304.7 769h0M1395 767.3h0M1276.3 769.5h0M1444.8 765.5h0M1381.4 769.8h0M1319.4 773.7h0M1303 763.1h0M1268.7 770h0M1347.5 765.5h0M1447.3 764.7h0M1280.7 770.3h0M1412 770h0M1415.6 764.8h0M1351.3 766.8h0M1107.5 775.9h0M1131.7 779.7h0M1145.1 778.2h0M1102 777.3h0M1288.9 746.6h0M1444.6 814.3h0M1261.3 844h0M1220.5 830.5h0M1438.1 761.2h0M1440.2 834.5h0M1342.1 816.6h0"/>
<path d="M1175.2 759h0M1221.8 779.7h0M1235.3 788.6h0M1242 778h0M1181.8 778.2h0M1167.2 779.9h0M1206.8 770.1h0M1245.3 771.4h0M1224 776.4h0M1218.7 762h0M1179.3 775.5h0M1205 774.4h0M1190.8 773.2h0M1188.4 791.8h0M1172.3 781h0M1186.9 779h0M1189.3 772.9h0M1220.6 780.4h0M1195.5 776.6h0M1173.4 774.6h0M1201 779h0M1236.1 774.7h0M1241.2 761.4h0M1211.5 764.2h0M1187.6 777.2h0M1222.9 780.7h0M1235.9 776.7h0M1175.2 783.1h0M1254.2 777.6h0M1239.3 772.4h0M1211.7 766.5h0M1196.6 779.6h0M1252.2 786.3h0M1201.6 775.7h0M1212.2 774.3h0M1198.6 784.2h0M1207.1 779.8h0M1211.3 782.8h0M1202.9 783.2h0M1211.5 778.5h0M1185.1 788.8h0M1244.8 770.8h0M1188.3 773.2h0M1190.1 763.1h0M1224 782.8h0M1241.7 781.4h0M1188.8 778.4h0M1199.7 774.7h0M1284.4 774.3h0M1185.1 775.3h0M1231.8 779h0M1194.2 782.9h0M1178.3 781h0M1221 770.2h0M1180.3 784h0M1205.5 769.1h0M1153.7 766.4h0M1252.1 777h0M1209.5 787.4h0M1210 781.1h0M1201.6 772h0M1207.9 789.8h0M1171.6 768.9h0M1205.6 781.3h0M1200.4 766.8h0M1242.6 771.3h0M1200.6 770.7h0M1234.4 770h0M1203.6 754.1h0M1198.6 772.3h0M1193.9 779.1h0M1236.3 786.3h0M1230.4 779.1h0M1210.7 772.3h0M1210.6 768.1h0M1222.1 781.7h0M1178.8 778.3h0M1246.9 781.7h0M1193.7 774.5h0M1260.6 776.4h0M1193.6 769h0M1203.9 771.1h0M1208.6 765.9h0M1167.5 774.2h0M1233.2 782.9h0M1227.2 776h0M1217.2 775.1h0M1159.8 767.2h0M1183.8 766.9h0M1200.3 765.3h0M1205.4 778.6h0M1209.6 774.4h0M1206.5 768.5h0M1205.9 774.9h0M1141.8 773.6h0M1219 778.4h0M1222.1 782.6h0M1255.1 779.2h0M1152.6 769.4h0M1150.2 778.4h0M1265.8 762.5h0M1278 788.4h0M1213.4 785.7h0M1187 777.9h0M1193.6 756.2h0M1249.7 781.5h0M1193.2 780h0M1209.1 762.7h0M1143.8 765.1h0M1196.5 781h0M1210 757.1h0M1241.1 780.5h0M1196 792.7h0M1082.7 749.7h0M1203.7 782.5h0M1256.1 776.9h0M1208.4 761.9h0M1129.8 762.6h0M1157.9 776.5h0M1203.1 788.6h0M1277.6 786.2h0M1164.8 750.7h0M1294.9 769.3h0M1383.1 766.3h0M1309.4 773h0M1351.3 770.9h0M1395.8 766.3h0M1342.3 771.1h0M1356.8 766.6h0M1267.6 770.8h0M1275.2 767.4h0M1273.3 767.7h0M1430 772.2h0M1291.7 766.2h0M1292.9 764.5h0M1396.4 768.3h0M1276 765.8h0M1388.8 767h0M1407.9 771.1h0M1324.4 768.2h0M1341.3 767.2h0M1391.3 768.6h0M1376.4 767.2h0M1109.5 781.4h0M1147.9 785.3h0M1114.8 782.6h0M1096.6 777.7h0M1292.9 773.8h0M1444.1 852.2h0M1356.3 794.9h0M1124.3 850.3h0M1163.3 798.9h0M1434.8 773.8h0M1416.9 834.5h0"/>
<path d="M1158.9 782.2h0M1212.7 771.4h0M1176.9 759.7h0M1209.3 767.5h0M1188 774.1h0M1189.7 763.7h0M1231.2 767.8h0M1211.8 777.9h0M1236.6 782.7h0M1219.3 776.8h0M1220.2 781.6h0M1186.4 771.5h0M1258.8 781.1h0M1172.3 782.8h0M1224.5 775.8h0M1259.1 781.7h0M1221.4 786.7h0M1176 773.1h0M1151.1 766.5h0M1248.4 779.4h0M1213.5 775.5h0M1163.9 776.4h0M1219.4 773.6h0M1186.8 774h0M1220.5 788.4h0M1219.5 773h0M1188.7 778.9h0M1239.2 788.6h0M1202.2 775.6h0M1264.4 776.2h0M1209.9 783.5h0M1170.9 778.6h0M1222.8 779.5h0M1195.5 784.3h0M1127.4 778.6h0M1211.1 776.2h0M1202.7 756.9h0M1189.5 771.3h0M1184.7 773.1h0M1205.1 787.8h0M1233.2 775.4h0M1248.1 784.2h0M1281.1 774h0M1194.1 768.5h0M1205.3 764.3h0M1271.6 771.9h0M1203.5 791.3h0M1199.5 788.6h0M1198.4 781.5h0M1208.9 762.3h0M1165.6 785.6h0M1184.3 785.1h0M1184 782.9h0M1197.8 773.9h0M1225.9 766h0M1240.3 767.5h0M1199.2 770.4h0M1183.7 764.4h0M1229.5 767h0M1216.2 771.4h0M1209.7 778.8h0M1220.9 755.2h0M1157.1 774.5h0M1202.1 780.2h0M1223.5 770.3h0M1175.1 782.4h0M1183.7 785h0M1164.1 779.7h0M1166.9 770.8h0M1207.4 764.3h0M1227.9 770.8h0M1212.7 769h0M1197.7 768.4h0M1205.9 780.9h0M1231.3 777.9h0M1251.2 777.6h0M1220.6 771.5h0M1231.7 786.8h0M1220.7 769.4h0M1192.7 785.2h0M1213.3 780h0M1253.1 774.1h0M1228.5 762.9h0M1175.6 781.3h0M1183.1 774.4h0M1195 777.8h0M1204.5 782.2h0M1189.1 766.1h0M1173.6 784.8h0M1221.5 758.5h0M1209.6 773.6h0M1190.4 777.1h0M1240.8 774.6h0M1191.2 782.9h0M1155.2 782.7h0M1249.3 775.6h0M1189.7 772.3h0M1195.6 760.4h0M1151.5 754.6h0M1183.6 788.2h0M1185.5 791.1h0M1217.7 784.3h0M1211 776.7h0M1186.6 782.7h0M1207.7 759.3h0M1253.2 771.9h0M1239.5 785.5h0M1247.9 779.7h0M1292.2 765.1h0M1228.8 780.6h0M1233.6 776.1h0M1252.3 768.3h0M1217.2 765.9h0M1249 806.3h0M1305.8 776.6h0M1270.9 793.6h0M1154.8 777.7h0M1234 771.6h0M1192.7 782.2h0M1157.4 775.2h0M1231.6 774.4h0M1188.4 787.8h0M1457 768.5h0M1334.3 765.5h0M1351 770.4h0M1296 768h0M1443.1 767.8h0M1444.8 763.2h0M1290.7 773.5h0M1344.8 771.2h0M1341.1 770h0M1444 766.6h0M1457.1 765.3h0M1300.8 766.9h0M1373.7 765.7h0M1338.7 767.7h0M1350.7 768h0M1332.4 762.2h0M1283.8 769.8h0M1366.8 775.1h0M1288.2 766.8h0M1350.5 768.8h0M1382.5 767.4h0M1130 779.5h0M1098.7 776.9h0M1102.8 777.7h0M1110 780.4h0M1227.9 772.6h0M1223 829.6h0M1196 745.6h0M1318.7 789.1h0M1213.5 840.4h0M1235.2 780h0M1276.4 754.6h0"/>
<path d="M1241.4 778h0M1231.9 775.4h0M1194.8 785.9h0M1212.5 770.9h0M1246.6 773.6h0M1203.5 780.7h0M1236.9 767.5h0M1208.5 785.5h0M1244.5 764.4h0M1199 777.3h0M1219.9 766.3h0M1227.2 782.5h0M1208.6 765.6h0M1220.5 776.2h0M1154.6 786.8h0M1243.2 775.8h0M1208.5 783.7h0M1238.6 779.1h0M1217.4 769.8h0M1222.3 779.1h0M1194.8 794.3h0M1234.1 783.5h0M1173.6 776.5h0M1219.7 782.2h0M1191.7 778h0M1189.1 773.1h0M1172.3 785.1h0M1179.4 790.6h0M1224.8 778.4h0M1210.1 780.8h0M1206.1 775.7h0M1145 777.9h0M1184.1 769.8h0M1174.2 773.4h0M1198.1 768.6h0M1226.1 773.1h0M1217.8 778.7h0M1190.6 770.8h0M1187.1 767.1h0M1195.9 776.7h0M1197.9 778.6h0M1195.9 782.9h0M1217.7 774.9h0M1231.6 764.8h0M1195.1 787.7h0M1196 771.2h0M1210.8 770.6h0M1224.1 774.1h0M1210.4 781h0M1185.1 773h0M1194.6 770.7h0M1200.1 779.4h0M1202.3 760.2h0M1217.2 777h0M1170.7 777.6h0M1220.2 785.1h0M1200 767.7h0M1204.5 770.2h0M1190.9 783.3h0M1167 780.2h0M1207.9 776.1h0M1237.9 780h0M1211.7 767h0M1217.8 783.1h0M1226.2 774.9h0M1197.1 769.1h0M1203.7 776.4h0M1194.7 785.8h0M1222.1 777.5h0M1240.6 776.8h0M1156.1 762.8h0M1225.4 769.6h0M1242 778.5h0M1194.3 765.5h0M1231.8 770.1h0M1215.8 776.5h0M1188.1 785.5h0M1215.2 783.7h0M1231.3 763.1h0M1232.5 777.3h0M1234 768.2h0M1240.2 777.3h0M1203 782.1h0M1224 776.8h0M1231.7 784.8h0M1217.5 779.3h0M1235.4 790h0M1207.9 787.5h0M1164.2 779.4h0M1162.4 770.5h0M1222 764.9h0M1226.1 777.7h0M1150.6 777.7h0M1261 773.3h0M1242 762.8h0M1344.8 777.1h0M1208.1 781.1h0M1215.6 768.4h0M1162 790.6h0M1206.9 782.7h0M1175.5 787.4h0M1283.2 765.7h0M1188.1 794.5h0M1207.7 788.8h0M1260.1 781.4h0M1232.8 770.5h0M1138.4 772.2h0M1223.6 794.6h0M1219.7 767.2h0M1242.5 811.4h0M1171.8 773.2h0M1187.3 778.8h0M1204.1 763.9h0M1193.5 767.9h0M1199.5 783.4h0M1215.6 779.8h0M1186.9 779.3h0M1178.1 767.6h0M1100.5 790h0M1160.4 765.7h0M1256.9 775.8h0M1197.7 776.1h0M1414.7 764.3h0M1286.9 770.4h0M1324.6 770.2h0M1328.8 763h0M1334.9 771.3h0M1270.7 772.2h0M1303.9 768.1h0M1353.7 770.8h0M1311.8 770.4h0M1339.8 767.5h0M1396.6 767.1h0M1264.7 768.4h0M1343.9 770.9h0M1331.2 763.8h0M1422.5 766h0M1427.5 773.9h0M1315.9 772.5h0M1451.5 769.1h0M1344.2 762.6h0M1349.4 771.5h0M1424.3 763.3h0M1122.9 779.7h0M1124.2 784.7h0M1131.1 780.9h0M1259.2 743.4h0M1351.5 775.4h0M1439.4 775.1h0M1223.1 768.9h0M1402.9 810.6h0M1238.4 749.9h0M1324.9 807.7h0M1375.2 780.2h0"/>
<path d="M1217.8 784h0M1197.3 772.2h0M1221.7 774.6h0M1192.1 769h0M1197.8 784h0M1223 775.1h0M1238.1 771.4h0M1205.4 776.1h0M1226.6 768.3h0M1222.8 773.6h0M1208.1 785.6h0M1196.3 783.6h0M1191.6 782h0M1229.6 767.3h0M1176.5 785.4h0M1226.4 761.3h0M1206.7 772.7h0M1204.1 777.2h0M1240.4 765.3h0M1183.2 769.4h0M1189.6 778.2h0M1233.1 777h0M1202.1 770.2h0M1206.2 783.1h0M1185.8 777.1h0M1214.2 784.6h0M1179.1 782h0M1193.5 785.6h0M1181.7 763.1h0M1199.2 777.8h0M1214.6 782.2h0M1190.3 769.3h0M1213.3 781.3h0M1197.7 755.9h0M1194.2 781.2h0M1276.6 776.8h0M1184.2 768.4h0M1214.6 775.5h0M1248.9 783.3h0M1210.3 774.4h0M1190.2 774.9h0M1192.1 775h0M1210.7 782.4h0M1210.4 770.7h0M1245.7 766.7h0M1224.7 779.8h0M1230.8 780.6h0M1195.1 776.5h0M1170.8 778.8h0M1178.4 777.8h0M1224.5 773.2h0M1225.6 782.5h0M1199.2 769h0M1203.3 771.1h0M1196.2 771.3h0M1204.5 784.8h0M1222.9 771.9h0M1219.9 787.1h0M1244.7 767.4h0M1207.1 763.1h0M1241.5 785.2h0M1253.8 773.4h0M1152.6 773h0M1258.7 771.9h0M1183 768.4h0M1227.3 776.8h0M1182.6 773.2h0M1183.3 775h0M1166.9 779.9h0M1232.6 779.4h0M1180.4 785.8h0M1184.9 771.9h0M1191.3 780.9h0M1241.9 778.5h0M1193.3 774.7h0M1177.7 787h0M1227.4 782.9h0M1202.8 763.5h0M1245.3 771.6h0M1239.3 759.4h0M1211 778.5h0M1220.5 774.3h0M1219.9 777.6h0M1168.6 785.1h0M1217.4 786h0M1164.7 779h0M1211.4 783.1h0M1176.8 762h0M1219.9 786.4h0M1289.2 772.7h0M1245.7 775.8h0M1197 779.6h0M1233.6 777.5h0M1191.3 783.5h0M1198 785.5h0M1217.7 773.4h0M1220.5 762.2h0M1260 765.6h0M1211.8 787.1h0M1187.5 762.4h0M1232.6 776.5h0M1144.2 773.2h0M1177 776.8h0M1196.4 794.3h0M1258.8 786.2h0M1213.2 784.8h0M1193.1 775.9h0M1220.1 787.3h0M1239 780.6h0M1243 775h0M1228.4 772.4h0M1210.3 753.9h0M1232.3 783.6h0M1128.1 773.8h0M1246.4 793.2h0M1165.3 775.2h0M1206.4 766.4h0M1200.4 793.3h0M1102.1 768.6h0M1206.7 770.7h0M1201.8 761.5h0M1219.5 790.2h0M1294 775.9h0M1263.5 764.2h0M1291.8 773.4h0M1272.3 776.2h0M1392.3 766.1h0M1265.8 768.8h0M1381.6 768.9h0M1340.9 769.4h0M1289 769h0M1355.3 770h0M1312.4 769.8h0M1267.3 771.6h0M1385.1 768h0M1414 763.7h0M1439.5 768.8h0M1334 769.8h0M1403.8 767.6h0M1392.5 773.1h0M1444.9 766.4h0M1425.8 769.4h0M1385.3 769.1h0M1097.2 772.9h0M1113.8 779h0M1144 776.4h0M1182.6 830.4h0M1279.9 778.7h0M1459.8 745.8h0M1257.4 781.4h0M1153.1 829.7h0M1196.1 776.3h0M1115.5 746.4h0M1223.2 749.7h0"/>
<path d="M1165.8 766.9h0M1193.4 789.9h0M1222.2 784.4h0M1199.3 774.3h0M1245.1 761.1h0M1236.1 776h0M1182.5 785.7h0M1217.8 775.2h0M1177.8 768.8h0M1213 787.5h0M1224.4 775.9h0M1197.7 773.6h0M1189.8 773.9h0M1206.9 766.2h0M1221.7 756.3h0M1234 778.1h0M1211 770.9h0M1233.1 778.2h0M1152.6 781h0M1221.3 780h0M1197.5 769.9h0M1183.3 779.7h0M1226.6 782.8h0M1221 786.7h0M1268.6 766.9h0M1185 778.2h0M1208.1 771.5h0M1215.2 781.4h0M1237.8 769.7h0M1236.6 771h0M1243.8 769.4h0M1206.4 773.9h0M1244.4 781.2h0M1201.7 770.3h0M1227.2 775.5h0M1233 765.8h0M1208.9 775h0M1220.7 772.7h0M1236.8 767.2h0M1242.7 779.7h0M1212.1 773.8h0M1213.6 782.7h0M1198.9 772.4h0M1175.8 765.2h0M1227.3 771.8h0M1181.9 790.8h0M1221 768.4h0M1244.1 777.5h0M1206.1 770.6h0M1193.3 783.3h0M1203.8 770.8h0M1210.4 776.3h0M1205.4 780.1h0M1173.6 773.4h0M1171.8 772.2h0M1274.4 786.2h0M1241.2 769.1h0M1212.1 783.2h0M1222.1 780h0M1179.5 775.5h0M1213.7 776.7h0M1194.9 758.9h0M1201.2 781.1h0M1197.5 788.1h0M1197.6 779.2h0M1237.8 786h0M1212.2 771.4h0M1192.4 786.4h0M1179.4 774.8h0M1223.4 772.8h0M1192.1 773.3h0M1205.4 774.2h0M1163.9 779.9h0M1229.3 777.3h0M1192.9 782.7h0M1178.3 779.7h0M1193.8 770.4h0M1207.5 778.3h0M1176.5 777.1h0M1209.2 777.4h0M1240.6 783h0M1212.4 778.9h0M1200 769h0M1247.1 770.4h0M1220 771.9h0M1190.1 787.8h0M1228.9 765.3h0M1189.9 782.5h0M1213.2 760.9h0M1198.9 786.8h0M1226.3 778.1h0M1172.5 766.1h0M1203.7 782.4h0M1220.6 785.5h0M1190.7 771.7h0M1152.4 790.5h0M1215 779h0M1292.5 769.5h0M1309.7 767h0M1208.9 793.6h0M1215.5 763.9h0M1182.3 763.6h0M1359.6 791h0M1231.7 795.2h0M1224.6 797.6h0M1176.6 774.9h0M1278.3 797.9h0M1205.5 785.9h0M1218 771.6h0M1159.2 770.4h0M1234.2 795h0M1163.5 775.9h0M1249.2 782.1h0M1265.7 778.5h0M1217 783.5h0M1220.3 788.9h0M1251.3 766.3h0M1232.2 784h0M1235.9 777.1h0M1167.4 761.8h0M1272.7 771.3h0M1246.1 773.2h0M1356.7 771.4h0M1393.2 767.9h0M1398.6 762.5h0M1458.3 762.2h0M1386.9 765.2h0M1300.3 764.3h0M1432.4 767.5h0M1263 771.1h0M1389.9 764.6h0M1454.1 765.9h0M1406.9 760.8h0M1296.5 773.2h0M1269.4 766.9h0M1426.1 765.7h0M1364.4 766.1h0M1307.7 766.9h0M1287.7 768.2h0M1277 766.4h0M1282.8 771.2h0M1389.1 766.8h0M1275.9 769.4h0M1125.2 786h0M1128.1 780.5h0M1144.2 780.8h0M1159.8 824.1h0M1109.5 753.2h0M1351 819.4h0M1413.1 811.1h0M1308.3 813.2h0M1379.1 845.5h0M1318 795.6h0M1459.9 805.4h0"/>
<path d="M1152.1 773.9h0M1228.9 775.9h0M1214.3 777.8h0M1170.7 778.9h0M1190.2 762h0M1231.5 776.8h0M1238.6 772.1h0M1225.3 768.8h0M1198.3 783.9h0M1251.2 785h0M1206 772.2h0M1179.2 777.5h0M1202.6 772.9h0M1225.9 783h0M1229.6 779.9h0M1170.5 773.5h0M1237.7 765.9h0M1254.2 775.1h0M1218.2 778.6h0M1263.8 783.9h0M1189.9 772.3h0M1260.3 783.1h0M1260 760.9h0M1229.8 768.5h0M1248.2 773.7h0M1191.8 771h0M1232.7 782.4h0M1297.9 761.3h0M1171.4 771.9h0M1247.3 777.7h0M1199.2 774.5h0M1246.5 766.8h0M1169.4 773.9h0M1190.8 774.4h0M1230.6 791h0M1208 767.8h0M1166.1 771.8h0M1261 792.8h0M1229.5 779.4h0M1212 763.2h0M1195.1 771.9h0M1228.5 773.8h0M1236.5 775.4h0M1249.1 775.9h0M1244.9 775h0M1232.6 762.3h0M1210.4 775.5h0M1222.9 766.6h0M1215.2 786.7h0M1260.3 779.5h0M1226.8 785.9h0M1168.3 765.2h0M1261.3 766h0M1231.8 775h0M1254.9 778h0M1208.9 768.4h0M1181.1 773.1h0M1209.3 778.9h0M1213.7 769.4h0M1178.3 771.3h0M1240 769.2h0M1238.1 776.8h0M1204.8 777.3h0M1184.1 778.5h0M1223.5 767.7h0M1232.6 776.7h0M1218.7 779.6h0M1181.2 780.9h0M1160.1 787.1h0M1181.1 785.5h0M1231 778.4h0M1253.2 782.7h0M1221.8 772.4h0M1215.6 774.6h0M1274.1 770.1h0M1180.3 787h0M1230.1 783h0M1198.9 774.2h0M1252.7 772.7h0M1212.6 793.5h0M1170.2 776.4h0M1218 774.9h0M1210.2 782.4h0M1163.7 769.4h0M1215.7 776.8h0M1204.7 784.2h0M1194.9 775.2h0M1204 777.6h0M1194.2 778.6h0M1217.3 780.3h0M1204.6 776.1h0M1226.7 766.4h0M1242.9 783.9h0M1250.9 774h0M1177.3 780.4h0M1143.7 763.2h0M1122 782.9h0M1225.5 773.5h0M1200.2 770.8h0M1228.2 764.5h0M1221.2 757.5h0M1241 763.2h0M1220.9 774.8h0M1219.8 773.2h0M1129.6 767.6h0M1321 762.3h0M1212.1 760.1h0M1211.9 781.9h0M1180.2 768.7h0M1240.3 779h0M1278 746.7h0M1156.7 785h0M1219.9 789.1h0M1254.6 773.4h0M1346.4 781.5h0M1084.2 779.5h0M1231.6 769.7h0M1279.5 793.3h0M1253.6 777.6h0M1202.5 781.9h0M1126.2 779.6h0M1260.5 764.6h0M1331.8 768.1h0M1453.8 763.9h0M1292.1 767.5h0M1456.7 765h0M1312.6 774h0M1450.1 766h0M1280.4 769.6h0M1299.1 766.9h0M1460.1 765.9h0M1401.8 772.2h0M1270.1 770.4h0M1396.6 763.4h0M1314.3 769.9h0M1434.1 759.9h0M1271.2 769.7h0M1405.9 766.8h0M1456.9 768.4h0M1435.7 762.4h0M1461.4 767.5h0M1343.4 768.2h0M1405.8 766.2h0M1136.5 782h0M1124.7 782.4h0M1124.5 775.2h0M1152.1 777.9h0M1459.2 806.9h0M1358.5 805.4h0M1312 783h0M1447.9 759.9h0M1128.7 837.4h0M1172.4 802.4h0M1326.8 796.9h0"/>
<path d="M1201.2 779.3h0M1202.4 778h0M1233.7 776.6h0M1211.5 785.1h0M1217.3 769.5h0M1210.9 768.7h0M1199.9 766.4h0M1223.5 763.5h0M1224.6 780.8h0M1187.3 783.2h0M1207.2 779.7h0M1264 767h0M1220.6 781.2h0M1171.8 775.1h0M1226 771.5h0M1225.1 782.6h0M1200.9 759.9h0M1194.3 785.2h0M1223.5 771h0M1237.9 774.9h0M1178.8 785.1h0M1228.3 785.7h0M1205.5 774.6h0M1201.2 776.1h0M1204 770h0M1230.2 777.7h0M1243.1 779.2h0M1198.6 775.7h0M1239.4 776.6h0M1223 773.5h0M1194.4 782h0M1199.3 770.1h0M1189.7 778.1h0M1241.9 777h0M1182.1 788.3h0M1181.2 775.6h0M1206.8 767.2h0M1213.1 786.4h0M1231.6 763.6h0M1231 766.7h0M1230.8 774.1h0M1218.3 770.5h0M1216.2 784.1h0M1232.4 762.6h0M1226.3 784.3h0M1225 768.9h0M1214.7 766.5h0M1202.2 775h0M1224.8 774h0M1198.9 772.6h0M1190.6 786.9h0M1230.7 774.5h0M1177.1 771.9h0M1225.3 759.6h0M1208 776.3h0M1204.6 770.4h0M1212 773.5h0M1225.3 778.2h0M1174.1 773.9h0M1189.1 759.4h0M1210.8 768.6h0M1256.4 779.9h0M1261.4 767.5h0M1186.2 779.6h0M1170.2 777.5h0M1200.5 769.5h0M1190 769h0M1187.1 787.7h0M1185 766.2h0M1252.6 781.8h0M1171.6 779.5h0M1224.6 767.9h0M1220.9 763.2h0M1246.5 777h0M1179.9 766.4h0M1167.3 779.7h0M1229.9 768h0M1190.2 771.2h0M1234.9 765.9h0M1209.6 789.9h0M1194.3 784.3h0M1269.6 803.5h0M1213.2 778.6h0M1176.2 778.4h0M1221.2 772.4h0M1203.9 787.2h0M1152.9 776.1h0M1166.8 785.2h0M1111.3 770.7h0M1233.4 788.5h0M1178.6 776h0M1185.6 775.4h0M1205.1 786.1h0M1236.8 767.1h0M1256.5 759.2h0M1113.6 768.9h0M1137.4 783.5h0M1202.7 786.9h0M1256.3 781.1h0M1177.8 765.6h0M1176.1 777.2h0M1233 778.3h0M1231.4 776.5h0M1173.1 774.5h0M1174.6 773.4h0M1211 783.8h0M1190.2 781.3h0M1213 777.4h0M1166 776.5h0M1184.9 764.6h0M1314.9 766.3h0M1142.8 791h0M1244.6 759.8h0M1190.6 773.8h0M1245.1 754.3h0M1204.3 787.3h0M1237.7 784.9h0M1287.1 791.7h0M1184.1 763.1h0M1197.6 781.6h0M1232.6 771.2h0M1216.3 775h0M1426.7 771.5h0M1264.5 768.6h0M1322.2 766.5h0M1273.6 768.6h0M1399.5 762.3h0M1341.1 766.8h0M1326.6 776.5h0M1269 772.6h0M1442.2 764.4h0M1272.8 764.6h0M1263.4 775h0M1282.5 772.2h0M1459 763.7h0M1434 770.9h0M1288.2 770.3h0M1318.9 767.9h0M1381.3 772h0M1363.1 769.7h0M1375.6 769.5h0M1411.6 775.1h0M1144.7 775.6h0M1142.6 777.9h0M1146.1 782.2h0M1107.9 782.7h0M1338.3 801.9h0M1274.9 847.4h0M1392.2 813.9h0M1316.5 751.3h0M1290.5 809h0M1417.1 836.8h0M1398.9 826.4h0M1313.7 826.2h0"/>
<path d="M1164.7 778.5h0M1217.4 782.7h0M1189.6 769.5h0M1236.9 776.9h0M1180.8 780h0M1215.2 778.2h0M1198.7 780.2h0M1198.9 769.4h0M1161.3 789.5h0M1213.6 773.6h0M1172.2 770.9h0M1204.4 782.8h0M1170.4 775.6h0M1238.3 775.2h0M1226.6 787.5h0M1202.8 778h0M1257 772h0M1239.3 774h0M1227.5 786.5h0M1201.1 759.6h0M1201.7 765.9h0M1252.2 783h0M1195.3 769h0M1225.4 776.1h0M1196.8 771.2h0M1230.4 774h0M1168.7 776.7h0M1216.6 765.9h0M1204.7 786.4h0M1205 778.7h0M1179.7 778.8h0M1183.1 785.4h0M1214.7 787.8h0M1226 762.6h0M1205.8 780.7h0M1177.7 777.2h0M1210.6 774.9h0M1222.2 759.8h0M1231.9 788.6h0M1186.4 783.2h0M1183.8 776.7h0M1226.6 778.8h0M1240.7 768.2h0M1193.3 774.1h0M1225.5 767.3h0M1253.3 773.8h0M1190.3 776.9h0M1241.3 776.1h0M1248.9 773.8h0M1185.8 761.5h0M1240.3 778.6h0M1198.8 790.2h0M1173.6 770.3h0M1191.7 781.9h0M1235 773.3h0M1251.3 776h0M1179.2 770.8h0M1198.8 771.9h0M1231.3 779.5h0M1218.3 784.2h0M1220.4 791.9h0M1244.8 772.6h0M1196.2 774.6h0M1184.9 777.6h0M1247.6 767.7h0M1197.6 771.1h0M1253.3 764.6h0M1207.7 782h0M1231.1 783.3h0M1182.9 783.9h0M1225 777.8h0M1255 782.6h0M1165.1 781.8h0M1215.9 770.5h0M1228.3 784.5h0M1203.2 762.3h0M1215.7 768.3h0M1204.4 770h0M1255.5 775.4h0M1206.8 776.4h0M1194.9 777.5h0M1249.2 774.3h0M1245.6 765.9h0M1207.6 789.2h0M1151.9 791.3h0M1254.3 768.3h0M1230.4 767.1h0M1191.9 777.3h0M1229.6 774.1h0M1186.2 765.9h0M1251.7 774.6h0M1205.5 776.4h0M1261.7 777.6h0M1250.3 774.7h0M1219 769.9h0M1221.2 786.2h0M1140.4 793.9h0M1179.7 771.2h0M1160.2 774.6h0M1185.1 762.1h0M1154.9 788h0M1186.4 779.3h0M1237.8 769h0M1209.8 780.5h0M1191.7 778.1h0M1205 764.6h0M1186.1 781h0M1272.1 779.9h0M1244.1 781.8h0M1194.2 766.7h0M1264.4 780.7h0M1177 781.2h0M1213.2 783h0M1293.5 780.9h0M1151.1 790.3h0M1248 798.9h0M1230.3 783.6h0M1240.1 813.3h0M1233.2 767.3h0M1244.2 780.9h0M1297.7 770.3h0M1168.1 774h0M1354.8 766h0M1376.6 764.4h0M1281.5 770.6h0M1404.4 769.3h0M1279.3 767.7h0M1306.1 766.7h0M1408.2 764.5h0M1387.5 764.1h0M1350.7 766.3h0M1436.8 770.6h0M1415.9 770.6h0M1305.9 768.4h0M1358.1 769.2h0M1285.6 773.6h0M1267 774.5h0M1274.6 773.2h0M1334.9 771.6h0M1456.8 767.3h0M1366.1 772.1h0M1303.2 767.9h0M1136.3 776.9h0M1100.3 780.6h0M1122.4 772.6h0M1127.6 781.7h0M1243.9 770.7h0M1212.5 849.4h0M1122.5 747.5h0M1399.5 748.4h0M1441.5 805.4h0M1254.5 745.7h0M1453.5 845.9h0M1265.1 752.7h0"/>
<path d="M1206 774.1h0M1171.8 774.8h0M1202.9 775h0M1245.7 772.2h0M1243.5 779.1h0M1242.7 778.9h0M1195.9 773h0M1189.2 775.4h0M1216.2 784.1h0M1207.2 783h0M1199.1 766.6h0M1184.3 777.7h0M1198.9 766.9h0M1195.7 766h0M1219.2 786.2h0M1201.5 763.8h0M1228.6 788.1h0M1256.7 780.5h0M1201.8 779.2h0M1212.7 775.5h0M1202.7 770h0M1192.2 772h0M1230.6 761h0M1237 764h0M1234.9 786.7h0M1186.4 782.5h0M1196.8 776h0M1215.8 777.6h0M1213.6 758.8h0M1208.9 773.3h0M1196.4 767.7h0M1209.6 784h0M1210.5 777h0M1197.8 775.2h0M1222.8 765.9h0M1228.2 775.8h0M1195.6 778.4h0M1202.4 780.5h0M1217.8 776h0M1206.5 772.8h0M1198.2 769.2h0M1187.7 782.8h0M1198.4 770.1h0M1252.7 784.7h0M1212.5 780.5h0M1247.7 761.8h0M1226.1 785.5h0M1243.8 781.2h0M1194.7 761.4h0M1219.8 766.2h0M1179.1 775.8h0M1238.1 777.1h0M1209.1 779.7h0M1235.6 778.5h0M1232.6 770.5h0M1169.9 747.8h0M1239.1 768.5h0M1228.7 779.4h0M1214.3 773.8h0M1216.3 766.8h0M1264.3 788h0M1205.3 781h0M1238.1 782.7h0M1196.3 790.3h0M1184.1 761.7h0M1232.5 767.3h0M1186.9 788.9h0M1224.4 768.7h0M1206.1 758.4h0M1204.5 768.8h0M1185.1 766.7h0M1225.2 771.2h0M1220.4 781.2h0M1172.1 783.2h0M1189.4 769.6h0M1252 765.6h0M1159.5 778.3h0M1197.7 774h0M1198.7 785.4h0M1164.4 761.6h0M1201.5 772.4h0M1189.8 776.8h0M1175.1 771.9h0M1188.7 785.8h0M1236 769.2h0M1179.4 777.9h0M1209.6 775.8h0M1190.5 782.3h0M1202.3 772.5h0M1225.7 765.8h0M1222.6 786.2h0M1178.5 782.1h0M1186 779h0M1257.4 778.3h0M1224.4 797.3h0M1287.5 789.7h0M1140.2 790.4h0M1243.4 796.3h0M1157.3 768.7h0M1210.9 783.2h0M1169.8 774.1h0M1153.5 764.5h0M1156 771.8h0M1292.4 797.2h0M1184.2 772.7h0M1250.8 768h0M1167 787.7h0M1131.4 787.4h0M1200.5 781.7h0M1180.6 783.5h0M1155.8 786.4h0M1121.8 785.8h0M1264 786.6h0M1227.2 786h0M1259 797.2h0M1155.4 800.1h0M1246.5 777h0M1207 766.5h0M1172.8 773.7h0M1155.3 777.8h0M1262.9 787.3h0M1228.9 771.7h0M1460.5 769.8h0M1280 773h0M1420 769.5h0M1394.1 766.8h0M1364.3 775.4h0M1389.5 762.3h0M1446.4 769.8h0M1287 768.1h0M1453.5 770.2h0M1268.3 771.7h0M1351.5 772.5h0M1349.7 769.9h0M1395.7 764.2h0M1441 768.2h0M1279.4 765.1h0M1403.8 765.3h0M1382 765.3h0M1272.2 770.1h0M1304.8 771.9h0M1285 768.8h0M1102.6 780.6h0M1115.8 778.5h0M1097.1 775.9h0M1106.9 783.5h0M1367 849.8h0M1260.3 829h0M1183.9 834h0M1381.6 809.8h0M1288.7 758.6h0M1251.1 857.4h0M1166.9 758.1h0M1270.7 815.4h0"/>
<path d="M1208.2 781.5h0M1198.4 779.4h0M1237.1 781.5h0M1151.4 775.4h0M1161.4 771.9h0M1179.8 784.1h0M1162.3 780.1h0M1207.5 777.5h0M1217.3 776.9h0M1201.9 770.2h0M1193.4 773.2h0M1260.5 771.2h0M1157 782.2h0M1267.2 787.3h0M1224.6 764.4h0M1247.9 772.9h0M1221.9 779.1h0M1187 763.6h0M1194.1 781.4h0M1226.8 787.3h0M1209.6 779.5h0M1176.4 780h0M1157.2 773.3h0M1162 782.5h0M1187.9 781.9h0M1155.4 775.4h0M1170.8 774.6h0M1209.9 775.4h0M1181 777.8h0M1184.6 781.7h0M1190.3 768.3h0M1178.7 774.9h0M1245.6 781.8h0M1218.8 771.1h0M1201 792.8h0M1205.4 769.3h0M1233 769.7h0M1199.5 781h0M1196.7 781.6h0M1226.9 766.5h0M1189.8 772.5h0M1171.8 771h0M1199.9 767.1h0M1241 765.2h0M1151 765.2h0M1142.4 767.2h0M1177.2 773.8h0M1201.4 774.3h0M1222.8 774.5h0M1206.3 768h0M1222 768.1h0M1145.6 787.1h0M1186.9 779.2h0M1222.9 762.2h0M1188.1 778.7h0M1194.9 779.1h0M1241 775.3h0M1181.9 767.3h0M1199.3 777.9h0M1218.4 783.8h0M1204 780.8h0M1262.2 768.4h0M1213.4 786.2h0M1249.2 769h0M1233.9 772.3h0M1188.2 759.2h0M1219.9 780.2h0M1203.8 758.5h0M1242.1 772.7h0M1243.3 779.1h0M1238.3 780.6h0M1211.8 775.1h0M1234.3 767.6h0M1128.3 784.5h0M1196.8 765.8h0M1217.6 787.9h0M1195.6 781.7h0M1254.3 760.5h0M1239.6 778.3h0M1193.5 788.4h0M1181.5 771h0M1223.6 784.8h0M1201.8 776.4h0M1159 780.8h0M1222.3 783.4h0M1206.3 782.9h0M1203.8 768.4h0M1152 776.3h0M1233.9 783.3h0M1225.4 775.1h0M1242 782.7h0M1184.5 774.9h0M1221.9 783.4h0M1220.1 770.3h0M1235.8 771.9h0M1205.8 768.7h0M1225.3 785.8h0M1199.3 779h0M1268.9 777.5h0M1200.8 771.1h0M1246.6 780.5h0M1202.5 796.9h0M1196.4 785.9h0M1179.2 776.2h0M1251.4 765.7h0M1087.3 773.6h0M1135.8 773h0M1174 777.3h0M1239.6 790.3h0M1188.1 788.9h0M1297.6 776.5h0M1266 773.8h0M1221.1 768h0M1219.6 756.2h0M1214.7 777.9h0M1266.2 784.6h0M1137 778.6h0M1278.9 766.4h0M1139.8 781.2h0M1201.8 771.7h0M1249.2 777.8h0M1217.6 781.6h0M1266.8 770.5h0M1403.2 768.3h0M1298.9 762.5h0M1385.7 767.8h0M1286.4 766.7h0M1371.1 768.9h0M1348.6 770.6h0M1454.9 767.9h0M1444.8 765.7h0M1262.8 764h0M1287.5 768h0M1331.5 767.4h0M1403.8 769.4h0M1351.6 768.8h0M1291.9 765.6h0M1462 768.4h0M1416.7 770.4h0M1299 773.8h0M1289.3 769.4h0M1389.4 769.2h0M1128 787.3h0M1106.2 787h0M1110.9 779.6h0M1143.1 777h0M1317.3 813.6h0M1376.5 857.2h0M1244 817.3h0M1300.2 855.3h0M1412.4 838.5h0M1381.3 815.1h0M1163.6 786.7h0M1195.9 749.4h0"/>
<path d="M1153.2 778.5h0M1183.6 773.7h0M1210.5 777h0M1196.4 767.9h0M1166.8 792.7h0M1224.1 780.2h0M1186.1 781.2h0M1168.1 787.6h0M1170.8 775h0M1191.2 778.3h0M1206.6 779.8h0M1231.1 788.2h0M1176.2 774.5h0M1146.8 785.3h0M1202.8 770.2h0M1220.6 765.9h0M1223.6 770.2h0M1239.1 759.2h0M1195.4 773.5h0M1221.3 770.9h0M1196.3 784.8h0M1239.1 776.3h0M1238.4 755h0M1227.7 757.9h0M1203.9 783h0M1187 777.4h0M1220.4 781.3h0M1191.3 779.5h0M1249 768.8h0M1170 774.8h0M1200.1 775.4h0M1213.7 768.2h0M1196.6 782.3h0M1182.9 773.3h0M1243.2 773.5h0M1204.3 782.7h0M1188.3 773.9h0M1178.8 786.3h0M1236.3 781.2h0M1167.2 789.3h0M1222.4 786h0M1180.6 772.6h0M1258.2 786.2h0M1215.5 769.7h0M1231 788.6h0M1221.5 787.8h0M1267.1 764h0M1205.3 758.7h0M1252 768.7h0M1227.9 772.7h0M1210.9 774.3h0M1217.2 769.1h0M1166.5 776.2h0M1209 775.5h0M1196.2 786.2h0M1201.5 775.3h0M1233.3 780h0M1148.9 773h0M1195.7 768.4h0M1234.9 772.9h0M1182.3 777.3h0M1195.3 782.2h0M1228.4 781.5h0M1192.7 779.9h0M1211.2 782.6h0M1214.9 788.9h0M1225.9 778.6h0M1192.5 775.5h0M1189 792h0M1216.8 776.7h0M1234 770.7h0M1197.8 779.9h0M1176.5 769.6h0M1253.1 778h0M1223.7 775.7h0M1192.8 767.6h0M1208 773h0M1163.3 764.3h0M1222.1 767.1h0M1227.2 772.4h0M1237.3 767.3h0M1191 779.5h0M1225.1 769.2h0M1214.1 782h0M1224.9 761.6h0M1262.5 766.5h0M1196.5 764h0M1154.1 786h0M1174.6 769.3h0M1238.4 781.5h0M1216 766.6h0M1235.5 773.7h0M1192.7 777.7h0M1139.2 762.3h0M1230.1 776.8h0M1177.4 788.8h0M1079.5 769.8h0M1183.7 763.8h0M1249.6 799.1h0M1167.2 764.1h0M1200.9 771.3h0M1313.9 765.7h0M1250.2 760.4h0M1241.5 752.7h0M1214 770.2h0M1166.5 763.9h0M1188.8 779.9h0M1261.1 777.7h0M1182.7 782.6h0M1148.8 788.3h0M1230.9 772.3h0M1268.8 767.9h0M1308.9 774.9h0M1267.6 764.3h0M1263.3 780.8h0M1169.6 793.7h0M1283.5 774.5h0M1215.8 781.9h0M1168 766.1h0M1250 785.2h0M1175.2 770.3h0M1164.6 779.4h0M1294.8 767.1h0M1451.3 767.2h0M1442.9 766.4h0M1292.7 773.6h0M1413.2 769.5h0M1428.4 764.8h0M1445.6 766.2h0M1412 764.9h0M1461.6 765.8h0M1452 765.2h0M1446.8 762.1h0M1325.7 767.8h0M1402 771h0M1377.3 763.3h0M1282.3 771.6h0M1458.5 766.5h0M1298.1 764.7h0M1390.6 767.2h0M1411.7 761.1h0M1277.7 765.6h0M1114.6 775.4h0M1103.6 779.5h0M1135.5 779.4h0M1116 782h0M1221.1 778.2h0M1263.3 797.8h0M1436.1 831.6h0M1306.1 780.7h0M1347 783.5h0M1433.4 786.2h0M1231.5 769.9h0"/>
<path d="M1206.9 778.2h0M1165.6 792h0M1245.7 779.9h0M1167.7 786.3h0M1205.4 766.6h0M1184.5 773.9h0M1244.5 773.9h0M1206.1 773.5h0M1125.5 772.7h0M1183.3 772h0M1220.3 775.7h0M1237.8 763.8h0M1217.2 787.6h0M1224.5 771.6h0M1174.5 771.5h0M1213.2 782.2h0M1211.4 770.9h0M1211 770.7h0M1242.3 772.9h0M1231 778.4h0M1214.2 777.6h0M1212.4 782.6h0M1233.9 774.5h0M1189.1 762.3h0M1228.5 785.1h0M1221.3 771.1h0M1230.3 785.9h0M1212.5 777.5h0M1177.6 762h0M1175.4 781.2h0M1275.3 772.9h0M1249.4 786.4h0M1228.1 782.1h0M1246.7 774.2h0M1208.4 778.8h0M1184.7 779.5h0M1257.5 775.7h0M1174.3 781.9h0M1174.7 772.8h0M1243.6 765.8h0M1267.8 770.4h0M1176.8 780.8h0M1196.5 783.9h0M1228.5 767.2h0M1182.5 776.5h0M1170 768.9h0M1180.4 770.9h0M1178.5 777.9h0M1194.9 777.9h0M1236.1 764.8h0M1216.2 783.6h0M1157 779.4h0M1183.9 782.9h0M1186.3 780.2h0M1265.3 776h0M1241.4 776.9h0M1215.4 775.2h0M1190.7 783.2h0M1176.5 769.5h0M1180.4 775.3h0M1229.7 785.1h0M1176.8 782.9h0M1227 763.1h0M1215 771.8h0M1197.4 782.4h0M1179.9 778.1h0M1202.3 778.1h0M1187.5 775h0M1176 767.3h0M1230.7 786.7h0M1203 781.9h0M1195.1 765.6h0M1182.9 771.9h0M1195.7 771.1h0M1220.9 783.6h0M1149.7 777.7h0M1220.1 779.6h0M1201.6 785.6h0M1178.8 778.3h0M1161.8 774.7h0M1179.1 763.6h0M1206.2 769.9h0M1176.8 759.3h0M1210.9 775.9h0M1201.9 779.4h0M1207.4 777.2h0M1240.1 789.2h0M1198.4 775h0M1260.6 757.6h0M1258.4 778.8h0M1210.8 774.9h0M1203.8 789.3h0M1225.6 774.9h0M1226.5 771.3h0M1170.2 764.5h0M1226.2 767.9h0M1286 792.7h0M1187.4 763.9h0M1233.4 775.1h0M1253.9 777.3h0M1221.6 780.3h0M1236.5 774.4h0M1259.6 787.4h0M1181.8 777h0M1270.7 791.3h0M1240.8 774h0M1183.6 789h0M1241 783.4h0M1230.7 794.3h0M1221.7 772.6h0M1249.3 790h0M1239 769h0M1265.8 772.2h0M1171 782.9h0M1268.1 761.3h0M1197 772.5h0M1197.9 766.7h0M1192 785.6h0M1199.6 774h0M1267.5 777h0M1208.2 758.1h0M1272.5 780.4h0M1390.6 764.3h0M1359.8 764.3h0M1362.6 768.5h0M1285.7 767.6h0M1323.1 765.3h0M1443.3 772h0M1262.9 767.7h0M1351 772.3h0M1383.6 767.7h0M1448.2 770.6h0M1384.4 767h0M1440.3 770.7h0M1435.8 765h0M1319 770.7h0M1320 768.6h0M1451.9 767.6h0M1278.4 773.5h0M1271.6 772.3h0M1369.7 768h0M1417.5 765.6h0M1137 776.9h0M1123.2 782.8h0M1118.2 772.9h0M1142.7 778h0M1227.4 805.8h0M1251.8 793.2h0M1198.7 850.5h0M1258.1 817.1h0M1214.9 849.1h0M1100.4 834h0M1178.7 802.6h0"/>
<path d="M1253.3 767.3h0M1203.8 775.3h0M1239.8 773.9h0M1178.2 772.7h0M1217.2 792.6h0M1200.5 770.7h0M1190.2 774.8h0M1191.5 782.4h0M1169.2 777.5h0M1206.2 775.4h0M1224 770.2h0M1203.7 776.6h0M1256 780.1h0M1174.8 769.9h0M1200.9 788.3h0M1219.8 784.1h0M1214.4 777.5h0M1228 777h0M1203.2 783.8h0M1149.8 771h0M1187.8 780.8h0M1217 775.1h0M1170.1 787.3h0M1199.1 778.5h0M1208.8 777.9h0M1207.8 778h0M1164.8 784.4h0M1238.5 773.4h0M1217 770.9h0M1240.4 782.6h0M1190.8 783.7h0M1221.7 769h0M1197.4 767.5h0M1161.4 771.7h0M1204.3 757.9h0M1208.3 782.5h0M1215.1 789.7h0M1175 772.9h0M1202.8 768.6h0M1193.6 766.1h0M1194.8 774.6h0M1211.3 783.4h0M1210.8 762.4h0M1184.9 771.4h0M1199.4 779.4h0M1269.4 776.2h0M1231 791.9h0M1196.4 789.3h0M1239.8 774.1h0M1156.9 786.5h0M1224.5 778h0M1221.7 789.7h0M1191.9 765.6h0M1254.3 776.6h0M1263 771.5h0M1229.1 787h0M1246.4 770.9h0M1226.7 765h0M1210.2 782.1h0M1212.5 768.2h0M1189.8 782.1h0M1172.6 772.9h0M1211.3 802.2h0M1158.7 763.4h0M1225 778.2h0M1224.9 781.9h0M1171.3 781.5h0M1194.7 794h0M1199.2 776h0M1140.4 765.6h0M1190.5 781.9h0M1222.3 767.8h0M1238 764.1h0M1205.4 777h0M1232.5 770.3h0M1238.7 774.3h0M1206 775.2h0M1219.5 792.2h0M1223.6 777.5h0M1198.2 777.9h0M1182.6 795.7h0M1171 780.7h0M1158.2 777.8h0M1239 778.4h0M1222 784.1h0M1226.6 780.4h0M1200.7 775.6h0M1226.4 772h0M1221.3 759.1h0M1189.7 771.7h0M1238.6 777.8h0M1236 783.2h0M1241.3 774.9h0M1273 767h0M1202 763.5h0M1183.9 751.2h0M1191.4 774.9h0M1245 784.5h0M1076.1 785.2h0M1212.5 778.4h0M1262.3 764h0M1244.3 771.9h0M1209.9 767.9h0M1125.1 777.8h0M1205 791.1h0M1176.8 751.2h0M1233.3 769.5h0M1281.5 789.4h0M1201 791.6h0M1260.8 808.7h0M1207.5 789.1h0M1130.7 785.4h0M1196.7 781.9h0M1166.7 781.1h0M1220 777.1h0M1114.1 780.3h0M1158 765.9h0M1195.1 758.2h0M1220.3 772.4h0M1306.8 787.6h0M1241.2 788.7h0M1387.2 771.6h0M1363.8 770.9h0M1456.3 773.5h0M1377.1 769.9h0M1309.6 768.1h0M1305.1 768.7h0M1458.9 764.5h0M1287.4 773.6h0M1353.5 767.2h0M1446.2 765.3h0M1414.1 763.3h0M1384.2 768.5h0M1458 766.1h0M1275 765.4h0M1402.3 764.6h0M1418.2 765.8h0M1450.9 766.4h0M1398.8 766.8h0M1267 763.5h0M1442.5 766h0M1328.3 769.2h0M1135.7 777.1h0M1108.2 783h0M1134.3 783.8h0M1125.8 779.2h0M1437.4 742.8h0M1118.2 779.3h0M1108.8 783.6h0M1452.5 797.6h0M1342.1 806.7h0M1326 819.1h0M1192.1 829h0"/>
<path d="M1209 774h0M1279.4 770.9h0M1226.4 776.2h0M1196.9 779h0M1191.9 766.7h0M1208.2 765.4h0M1207.8 769.1h0M1174.9 774.8h0M1218.4 773.3h0M1145.2 769.8h0M1226.7 770h0M1202.1 771.7h0M1158.4 754.1h0M1202.6 770.5h0M1258.5 765.9h0M1219.8 767.3h0M1249.9 766.4h0M1187.5 778.6h0M1214.5 774.9h0M1231.8 777.7h0M1167.7 782.7h0M1200.2 778.6h0M1231.1 773.8h0M1220.4 775.2h0M1184.8 780h0M1196.7 776.8h0M1219.1 782.1h0M1256.7 775.1h0M1165.5 774.6h0M1235 772.7h0M1205.4 772.2h0M1224.5 783.1h0M1198.8 789.6h0M1216.2 773.3h0M1215.4 774.3h0M1184.4 775h0M1167.9 772.7h0M1236.1 764.3h0M1208.7 761.3h0M1215 760.6h0M1164.9 763.7h0M1237.1 772.9h0M1182.4 776.8h0M1225.7 796.4h0M1217.5 781.4h0M1186 779.7h0M1166.7 773.6h0M1191.9 773.7h0M1205.9 778.7h0M1194.4 777.3h0M1179.8 763.7h0M1200.9 779.3h0M1229.9 770.6h0M1226.1 772.3h0M1215 784.6h0M1182.7 782.4h0M1177.4 804.6h0M1175.8 773h0M1184.7 777.4h0M1189.8 772.3h0M1244.4 766.7h0M1204.1 775.3h0M1246.2 774.9h0M1228 778.4h0M1207.5 770.7h0M1249.7 777.8h0M1190 785.3h0M1232.2 782.2h0M1233.2 771h0M1188.6 785.5h0M1178 756.3h0M1194.7 777.1h0M1230.6 775.7h0M1221.6 768.6h0M1208.1 772.1h0M1196.2 775.1h0M1232.6 774.3h0M1175.8 772.5h0M1183.3 773.2h0M1194.3 772.7h0M1200.9 777.5h0M1233.1 787.4h0M1201.3 775.9h0M1178.6 759.8h0M1238.8 762.5h0M1209.4 774h0M1227.5 773.7h0M1187.7 770.1h0M1240.2 782.2h0M1272.8 772.9h0M1217.7 776.4h0M1218.1 771.9h0M1287.1 775.3h0M1241.5 774.8h0M1256.5 753.5h0M1234.6 777.3h0M1108.1 790.4h0M1229.9 769.2h0M1179.1 767h0M1282.8 796.5h0M1209.1 769h0M1146.7 770.4h0M1205.5 784.4h0M1170.4 776h0M1254.1 745.6h0M1231.3 788h0M1222.4 768.4h0M1202.1 767.7h0M1251.5 780.4h0M1199.5 781.3h0M1251.8 792.6h0M1196.3 775.2h0M1186.3 766.4h0M1203.3 789.5h0M1257.8 767.2h0M1182.9 785.7h0M1290.8 776.4h0M1214.7 766.2h0M1244.4 764.5h0M1281.4 790.6h0M1177.6 786h0M1441.3 763.8h0M1412.4 770.4h0M1458 763.2h0M1335.3 771.6h0M1425.2 769.7h0M1291.6 772.5h0M1442.1 767.7h0M1342.5 759.9h0M1333.4 764.8h0M1409.3 766.7h0M1270.3 764.5h0M1292.5 767.6h0M1270 770h0M1408.4 767.8h0M1461.9 767.8h0M1449.8 771.7h0M1263.1 764.6h0M1325.9 770.3h0M1375.7 766.5h0M1374.5 764.1h0M1374 768.6h0M1129.9 779.4h0M1143.3 779.4h0M1109.6 786.4h0M1106.9 776.3h0M1451.9 808.5h0M1408.7 839.5h0M1174.7 823.5h0M1343.2 792.8h0M1156.1 852h0M1159 758.9h0M1260 842.9h0"/>
</g>
</g></g>
<text transform="matrix(0.2195 0 0 0.2195 847.40 591.05)" font-size="100" fill="#1c1c1c">1</text>
<text transform="matrix(0.2195 0 0 0.2195 819.99 678.55)" font-size="100" fill="#1c1c1c">0.8</text>
<text transform="matrix(0.2195 0 0 0.2195 820.00 766.55)" font-size="100" fill="#1c1c1c">0.6</text>
<text transform="matrix(0.2195 0 0 0.2195 820.04 856.55)" font-size="100" fill="#1c1c1c">0.4</text>
<text transform="matrix(0.2195 0 0 0.2195 820.27 945.05)" font-size="100" fill="#1c1c1c">0.2</text>
<text transform="matrix(0.2195 0 0 0.2195 840.30 1032.95)" font-size="100" fill="#1c1c1c">0</text>
<text transform="matrix(0.2224 0 0 0.2224 874.85 1045.25)" font-size="100" fill="#1c1c1c">0.1</text>
<text transform="matrix(0.2224 0 0 0.2224 1130.81 1045.25)" font-size="100" fill="#1c1c1c">1</text>
<text transform="matrix(0.2224 0 0 0.2224 1369.22 1045.25)" font-size="100" fill="#1c1c1c">10</text>
<text transform="matrix(0.1308 0 0 0.1308 961.36 1040.30)" font-size="100" fill="#1c1c1c">2</text>
<text transform="matrix(0.1308 0 0 0.1308 1058.18 1040.30)" font-size="100" fill="#1c1c1c">5</text>
<text transform="matrix(0.1308 0 0 0.1308 1207.76 1040.30)" font-size="100" fill="#1c1c1c">2</text>
<text transform="matrix(0.1308 0 0 0.1308 1304.68 1040.30)" font-size="100" fill="#1c1c1c">5</text>
<text transform="matrix(0.1308 0 0 0.1308 1453.86 1040.30)" font-size="100" fill="#1c1c1c">2</text>
<text transform="matrix(0.2374 0 0 0.2529 1042.45 1076.80)" font-size="100" fill="#1c1c1c">Pulse Duration (s)</text>
<g transform="translate(791.9 866.4) rotate(-90)">
<text transform="matrix(0.2326 0 0 0.2616 -1.91 0.00)" font-size="100" fill="#1c1c1c">Bin</text>
<text transform="matrix(0.2321 0 0 0.2616 34.50 0.00)" font-size="100" fill="#1c1c1c">Ratio</text>
</g>
<text transform="matrix(0.2446 0 0 0.3021 1196.88 678.59)" font-size="100" fill="#7d5578" font-weight="700" stroke="#7d5578" stroke-width="2.04" stroke-linejoin="miter">Y</text>
<text transform="matrix(0.2410 0 0 0.2512 1183.04 711.52)" font-size="100" fill="#735b73" stroke="#735b73" stroke-width="1.45" stroke-linejoin="miter">1.92</text>
<line x1="1210" y1="735" x2="1210" y2="818.5" stroke="#6f4f6f" stroke-width="1.9" stroke-dasharray="4.6 3.4"/>
</g>
<g id="plot3">
<rect x="865.5" y="1150" width="594.5" height="435" fill="#e4ebf3"/>
<clipPath id="cp3"><rect x="865.5" y="1150" width="594.5" height="435"/></clipPath>
<rect x="865.5" y="1236.1" width="594.5" height="2.8" fill="#f5f8fc"/>
<rect x="865.5" y="1323.6" width="594.5" height="2.8" fill="#f5f8fc"/>
<rect x="865.5" y="1410.6" width="594.5" height="2.8" fill="#f5f8fc"/>
<rect x="865.5" y="1498.6" width="594.5" height="2.8" fill="#f5f8fc"/>
<g clip-path="url(#cp3)"><g filter="url(#blur)">
<radialGradient id="rg12"><stop offset="0" stop-color="#eeae64" stop-opacity="0.22"/><stop offset="0.6" stop-color="#eeae64" stop-opacity="0.17"/><stop offset="0.85" stop-color="#eeae64" stop-opacity="0.07"/><stop offset="1" stop-color="#eeae64" stop-opacity="0"/></radialGradient>
<ellipse cx="1148" cy="1479" rx="135" ry="16" fill="url(#rg12)"/>
<radialGradient id="rg13"><stop offset="0" stop-color="#eeae64" stop-opacity="0.5"/><stop offset="0.6" stop-color="#eeae64" stop-opacity="0.28"/><stop offset="1" stop-color="#eeae64" stop-opacity="0"/></radialGradient>
<ellipse cx="1153" cy="1478" rx="24" ry="14" fill="url(#rg13)"/>
<radialGradient id="rg14"><stop offset="0" stop-color="#a2d56c" stop-opacity="0.4"/><stop offset="0.6" stop-color="#a2d56c" stop-opacity="0.2"/><stop offset="1" stop-color="#a2d56c" stop-opacity="0"/></radialGradient>
<ellipse cx="1167" cy="1401.5" rx="24" ry="7" fill="url(#rg14)"/>
<radialGradient id="rg15"><stop offset="0" stop-color="#a2d56c" stop-opacity="0.5"/><stop offset="0.6" stop-color="#a2d56c" stop-opacity="0.25"/><stop offset="1" stop-color="#a2d56c" stop-opacity="0"/></radialGradient>
<ellipse cx="1069" cy="1405.5" rx="11" ry="5" fill="url(#rg15)"/>
<radialGradient id="rg16"><stop offset="0" stop-color="#b176b0" stop-opacity="0.9"/><stop offset="0.45" stop-color="#b176b0" stop-opacity="0.82"/><stop offset="0.7" stop-color="#b176b0" stop-opacity="0.5"/><stop offset="0.88" stop-color="#b176b0" stop-opacity="0.18"/><stop offset="1" stop-color="#b176b0" stop-opacity="0"/></radialGradient>
<ellipse cx="1214" cy="1338" rx="58" ry="21.5" fill="url(#rg16)"/>
<g stroke="#b5aec8" stroke-width="6" stroke-linecap="round" fill="none" stroke-opacity="0.1">
<path d="M1208.2 1443.9h0M1239.7 1305.1h0M1110.4 1504.7h0M1194.8 1338.7h0M1324.2 1463.1h0M1219.2 1472.8h0M1032.9 1375.1h0M1241 1496h0M1334.7 1380.3h0M1142.2 1318h0M1177 1381.7h0M1351.6 1323.9h0M1375.7 1498.7h0M1059.4 1514.2h0M1022.3 1349.9h0M1183.8 1329.7h0M1239 1303.2h0M1129 1435.4h0M1058.2 1339.4h0M1396.1 1402.1h0M1263.6 1381.1h0M1215.7 1485.9h0M1439.6 1465.5h0M1193.4 1505.3h0M1216.4 1390.1h0M1103.7 1479.1h0M1111.4 1392.8h0M1215.7 1379.1h0M1159.8 1498.2h0M1046.4 1420.2h0M1449.2 1390.5h0M1228.5 1378.3h0M1420.6 1445.3h0M1184.9 1470.8h0M1201.8 1429.1h0"/>
<path d="M1003.1 1388.4h0M1271.3 1304.3h0M1211.7 1384.4h0M1228.7 1307.8h0M1273.7 1477.1h0M1269.2 1361.4h0M1122.3 1504.2h0M1279.6 1316.1h0M1078.5 1371.2h0M1324.3 1300.8h0M1415 1432.9h0M1006.4 1414.7h0M1387.3 1516.7h0M1302 1409.6h0M1184.4 1350.2h0M1393.9 1395.7h0M1041.3 1359h0M1386.9 1455.4h0M1358.3 1309.9h0M1191 1471h0M1363 1433.4h0M1040.6 1308.4h0M1175.1 1323.5h0M1400.9 1367.4h0M1337.5 1478.7h0M1377.5 1419.2h0M1274 1494.4h0M1383.3 1391.6h0M1209.7 1305.1h0M1184.9 1399.3h0M1180.2 1486.4h0M1024.4 1428.5h0M1341.9 1391.7h0M1042.9 1344.8h0M1040.8 1345.6h0"/>
</g>
<g stroke="#eeae64" stroke-width="6" stroke-linecap="round" fill="none" stroke-opacity="0.08">
<path d="M1037.5 1478.3h0M1258.4 1469.8h0M1024 1469.2h0M1116.4 1434.1h0M1073.1 1483h0M1030.5 1485.2h0M1278.9 1436.5h0M1151.9 1480h0M1129.9 1482.8h0M1298.3 1467.2h0M1248.1 1416.1h0M1210.9 1459.9h0M1177.2 1465.4h0M1111.6 1489.3h0M1269.7 1462.8h0M1206.7 1439h0M1109.1 1474.3h0M1143.6 1421.8h0M1255.7 1451.3h0M1119.8 1437.5h0M1194.8 1489.2h0M1239.8 1454.9h0M1274.3 1452.4h0M1259.5 1461.5h0M1089.5 1474.4h0M1264.1 1449.9h0M1205.5 1433.4h0M1115.5 1415.7h0M1171.4 1470h0M1283.7 1428.4h0M1172.7 1467.2h0M1256.4 1466.2h0M1135.7 1473h0M1070.3 1436.3h0M1091.5 1477.1h0M1021.4 1421.4h0M1266.4 1477.2h0M1123 1466.7h0M1141.2 1456.4h0M1162 1487.7h0M1074.7 1467.1h0M1093.4 1445.7h0M1182.5 1486.5h0M1420.5 1467.7h0M1424.7 1469.5h0M1311.4 1443.9h0M1450.5 1459.3h0M1455.4 1473.9h0M1376.7 1476.9h0M1400.5 1464.9h0M1373 1467.5h0M1439.7 1460h0M1432.3 1465.3h0"/>
<path d="M1162.7 1423.4h0M1083 1428.8h0M1228.8 1478.7h0M1261.2 1432.4h0M1155.1 1468.4h0M1240 1441.9h0M1149.9 1478.8h0M1299.8 1468.8h0M1094.8 1433.4h0M1270.8 1465.8h0M1059.7 1479.7h0M1139.5 1457.3h0M1095.1 1452.9h0M1025.1 1418.9h0M1153.2 1436.1h0M1226.8 1430.1h0M1282.2 1445.5h0M1200.4 1426.3h0M1081.3 1418.1h0M1275.5 1452.4h0M1196 1421h0M1137 1464.9h0M1130.2 1425.5h0M1294.4 1485.4h0M1203.9 1428.3h0M1160.1 1435.7h0M1131.9 1452.2h0M1296.5 1466.2h0M1199.5 1484.3h0M1080.9 1457h0M1240.6 1485.2h0M1055.1 1473.2h0M1187.8 1467.5h0M1025.6 1482.9h0M1299.5 1444.2h0M1187.4 1486.1h0M1090.1 1417.4h0M1134.7 1442.3h0M1208.7 1468.2h0M1202.6 1425.9h0M1172.5 1432.7h0M1075.4 1488.5h0M1222 1445h0M1417.3 1489.2h0M1402 1476.7h0M1314.1 1480h0M1422.4 1479.9h0M1324.8 1483.2h0M1309.1 1469.8h0M1346.8 1468.4h0M1302.4 1470.6h0M1323.3 1460.3h0M1450.6 1498.9h0"/>
<path d="M1112.9 1487.9h0M1059.1 1486.7h0M1179.8 1446.9h0M1285.2 1458.6h0M1162.3 1438.6h0M1218.7 1452.6h0M1287.1 1437.9h0M1285 1473.7h0M1249.9 1479.4h0M1095.4 1439.6h0M1189.6 1434.1h0M1037.4 1461.6h0M1094.3 1475.4h0M1158.4 1481.4h0M1249.9 1470.2h0M1294.8 1433.3h0M1070.6 1478.7h0M1245 1470.3h0M1241.6 1483.6h0M1204.8 1437h0M1047.3 1469.3h0M1026 1415.2h0M1283.2 1457.9h0M1177.5 1457.6h0M1173.4 1433.8h0M1203.6 1424.6h0M1201.4 1454.3h0M1097.7 1458.9h0M1241 1438.7h0M1063.1 1470.7h0M1171.5 1457h0M1187.1 1417.8h0M1246.8 1475h0M1072.8 1419.9h0M1111 1420.1h0M1127.8 1438h0M1077 1445.8h0M1197.4 1474.8h0M1239.2 1452.7h0M1098.1 1447.6h0M1227 1466.1h0M1038.8 1442.1h0M1456.1 1482.5h0M1290.2 1483.6h0M1349.6 1481.4h0M1340 1483.2h0M1427.1 1475.3h0M1409.5 1465.9h0M1382.8 1485.4h0M1407.5 1479.9h0M1341.3 1479.6h0M1436.7 1454.9h0"/>
<path d="M1271.3 1448.1h0M1239 1431.1h0M1282.7 1445.9h0M1182.3 1423h0M1176.5 1484.1h0M1184.5 1453h0M1157.4 1447.8h0M1182.1 1448.3h0M1278.8 1455.6h0M1271.3 1445.5h0M1217.4 1476.3h0M1103.9 1486.5h0M1163.9 1449.2h0M1101 1450.4h0M1045.2 1458.7h0M1038.6 1437.9h0M1270.6 1449.9h0M1295.7 1448.6h0M1126 1419.1h0M1021.4 1465.7h0M1078.2 1477.2h0M1114.4 1421.8h0M1149.8 1450.3h0M1169.2 1471.1h0M1243 1420.7h0M1152.7 1463.4h0M1030 1453.7h0M1223.7 1451.3h0M1030.5 1439.1h0M1044.6 1477.4h0M1115.8 1451.9h0M1216.8 1440.7h0M1169.7 1488.3h0M1027.2 1427.8h0M1163.3 1442.8h0M1140 1477.2h0M1057.9 1458h0M1170.2 1457.7h0M1053.3 1438.2h0M1263.6 1468.9h0M1087 1472.8h0M1223.4 1424.2h0M1302.2 1464.6h0M1310.3 1481.6h0M1447.2 1473h0M1428.3 1463.1h0M1417.2 1482.8h0M1432.4 1468.5h0M1333.4 1466.5h0M1433.6 1466.9h0M1348.3 1484h0M1297.9 1464.1h0"/>
</g>
<g stroke="#eeae64" stroke-width="6" stroke-linecap="round" fill="none" stroke-opacity="0.1">
<path d="M1156.9 1476.1h0M1148.1 1472.3h0M1159.6 1475.1h0M1152.6 1481h0M1147.4 1471.8h0M1173.4 1481h0M1176.1 1478.6h0M1149.5 1473.4h0M1147.6 1476.4h0M1156.7 1485.5h0M1131.9 1476.5h0M1135.4 1485.5h0M1181.9 1480h0M1160.9 1478.8h0M1149.8 1479.6h0M1144.5 1477.6h0M1141.2 1468.7h0M1154.9 1473.7h0M1165.9 1478h0M1142.8 1482h0M1147.7 1467.2h0M1105.8 1475h0M1172.1 1485.5h0M1180.9 1481.2h0M1166.2 1470.5h0M1153.5 1468.6h0M1159.5 1486.5h0M1159.4 1467h0M1127 1492.1h0M1154.2 1479.4h0M1127.1 1482.7h0M1152.6 1482.4h0M1153.1 1481.9h0M1116.1 1477.6h0M1183 1473.9h0M1103.6 1480.9h0M1191.2 1473.7h0M1120 1482.5h0M1175.2 1463.1h0M1152.5 1482.5h0M1190.3 1480h0M1252.9 1473.1h0M1244.8 1490.2h0M1109.5 1485.3h0M1332.4 1480h0M1178.1 1485.3h0M1103.5 1476.7h0M1154.9 1485.2h0M1101.4 1491.5h0M1102.9 1493.4h0M1154.4 1474.6h0M1127.4 1481.6h0M1113.3 1484.7h0M1189.8 1470.7h0M1187.3 1485.7h0M1165.5 1477.6h0M1203.3 1478.4h0M1157 1456h0M1140.9 1473.7h0M993.9 1463.3h0M1229.7 1487.3h0M1075.4 1479.6h0M1190.5 1479.9h0M1151.5 1473.6h0M1147.7 1482.2h0M1134.1 1469.8h0M1140.6 1489.3h0M1138.3 1478h0M1111.8 1484.6h0M1073.9 1476h0M1206.3 1491.8h0M1179 1476.1h0M1161.2 1468.2h0M1134.4 1500.4h0M1057.6 1485.3h0M1053.8 1475.8h0M1061 1474.3h0M1057.5 1479.3h0M1040.5 1472h0M1053.1 1480.5h0M1066.2 1464.2h0M1071.8 1484.9h0M1091.3 1483.4h0M1087.8 1482.2h0M1097.2 1485.1h0M1090.5 1482.7h0M1095.8 1481.7h0M1099.3 1482.8h0M1097.6 1476.3h0M1103.2 1472.9h0M1230.1 1472.8h0M1208.8 1472.3h0M1200 1478h0M1222.7 1491.2h0M1215 1483h0M1238.5 1485.6h0M1198.3 1469.5h0M1183.3 1480.2h0M1246.2 1475.2h0M1214.7 1483.3h0M1185.3 1483.7h0"/>
<path d="M1138.8 1484.7h0M1157.8 1478.6h0M1137.5 1483.8h0M1139.5 1464.4h0M1153 1486.1h0M1149.8 1471.7h0M1175.2 1461.8h0M1142.1 1488.7h0M1179.3 1465.9h0M1157.8 1469.3h0M1146.3 1481.5h0M1132.8 1472.3h0M1154.8 1477h0M1170.4 1481.4h0M1145.2 1466.6h0M1181.4 1488.9h0M1151.5 1481.7h0M1186.3 1479.3h0M1147.8 1478.5h0M1164.2 1484.3h0M1145.8 1476.6h0M1144.4 1482.2h0M1167 1483.1h0M1169.9 1471.7h0M1135 1479.7h0M1159.9 1481.9h0M1145.8 1477h0M1156.3 1481.1h0M1154.3 1471.7h0M1173.1 1477.1h0M1174.1 1471.9h0M1129.4 1473.5h0M1169.5 1464.5h0M1163 1479h0M1064.2 1473.3h0M1219.8 1493.9h0M1127.8 1476.2h0M1147.9 1461.7h0M1146.7 1467.8h0M1160.9 1479.9h0M1078.2 1481.8h0M1180.4 1492.5h0M1256.8 1478.4h0M1204.3 1464.8h0M1145.4 1485.5h0M1072.1 1469.8h0M1132.9 1494.9h0M1094.2 1492.6h0M1179.1 1484h0M1160.9 1475.2h0M1095.5 1488.6h0M1172.8 1472.9h0M1230.8 1475.4h0M1138.4 1478.8h0M1224.5 1473.2h0M1212.3 1481.9h0M1239.5 1473.5h0M1087 1487.6h0M1264.2 1488.5h0M1150.1 1478.5h0M1036.8 1486.6h0M1179 1486.1h0M1119.5 1479.4h0M1131.8 1483.5h0M1164.4 1486.1h0M1076.6 1471.6h0M1171.8 1492.2h0M1127.2 1485.4h0M1113.4 1478h0M1140.3 1479.8h0M1132.7 1474.2h0M1057.2 1468.6h0M1149.3 1477.7h0M1259.8 1485.7h0M1049.7 1491h0M1051.7 1478.5h0M1047.6 1473.5h0M1056 1472.1h0M1053.8 1471.3h0M1038.7 1481.1h0M1071.5 1468.8h0M1051.7 1484.2h0M1106.3 1479.5h0M1092.6 1466.4h0M1108.8 1482.9h0M1104.5 1472.3h0M1114.3 1483.2h0M1101.1 1489.5h0M1090.9 1476.8h0M1099.4 1466.6h0M1224.7 1484.8h0M1224.2 1484.3h0M1209.8 1472.8h0M1254.4 1479.1h0M1218.7 1481.8h0M1197.3 1473.9h0M1199.9 1490.2h0M1212.1 1469.1h0M1213.4 1475.2h0M1218.5 1474.2h0M1196.2 1463h0"/>
<path d="M1177.2 1482.6h0M1155.3 1475.2h0M1162.3 1473.6h0M1166.5 1472h0M1174.6 1481h0M1156 1486.5h0M1133.1 1480.9h0M1121.7 1488.1h0M1158.5 1465.4h0M1135.2 1484.6h0M1178 1480.1h0M1149.8 1491.5h0M1124.2 1479h0M1176.2 1471h0M1126.7 1482.2h0M1177 1468.4h0M1161.9 1488.3h0M1164.8 1470.1h0M1178.7 1490.8h0M1137.4 1482.6h0M1142.4 1482.1h0M1173.5 1463.8h0M1174 1472.2h0M1141.1 1492.4h0M1141.4 1480.2h0M1140.3 1479.7h0M1133.5 1477.5h0M1135.6 1487h0M1170 1472.8h0M1172.2 1480.1h0M1154.4 1486.4h0M1165.2 1488.5h0M1162.7 1472.6h0M1139.5 1484.1h0M1071.7 1482.7h0M1127 1469.9h0M1091.2 1483.9h0M1114 1470.2h0M990.6 1490.2h0M1083 1476.9h0M1158 1479.8h0M1099.9 1469.5h0M956.4 1477.6h0M1012.2 1481h0M1080.2 1470.9h0M1244 1486h0M1137.7 1497.1h0M1123.8 1472h0M1158.9 1475.3h0M1233.3 1492.9h0M1123.4 1482.5h0M1154.1 1485.7h0M1121 1486.6h0M1095.6 1472.4h0M1111.7 1479.2h0M1079.4 1477.6h0M1067 1463.3h0M1177.8 1476.2h0M1255.7 1467.9h0M1144 1481.3h0M1055 1477.9h0M1183.9 1470.3h0M1220.2 1456.7h0M1234 1485.3h0M1104 1472.7h0M1223.3 1472.6h0M1220.1 1489.4h0M1165 1476h0M1148.2 1473.6h0M1120.7 1487.1h0M1217.9 1472.3h0M1208.1 1491h0M1185.9 1494h0M1228.2 1479.4h0M1041.9 1485.4h0M1059.1 1479.7h0M1077.5 1482.3h0M1050.5 1482.9h0M1078.3 1470h0M1049.7 1490.7h0M1064.4 1488.3h0M1049.1 1478.8h0M1087.6 1482.9h0M1101.1 1475.1h0M1089.5 1479.8h0M1104.2 1486h0M1103.9 1490.8h0M1099.4 1489.1h0M1102.3 1477.7h0M1102 1465.6h0M1228.5 1474.6h0M1215.3 1471.2h0M1216.8 1478.9h0M1193.7 1479.6h0M1220.6 1482.7h0M1229.9 1482.7h0M1184.3 1486h0M1216.5 1472.6h0M1212.3 1478.7h0M1207.8 1485.1h0M1227.1 1481.7h0"/>
<path d="M1128.9 1482.7h0M1148.6 1486.8h0M1128.7 1481.7h0M1167 1459.9h0M1162.5 1480.4h0M1148.2 1490h0M1162.6 1490.1h0M1142.8 1475.4h0M1145.8 1478.8h0M1162.7 1473.7h0M1167.7 1482.4h0M1133 1471.5h0M1146.2 1476.9h0M1152.3 1485.1h0M1146.8 1478.1h0M1143.8 1469.3h0M1132.8 1480h0M1160.1 1482.1h0M1105.5 1483.5h0M1146.7 1482.4h0M1143.3 1470.9h0M1182.9 1475.9h0M1167.9 1477.4h0M1169.6 1474h0M1177.4 1472.9h0M1173.2 1480.4h0M1158.6 1468.1h0M1135.9 1477.2h0M1145.2 1476.7h0M1145 1464.1h0M1148.6 1479.3h0M1122.9 1470.8h0M1137.7 1478.3h0M1152.2 1477.9h0M1195.2 1489.3h0M1188.4 1469h0M1102.4 1482.7h0M1223.4 1480.7h0M1108 1482.5h0M1124.5 1484.4h0M1181.6 1490h0M1185.9 1470.9h0M1125.7 1474.2h0M1170.3 1486.6h0M1283 1464.9h0M1163.5 1481.6h0M1082.8 1479.7h0M1138.7 1490.1h0M1168.7 1492.7h0M1174 1484.5h0M1189.4 1471h0M1223 1469.8h0M1166.8 1473.2h0M1073 1478.5h0M1190 1478.4h0M1091.1 1489.1h0M1135.5 1485.6h0M1277.5 1471.3h0M1158.5 1477.5h0M1160.1 1490.3h0M1204.2 1471.2h0M1108 1471.8h0M1062.9 1483.4h0M1104.5 1484.2h0M1137.1 1479.6h0M1121.2 1479.5h0M1196.9 1478h0M1175.3 1475.3h0M1042.1 1476.7h0M1210.7 1469.6h0M1081.9 1484.2h0M1248.5 1469h0M1209.4 1476.7h0M1182.7 1481.7h0M1067 1479.9h0M1041.6 1473.2h0M1056.5 1479.7h0M1038.1 1489.6h0M1056.4 1480.4h0M1059.6 1469.4h0M1049.7 1484h0M1060.4 1474.5h0M1099.6 1480h0M1089.4 1472.9h0M1097 1489.7h0M1091.7 1492.2h0M1090.7 1484.1h0M1092.1 1480.5h0M1094.3 1489.8h0M1115.1 1478.2h0M1185.8 1469.8h0M1224.2 1465.9h0M1230.6 1479.8h0M1217.7 1471.1h0M1211.2 1484.2h0M1198.6 1476.9h0M1233 1476.9h0M1229.1 1475.4h0M1219.8 1479.3h0M1219.5 1468.3h0M1202.9 1470.7h0"/>
<path d="M1145.2 1474.1h0M1150.7 1481.4h0M1151.3 1474.7h0M1159.3 1463.6h0M1156.5 1476.2h0M1180.2 1462.9h0M1174 1490.2h0M1144 1483.4h0M1174.1 1478.5h0M1169.5 1475.6h0M1136.1 1459.7h0M1161.2 1481.8h0M1154.1 1484.6h0M1126.7 1475.6h0M1150.7 1469.5h0M1148.9 1489h0M1134.2 1473.6h0M1149.7 1478.5h0M1154.6 1481.6h0M1151.7 1473.4h0M1153 1470.3h0M1159.3 1480.3h0M1140.7 1466.5h0M1168.9 1484h0M1187.4 1466.5h0M1155.4 1465h0M1146.8 1475.4h0M1167.2 1477.2h0M1134.4 1483.3h0M1170.4 1479.3h0M1160.2 1478.4h0M1159.6 1466.8h0M1164 1493.2h0M1177.4 1489h0M1123.5 1478.8h0M1089.6 1473.1h0M993.1 1472.4h0M1086.4 1466.9h0M1194.1 1470.5h0M1253.2 1478.3h0M1176.2 1486.9h0M1152.8 1479.3h0M1106.8 1478.1h0M1145.9 1487.3h0M1149.4 1482.9h0M1170.7 1488.4h0M1258.8 1470.4h0M1025.6 1475h0M1122 1473.3h0M1166.3 1472.5h0M1139 1475.6h0M996.2 1474.5h0M1082.3 1475.3h0M1022.2 1472.4h0M1158.6 1476.3h0M1133.9 1485.6h0M1144.8 1473.1h0M1287.1 1488.6h0M1123.3 1465.6h0M1100.8 1462.6h0M1075.6 1481.4h0M1163.9 1490.7h0M1154.1 1459.6h0M1246.1 1480.9h0M1133.7 1481.3h0M1183.8 1479h0M1145.3 1470.6h0M1151 1472.8h0M1163 1489.5h0M1103.1 1494.7h0M1136 1482.9h0M1116.7 1472.9h0M1027.4 1479.8h0M1073.3 1482.2h0M1056.4 1477.6h0M1056.8 1478.7h0M1054.3 1470.1h0M1051 1480.5h0M1046.2 1483.8h0M1062.8 1487.6h0M1059.5 1484.7h0M1040.8 1484.1h0M1099.9 1476.3h0M1097.9 1479.4h0M1085.3 1471.2h0M1095.2 1477h0M1084.1 1478.3h0M1096.4 1476.2h0M1080.7 1472.4h0M1108.8 1489.4h0M1250.9 1483.3h0M1214.9 1471.6h0M1211.6 1474.6h0M1214.5 1485.8h0M1214.6 1484.3h0M1235.4 1468.8h0M1234.8 1470.4h0M1239.7 1477h0M1210.1 1484h0M1211.1 1476.8h0M1210.5 1477.6h0"/>
<path d="M1160.4 1479.5h0M1143 1475.9h0M1166 1483.6h0M1165.5 1478.1h0M1139.3 1461.3h0M1166.6 1477.4h0M1170.8 1470.3h0M1144 1467.3h0M1154 1480h0M1145.8 1484.2h0M1152.8 1477.9h0M1145.6 1480h0M1169.9 1472.7h0M1151.7 1487.9h0M1185.7 1483h0M1124.5 1469.6h0M1171 1466.4h0M1148.4 1477.3h0M1147.8 1492.9h0M1142.3 1477.2h0M1161.2 1481.8h0M1139.3 1477.1h0M1147.3 1488.4h0M1164.6 1480.1h0M1139.4 1480h0M1163.5 1477.7h0M1154.1 1479.3h0M1136.5 1466.7h0M1144.8 1473.7h0M1140.1 1474.2h0M1184.7 1489.4h0M1153.3 1470.1h0M1157.6 1481.1h0M1101.1 1472.5h0M1127.8 1472.3h0M1090.4 1476.5h0M1151.1 1489.6h0M1202.4 1478.1h0M1110.8 1483h0M1185.2 1486.2h0M1222.1 1470.4h0M1113.5 1478.9h0M1234.2 1478.3h0M1071.2 1477.6h0M1135 1470.1h0M1213.7 1498.7h0M1027.7 1481.5h0M1189.5 1486.8h0M1075.5 1487.7h0M1145.2 1486.2h0M1192.2 1481.8h0M1076.6 1488.3h0M1160.8 1473.1h0M1011.8 1473.1h0M1107.4 1482.7h0M1151.3 1483h0M1139.1 1478h0M1206.3 1485.4h0M1116.4 1463.8h0M1149.7 1467.2h0M1183.9 1477.2h0M1229.1 1478.9h0M1134.5 1472h0M1222.1 1478.5h0M1151.4 1476.9h0M1081.8 1475.2h0M1158.3 1486.8h0M1207.3 1472.8h0M1112.1 1470.4h0M1195.4 1485.3h0M1195.4 1471.5h0M1130 1490.3h0M1155.1 1490.7h0M1067.6 1478.1h0M1044.4 1470.6h0M1050.9 1482.5h0M1059 1480.7h0M1059 1480h0M1050.3 1474h0M1079.1 1489.3h0M1037 1470.5h0M1054.5 1472.5h0M1099 1490.6h0M1102.4 1478.3h0M1089.9 1476.8h0M1099.3 1470.9h0M1093.8 1476.2h0M1082.1 1486.6h0M1099 1489.4h0M1112.6 1475.1h0M1212.8 1462.2h0M1198.4 1471.8h0M1230.7 1486.2h0M1201.4 1479h0M1235 1479.4h0M1215 1467.7h0M1222.3 1476.6h0M1202.2 1483.3h0M1210.7 1477.9h0M1229.6 1480.7h0M1233.9 1475.3h0"/>
<path d="M1178.6 1480.1h0M1159.6 1479.3h0M1172.6 1482.5h0M1158.7 1481.3h0M1156.7 1481.3h0M1152.7 1484.5h0M1151.9 1477.9h0M1148.4 1483.6h0M1112.7 1480.9h0M1167 1474.3h0M1157.9 1477h0M1162.7 1466.3h0M1145.4 1483.9h0M1142.5 1475h0M1145.9 1484.5h0M1150.8 1478h0M1148.7 1485.5h0M1161.9 1475.3h0M1132.6 1478.1h0M1173.3 1488.6h0M1137.2 1470h0M1149 1490.9h0M1154 1471.2h0M1138.4 1473.4h0M1136.5 1468.5h0M1153.5 1464h0M1174.1 1475.8h0M1142.8 1479.4h0M1160.1 1482.9h0M1146.4 1473h0M1145.9 1479h0M1133.4 1472.6h0M1155.8 1467.9h0M1133.5 1474h0M1171.1 1488.5h0M1188.8 1481.7h0M1107.1 1469.9h0M1123.6 1477.2h0M1116 1482.2h0M1164.7 1474.2h0M1150.8 1464.8h0M1233.9 1476.2h0M1214.2 1473.1h0M1178 1500.3h0M1185.5 1479.4h0M1088.6 1478.1h0M1182.5 1475.9h0M1163.3 1462.5h0M1103.8 1490.5h0M1208.7 1484.3h0M1108 1482.4h0M1179.1 1478.2h0M1149.2 1481.9h0M1121.9 1472h0M1138.8 1485.8h0M1293.6 1481.9h0M1189.3 1470.3h0M1072.8 1465.6h0M1167.5 1479.3h0M1122.4 1479.6h0M1156.4 1481.9h0M1068.1 1478.1h0M1127.3 1484.4h0M1053.9 1484.9h0M1149.6 1482.5h0M1180.1 1471.9h0M1139.8 1464.9h0M1231.1 1490.5h0M1140.2 1474.3h0M1203.7 1476.2h0M1104.5 1470.7h0M1128 1488.7h0M1108.7 1479.4h0M1062.8 1479h0M1066.7 1490.9h0M1076.7 1477.3h0M1039.8 1481h0M1060.1 1468.6h0M1047.8 1478h0M1041.3 1480.1h0M1051.9 1480.9h0M1044.7 1482.8h0M1088.5 1480.4h0M1095.5 1478.4h0M1093.4 1477h0M1096.6 1476.8h0M1094.2 1472.6h0M1104.1 1477.7h0M1095.3 1487.5h0M1104.8 1481.4h0M1242.6 1480.5h0M1215.3 1475.7h0M1186.4 1473.3h0M1188.5 1475.2h0M1197.7 1477.9h0M1223.2 1475.7h0M1203.7 1475.9h0M1200.8 1476.7h0M1233.2 1477.9h0M1197.1 1477.1h0M1189.5 1476.7h0"/>
<path d="M1149.7 1481.4h0M1144.3 1478.1h0M1149.2 1490.2h0M1133.2 1479.8h0M1144.5 1482.3h0M1176 1475.6h0M1179.1 1492.4h0M1152.1 1490.9h0M1159.1 1480.3h0M1142.6 1469.7h0M1144.9 1478.4h0M1157 1474.2h0M1171.4 1468.9h0M1158.9 1482.5h0M1179 1477.4h0M1158.7 1483.8h0M1168.3 1455.1h0M1127.2 1469.4h0M1148.1 1470.6h0M1133.4 1469h0M1171.1 1473.1h0M1153.5 1479.5h0M1174.9 1464h0M1138.5 1482.2h0M1151.4 1488.1h0M1144.7 1472.8h0M1152.3 1485.6h0M1146.7 1486.8h0M1153 1474.9h0M1163 1485.3h0M1170.4 1481.8h0M1156.8 1484.8h0M1166.5 1485.2h0M1228.4 1484.7h0M1202 1482h0M1040.9 1479.2h0M1271.9 1470.5h0M1203.1 1474.8h0M1084.7 1479.9h0M1275.9 1473h0M1244.7 1476.7h0M1076.4 1466.7h0M1253.5 1478h0M1155.4 1478.3h0M1125.1 1490.1h0M1150.2 1488h0M1026.4 1490.5h0M1158.2 1466.4h0M1208.3 1480.9h0M1210.2 1481.4h0M1127.4 1466.2h0M1190.6 1476.2h0M1163.7 1486.9h0M1164.9 1486.4h0M948.3 1481.8h0M1061 1474.9h0M1235.6 1484.2h0M1183.9 1476.4h0M1101.7 1480.2h0M1206.1 1469h0M1157.2 1475.7h0M1162.1 1469.2h0M1163.1 1472.7h0M1126.6 1476.9h0M1072.6 1483.1h0M1129.9 1482.6h0M1169.3 1480.7h0M1198.1 1485.2h0M1086.9 1470h0M1237.1 1487h0M1037.7 1476h0M1230.4 1475.7h0M1047.8 1472.4h0M1061.4 1473.8h0M1056.9 1465.9h0M1039.2 1482.1h0M1051.5 1477.2h0M1067.9 1479.5h0M1057.8 1480.6h0M1045.9 1481.4h0M1065.4 1469.4h0M1051.4 1480h0M1102 1486.5h0M1088.5 1488.5h0M1093.4 1482.3h0M1091 1481.9h0M1096.1 1465.5h0M1095.9 1483.7h0M1093.5 1491.8h0M1097.3 1477.4h0M1207.3 1473.4h0M1216.3 1482.2h0M1220.4 1476.6h0M1202.5 1474.9h0M1216.1 1483.9h0M1222.5 1474.3h0M1240.7 1484.6h0M1216.6 1468.1h0M1216.2 1480.1h0M1215.7 1479.1h0M1214.1 1475.5h0"/>
<path d="M1163.1 1482.2h0M1175.5 1479.2h0M1148.5 1467.9h0M1155.2 1481.2h0M1159.5 1475.9h0M1171 1492.9h0M1171.2 1477.4h0M1165.7 1473h0M1138.2 1479.4h0M1145.1 1468.5h0M1159.8 1464.3h0M1165.7 1485.9h0M1144.8 1484.2h0M1147.4 1469.4h0M1164.3 1485.1h0M1138.4 1476.9h0M1166.4 1484.6h0M1187.6 1473.2h0M1153.3 1473.9h0M1136.5 1468.3h0M1184 1475.9h0M1131.2 1471.6h0M1151.9 1489.3h0M1122.9 1481.7h0M1160.5 1480.2h0M1150.9 1481.9h0M1140.8 1465.7h0M1139.8 1481.5h0M1138.1 1472.7h0M1153.7 1488.1h0M1178.8 1470.5h0M1162.9 1482.6h0M1147.5 1471.9h0M1150.6 1475.9h0M1148 1474.6h0M1218.9 1475.7h0M1180.2 1471.2h0M1005.4 1486.8h0M1238.6 1476.7h0M1201.6 1478.8h0M1112.3 1465.5h0M1089.5 1476.6h0M1165.2 1475.1h0M1236.1 1485.6h0M1194.3 1466.3h0M1204 1482.3h0M1162.8 1471.8h0M1227.9 1487.9h0M1092.9 1472.8h0M1196.4 1474.1h0M1090.6 1490.3h0M1174.6 1481.3h0M1122.1 1482.1h0M1170.3 1479h0M1061.1 1482.8h0M1201.7 1473.8h0M1190.9 1488.1h0M1101.8 1484h0M1166 1489.2h0M1188.3 1478.9h0M1086 1486h0M1051.8 1485.2h0M1245.5 1474.6h0M1091.8 1468.7h0M1212.6 1464.9h0M1077.9 1487.1h0M1081.7 1474.8h0M1180.6 1481.1h0M1135.7 1475h0M1207.7 1466.7h0M1050.5 1483h0M1199.5 1476.8h0M1156.3 1478.8h0M1055.6 1474.7h0M1057.5 1481.9h0M1053 1479.2h0M1048.6 1478.6h0M1042.4 1478.4h0M1059.9 1479h0M1053.8 1487.2h0M1048.7 1484.7h0M1106.1 1483.4h0M1094.6 1480.7h0M1090.2 1471.4h0M1081.6 1478.4h0M1106.7 1480.2h0M1094.9 1481.2h0M1091.9 1480.8h0M1092.3 1487.7h0M1092.5 1478.4h0M1231.8 1473.6h0M1229.4 1478.8h0M1204.9 1467.1h0M1213.1 1478.9h0M1236.9 1485.9h0M1199.5 1466.8h0M1235 1481.8h0M1229 1490.6h0M1214 1471.1h0M1213.4 1473.2h0M1220.5 1481.8h0"/>
<path d="M1150.2 1482.7h0M1156.8 1471.4h0M1147.3 1476.3h0M1185 1482.1h0M1167.2 1467h0M1184.7 1479.2h0M1180.3 1491.9h0M1148.9 1488.5h0M1172.8 1478.9h0M1136.1 1486.5h0M1167 1492.8h0M1166 1471.8h0M1159.5 1482.1h0M1178.1 1472.9h0M1163.4 1471.6h0M1162.3 1461.5h0M1169.6 1486.5h0M1153.5 1476.9h0M1167.3 1479.2h0M1156.1 1482.6h0M1147.6 1477h0M1132.6 1473.6h0M1146.4 1465.3h0M1137.6 1484.9h0M1143.4 1475.9h0M1151.1 1473.3h0M1146.1 1476.3h0M1149.6 1483.3h0M1147.7 1480.9h0M1152.2 1477h0M1169.3 1492h0M1179.9 1482.1h0M1167.9 1482.8h0M1196 1473h0M1043.5 1484.4h0M1101.4 1469.4h0M1147.4 1471.8h0M1133.9 1477.3h0M1042.3 1474.8h0M1136.6 1466.1h0M1250.9 1473.9h0M1145.2 1478.4h0M1069.1 1484.4h0M1146.2 1475.8h0M1158 1485.1h0M1179.4 1469.4h0M1033.6 1487.8h0M1302.1 1489.5h0M1205.8 1467.9h0M1274.6 1470.7h0M1154 1488.7h0M1089.8 1485.6h0M1177 1500.4h0M1265.1 1470.1h0M1183.1 1476.1h0M1090 1483.2h0M1137.2 1495.5h0M1177.4 1475.9h0M1060.4 1484.6h0M1087.9 1481.9h0M1228.4 1472.4h0M1183.1 1480.1h0M1129.6 1470.3h0M1239.6 1486.8h0M1105.9 1463.9h0M1136.5 1473.9h0M1168.2 1493h0M1105.3 1478h0M1171.2 1484.6h0M1130.8 1484.5h0M1072.6 1470.1h0M1139 1480.2h0M1127.8 1487.3h0M1049.4 1478.2h0M1048.5 1484.5h0M1062.9 1483.1h0M1057.2 1479.5h0M1063.8 1475.6h0M1059 1477.7h0M1048 1480.6h0M1052.2 1476.5h0M1096.6 1476.4h0M1103.7 1480.3h0M1099.5 1480.3h0M1089.8 1489.6h0M1103.6 1470.2h0M1084.3 1471.2h0M1103.1 1484.8h0M1099.5 1480.2h0M1092.5 1482h0M1202.8 1482.2h0M1203.9 1475.4h0M1199.6 1484.3h0M1213.1 1480.3h0M1227 1476.9h0M1230 1481.7h0M1211.3 1474.2h0M1214 1464.3h0M1208.4 1479.3h0M1214.4 1480h0M1218.7 1483.5h0"/>
<path d="M1170.1 1483h0M1148.3 1477.7h0M1129.6 1481.1h0M1143.8 1474.8h0M1135.9 1474.6h0M1184.6 1492.1h0M1146.8 1481.7h0M1147.3 1470.9h0M1174.6 1483.1h0M1145.2 1477.1h0M1182 1483.7h0M1154.9 1472.7h0M1168.7 1469.7h0M1115.8 1475.1h0M1168.1 1482.8h0M1133.8 1485.9h0M1153.5 1473.2h0M1143.2 1479.1h0M1129.7 1476.2h0M1140.8 1477.1h0M1173.5 1491.9h0M1139.9 1475.8h0M1154 1478.8h0M1125.8 1493.5h0M1129.7 1488.3h0M1167 1489.9h0M1171.7 1476.3h0M1172.4 1480.7h0M1154.5 1488.7h0M1149.5 1475.6h0M1161.4 1469.7h0M1165.9 1472.4h0M1170.6 1471.6h0M1270.1 1482.7h0M1108.6 1474.7h0M1165.9 1468.7h0M1232 1490.3h0M1180.5 1488.9h0M1237 1481.9h0M1159.6 1460.7h0M1184.1 1488.4h0M1140.6 1466.4h0M1239.7 1478.9h0M1205.3 1487.4h0M1287.4 1475.8h0M1105.3 1486.4h0M1113.3 1479h0M1032.1 1483.6h0M1211.8 1486.6h0M1165.1 1474.2h0M1072.1 1476.7h0M1205.1 1465.4h0M1181.9 1476.5h0M1171.3 1467.4h0M1203.6 1496.7h0M994.2 1484.6h0M1162.1 1482h0M1147.9 1473.8h0M1160.6 1475.6h0M1156.7 1481.9h0M1129.6 1481.1h0M1194.3 1468.4h0M1132.3 1482.7h0M1179.2 1483.2h0M1128.8 1478.1h0M1129.5 1476.6h0M1200.1 1478.1h0M1203.2 1470.4h0M1061.9 1479.5h0M1135.8 1467.4h0M1086.7 1487h0M1136.7 1476.5h0M1166.3 1474.3h0M1053.3 1486.8h0M1042.5 1492.7h0M1057.7 1484.4h0M1042.3 1469.1h0M1052 1491.9h0M1053 1478.7h0M1054.1 1474.5h0M1065.6 1482.1h0M1094.3 1481.1h0M1108.9 1470.7h0M1110.6 1484.1h0M1098.8 1476.3h0M1103 1479.4h0M1100.2 1481.4h0M1112.8 1486.6h0M1101.2 1470.1h0M1105.7 1468.9h0M1213.3 1481.2h0M1200.9 1475.6h0M1215.4 1478.7h0M1197.5 1482.6h0M1232.5 1476.3h0M1223.8 1478.4h0M1225.8 1478.9h0M1231.2 1474.6h0M1216.1 1479.9h0M1223.6 1471.5h0"/>
<path d="M1174.4 1469.4h0M1165.2 1465.6h0M1163.6 1478.8h0M1127.3 1470h0M1170.4 1469.8h0M1140.8 1483.8h0M1152.5 1482.8h0M1166.4 1470.3h0M1160.5 1485.3h0M1131.3 1490.8h0M1131.8 1485.1h0M1147.7 1479.5h0M1171.9 1475.6h0M1139.3 1482.6h0M1149.2 1470.4h0M1141.7 1481.2h0M1168.1 1493.6h0M1149.5 1477.2h0M1136.6 1469.4h0M1142.7 1485.6h0M1166.5 1475.4h0M1148 1470.1h0M1138.8 1467.4h0M1147.2 1463.4h0M1152.5 1473.3h0M1142.5 1481.6h0M1169.3 1484.6h0M1169.8 1482.4h0M1157.2 1477.6h0M1163.1 1487.3h0M1178.4 1480.7h0M1167.2 1475.5h0M1150.8 1484.2h0M1184.6 1498.8h0M1114.9 1482.7h0M1146.1 1482.4h0M1074.8 1482.5h0M1175.8 1472.6h0M1029.4 1475.1h0M1150 1469.7h0M1133.4 1470.9h0M1229.5 1475h0M1105.9 1475.4h0M1213.6 1468.9h0M1005.5 1477.7h0M1159.8 1476.9h0M1223.3 1488.2h0M1142.2 1483.4h0M1229.9 1468.8h0M1052.7 1474.7h0M1204.8 1484.5h0M1107.4 1464.5h0M1204.8 1486.6h0M1114.7 1483h0M1168.4 1474.9h0M1179.6 1475.7h0M1133.1 1469.2h0M1145.4 1474.9h0M1073.6 1470.3h0M1275.4 1483.3h0M1148.7 1488.8h0M1199.2 1484.4h0M1240.1 1481h0M1192.8 1486.2h0M1127.7 1484.4h0M1178.8 1475h0M1115.9 1475.7h0M1147.9 1494h0M1099.7 1477h0M1270.3 1480.5h0M1180.7 1485.4h0M1222.6 1464h0M1168 1485.5h0M1051.1 1484.3h0M1059.8 1475.6h0M1058 1482.9h0M1055.1 1484.4h0M1051 1478h0M1060.4 1478.2h0M1056.4 1484.9h0M1046 1486.9h0M1087.4 1481h0M1105.6 1479.4h0M1094.5 1482.1h0M1089.2 1483.5h0M1097.1 1483.4h0M1068.3 1484h0M1084.3 1476.2h0M1103.3 1475.2h0M1093 1483.8h0M1215.4 1482.7h0M1223.2 1475.7h0M1191.2 1468.8h0M1224 1479.3h0M1204.1 1476h0M1201 1476.4h0M1201.8 1476.7h0M1243.4 1488h0M1247 1478.6h0M1217.8 1481.4h0"/>
</g>
<g stroke="#c4e08c" stroke-width="6" stroke-linecap="round" fill="none" stroke-opacity="0.09">
<path d="M1103.1 1392.4h0M1223.9 1387.2h0M1144.3 1410.2h0M1006.2 1397.6h0M1104.7 1402.7h0M1171 1392.6h0M1125.3 1379.8h0M1236.3 1404.2h0M1190.2 1415.9h0M1224.3 1392.3h0M1139 1400.4h0M1188.7 1386.3h0M1105.5 1365.9h0M1025.3 1380.4h0M1139.2 1416h0M1183.3 1422h0M1058.5 1392.2h0M1071.7 1384.2h0M1098.4 1381.7h0M1076 1374.2h0M1185.2 1388.9h0M1138.2 1396.8h0M1121.5 1369.9h0M1127.5 1415.4h0M1125.6 1396h0M1027.7 1378.2h0M1252.7 1426.1h0M1073.4 1390h0M1136.1 1393.8h0M1146 1403.8h0"/>
<path d="M1172.1 1390.5h0M1141.3 1414.9h0M1061.2 1398.7h0M1094.9 1383.1h0M1090 1417.7h0M1120.3 1379.3h0M1010 1411.2h0M1021.4 1394.3h0M1181.5 1405.5h0M1070.6 1375.4h0M1019 1379h0M1138.9 1388.5h0M1010.5 1391.1h0M1128.1 1425.3h0M1194.9 1378.6h0M1153.7 1406.4h0M1086 1381.7h0M1179.6 1413.5h0M1176 1403.4h0M1172.2 1422.3h0M1204.4 1406h0M1184.6 1383.2h0M1175 1386.8h0M1039 1381.2h0M1021.6 1363.4h0M1040.2 1406.1h0M1157.2 1383.5h0M1249.2 1410.1h0M1198.3 1366.6h0M1113 1426.1h0"/>
<path d="M1150.9 1401.4h0M1006 1392.4h0M1158.3 1387.2h0M1126.6 1387h0M1219.3 1393.3h0M1193.9 1390h0M1052.2 1395.8h0M1020 1393.1h0M1009 1402h0M1229.8 1406.7h0M1240 1383h0M1097.4 1374.4h0M1051.5 1417.6h0M1250.2 1380.4h0M1183.7 1365.5h0M1203.5 1384.4h0M1107 1372.5h0M1251.8 1398.8h0M1182.1 1392.6h0M1153.8 1386.4h0M1007.5 1415h0M1071.5 1371h0M1110 1419.5h0M1230.7 1374h0M1201.6 1391.7h0M1167.9 1383.4h0M1043.6 1390.3h0M1124.2 1388.3h0M1078.9 1368.4h0M1241 1393.6h0"/>
</g>
<g stroke="#a2d56c" stroke-width="6" stroke-linecap="round" fill="none" stroke-opacity="0.1">
<path d="M1080.9 1408.1h0M1070.6 1409.5h0M1063.8 1402.5h0M1072.4 1406.5h0M1062.6 1407.1h0M1062.1 1405.3h0M1071.8 1406.5h0M1061.3 1401.4h0M1065.4 1409.2h0M1064.8 1409.8h0M1066.3 1403.2h0M1065.4 1406.1h0M1160.2 1395h0M1140.7 1400.4h0M1153.7 1398h0M1183.6 1405.5h0M1166.9 1398.4h0M1174.9 1405.4h0M1189.3 1399h0M1168.6 1391.9h0M1173.8 1404.8h0M1150.1 1395.3h0M1177.2 1400h0M1150.4 1400.3h0M1163.7 1390.3h0M1156.2 1403.7h0M1168.6 1405.4h0M1150.3 1405.6h0M1195.1 1400.6h0M1184.8 1404.7h0"/>
<path d="M1071.9 1404.1h0M1073.8 1404.6h0M1055.9 1406h0M1075 1401.6h0M1087.5 1407.8h0M1081.6 1404.3h0M1072.4 1402.8h0M1073 1406.6h0M1067.2 1403.4h0M1069.2 1405.4h0M1069.6 1405.2h0M1077 1403h0M1173.4 1398.1h0M1174.6 1399.6h0M1175.2 1398.8h0M1150.7 1395.6h0M1161.3 1400.5h0M1176.7 1397.1h0M1155.4 1404.1h0M1167.3 1401h0M1174 1405.4h0M1184.6 1409.8h0M1177.4 1396h0M1174.9 1401h0M1183.5 1396.5h0M1164.1 1396.5h0M1170.2 1401.1h0M1162.9 1397.5h0M1190.5 1408.8h0M1165.3 1403.6h0"/>
<path d="M1074.6 1406.6h0M1064.3 1403.7h0M1068.9 1403.8h0M1065.4 1404.1h0M1066.6 1405.8h0M1061.4 1408h0M1072.1 1404.9h0M1072.8 1399.6h0M1064.9 1406h0M1073.5 1399.8h0M1080.2 1409.5h0M1067.8 1404.4h0M1152.2 1404.1h0M1168.4 1399.2h0M1165.2 1394.6h0M1182 1407.2h0M1160 1400.9h0M1189.3 1404.8h0M1156.2 1401.6h0M1148.7 1402.3h0M1160.9 1406h0M1149.5 1402.9h0M1145 1395.6h0M1155.6 1398.5h0M1162.4 1398.5h0M1163.2 1398.4h0M1186.2 1398.8h0M1160.6 1397.8h0M1174.5 1400.1h0M1167.7 1401.6h0"/>
<path d="M1072.3 1405.5h0M1063.7 1408.6h0M1070.4 1400.2h0M1061.7 1401.3h0M1067 1405.9h0M1071 1406.3h0M1071.8 1406.4h0M1063.3 1407.3h0M1071.8 1404.3h0M1068.2 1411.9h0M1069.7 1404.3h0M1072.3 1403.7h0M1169.6 1408.7h0M1166.5 1397.6h0M1173.6 1401.1h0M1148.9 1405.6h0M1150.6 1403.4h0M1176.7 1398.3h0M1164.1 1401h0M1188.1 1398.1h0M1142.4 1409.3h0M1166.5 1402.4h0M1140.9 1400.3h0M1173.7 1406.1h0M1144.6 1398.8h0M1177.6 1398.3h0M1191.1 1400.2h0M1177.9 1400h0M1145.1 1402.6h0M1174.4 1399.6h0"/>
<path d="M1073.2 1408.7h0M1076.5 1411.8h0M1070.1 1403h0M1073.5 1404.8h0M1069.8 1404.3h0M1063.3 1404.5h0M1073.1 1403.5h0M1051.5 1401.5h0M1072 1404.4h0M1063.8 1407.4h0M1064.4 1407.9h0M1154 1400.5h0M1171 1401.4h0M1164.5 1401.3h0M1183.6 1403.9h0M1152.2 1410.2h0M1167.5 1399.5h0M1158.3 1405.7h0M1181.2 1401.6h0M1175.2 1395h0M1162 1404.1h0M1150.6 1403.5h0M1172.8 1399.9h0M1162.2 1403.8h0M1153.6 1401.9h0M1168.5 1401.1h0M1173.5 1393.1h0M1170.7 1399.1h0M1166.9 1403.3h0M1165.6 1398.8h0"/>
<path d="M1070.1 1403.3h0M1069.5 1402.6h0M1068.6 1403.6h0M1071.8 1407.9h0M1081.8 1408.8h0M1071.4 1405.1h0M1069.1 1407.4h0M1068.4 1405.4h0M1058 1401.9h0M1066.9 1407.1h0M1070.4 1406h0M1133.9 1406.3h0M1185.8 1400.7h0M1168.2 1405.5h0M1170.2 1399h0M1148.2 1405h0M1196.3 1398.3h0M1158.4 1410h0M1166.6 1400.6h0M1171.5 1400.3h0M1190.4 1399.1h0M1179.1 1399.9h0M1165.1 1400h0M1163.9 1405.4h0M1183.9 1401.6h0M1176.6 1397.9h0M1176.5 1402.7h0M1139.6 1397.6h0M1156.2 1402.6h0M1169.2 1402.2h0"/>
</g>
<g stroke="#b176b0" stroke-width="6" stroke-linecap="round" fill="none" stroke-opacity="0.1">
<path d="M1276 1342.3h0M1213.4 1358.7h0M1236.9 1341.8h0M1207 1345.9h0M1218.9 1337.1h0M1232.9 1334.6h0M1182.4 1346.8h0M1202.2 1334.5h0M1190.1 1322.5h0M1238.3 1340h0M1221.1 1318.2h0M1218.3 1335.7h0M1203 1338.8h0M1228.6 1349.4h0M1231.7 1337.7h0M1184.6 1322.6h0M1213 1345.9h0M1283.9 1354.9h0M1201 1327.7h0M1241.2 1340.6h0M1198.7 1315.6h0M1241.5 1340.4h0M1240.2 1339.9h0M1249.8 1341h0M1244.9 1335.3h0M1203.6 1342.8h0M1212.3 1335.6h0M1233.3 1343.3h0M1185.7 1336.4h0M1221.7 1328.5h0M1172.9 1340h0M1220.3 1340.4h0M1216.3 1342.5h0M1245.5 1351.3h0M1203.1 1335.6h0M1179.9 1331.6h0M1226.6 1328.4h0M1244.8 1333.5h0M1259.1 1336.3h0M1219.2 1348.7h0M1211 1339.9h0M1203.3 1327.3h0M1191.3 1341.9h0M1223.4 1333h0M1210.8 1354.4h0M1178.5 1341.1h0M1233.6 1349.2h0M1206.8 1317.7h0M1204.4 1339.6h0M1243.9 1330.6h0M1208.7 1346.6h0M1255.9 1341.7h0M1176.2 1340.1h0M1200.7 1333.9h0M1210.3 1340.5h0M1214.2 1348.7h0M1187.5 1339.8h0M1219.9 1351.9h0M1182.5 1345h0M1180.1 1327h0M1227.3 1351.9h0M1205.6 1348.9h0M1204.5 1341.2h0M1193.3 1337.1h0M1241.5 1335.2h0M1212.6 1338.8h0M1230.8 1332.5h0M1233.8 1328.1h0M1212.7 1341.8h0M1204.3 1332.1h0M1245.1 1331.5h0M1247.9 1336.1h0M1221.2 1326.6h0M1203.3 1336.8h0M1226.9 1342.9h0M1208.9 1340h0M1189.5 1338.2h0M1193.1 1332.6h0M1228.8 1325.3h0M1227 1326.5h0M1203.9 1345.7h0M1191.7 1350h0M1175 1334.3h0M1203.7 1352h0M1196.9 1353h0M1208.6 1355.9h0M1209.3 1322h0M1220.8 1333.6h0M1247.2 1339.5h0M1228 1328.9h0M1255 1344.2h0M1213.7 1331.2h0M1190.5 1329.8h0M1207.1 1333.8h0M1257.3 1336.2h0M1237.9 1334.2h0M1170.3 1325.8h0M1231.9 1333h0M1132.3 1313.1h0M1179.9 1353.4h0M1206.9 1324.5h0M1178.7 1330.7h0M1199.4 1364.3h0M1222.5 1341.4h0M1233.4 1332.1h0M1289.8 1333.2h0M1192 1334.6h0M1192 1343.8h0M1207.8 1341.2h0M1151.5 1323.5h0M1245.8 1348.6h0M1137.2 1349.4h0M1154.4 1322.4h0M1229.2 1315.3h0M1223.9 1334.6h0M1181.3 1341.8h0M1229.2 1330h0M1238.8 1350.9h0M1112.4 1323.5h0M1189.3 1345.1h0M1254.5 1330.9h0M1204.4 1343.9h0M1296 1331.8h0M1340.6 1333.3h0M1422.2 1323.4h0M1297 1330.8h0M1371.3 1331.5h0M1376 1331.7h0M1325.2 1331.1h0M1159.2 1338.1h0M1132.4 1338.6h0M1143.8 1335.7h0M1138.3 1342.3h0M1116.5 1336.7h0M1373.1 1315.3h0M1238.1 1417.6h0M1134 1390.7h0M1106.5 1373.1h0M1378 1396.2h0M1138.7 1347.8h0"/>
<path d="M1240.2 1362.8h0M1252.9 1337.2h0M1224.1 1340.7h0M1237.4 1342.3h0M1248.2 1339.5h0M1192.1 1345.3h0M1249 1340.3h0M1205.1 1344.1h0M1221.6 1339.7h0M1217.6 1338.1h0M1206.6 1345.5h0M1206.8 1340.8h0M1236.3 1355.8h0M1242 1319.1h0M1197 1339.2h0M1223.9 1338.4h0M1200.3 1332.1h0M1228.9 1337.1h0M1210.2 1329.6h0M1275.9 1334.6h0M1216.4 1341.5h0M1241.6 1343.3h0M1201.5 1339.4h0M1229.8 1338.1h0M1255.2 1342.5h0M1217.7 1338.6h0M1201.1 1344h0M1211.2 1329.2h0M1258 1325.6h0M1206.1 1333.6h0M1205.3 1334.9h0M1237.8 1342.9h0M1176.7 1341.1h0M1182.4 1328.1h0M1194.9 1332.8h0M1195.4 1342.7h0M1224.9 1341.8h0M1213.9 1338.4h0M1214.3 1343.5h0M1224.6 1343.1h0M1231.7 1332.4h0M1202.8 1346.2h0M1170.2 1323.9h0M1247.8 1338.8h0M1215.3 1347.3h0M1185.1 1336h0M1217.2 1340h0M1183.7 1331.8h0M1238 1334h0M1216 1334.1h0M1252.7 1344.4h0M1235.7 1335.9h0M1252.3 1344.1h0M1211 1353h0M1196.5 1329.5h0M1252.7 1337.4h0M1195.6 1356.6h0M1222.8 1333.5h0M1215.3 1326.9h0M1221.6 1327.3h0M1198 1316.3h0M1241.6 1339.9h0M1213.9 1338.3h0M1224.7 1354.9h0M1184.3 1330.9h0M1215.7 1339.2h0M1243 1328.8h0M1194.1 1336.7h0M1176 1334.6h0M1218.8 1345.2h0M1204 1336.3h0M1201.3 1345.5h0M1228.2 1337.4h0M1221.9 1346.5h0M1176.3 1333.2h0M1241.4 1334.5h0M1229.1 1337.7h0M1226.4 1320.1h0M1190.3 1335.3h0M1260.9 1344.7h0M1202.3 1347.3h0M1187.3 1350.7h0M1206.7 1329.4h0M1195.2 1341.3h0M1171.7 1365.8h0M1233.6 1346.8h0M1204.7 1340.4h0M1210 1335.6h0M1209.6 1345.3h0M1213.4 1335.3h0M1204.9 1350.8h0M1219.4 1330.2h0M1170.1 1345.3h0M1227.6 1338h0M1250.4 1334.7h0M1195.2 1339.3h0M1101.6 1336.2h0M1220.2 1336.7h0M1206.7 1345.7h0M1239.1 1365.4h0M1204.3 1329h0M1241.1 1327.9h0M1135.6 1344.9h0M1222.8 1336.1h0M1213.1 1351.7h0M1154 1334.6h0M1191.3 1332h0M1224.4 1333.5h0M1268 1347.7h0M1261.4 1325.5h0M1266 1326.9h0M1168.8 1341.9h0M1253.7 1340.6h0M1209.7 1336.1h0M1235.9 1353.6h0M1276.2 1341.2h0M1215.5 1340h0M1246.9 1331h0M1142.6 1353.4h0M1205.9 1342.7h0M1161.5 1332h0M1213.2 1355.1h0M1424.8 1334.3h0M1270.3 1336.2h0M1325.4 1329.5h0M1368.1 1326.2h0M1361.9 1333.8h0M1346.8 1334.1h0M1413.1 1328.9h0M1133 1337.7h0M1125.9 1333.8h0M1112.7 1335.3h0M1151.5 1332.2h0M1159.2 1333.6h0M1229.6 1378.3h0M1353.6 1386.1h0M1351.8 1348.8h0M1151.3 1352.6h0M1441.9 1419.2h0M1251.9 1306.9h0"/>
<path d="M1231.5 1335.9h0M1263.8 1337.7h0M1213.7 1349.9h0M1199.9 1337.9h0M1230 1341.1h0M1189 1335.3h0M1214 1349.5h0M1166.3 1342.2h0M1169.2 1325.9h0M1224.8 1339.9h0M1212.3 1350.7h0M1206.3 1359.9h0M1229.2 1354.7h0M1186.2 1341.7h0M1226.2 1344.2h0M1198.8 1325h0M1206.6 1331.5h0M1196.4 1333.1h0M1148.2 1344.9h0M1281.7 1342.4h0M1201 1331.5h0M1209.3 1330.2h0M1252.3 1330.6h0M1231.9 1323.7h0M1242.9 1348.9h0M1257 1348.2h0M1200.5 1329.7h0M1248.1 1330.4h0M1198.2 1349.1h0M1170.6 1332h0M1208.3 1335.6h0M1210.2 1336.7h0M1202.7 1342h0M1209.7 1324.9h0M1218 1336.4h0M1239.7 1342.9h0M1215.6 1353.2h0M1211.9 1324.7h0M1210.7 1322.8h0M1173.2 1352.8h0M1158.8 1337.8h0M1219.4 1336.7h0M1163.9 1323.1h0M1256.4 1339.1h0M1214.4 1333.8h0M1217.6 1327h0M1211.5 1333.2h0M1182.9 1341.8h0M1197.6 1343.5h0M1227.4 1335.6h0M1197.4 1340.2h0M1211.2 1345.6h0M1209.1 1332h0M1203.4 1343.6h0M1206.3 1342.5h0M1198.3 1339.4h0M1155 1328.7h0M1198.8 1363.6h0M1234.3 1324.3h0M1235.6 1337.2h0M1219.8 1342.9h0M1187.7 1326h0M1243.4 1331.6h0M1230.1 1337.3h0M1233.9 1330.8h0M1195.6 1335.3h0M1216.1 1336.4h0M1212.8 1342.6h0M1199.7 1344.4h0M1230.8 1326.8h0M1215.2 1329.6h0M1207.2 1335.5h0M1228.6 1339.3h0M1237.5 1338.9h0M1210.1 1332.4h0M1230.3 1342.3h0M1223.5 1318.2h0M1234.4 1350.3h0M1148.9 1337.4h0M1209.9 1334.9h0M1159.1 1337.4h0M1232.7 1339h0M1217 1343h0M1216.6 1341.8h0M1183.6 1328.7h0M1214.1 1332.3h0M1233.3 1330.6h0M1202.5 1347.5h0M1189.6 1351h0M1196.7 1317.9h0M1157.1 1333.9h0M1253.4 1348h0M1198.4 1327.2h0M1201.1 1345.1h0M1199.8 1340.4h0M1242.3 1337.4h0M1192.2 1337.6h0M1194.1 1353.1h0M1200.5 1339.3h0M1231.5 1338.1h0M1249.6 1331.4h0M1191 1348.5h0M1262 1340.6h0M1142.2 1335.8h0M1173.7 1339.1h0M1329.6 1327.8h0M1140 1327.3h0M1207.7 1350h0M1253.8 1341.4h0M1267.7 1321.6h0M1249.2 1347h0M1230.4 1337h0M1135.1 1348.1h0M1187.8 1345.2h0M1230.3 1337.9h0M1254.3 1341.9h0M1275.2 1341.9h0M1219.1 1334.9h0M1292.7 1312.7h0M1243.6 1338.7h0M1197.9 1329.7h0M1118.7 1339h0M1376 1331.5h0M1362.6 1336.8h0M1293.9 1339.2h0M1428.5 1329.4h0M1373.9 1329.1h0M1401.7 1333.2h0M1361.3 1327.6h0M1161.7 1333.5h0M1134.8 1333.9h0M1127.8 1338.3h0M1120.3 1334.5h0M1289.8 1395.7h0M1310.6 1337.3h0M1159.3 1380.5h0M1416.1 1325h0M1170.6 1399.7h0M1392.6 1332.2h0M1369.7 1312.5h0"/>
<path d="M1189.9 1337.2h0M1242.9 1328.4h0M1260.4 1340.7h0M1201.4 1347.5h0M1213.2 1339.9h0M1225.2 1329.7h0M1208.9 1340.7h0M1246.1 1333.8h0M1229.2 1335.3h0M1243.5 1328.7h0M1240.9 1338.2h0M1165.7 1343.8h0M1201.5 1330.5h0M1266.6 1329.4h0M1182.5 1336.8h0M1221 1332.8h0M1213.1 1346.7h0M1227.8 1327.4h0M1169.7 1338.2h0M1215.2 1339.8h0M1229.6 1341.5h0M1206.8 1341.5h0M1202.5 1330.6h0M1203.6 1332.3h0M1208.7 1321.1h0M1245.4 1335h0M1243.9 1331.7h0M1191.9 1355.3h0M1215.8 1343.2h0M1195.8 1339.3h0M1217.5 1327.6h0M1252.9 1337.1h0M1220.6 1325.1h0M1181.2 1326.4h0M1225.2 1341.6h0M1236.3 1345.3h0M1231.9 1344.8h0M1159.9 1341.7h0M1161.2 1343.1h0M1213.1 1331.3h0M1218.6 1326.6h0M1229.4 1339h0M1221.7 1344.5h0M1204.2 1328.2h0M1192 1345.8h0M1210.5 1338.9h0M1235.2 1334h0M1207.4 1341.5h0M1241.8 1338.9h0M1215.4 1341.4h0M1295 1337.8h0M1183 1347.7h0M1232.9 1339.3h0M1196.3 1344.3h0M1214.2 1335.5h0M1248.2 1346.3h0M1203.9 1334.8h0M1238 1324.2h0M1224.8 1339.4h0M1208.3 1335.8h0M1221.6 1335.8h0M1215.9 1338.2h0M1191.6 1342.1h0M1267.8 1339h0M1212.8 1331.1h0M1196.7 1335h0M1231.1 1336.3h0M1223 1344.2h0M1230.9 1341.7h0M1215 1344h0M1273.3 1331.6h0M1187.3 1325h0M1201.4 1331.7h0M1212.4 1329h0M1211.6 1311.2h0M1203.1 1346.3h0M1221.9 1343.9h0M1232.1 1334.1h0M1240.5 1337h0M1201 1335.8h0M1215 1331.4h0M1202.3 1336.9h0M1216.2 1339.8h0M1227 1342h0M1201.5 1343.3h0M1204.9 1359.6h0M1218.4 1340.6h0M1183.7 1332.3h0M1201.1 1346.3h0M1206 1337.6h0M1233.4 1343.1h0M1267.6 1345h0M1233.8 1326.1h0M1189.8 1342.8h0M1256 1321.6h0M1138.7 1342.2h0M1226.8 1352.5h0M1226.8 1342h0M1179.5 1313.7h0M1099.9 1334.2h0M1253.9 1333.9h0M1302.7 1323.9h0M1271.4 1335.7h0M1212.5 1337h0M1246.3 1350.4h0M1203.4 1341.2h0M1166.1 1341.9h0M1191 1313.3h0M1262.7 1324.6h0M1228.9 1335.9h0M1198.4 1335.4h0M1200.3 1328.5h0M1185.5 1353.2h0M1246.2 1345.9h0M1199.2 1348.6h0M1167 1334.1h0M1176.4 1354.2h0M1251.4 1331.1h0M1030.7 1341.8h0M1187.4 1351.9h0M1185.9 1345.7h0M1197.8 1339.6h0M1374.3 1325.8h0M1381.4 1332.6h0M1412.8 1335.4h0M1453 1329.3h0M1402.7 1329.7h0M1315.4 1336.9h0M1407.4 1333.7h0M1146.6 1337.9h0M1116.6 1337.2h0M1106.4 1334.1h0M1152.8 1332.8h0M1190 1386.9h0M1306.8 1363.8h0M1349.8 1369.4h0M1225 1418h0M1226.1 1370.9h0M1144.3 1416.5h0M1397.6 1400.8h0"/>
<path d="M1178.3 1345.8h0M1227.9 1326.4h0M1201.3 1333.4h0M1180.2 1339h0M1164.2 1352.1h0M1215.3 1333.6h0M1212.3 1335h0M1188.3 1320.9h0M1190.1 1349h0M1214 1341.3h0M1245.5 1344.8h0M1243.8 1342.9h0M1183.8 1337.5h0M1202.2 1334.3h0M1184.5 1330.9h0M1225.5 1335.3h0M1219.6 1340h0M1238.7 1325.6h0M1236.1 1326.5h0M1256.4 1361.2h0M1232.5 1342h0M1254 1330.1h0M1218.2 1331.9h0M1230.1 1339.5h0M1202.3 1337.1h0M1187.4 1338.8h0M1255.4 1346.2h0M1170.5 1344.3h0M1188.8 1357.9h0M1241.3 1328.5h0M1194.7 1341.8h0M1231.2 1325h0M1213.7 1332.4h0M1222.4 1332.1h0M1213.5 1331.2h0M1244.1 1334.6h0M1194.5 1342.2h0M1159.2 1336.4h0M1245.9 1342.7h0M1267.6 1333.9h0M1229.1 1330h0M1200.8 1330.3h0M1254.2 1346.1h0M1206.4 1338.4h0M1197.2 1342.5h0M1177.1 1347.4h0M1261.5 1335.9h0M1218.9 1329.3h0M1189.3 1343h0M1192.5 1345.9h0M1231.3 1340.9h0M1223.9 1346.2h0M1195.6 1339.4h0M1185.1 1339.2h0M1225.5 1340.2h0M1229.2 1343.7h0M1233.3 1323.7h0M1191.4 1354.2h0M1232.9 1341.9h0M1162.6 1339.4h0M1208.9 1322.6h0M1171.5 1335.1h0M1233.5 1345h0M1195.6 1349h0M1181.3 1333.2h0M1179.8 1346.7h0M1218.4 1337.2h0M1198.8 1331.5h0M1189.2 1334.8h0M1238.2 1353h0M1206.9 1349.3h0M1264.7 1347h0M1225.9 1337.4h0M1271.4 1344.3h0M1189.5 1335.5h0M1200.2 1340.4h0M1204.3 1340.3h0M1168.1 1336h0M1232.8 1330.7h0M1228 1320.9h0M1211.5 1339h0M1259.1 1343.5h0M1220.9 1338.8h0M1240.8 1344.7h0M1216.9 1331.7h0M1222.4 1331.5h0M1231 1329.8h0M1232.1 1331.8h0M1211.6 1345.9h0M1239.3 1330.9h0M1184.1 1346.5h0M1222.7 1333.4h0M1220.6 1348.8h0M1251.8 1347.4h0M1252 1343.9h0M1272.4 1335.3h0M1172.8 1342.4h0M1266.2 1357.2h0M1118.9 1353.7h0M1270.1 1335.3h0M1181.7 1339.5h0M1277.8 1340.3h0M1209.2 1327.1h0M1179.2 1326.6h0M1246.5 1310.2h0M1227.8 1336.9h0M1231.6 1329.5h0M1172.7 1333.8h0M1152.5 1340.5h0M1307.4 1347.5h0M1096.3 1343.2h0M1228 1334.3h0M1216.8 1352.4h0M1238.7 1319.3h0M1237.9 1351.5h0M1182 1347.5h0M1193.7 1338.4h0M1265.5 1337.2h0M1174.1 1327.2h0M1169.6 1330.7h0M1199 1340.8h0M1261.5 1344.2h0M1306.2 1335.2h0M1419.9 1328.8h0M1355.3 1327.4h0M1401.3 1334.6h0M1308.3 1332.9h0M1322.8 1334.6h0M1349.7 1330.3h0M1140.6 1330.8h0M1159.1 1326.5h0M1107.3 1334.9h0M1131.2 1330.1h0M1323.6 1329.8h0M1152.7 1328.7h0M1445.7 1302.6h0M1326.1 1398.7h0M1388.8 1361.5h0M1203.8 1382.2h0M1209.1 1396.3h0"/>
<path d="M1222.7 1332.4h0M1245.8 1349.2h0M1212.1 1335.1h0M1212.4 1353.2h0M1218.5 1336.2h0M1214 1328.8h0M1222.6 1331.4h0M1234.3 1329.8h0M1201.8 1340.8h0M1239 1339.7h0M1188.2 1332.4h0M1196.2 1336.8h0M1206.5 1345.2h0M1180.8 1335.8h0M1221.5 1342.1h0M1208.4 1347.3h0M1209.6 1332.2h0M1245.3 1335.2h0M1189.2 1341.8h0M1229.8 1356.1h0M1207 1331h0M1207.9 1327h0M1207.9 1337.7h0M1222.9 1340.4h0M1218.6 1338.2h0M1203 1332.2h0M1193.4 1344.2h0M1259.2 1324.7h0M1228.9 1337.8h0M1206.7 1337.8h0M1234.8 1338.6h0M1223.3 1339h0M1247.1 1341.6h0M1201.2 1350h0M1176.7 1340.1h0M1213.9 1328.8h0M1240.1 1323.2h0M1238.3 1332.6h0M1189.2 1331.4h0M1178.7 1329.1h0M1225.6 1336.2h0M1215.7 1341.3h0M1235.3 1345.2h0M1208 1322.2h0M1160 1341.1h0M1211.7 1340.5h0M1170.4 1346.7h0M1204.7 1346.6h0M1204 1347.9h0M1202.8 1340.9h0M1229.1 1335.3h0M1248.1 1346.6h0M1242.2 1346.1h0M1221.4 1337.4h0M1174.4 1344.4h0M1218.7 1333.5h0M1218 1339.8h0M1218.6 1339.3h0M1208.2 1329.4h0M1193 1331.6h0M1191.4 1318.6h0M1186.3 1332.1h0M1199.8 1343.1h0M1237 1334.5h0M1226.3 1321.2h0M1235.7 1343.3h0M1251.3 1329.5h0M1185.9 1336.2h0M1199.8 1339.7h0M1219.1 1339.4h0M1215.2 1352h0M1222.8 1345.5h0M1170.1 1331h0M1231.3 1344.5h0M1186.1 1333.6h0M1255 1339.3h0M1177.1 1341.4h0M1215.8 1331.8h0M1207.4 1327h0M1226.9 1344.1h0M1198.9 1328.7h0M1231 1357.9h0M1179.9 1332.6h0M1241.6 1342.5h0M1210.4 1335.6h0M1260.3 1339.3h0M1225.2 1326.1h0M1218.5 1334.3h0M1232.7 1338.3h0M1236.5 1352.7h0M1255.6 1337.2h0M1219 1346.5h0M1214.5 1333.6h0M1188.4 1344.2h0M1224.1 1342.5h0M1250 1348.6h0M1209.4 1320.8h0M1277.4 1339.4h0M1163.5 1333.1h0M1153.5 1331.5h0M1161.3 1351.6h0M1173.7 1340.1h0M1161.3 1342h0M1211.4 1345.1h0M1214.8 1351.3h0M1194 1329.5h0M1219.8 1333.5h0M1156.3 1345.6h0M1277.9 1338.7h0M1157.7 1345h0M1256.5 1354.5h0M1234 1360.1h0M1173.1 1329.4h0M1230.8 1326.1h0M1234.6 1340.8h0M1139.6 1330.2h0M1209.9 1342.1h0M1189.2 1350h0M1270.4 1322h0M1185.9 1352.5h0M1320.5 1339.5h0M1213.5 1332.5h0M1440.1 1331.2h0M1392.3 1332.7h0M1318.8 1339h0M1417.1 1328.5h0M1274.7 1333.2h0M1319.5 1336.5h0M1313.2 1331.7h0M1130.4 1335.1h0M1143.5 1336.8h0M1138 1331.3h0M1121.7 1334.1h0M1277.5 1384.3h0M1370.8 1391h0M1346.9 1329.6h0M1217.2 1386.8h0M1389.3 1346.6h0M1152.8 1376.6h0M1438.9 1397.5h0"/>
<path d="M1178.9 1334.6h0M1193.3 1347.4h0M1213.4 1347.7h0M1246 1352.8h0M1265.7 1336.8h0M1201.1 1337.8h0M1238.3 1345.2h0M1235.5 1339.7h0M1182 1339.3h0M1164.7 1343.5h0M1209 1333.7h0M1215.3 1333.3h0M1201.1 1327h0M1219.4 1333.3h0M1215.9 1342h0M1191 1342.7h0M1206.4 1330.4h0M1188 1343.9h0M1214.7 1331.6h0M1224.8 1330.2h0M1245.4 1358.4h0M1218.3 1336.4h0M1221.2 1332h0M1196 1328.9h0M1188.2 1346h0M1217.5 1333.8h0M1262.2 1341.7h0M1265.6 1335.8h0M1209.4 1327.5h0M1183.9 1333.4h0M1215.4 1350.3h0M1239.4 1340.2h0M1238.4 1332.3h0M1224.7 1333.7h0M1196.7 1347.2h0M1193.6 1326.8h0M1263.7 1331h0M1257.2 1338.6h0M1192.9 1345.6h0M1231.3 1336.9h0M1199.6 1333.4h0M1253.7 1340.2h0M1210.6 1345.3h0M1234.9 1346.4h0M1202.2 1350.2h0M1205.3 1334.9h0M1228.3 1350h0M1196.3 1327.3h0M1212.9 1341.4h0M1262.7 1335.8h0M1204.7 1342.6h0M1183.6 1340.8h0M1203.5 1341.5h0M1180.6 1335.5h0M1200.6 1334.9h0M1198.5 1335.9h0M1189.9 1335.8h0M1203.3 1317.6h0M1223.1 1341.4h0M1189.4 1351.1h0M1216.7 1338.1h0M1217.5 1354.4h0M1222.6 1339.3h0M1206.8 1343.4h0M1198 1339h0M1201.5 1320.2h0M1246 1332h0M1229.3 1343.7h0M1172.8 1335.3h0M1201.1 1339.8h0M1241.9 1356.7h0M1224.8 1349h0M1215.7 1333.3h0M1252.5 1337.2h0M1245.3 1350h0M1200.8 1348.1h0M1194.9 1349.7h0M1266.2 1339.5h0M1256.5 1356.5h0M1245.8 1334.4h0M1235.1 1333.6h0M1203.6 1326.9h0M1206.3 1349.1h0M1239.4 1331.7h0M1188.4 1334.1h0M1221.3 1337.6h0M1176.9 1343.1h0M1192.6 1335.1h0M1262.8 1338.7h0M1212.9 1347.7h0M1235.2 1327.2h0M1168.5 1337.6h0M1205.5 1344.1h0M1241.9 1337.5h0M1223.8 1346.7h0M1265.8 1350.2h0M1218.2 1360.8h0M1224.7 1331.2h0M1199.1 1355.7h0M1309.4 1337.7h0M1177.3 1349.9h0M1249 1341.4h0M1238 1345.8h0M1150 1334.1h0M1143.4 1307.7h0M1214.2 1332h0M1206.9 1340.3h0M1223.2 1339h0M1202.4 1331.4h0M1229.7 1338.9h0M1257.9 1336h0M1209.7 1343.6h0M1224.5 1336.3h0M1166.7 1341h0M1211.2 1347.5h0M1206.7 1337.7h0M1105.6 1330.2h0M1155 1337.4h0M1264.9 1354.5h0M1200.6 1340.1h0M1224.4 1326.9h0M1167.6 1328.9h0M1316.8 1334.6h0M1350.2 1330.5h0M1429.3 1329.5h0M1366 1341.8h0M1426.5 1329h0M1345.8 1331.8h0M1375.1 1331.8h0M1130.6 1333.7h0M1139.4 1328.2h0M1163.6 1337.4h0M1105.4 1336.7h0M1207.9 1386.2h0M1284.1 1403.7h0M1405.4 1312.7h0M1288.7 1370h0M1326.9 1348.1h0M1106.8 1331.6h0"/>
<path d="M1203.8 1335.7h0M1236.6 1332.3h0M1235.9 1328.2h0M1203.8 1343.5h0M1223.5 1334h0M1223.1 1334.7h0M1180.3 1316.3h0M1210 1349.2h0M1205.2 1351h0M1190.6 1344.9h0M1257.4 1330.4h0M1191.1 1329h0M1228 1343.7h0M1208.9 1325.7h0M1218.2 1342.4h0M1220.2 1345.7h0M1215.1 1343.9h0M1226.2 1339h0M1190.2 1332.6h0M1214.2 1344.2h0M1171.2 1335.8h0M1229 1347.8h0M1191 1351.8h0M1228.2 1342.3h0M1199.7 1337.1h0M1202.1 1329.8h0M1195.5 1328.7h0M1218.7 1354.7h0M1222.3 1338.9h0M1188.9 1332.9h0M1208.3 1339.4h0M1223.7 1344.4h0M1207.9 1338.9h0M1171.9 1330.4h0M1213.7 1330.3h0M1219.5 1352.3h0M1186.7 1350.1h0M1216.1 1330.6h0M1226.9 1363.3h0M1213.9 1329.4h0M1216.1 1324.4h0M1196.3 1345.6h0M1188.5 1341.6h0M1185.6 1360.9h0M1179.2 1333.2h0M1198.5 1326h0M1231.2 1340h0M1222.6 1340.9h0M1213.8 1345h0M1231.6 1334.3h0M1212.1 1339.8h0M1145 1354.5h0M1220.4 1336.7h0M1206.4 1335.8h0M1204.2 1339.7h0M1237.2 1337.8h0M1191.5 1347.3h0M1214.9 1335.5h0M1257.7 1341.3h0M1230.2 1359.2h0M1183.7 1326.7h0M1169.2 1347.3h0M1271.8 1342.1h0M1216 1334.7h0M1216.4 1327.5h0M1216.2 1347.4h0M1197.4 1339.4h0M1214.2 1347.7h0M1164.7 1332.2h0M1156.1 1332h0M1181.5 1348.9h0M1238 1347.4h0M1194.2 1348.3h0M1176.4 1331.8h0M1214.7 1348.1h0M1210 1329.3h0M1200.4 1346.2h0M1204.5 1330.7h0M1225.6 1360.9h0M1238.3 1333.4h0M1237 1337.3h0M1211.9 1363.4h0M1224.6 1336.2h0M1214.9 1342.2h0M1200.5 1319.9h0M1205.5 1353h0M1210.9 1340.6h0M1227.9 1330.8h0M1194.6 1338h0M1214.7 1339.7h0M1246.3 1326.2h0M1204.1 1329h0M1216.5 1345.7h0M1219.5 1342.9h0M1215.9 1319.4h0M1194 1336.4h0M1211 1347.2h0M1151 1341.1h0M1210.6 1340.8h0M1176.7 1355.9h0M1187.6 1333.4h0M1233.7 1351.6h0M1198.2 1333.6h0M1292 1348.1h0M1257.6 1344.2h0M1138.1 1334.6h0M1212.9 1320.7h0M1223.4 1344h0M1213.7 1332.4h0M1249.7 1328.4h0M1162.8 1353.5h0M1269.4 1347.7h0M1269.6 1334.1h0M1259.6 1324.4h0M1182.4 1347.9h0M1207.2 1328.2h0M1166.4 1327.8h0M1190.3 1332.2h0M1199.3 1342.4h0M1217.5 1322.9h0M1187.5 1341.3h0M1268.3 1341.6h0M1300.9 1334.4h0M1409.1 1330.1h0M1442.5 1330.7h0M1273.4 1333.1h0M1282.1 1334.2h0M1333 1329h0M1381.1 1336.7h0M1153.7 1331.8h0M1117.6 1336.1h0M1140.1 1322.9h0M1124.1 1338.2h0M1195.9 1323.7h0M1399.1 1378.7h0M1308.3 1341.9h0M1335.3 1307.3h0M1334.1 1393.9h0M1351.3 1318.6h0"/>
<path d="M1192.3 1344h0M1210.1 1348.3h0M1272.7 1343.1h0M1184.1 1355h0M1208.2 1342.4h0M1216.5 1328.1h0M1216.3 1341.6h0M1203.9 1340.6h0M1190.3 1333.9h0M1200.5 1334.8h0M1211.1 1348.6h0M1241.1 1343.8h0M1167.6 1335.5h0M1211.7 1343.8h0M1224.4 1329.3h0M1172.8 1316.8h0M1158.4 1347.5h0M1229.3 1343.7h0M1172.9 1326.4h0M1237 1335.9h0M1189.6 1340.9h0M1213.8 1343h0M1213.6 1327.9h0M1184.4 1327.2h0M1219.3 1336.2h0M1207 1334.1h0M1235.2 1344.4h0M1168.8 1334.4h0M1219.3 1347.8h0M1189.6 1340.2h0M1253.5 1323.4h0M1190.8 1332.3h0M1261.2 1334.3h0M1237.2 1333.2h0M1201.5 1336.7h0M1241.7 1338.2h0M1247 1324.1h0M1224.7 1341.7h0M1228.9 1341.8h0M1230.9 1333.7h0M1221.7 1330.2h0M1197.4 1345.6h0M1182.1 1339h0M1208.8 1333.3h0M1189.1 1329.8h0M1266.4 1337.7h0M1227.7 1330h0M1250.8 1354.7h0M1189.3 1348.8h0M1231.4 1330h0M1276 1322.3h0M1227.8 1340.7h0M1216.8 1326h0M1211.7 1332.2h0M1205.8 1337.9h0M1213.7 1326.6h0M1183.5 1348.6h0M1215.2 1342.5h0M1204.1 1348.1h0M1187.9 1351.6h0M1210.4 1346.5h0M1199.4 1325.3h0M1223.2 1339.4h0M1175.1 1338.3h0M1207.8 1325.8h0M1217.9 1329h0M1163.3 1320.4h0M1178.5 1338.5h0M1207.5 1357h0M1228.4 1347h0M1161.6 1329.5h0M1225 1342.9h0M1196.3 1341.3h0M1213.4 1344.2h0M1200.1 1333.7h0M1229.6 1341h0M1218.6 1339.7h0M1233.1 1326.8h0M1181 1337h0M1182.5 1347.2h0M1211.7 1339.8h0M1182.6 1341.5h0M1204 1341.3h0M1215.8 1341h0M1239.3 1336.3h0M1215.9 1331.2h0M1227 1321.5h0M1203.8 1342.1h0M1223.1 1333.3h0M1247.9 1341h0M1215.7 1348.2h0M1209.7 1339.2h0M1226.8 1339.3h0M1246.2 1345.8h0M1191.9 1342.7h0M1245.5 1333.4h0M1189.6 1330.1h0M1123.4 1348h0M1171.7 1320.7h0M1277.3 1336.5h0M1163.8 1334.6h0M1247.7 1343.3h0M1216.2 1340.8h0M1164.1 1330.9h0M1172.8 1339.2h0M1153.3 1324.7h0M1190.2 1324.8h0M1229.5 1344.3h0M1175.5 1341.8h0M1176.8 1338.9h0M1158.4 1358h0M1296.3 1357.4h0M1215.4 1329.4h0M1240.9 1324.8h0M1171.7 1336.5h0M1111.3 1340.2h0M1257.9 1327.8h0M1197.1 1326.5h0M1194.9 1345.9h0M1183.1 1352h0M1156.4 1338.3h0M1203.2 1321.7h0M1360.8 1330.9h0M1399.5 1328.8h0M1446.1 1329.5h0M1353.9 1337.4h0M1344.9 1328.7h0M1371.3 1325.9h0M1338.7 1333.8h0M1126.3 1336.2h0M1117.2 1334.9h0M1163.6 1332.7h0M1159.2 1332.1h0M1213.8 1399.3h0M1320.5 1418.1h0M1122 1407.9h0M1118.2 1340.8h0M1145.1 1394.5h0M1328.2 1345.3h0"/>
<path d="M1253.6 1331h0M1246.7 1326.9h0M1222.7 1342.3h0M1194.1 1319.5h0M1211.1 1325h0M1274 1339.4h0M1230.9 1335h0M1199.9 1330.9h0M1204.7 1359.4h0M1214.6 1343.7h0M1162.5 1334.1h0M1203.1 1355.9h0M1248.3 1347.6h0M1236.2 1337.4h0M1224.4 1324.6h0M1211.4 1348.3h0M1209.6 1332.9h0M1257.3 1342.8h0M1187.7 1326.3h0M1208.6 1333.1h0M1218.1 1345.5h0M1203 1347.4h0M1215.9 1348h0M1207 1341.9h0M1170.3 1341.6h0M1200.1 1339.8h0M1197 1354h0M1182.5 1349.7h0M1218.7 1332.8h0M1221.9 1341.9h0M1221.1 1337.7h0M1212.1 1334.1h0M1219.4 1340.2h0M1220 1346h0M1256.1 1325.8h0M1219.3 1338.9h0M1186.8 1341.3h0M1228.7 1351.5h0M1174.1 1333.4h0M1227.4 1334.9h0M1194.3 1341.7h0M1193.7 1338.1h0M1169.8 1338.1h0M1228.5 1332.8h0M1217.8 1339.6h0M1226.4 1338.5h0M1223.4 1334.4h0M1202.3 1339.9h0M1203.2 1331.5h0M1208.3 1324.3h0M1179.1 1343.8h0M1203.8 1322.2h0M1221.4 1336h0M1194.6 1350.5h0M1194.9 1325.3h0M1212.9 1348.8h0M1237 1346.5h0M1203.8 1349.7h0M1227.4 1324.8h0M1217.8 1327.7h0M1255.5 1340.6h0M1221.7 1345.9h0M1218.9 1344.7h0M1237.9 1333.3h0M1200.5 1322.9h0M1164.9 1340.1h0M1195.4 1337.2h0M1249.9 1351h0M1221.9 1338.7h0M1212.7 1349.1h0M1234.4 1329.3h0M1203.7 1347.2h0M1216.5 1326h0M1179.3 1357.1h0M1240.1 1342.9h0M1263.8 1319.8h0M1216.8 1316.7h0M1238.1 1343.5h0M1264.5 1335.3h0M1237.2 1344.6h0M1217.8 1340.1h0M1234.1 1337.6h0M1242.7 1336.3h0M1220.9 1336.2h0M1167.2 1334.8h0M1216.8 1325.3h0M1228.6 1336.3h0M1187.5 1347.7h0M1206 1338.4h0M1192 1345.3h0M1209.7 1333.3h0M1205.6 1346.7h0M1225.2 1331.2h0M1240.6 1329.1h0M1217.6 1336.7h0M1191.4 1326.9h0M1236.9 1340.7h0M1227.6 1351.2h0M1199.7 1326h0M1170.8 1331.5h0M1276.9 1324.2h0M1182 1347.9h0M1201 1312.3h0M1217.3 1334.4h0M1199.4 1334.3h0M1135.1 1341.1h0M1134.7 1339.2h0M1221.5 1324h0M1322.2 1316.9h0M1259 1319.9h0M1225.7 1337.3h0M1238.9 1323.5h0M1176.8 1324.5h0M1207.7 1339.3h0M1226.4 1349.7h0M1239.6 1322.8h0M1266.6 1334.7h0M1272.9 1339.7h0M1210.2 1343.7h0M1224.8 1328.8h0M1212.9 1325.8h0M1180.8 1335h0M1310.4 1331.5h0M1371 1331h0M1426.6 1327.2h0M1296.3 1334.3h0M1343.5 1331h0M1300.2 1336h0M1455 1326.8h0M1131.6 1341.8h0M1109.5 1333.9h0M1133.1 1337.6h0M1156 1336.3h0M1376.4 1372.3h0M1324.9 1404.5h0M1378.7 1352.7h0M1278.6 1324.6h0M1385.3 1401.4h0M1456.8 1380.2h0"/>
<path d="M1205.1 1332.1h0M1266.4 1337.3h0M1205.9 1336.5h0M1240.8 1337.5h0M1203.9 1358.5h0M1213.9 1334.2h0M1192 1330.5h0M1164.9 1340.5h0M1233.4 1340.6h0M1193.8 1347.1h0M1194.6 1331.2h0M1232.1 1335h0M1209.5 1327.7h0M1196.8 1338.7h0M1153.5 1335.8h0M1249.9 1344.2h0M1187.1 1330.3h0M1211.1 1339.8h0M1225.5 1334.1h0M1239.5 1341.1h0M1242.9 1335.4h0M1198.7 1323.3h0M1229.3 1354.3h0M1239.4 1347.3h0M1196.1 1339.3h0M1188.3 1332.9h0M1225.6 1334.8h0M1216.8 1325.8h0M1211.1 1343h0M1211.5 1337.4h0M1226.8 1346.9h0M1227.7 1326.8h0M1219.5 1339h0M1236.1 1340.8h0M1232.6 1323.4h0M1184.3 1352.7h0M1215.3 1333.8h0M1182.5 1334.4h0M1212.4 1335.3h0M1193.5 1339.1h0M1187.2 1341.4h0M1196.7 1347h0M1220 1333.2h0M1190.7 1343.9h0M1196 1330.5h0M1248.9 1326.9h0M1233.8 1335.6h0M1196.5 1341.6h0M1207.7 1332h0M1220 1339.3h0M1222.3 1341h0M1216.1 1333.3h0M1219.5 1345.6h0M1250.7 1353.6h0M1223.2 1346.9h0M1221.8 1329.3h0M1258.5 1336.5h0M1196.8 1341.7h0M1174.5 1349.5h0M1213.1 1329h0M1213.9 1355.2h0M1214.4 1335.3h0M1232.7 1335.6h0M1194.4 1344.7h0M1214.3 1344.1h0M1216.5 1329.5h0M1182.7 1320.4h0M1207.8 1330.9h0M1247.1 1341.7h0M1235.6 1340.1h0M1201.1 1340.3h0M1238 1349.9h0M1222 1341.6h0M1181.2 1319.3h0M1182.8 1345.7h0M1195.7 1348.5h0M1211.9 1348h0M1211.1 1351.1h0M1242.7 1332.2h0M1173.9 1327.3h0M1208.3 1327.8h0M1223.9 1329h0M1199 1326.5h0M1199.2 1343.7h0M1200.1 1336.8h0M1221.4 1337.3h0M1213.3 1325.6h0M1188 1338.3h0M1208.3 1336.8h0M1158.2 1331.2h0M1198.8 1330.4h0M1203 1325.9h0M1198.6 1345.4h0M1266.4 1335.7h0M1292.7 1345.2h0M1162.5 1330.2h0M1189.7 1333.3h0M1141.5 1346.7h0M1240.1 1343.8h0M1214.4 1330.5h0M1256.8 1352.8h0M1194 1352.2h0M1169.8 1335h0M1228.6 1342h0M1164.6 1315.5h0M1190.5 1322h0M1200.3 1337.7h0M1248.7 1326.5h0M1196.2 1328.2h0M1265.8 1323.8h0M1254.8 1346.5h0M1205.4 1319.9h0M1156.3 1342.1h0M1230.8 1347.7h0M1182.9 1345.8h0M1179.6 1345.2h0M1280.8 1348.4h0M1214.3 1339.3h0M1217.4 1335.7h0M1132 1347.4h0M1149.6 1345.6h0M1175.5 1341.3h0M1421.9 1328.9h0M1405.7 1330.3h0M1287 1339.1h0M1367.7 1335.7h0M1276.8 1341.4h0M1376.4 1336.2h0M1297 1338.7h0M1153.9 1347.7h0M1148.1 1336h0M1139.8 1331.3h0M1144.5 1335.2h0M1400.2 1374.1h0M1327.5 1401h0M1391.1 1341.5h0M1226.1 1365.4h0M1344.2 1370.5h0M1392.4 1310.2h0"/>
<path d="M1230.1 1335.8h0M1223.3 1329.1h0M1200 1341h0M1216.3 1335.7h0M1208.6 1325.2h0M1238.5 1355.3h0M1246 1336.7h0M1219 1334h0M1194.3 1344.2h0M1171.8 1345.9h0M1221.4 1344.4h0M1234.9 1334h0M1229.5 1341.2h0M1243.1 1338h0M1193.3 1337.5h0M1218.6 1330.2h0M1231.6 1349.2h0M1235.1 1351.8h0M1241.1 1342.1h0M1195.3 1337.7h0M1239.4 1346.9h0M1271 1324.4h0M1207.8 1354.3h0M1205.5 1320h0M1183.3 1341.9h0M1239.8 1330.9h0M1167.8 1348.3h0M1177 1323.6h0M1248.7 1341.9h0M1247.2 1340.9h0M1222.3 1340.9h0M1202.8 1339h0M1215 1331.4h0M1218 1341.7h0M1219.4 1343.7h0M1214.9 1339.7h0M1209.4 1343.4h0M1188.7 1319.8h0M1191.9 1345.1h0M1196 1341.4h0M1193.5 1348.2h0M1255.6 1351.4h0M1186.8 1342h0M1207.8 1336.8h0M1198.9 1343.6h0M1194.7 1332.3h0M1207.8 1330.8h0M1199.1 1349.8h0M1227.4 1337.9h0M1232 1336.9h0M1222.2 1348.3h0M1192.1 1339.3h0M1224.3 1340.2h0M1211 1338.3h0M1179.2 1334.4h0M1196.8 1349.9h0M1209 1344h0M1230.7 1349.4h0M1194.3 1337.1h0M1196.1 1331h0M1234.3 1354.5h0M1190.8 1337.5h0M1261.9 1344h0M1186.5 1345.8h0M1215.7 1335.3h0M1221.7 1340.2h0M1251.2 1339.9h0M1277 1329.3h0M1186.9 1339.4h0M1231.3 1335.2h0M1201.8 1345.6h0M1196.8 1343.1h0M1243 1337h0M1189.4 1327.9h0M1212.6 1327.3h0M1251.4 1339h0M1215.3 1336.3h0M1219.6 1334.7h0M1249.1 1344.4h0M1194.7 1336.2h0M1212.4 1331.6h0M1238.2 1342.4h0M1201.3 1334.4h0M1201.8 1337.6h0M1190.8 1325.7h0M1215.2 1339h0M1202.8 1325.3h0M1216.4 1336.4h0M1237 1331.1h0M1241.5 1347.9h0M1174.5 1351.2h0M1217 1342.3h0M1239.5 1344.4h0M1223.1 1344.4h0M1217.1 1344.6h0M1135.6 1335.2h0M1158.1 1333.7h0M1220.5 1340.6h0M1194.7 1340.1h0M1241.7 1356.2h0M1259.9 1344.2h0M1231.4 1342.4h0M1235.7 1345.9h0M1148.3 1324.6h0M1202.3 1328.4h0M1215.1 1347.8h0M1175.7 1346.5h0M1218.3 1348.3h0M1297.3 1325.9h0M1176.1 1343.3h0M1224.9 1339.7h0M1272.4 1345.4h0M1134.6 1336.6h0M1232 1340.8h0M1231.9 1330.1h0M1222.4 1338.3h0M1253.5 1339.3h0M1201.9 1345.3h0M1209.1 1348.9h0M1227.9 1349.6h0M1245.6 1324.5h0M1154.7 1346.2h0M1311.3 1337.3h0M1288.3 1330.1h0M1385.5 1330h0M1399.3 1332.4h0M1354 1323h0M1271.7 1331.7h0M1382.1 1336.7h0M1128.9 1332.2h0M1158.3 1333.7h0M1121.8 1326.8h0M1157.9 1330.4h0M1195.6 1381.9h0M1216.6 1332.9h0M1421 1363.9h0M1318.6 1355.6h0M1122.3 1301.3h0M1145 1309.1h0"/>
<path d="M1206.6 1342.1h0M1236.9 1355.4h0M1192.8 1340.3h0M1221.1 1332.2h0M1172 1345.5h0M1184.2 1341h0M1219.8 1333.1h0M1177.5 1337.4h0M1211 1355.7h0M1201 1334.3h0M1212.6 1338h0M1184.4 1341h0M1220 1326.5h0M1206 1332.1h0M1221.6 1331.5h0M1230 1333.9h0M1153.5 1349.1h0M1211.3 1348h0M1234.6 1328.7h0M1203.4 1339h0M1217.2 1332.6h0M1213 1336.2h0M1194.8 1342h0M1230.6 1330.7h0M1185.2 1336.8h0M1226.8 1339h0M1220.2 1335.3h0M1232.1 1341.8h0M1229.9 1327.2h0M1242.7 1339.6h0M1200.4 1336.7h0M1212.1 1327.8h0M1226.9 1346h0M1210.1 1332.1h0M1200.6 1338.2h0M1208.9 1341.5h0M1239.4 1339.3h0M1193.7 1346.1h0M1240.1 1338.8h0M1195.3 1340h0M1239.3 1329h0M1212.6 1337.8h0M1221.8 1354h0M1214.4 1328.6h0M1185.9 1346.4h0M1218.9 1334.5h0M1242.6 1338.9h0M1230.4 1344h0M1212.5 1333.8h0M1195.5 1334h0M1200 1330.7h0M1240.2 1331.4h0M1237.1 1342.5h0M1203.2 1345.8h0M1214.1 1332.5h0M1223.2 1337.5h0M1214.7 1340.8h0M1218.2 1346.6h0M1187.9 1344.9h0M1205.7 1337.8h0M1204.8 1324.7h0M1215.2 1337.8h0M1206.1 1332.7h0M1178.3 1348.8h0M1255.9 1328.4h0M1218.1 1340.4h0M1220.6 1338.4h0M1238.3 1340.5h0M1236 1332.8h0M1199.5 1327.4h0M1239.8 1327.4h0M1237.1 1340.8h0M1278.5 1339.2h0M1207.5 1330.8h0M1241.5 1349.4h0M1195.2 1343.2h0M1231.4 1334.3h0M1206.9 1324.7h0M1226.1 1335.5h0M1238.7 1356.2h0M1206.1 1348.8h0M1229.3 1327.5h0M1205.9 1338.6h0M1181.9 1334.7h0M1236.8 1348.4h0M1236.1 1332.5h0M1226 1331.6h0M1211.6 1327.7h0M1177.4 1336.5h0M1214.7 1331.5h0M1168.2 1341.2h0M1216.7 1337.8h0M1138.1 1350.5h0M1150.7 1337.7h0M1288.9 1330.5h0M1214.3 1357.6h0M1228.5 1333h0M1144.4 1340.8h0M1121.4 1357.4h0M1214.6 1332.7h0M1181.6 1334.6h0M1245.5 1329.9h0M1213.4 1337.4h0M1242.4 1333.8h0M1211.4 1348.1h0M1222.1 1369.1h0M1248.9 1355.3h0M1198 1337.6h0M1204.7 1336.1h0M1283.2 1323.8h0M1319.3 1341.1h0M1185.9 1331.4h0M1136.3 1331.3h0M1194.3 1328.5h0M1198 1345.1h0M1175.5 1349h0M1212.9 1351.6h0M1188.8 1347.7h0M1255.1 1337.3h0M1147.2 1347h0M1227.5 1344.4h0M1228.3 1346.1h0M1384.2 1332.4h0M1352.6 1328.9h0M1449.2 1331.6h0M1296.1 1332.9h0M1378.8 1332.9h0M1294.7 1337.1h0M1111 1342h0M1110.8 1334.9h0M1163.6 1331.5h0M1119 1337.8h0M1147.9 1334.2h0M1277.3 1411h0M1437.6 1329.8h0M1161.2 1338.6h0M1442.7 1355.4h0M1352.3 1332.4h0M1276.2 1409.6h0"/>
<path d="M1177.7 1330.2h0M1270.5 1342.8h0M1194.8 1341.6h0M1196 1348.5h0M1174.3 1333.7h0M1211.8 1338.4h0M1221.7 1329h0M1219.7 1345.1h0M1207.2 1352.7h0M1187.9 1353.1h0M1200.7 1344h0M1203 1327.5h0M1231.6 1346.9h0M1183.6 1348.2h0M1182.4 1343.6h0M1189 1346.9h0M1210.5 1332.4h0M1204.2 1335.1h0M1235.2 1329.3h0M1229 1331.1h0M1237.6 1348.8h0M1220.3 1320.5h0M1209.2 1333.5h0M1234 1344.1h0M1189.6 1344.4h0M1190.3 1325.7h0M1224.5 1330.6h0M1241.2 1341.2h0M1236 1337.9h0M1226.7 1329.8h0M1218.1 1337.2h0M1162.2 1334.4h0M1208.2 1337.8h0M1236.5 1325.6h0M1249 1345h0M1203.2 1337.6h0M1182.7 1339.7h0M1228.5 1346.2h0M1205.3 1342.2h0M1225.7 1344.3h0M1161.1 1356.6h0M1165.9 1341.7h0M1184.8 1327.2h0M1254.4 1345h0M1241 1336.2h0M1235.1 1357.5h0M1189 1342.6h0M1182 1349.4h0M1195.7 1334.7h0M1135.1 1337.1h0M1216.8 1350.2h0M1246.8 1334.8h0M1212.4 1332.7h0M1210.9 1339.9h0M1220 1334.3h0M1220.6 1335.6h0M1233 1336.9h0M1224.5 1346.2h0M1184.2 1342.8h0M1181 1335.6h0M1199.7 1339h0M1197.3 1330.5h0M1253.1 1344.7h0M1166.8 1330.7h0M1224 1336.7h0M1244.5 1322.1h0M1177.9 1349.7h0M1190.9 1343.5h0M1225.2 1322.2h0M1197.6 1343.1h0M1217.7 1338.2h0M1209.2 1333.6h0M1186.6 1329.5h0M1239.6 1348.8h0M1218.3 1335.6h0M1219.8 1345.7h0M1226.4 1342.1h0M1240.4 1334.7h0M1219.5 1345.2h0M1233.4 1339.5h0M1196.2 1341.2h0M1192.1 1340.4h0M1200.9 1327.5h0M1220.6 1322.5h0M1251.6 1350.5h0M1210.1 1337.5h0M1195.6 1338.5h0M1215.9 1328.7h0M1197.1 1328.4h0M1223.6 1335.3h0M1245.8 1306.8h0M1214.2 1328.4h0M1141.2 1340.9h0M1182.9 1361.1h0M1190.4 1360.7h0M1199.7 1334h0M1248.5 1332h0M1244 1331h0M1183.9 1340.9h0M1301.3 1343.6h0M1227.8 1332.9h0M1180.1 1325.7h0M1209.2 1338.2h0M1181.3 1339.9h0M1175.3 1345.6h0M1307.9 1328.3h0M1242.1 1343.4h0M1231.6 1336.7h0M1229 1338.4h0M1217.3 1339.7h0M1156.3 1329.2h0M1163.4 1340.5h0M1146.7 1335.8h0M1219.1 1342.7h0M1254.4 1338.8h0M1193.8 1342.1h0M1139.4 1343.3h0M1238.1 1337.9h0M1188.2 1315.5h0M1285.9 1352.5h0M1267.6 1350.3h0M1230.6 1341.1h0M1278 1331.6h0M1424.1 1330.6h0M1421 1330.5h0M1438.2 1333.9h0M1362.6 1334.2h0M1406.5 1333.7h0M1122.9 1334.6h0M1106.6 1337.8h0M1155.2 1335.1h0M1162.3 1337.3h0M1151.8 1331.9h0M1103.1 1326.2h0M1455.9 1331.2h0M1307.9 1369.5h0M1185.2 1318.7h0M1171.1 1354.7h0M1258.3 1313.2h0"/>
<path d="M1200.6 1323.3h0M1202.7 1333.4h0M1179.2 1339.5h0M1183.6 1337.4h0M1221.9 1336.4h0M1230.9 1341h0M1216.8 1326.4h0M1229.6 1318.4h0M1177.8 1333.1h0M1237.8 1338.9h0M1194.7 1327.9h0M1234.2 1336.4h0M1187.2 1349.2h0M1193.3 1341.7h0M1200.1 1335.9h0M1236.7 1333.2h0M1247.8 1346.2h0M1181.4 1346.4h0M1213.6 1335.1h0M1216.8 1351.7h0M1195.3 1353h0M1242.9 1351.7h0M1208.4 1344.1h0M1256.4 1320.6h0M1187.1 1328h0M1180.8 1338.4h0M1207.4 1336.6h0M1218.6 1348.3h0M1245.2 1352.6h0M1271.4 1343.6h0M1183.8 1346.8h0M1181.5 1336h0M1209 1338.1h0M1208.3 1339.9h0M1163 1331h0M1243.6 1353.2h0M1206.2 1339.4h0M1220.8 1340.3h0M1208.7 1343.6h0M1193.9 1328.7h0M1229.8 1344.7h0M1195.2 1356.5h0M1234.6 1341.2h0M1175.4 1336.5h0M1196.7 1353.4h0M1217.6 1350h0M1217.5 1343.1h0M1218.8 1338.3h0M1215.8 1331.9h0M1241.4 1347.7h0M1239.5 1337.8h0M1189.6 1330.2h0M1225.1 1336.1h0M1189.7 1349.9h0M1245.1 1337.6h0M1204.9 1333.7h0M1225.2 1319.4h0M1200.1 1348.7h0M1211.9 1335.8h0M1234.6 1338.5h0M1206.1 1341.7h0M1234.8 1336.4h0M1215.4 1338.7h0M1170.5 1346h0M1247.1 1344.7h0M1225.1 1337.5h0M1230.8 1334.3h0M1203.2 1323.8h0M1224.7 1335.4h0M1195.2 1348.4h0M1251.8 1333.3h0M1242.1 1335.8h0M1228.9 1342.6h0M1223.5 1337.8h0M1219.7 1326.3h0M1179.4 1336.4h0M1237.2 1335.8h0M1226.1 1331.1h0M1199.7 1344.2h0M1204.5 1328.4h0M1252.8 1341.6h0M1227.9 1343.7h0M1200.3 1343.3h0M1230.6 1346.8h0M1211.1 1334.7h0M1203.5 1348.7h0M1252.5 1335h0M1192.4 1338.9h0M1191.3 1337.2h0M1219.8 1340.9h0M1203.4 1338.1h0M1245.4 1333.9h0M1182.7 1345.2h0M1230.6 1335h0M1168.4 1360.2h0M1221.6 1360.1h0M1171.3 1337.7h0M1246.3 1346.2h0M1215.2 1329.7h0M1186.3 1339.5h0M1172.7 1327.4h0M1166.4 1326.8h0M1260 1341.2h0M1204.7 1322.7h0M1247.3 1331.1h0M1164.3 1339.5h0M1192.7 1336.4h0M1199 1347.4h0M1196.5 1338.1h0M1177.8 1345h0M1212.5 1350.7h0M1189.5 1350.2h0M1161.7 1345.6h0M1219.9 1333.7h0M1168.1 1342.7h0M1252.7 1345.1h0M1171.5 1340.6h0M1224.8 1330.7h0M1211.7 1341.8h0M1144.6 1350.1h0M1213 1322.1h0M1338.3 1339.6h0M1305 1337.1h0M1423.4 1328.1h0M1378.5 1326.8h0M1282.5 1337h0M1425.4 1328.1h0M1281.5 1334.1h0M1136.8 1328.7h0M1149.6 1332.5h0M1157.2 1334.8h0M1137.2 1335.8h0M1157.4 1330.7h0M1252.6 1322.3h0M1220.2 1370.6h0M1116.3 1357.7h0M1140.7 1386.4h0M1382.4 1400.5h0M1171.8 1400.4h0"/>
<path d="M1203.7 1326.6h0M1233.2 1349.3h0M1188.2 1342.8h0M1203.7 1345.4h0M1230.8 1339.8h0M1231.1 1344h0M1229.8 1344.4h0M1207.2 1329.7h0M1229.3 1331h0M1199.9 1339h0M1230.6 1341.8h0M1220.8 1335.1h0M1231.7 1341h0M1204.7 1348.1h0M1224.7 1358h0M1265.7 1351h0M1191.6 1334.8h0M1234.4 1342.5h0M1214.7 1335.3h0M1151.7 1329.7h0M1221.6 1332.8h0M1231.3 1331.5h0M1239.7 1337.5h0M1196.8 1341.3h0M1218.5 1348.1h0M1213.2 1345.1h0M1261.7 1335.9h0M1243.3 1334.1h0M1197.5 1330.2h0M1232.1 1335.2h0M1198.7 1330.8h0M1204.3 1333.4h0M1223.1 1343h0M1211.5 1338.3h0M1214.6 1334.5h0M1235.2 1353.9h0M1253.3 1330.2h0M1212.9 1362.6h0M1192.2 1340.1h0M1235.3 1335.8h0M1212.3 1327.7h0M1209.2 1337.8h0M1183.2 1345.1h0M1196.3 1343.6h0M1197.6 1344.9h0M1197.1 1342.7h0M1221.5 1329.7h0M1197.1 1320.2h0M1211.3 1339.4h0M1205.5 1335.9h0M1257.5 1336.8h0M1249.9 1334.2h0M1215 1340.2h0M1213.3 1328h0M1209.4 1329.9h0M1195 1337.8h0M1236.2 1346h0M1214.3 1329h0M1181.4 1341.6h0M1231.4 1338.9h0M1221.6 1341.8h0M1256.9 1346.6h0M1179.6 1336.2h0M1228.6 1331.3h0M1176.5 1320.3h0M1212.6 1325.9h0M1244.1 1339h0M1230.2 1333.9h0M1203 1335.9h0M1214.8 1344h0M1252.7 1336.7h0M1214.6 1328h0M1221.8 1338.1h0M1180 1333h0M1200.6 1343.4h0M1253.4 1340.6h0M1208.1 1337.8h0M1175 1342h0M1219.2 1328.7h0M1232.4 1348.1h0M1201.1 1339.6h0M1204 1334.6h0M1193.1 1344.4h0M1216.3 1331.4h0M1172.4 1343.5h0M1260.4 1338.2h0M1194.2 1344.8h0M1247 1332.5h0M1212.9 1326.8h0M1214.6 1333.7h0M1220.2 1330.3h0M1207.4 1331h0M1188.4 1334.1h0M1265.6 1326.2h0M1198.5 1336.8h0M1232 1341.9h0M1274.3 1335.7h0M1196.7 1339.5h0M1192.5 1356.1h0M1282 1350.6h0M1094.1 1332.3h0M1217.8 1354.3h0M1248.8 1321.6h0M1206.1 1345.3h0M1177.3 1345.5h0M1258.8 1331.6h0M1129.2 1346.2h0M1215.6 1329.2h0M1126.2 1334.4h0M1189.4 1335.3h0M1285.2 1350h0M1295.4 1325h0M1177.1 1352.1h0M1202.7 1330.7h0M1249.4 1346.9h0M1279.6 1336.7h0M1192.8 1327.8h0M1200.4 1346.1h0M1181.2 1334.4h0M1156.3 1341.2h0M1138.8 1344.4h0M1349.2 1329.5h0M1391.2 1331.9h0M1437 1325.8h0M1392.2 1323h0M1427.7 1330.9h0M1373.5 1334.1h0M1335.3 1340h0M1141.8 1331.8h0M1131.7 1335.4h0M1160.2 1336.9h0M1137.1 1334.5h0M1138.1 1328.7h0M1107.4 1316.9h0M1299.4 1350.4h0M1393.9 1348.1h0M1391.5 1397.5h0M1244.8 1398.8h0M1175.4 1337.5h0"/>
</g>
</g></g>
<text transform="matrix(0.2195 0 0 0.2195 847.40 1151.55)" font-size="100" fill="#1c1c1c">1</text>
<text transform="matrix(0.2195 0 0 0.2195 819.99 1241.15)" font-size="100" fill="#1c1c1c">0.8</text>
<text transform="matrix(0.2195 0 0 0.2195 820.00 1329.55)" font-size="100" fill="#1c1c1c">0.6</text>
<text transform="matrix(0.2195 0 0 0.2195 820.04 1417.55)" font-size="100" fill="#1c1c1c">0.4</text>
<text transform="matrix(0.2195 0 0 0.2195 820.27 1505.05)" font-size="100" fill="#1c1c1c">0.2</text>
<text transform="matrix(0.2195 0 0 0.2195 840.30 1595.55)" font-size="100" fill="#1c1c1c">0</text>
<text transform="matrix(0.2224 0 0 0.2224 874.85 1607.25)" font-size="100" fill="#1c1c1c">0.1</text>
<text transform="matrix(0.2224 0 0 0.2224 1130.81 1607.25)" font-size="100" fill="#1c1c1c">1</text>
<text transform="matrix(0.2224 0 0 0.2224 1369.22 1607.25)" font-size="100" fill="#1c1c1c">10</text>
<text transform="matrix(0.1308 0 0 0.1308 961.36 1602.30)" font-size="100" fill="#1c1c1c">2</text>
<text transform="matrix(0.1308 0 0 0.1308 1058.18 1602.30)" font-size="100" fill="#1c1c1c">5</text>
<text transform="matrix(0.1308 0 0 0.1308 1207.76 1602.30)" font-size="100" fill="#1c1c1c">2</text>
<text transform="matrix(0.1308 0 0 0.1308 1304.68 1602.30)" font-size="100" fill="#1c1c1c">5</text>
<text transform="matrix(0.1308 0 0 0.1308 1453.86 1602.30)" font-size="100" fill="#1c1c1c">2</text>
<text transform="matrix(0.2374 0 0 0.2529 1042.45 1638.00)" font-size="100" fill="#1c1c1c">Pulse Duration (s)</text>
<g transform="translate(791.9 1427.3) rotate(-90)">
<text transform="matrix(0.2326 0 0 0.2616 -1.91 0.00)" font-size="100" fill="#1c1c1c">Bin</text>
<text transform="matrix(0.2321 0 0 0.2616 34.50 0.00)" font-size="100" fill="#1c1c1c">Ratio</text>
</g>
<text transform="matrix(0.2446 0 0 0.3021 1199.73 1248.39)" font-size="100" fill="#7d5578" font-weight="700" stroke="#7d5578" stroke-width="2.04" stroke-linejoin="miter">Y</text>
<text transform="matrix(0.2346 0 0 0.2511 1185.99 1279.51)" font-size="100" fill="#735b73" stroke="#735b73" stroke-width="1.49" stroke-linejoin="miter">1.93</text>
<line x1="1212" y1="1316.5" x2="1212" y2="1382.5" stroke="#6f4f6f" stroke-width="1.9" stroke-dasharray="4.6 3.4"/>
</g>
</svg>
</body></html>
